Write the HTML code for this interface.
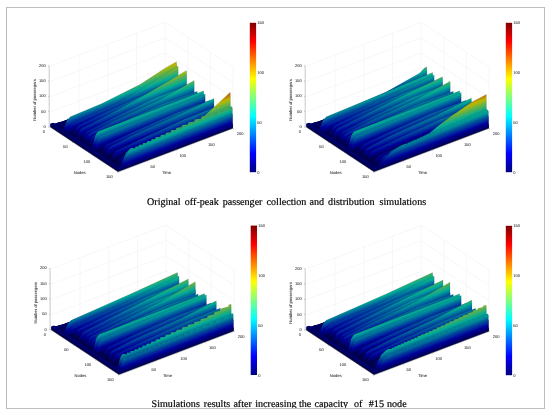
<!DOCTYPE html>
<html><head><meta charset="utf-8"><title>Figure</title>
<style>
html,body{margin:0;padding:0;background:#fff;}
body{width:550px;height:415px;overflow:hidden;position:relative;}
svg{position:absolute;left:0;top:0;display:block;}
.tk{font-family:"Liberation Sans",Arial,sans-serif;font-size:4px;fill:#303030;text-rendering:geometricPrecision;stroke:#303030;stroke-width:0.06px;}
.cap{font-family:"Liberation Serif","Times New Roman",serif;fill:#000;text-rendering:geometricPrecision;stroke:#000;stroke-width:0.18px;}
</style></head><body>
<svg width="550" height="415" viewBox="0 0 550 415">
<defs>
<linearGradient id="jet" gradientUnits="userSpaceOnUse" x1="0" y1="0" x2="-14.62" y2="-38.52"><stop offset="0%" stop-color="#00004c"/><stop offset="6.2%" stop-color="#000073"/><stop offset="12.5%" stop-color="#00009b"/><stop offset="18.8%" stop-color="#00289e"/><stop offset="25%" stop-color="#00519d"/><stop offset="31.2%" stop-color="#007d9b"/><stop offset="37.5%" stop-color="#00aa98"/><stop offset="43.8%" stop-color="#2bae73"/><stop offset="50%" stop-color="#59b14e"/><stop offset="56.2%" stop-color="#88b528"/><stop offset="62.5%" stop-color="#b9b900"/><stop offset="75%" stop-color="#bf6000"/><stop offset="87.5%" stop-color="#c20000"/><stop offset="100%" stop-color="#610000"/></linearGradient>
<linearGradient id="cb" x1="0" y1="0" x2="0" y2="1"><stop offset="0%" stop-color="#800000"/><stop offset="12.5%" stop-color="#ff0000"/><stop offset="37.5%" stop-color="#ffff00"/><stop offset="62.5%" stop-color="#00ffff"/><stop offset="87.5%" stop-color="#0000ff"/><stop offset="100%" stop-color="#000080"/></linearGradient>
<clipPath id="frame"><rect x="0" y="0" width="550" height="409"/></clipPath>
</defs>
<rect x="0" y="0" width="550" height="415" fill="#fff"/>

<g><line x1="50.4" y1="127.2" x2="165.3" y2="83.6" stroke="#eeeeee" stroke-width="0.5"/>
<line x1="165.3" y1="83.6" x2="233" y2="128.3" stroke="#eeeeee" stroke-width="0.5"/>
<line x1="50.4" y1="111.9" x2="165.3" y2="68.3" stroke="#eeeeee" stroke-width="0.5"/>
<line x1="165.3" y1="68.3" x2="233" y2="113" stroke="#eeeeee" stroke-width="0.5"/>
<line x1="50.4" y1="96.6" x2="165.3" y2="53" stroke="#eeeeee" stroke-width="0.5"/>
<line x1="165.3" y1="53" x2="233" y2="97.7" stroke="#eeeeee" stroke-width="0.5"/>
<line x1="50.4" y1="81.3" x2="165.3" y2="37.7" stroke="#eeeeee" stroke-width="0.5"/>
<line x1="165.3" y1="37.7" x2="233" y2="82.4" stroke="#eeeeee" stroke-width="0.5"/>
<line x1="50.4" y1="66" x2="165.3" y2="22.4" stroke="#eeeeee" stroke-width="0.5"/>
<line x1="165.3" y1="22.4" x2="233" y2="67.1" stroke="#eeeeee" stroke-width="0.5"/>
<line x1="79.1" y1="116.3" x2="79.1" y2="55.1" stroke="#eeeeee" stroke-width="0.5"/>
<line x1="107.8" y1="105.4" x2="107.8" y2="44.2" stroke="#eeeeee" stroke-width="0.5"/>
<line x1="136.6" y1="94.5" x2="136.6" y2="33.3" stroke="#eeeeee" stroke-width="0.5"/>
<line x1="165.3" y1="83.6" x2="165.3" y2="22.4" stroke="#eeeeee" stroke-width="0.5"/>
<line x1="187.9" y1="98.5" x2="187.9" y2="37.3" stroke="#eeeeee" stroke-width="0.5"/>
<line x1="210.4" y1="113.4" x2="210.4" y2="52.2" stroke="#eeeeee" stroke-width="0.5"/>
<line x1="233" y1="128.3" x2="233" y2="67.1" stroke="#eeeeee" stroke-width="0.5"/>
<line x1="79.1" y1="116.3" x2="146.8" y2="161" stroke="#eeeeee" stroke-width="0.5"/>
<line x1="107.8" y1="105.4" x2="175.6" y2="150.1" stroke="#eeeeee" stroke-width="0.5"/>
<line x1="136.6" y1="94.5" x2="204.3" y2="139.2" stroke="#eeeeee" stroke-width="0.5"/>
<line x1="165.3" y1="83.6" x2="233" y2="128.3" stroke="#eeeeee" stroke-width="0.5"/>
<line x1="73" y1="142.1" x2="187.9" y2="98.5" stroke="#eeeeee" stroke-width="0.5"/>
<line x1="95.5" y1="157" x2="210.4" y2="113.4" stroke="#eeeeee" stroke-width="0.5"/>
<line x1="118.1" y1="171.9" x2="233" y2="128.3" stroke="#eeeeee" stroke-width="0.5"/></g>
<g fill="url(#jet)" stroke="#000820" stroke-opacity="0.35" stroke-width="0.25" stroke-linejoin="round">
<polygon transform="translate(50.4 127.2)" points="0,0 0,-3.4 2.3,-4.2 2.9,-4.2 4.6,-3.1 11.5,-5.4 114.9,-44.6 114.9,-43.6"/>
<polygon transform="translate(50.6 127.3)" points="0,0 0,-3.4 2.3,-4.2 2.9,-4.2 4,-3.4 4.6,-3.4 6.9,-4.3 11.5,-5.6 114.9,-44.8 114.9,-43.6"/>
<polygon transform="translate(50.9 127.5)" points="0,0 0,-3.4 2.3,-4.2 2.9,-4.2 4,-3.5 6.9,-4.6 11.5,-5.8 114.9,-45 114.9,-43.6"/>
<polygon transform="translate(51.1 127.6)" points="0,0 0,-3.4 2.3,-4.2 4,-3.7 6.9,-4.8 11.5,-5.9 114.9,-45.2 114.9,-43.6"/>
<polygon transform="translate(51.3 127.8)" points="0,0 0,-3.4 2.3,-4.2 2.9,-4.2 3.4,-3.8 4,-3.9 6.9,-5 11.5,-6.1 114.9,-45.3 114.9,-43.6"/>
<polygon transform="translate(51.5 127.9)" points="0,0 0,-3.4 2.3,-4.2 3.4,-3.9 6.9,-5.2 11.5,-6.2 114.9,-45.5 114.9,-43.6"/>
<polygon transform="translate(51.8 128.1)" points="0,0 0,-3.4 2.3,-4.2 3.4,-4.1 6.9,-5.4 11.5,-6.4 114.9,-45.6 114.9,-43.6"/>
<polygon transform="translate(52 128.2)" points="0,0 0,-3.4 2.3,-4.2 3.4,-4.2 6.9,-5.5 11.5,-6.5 114.9,-45.7 114.9,-43.6"/>
<polygon transform="translate(52.2 128.4)" points="0,0 0,-3.4 2.3,-4.2 2.9,-4.2 6.9,-5.7 11.5,-6.6 114.9,-45.8 114.9,-43.6"/>
<polygon transform="translate(52.4 128.5)" points="0,0 0,-3.4 6.9,-5.8 11.5,-6.7 114.9,-45.9 114.9,-43.6"/>
<polygon transform="translate(52.7 128.7)" points="0,0 0,-3.4 6.9,-6 11.5,-6.8 114.9,-46 114.9,-43.6"/>
<polygon transform="translate(52.9 128.8)" points="0,0 0,-3.4 6.9,-5.9 11.5,-6.7 114.9,-46 114.9,-43.6"/>
<polygon transform="translate(53.1 129)" points="0,0 0,-3.4 6.9,-5.8 11.5,-6.6 114.9,-45.9 114.9,-43.6"/>
<polygon transform="translate(53.3 129.1)" points="0,0 0,-3.4 2.3,-4.2 2.9,-4.2 3.4,-4.3 6.9,-5.7 11.5,-6.6 114.9,-45.8 114.9,-43.6"/>
<polygon transform="translate(53.6 129.3)" points="0,0 0,-3.4 2.3,-4.2 3.4,-4.2 6.9,-5.5 11.5,-6.5 52.3,-22 114.9,-46.2 114.9,-43.6"/>
<polygon transform="translate(53.8 129.4)" points="0,0 0,-3.4 2.3,-4.2 3.4,-4.1 6.9,-5.4 11.5,-6.4 14.9,-7.9 114.9,-46.7 114.9,-43.6"/>
<polygon transform="translate(54 129.6)" points="0,0 0,-3.4 2.3,-4.2 3.4,-4 6.9,-5.3 11.5,-6.3 12.6,-7.1 14.9,-8.3 114.9,-47.3 114.9,-43.6"/>
<polygon transform="translate(54.2 129.7)" points="0,0 0,-3.4 2.3,-4.2 2.9,-4.2 3.4,-3.8 6.9,-5.1 10.9,-6.1 12.1,-7.1 14.9,-8.8 114.9,-48 114.9,-43.6"/>
<polygon transform="translate(54.5 129.9)" points="0,0 0,-3.4 2.3,-4.2 2.9,-4.2 3.4,-3.8 4,-3.9 6.9,-5 10.3,-5.8 12.1,-7.6 14.9,-9.3 114.9,-48.7 114.9,-43.6"/>
<polygon transform="translate(54.7 130)" points="0,0 0,-3.4 2.3,-4.2 4,-3.8 6.9,-4.8 9.8,-5.6 10.3,-6 12.1,-8 14.9,-9.8 114.9,-49.5 114.9,-43.6"/>
<polygon transform="translate(54.9 130.2)" points="0,0 0,-3.4 2.3,-4.2 2.9,-4.2 4,-3.6 6.9,-4.7 9.8,-5.5 12.1,-8.5 14.9,-10.4 114.9,-50.3 114.9,-43.6"/>
<polygon transform="translate(55.1 130.3)" points="0,0 0,-3.4 2.3,-4.2 2.9,-4.2 4,-3.4 9.2,-5.1 12.1,-9 14.9,-11 114.9,-51.1 114.9,-43.6"/>
<polygon transform="translate(55.4 130.5)" points="0,0 0,-3.4 2.3,-4.2 2.9,-4.2 4,-3.4 4.6,-3.4 8.6,-4.8 9.2,-5.1 12.1,-9.5 14.9,-11.6 114.9,-52 114.9,-43.6"/>
<polygon transform="translate(55.6 130.6)" points="0,0 0,-3.4 2.3,-4.2 2.9,-4.2 4.6,-3.2 8.6,-4.6 12.1,-10.1 14.9,-12.3 114.9,-53 114.9,-43.6"/>
<polygon transform="translate(55.8 130.8)" points="0,0 0,-3.4 2.3,-4.2 2.9,-4.2 4.6,-3.1 5.2,-3.2 8.6,-4.4 12.1,-10.7 14.9,-13 114.9,-54 114.9,-43.6"/>
<polygon transform="translate(56 130.9)" points="0,0 0,-3.4 2.3,-4.2 2.9,-4.2 5.2,-2.8 8.6,-4 12.1,-8 14.9,-9.8 114.9,-49.5 114.9,-43.6"/>
<polygon transform="translate(56.3 131.1)" points="0,0 0,-3.4 2.3,-4.2 2.9,-4.2 5.2,-2.7 9.8,-4.5 12.1,-6.1 14.9,-7.5 114.9,-46.2 114.9,-43.6"/>
<polygon transform="translate(56.5 131.2)" points="0,0 0,-3.4 2.3,-4.2 2.9,-4.2 5.2,-2.7 114.9,-44.4 114.9,-43.6"/>
<polygon transform="translate(56.7 131.4)" points="0,0 0,-3.4 2.3,-4.2 2.9,-4.2 5.2,-2.7 114.9,-44.4 114.9,-43.6"/>
<polygon transform="translate(56.9 131.5)" points="0,0 0,-3.4 2.3,-4.2 2.9,-4.2 5.2,-2.7 114.9,-44.4 114.9,-43.6"/>
<polygon transform="translate(57.2 131.7)" points="0,0 0,-3.4 2.3,-4.2 2.9,-4.2 5.2,-2.7 114.9,-44.4 114.9,-43.6"/>
<polygon transform="translate(57.4 131.8)" points="0,0 0,-3.4 2.3,-4.2 2.9,-4.2 5.2,-2.7 54.6,-21.5 114.9,-44.9 114.9,-43.6"/>
<polygon transform="translate(57.6 132)" points="0,0 0,-3.4 2.3,-4.2 2.9,-4.2 5.2,-2.7 8.6,-4.2 78.7,-31.1 114.9,-45.4 114.9,-43.6"/>
<polygon transform="translate(57.8 132.1)" points="0,0 0,-3.4 2.3,-4.2 2.9,-4.2 4.6,-3.1 5.2,-3 8.6,-4.5 78.7,-31.6 114.9,-46.1 114.9,-43.6"/>
<polygon transform="translate(58.1 132.3)" points="0,0 0,-3.4 2.3,-4.2 2.9,-4.2 4.6,-3.1 5.2,-3.3 8.6,-4.9 40.2,-17 78.7,-32.1 114.9,-46.9 114.9,-43.6"/>
<polygon transform="translate(58.3 132.4)" points="0,0 0,-3.4 2.3,-4.2 2.9,-4.2 4.6,-3.2 5.7,-4 8.6,-5.3 40.2,-17.5 78.7,-32.7 114.9,-47.7 114.9,-43.6"/>
<polygon transform="translate(58.5 132.6)" points="0,0 0,-3.4 2.3,-4.2 2.9,-4.2 4,-3.4 4.6,-3.6 5.7,-4.4 8.6,-5.8 40.2,-18 78.7,-33.4 104,-44.2 114.9,-48.7 114.9,-43.6"/>
<polygon transform="translate(58.7 132.7)" points="0,0 0,-3.4 2.3,-4.2 2.9,-4.2 4,-3.4 5.7,-4.9 8.6,-6.4 40.2,-18.6 78.7,-34.2 104,-45.2 114.9,-49.8 114.9,-43.6"/>
<polygon transform="translate(59 132.9)" points="0,0 0,-3.4 2.3,-4.2 2.9,-4.2 3.4,-3.8 4,-3.8 5.7,-5.4 8.6,-6.9 40.2,-19.2 78.7,-35 104,-46.3 114.9,-50.9 114.9,-43.6"/>
<polygon transform="translate(59.2 133)" points="0,0 0,-3.4 2.3,-4.2 2.9,-4.2 3.4,-3.8 5.7,-5.9 8.6,-7.6 40.2,-19.9 78.7,-35.9 104,-47.5 114.9,-52.2 114.9,-43.6"/>
<polygon transform="translate(59.4 133.2)" points="0,0 0,-3.4 2.3,-4.2 3.4,-3.9 5.7,-6.5 8.6,-8.3 40.2,-20.7 78.7,-36.8 104,-48.8 114.9,-53.6 114.9,-43.6"/>
<polygon transform="translate(59.7 133.3)" points="0,0 0,-3.4 2.3,-4.2 3.4,-4.3 5.7,-7.1 8.6,-9 40.2,-21.5 78.7,-37.9 104,-50.2 114.9,-55.1 114.9,-43.6"/>
<polygon transform="translate(59.9 133.5)" points="0,0 0,-3.4 2.3,-4.2 2.9,-4.2 5.7,-7.8 8.6,-9.8 40.2,-22.3 78.7,-39 104,-51.7 114.9,-56.7 114.9,-43.6"/>
<polygon transform="translate(60.1 133.6)" points="0,0 0,-3.4 2.3,-4.2 2.9,-4.3 5.2,-7.9 5.7,-8.6 8.6,-10.6 40.2,-23.2 78.7,-40.2 104,-53.3 114.9,-58.3 114.9,-43.6"/>
<polygon transform="translate(60.3 133.8)" points="0,0 0,-3.4 2.3,-4.2 2.9,-4.6 5.2,-8.7 5.7,-9.3 8.6,-11.5 40.2,-24.2 78.7,-41.4 104,-54.9 114.9,-60.1 114.9,-43.6"/>
<polygon transform="translate(60.6 133.9)" points="0,0 0,-3.4 2.3,-4.2 5.2,-9.4 5.7,-10.2 8.6,-12.5 40.2,-25.2 78.7,-42.7 104,-56.7 114.9,-62 114.9,-43.6"/>
<polygon transform="translate(60.8 134.1)" points="0,0 0,-3.4 2.3,-4.2 5.2,-10.2 5.7,-11 8.6,-13.5 40.2,-26.3 78.7,-44.1 104,-58.6 114.9,-64 114.9,-43.6"/>
<polygon transform="translate(61 134.2)" points="0,0 0,-3.4 1.7,-4 2.3,-4.6 5.2,-11.1 5.7,-11.9 8.6,-14.5 40.2,-27.4 78.7,-45.6 104,-60.5 114.9,-66.1 114.9,-43.6"/>
<polygon transform="translate(61.2 134.4)" points="0,0 0,-3.4 1.7,-4 2.3,-4.9 5.2,-12 5.7,-12.9 8.6,-15.6 40.2,-28.6 78.7,-47.1 104,-62.6 114.9,-68.3 114.9,-43.6"/>
<polygon transform="translate(61.5 134.5)" points="0,0 0,-3.4 1.7,-4 5.2,-12.9 5.7,-13.9 8.6,-16.8 40.2,-29.9 78.7,-48.7 104,-64.8 114.9,-70.6 114.9,-43.6"/>
<polygon transform="translate(61.7 134.7)" points="0,0 0,-3.4 1.7,-4 5.2,-13.9 5.7,-14.9 8.6,-18 40.2,-31.2 78.7,-50.4 104,-67 114.9,-73 114.9,-43.6"/>
<polygon transform="translate(61.9 134.8)" points="0,0 0,-3.4 2.3,-4.2 2.9,-4.2 5.7,-7.8 8.6,-9.8 40.2,-22.3 78.7,-39 104,-51.7 114.9,-56.7 114.9,-43.6"/>
<polygon transform="translate(62.1 134.9)" points="0,0 0,-3.4 2.3,-4.2 2.9,-4.2 4.6,-3.1 5.2,-3.3 7.5,-4.8 10.3,-6.2 57.5,-24.9 114.9,-50.1 114.9,-43.6"/>
<polygon transform="translate(62.4 135.1)" points="0,0 0,-3.4 2.3,-4.2 2.9,-4.2 4.6,-3.2 6.9,-5.3 10.3,-7.2 57.5,-26.2 114.9,-53 114.9,-43.6"/>
<polygon transform="translate(62.6 135.2)" points="0,0 0,-3.4 2.3,-4.2 2.9,-4.2 4,-3.4 4.6,-3.7 6.9,-6.3 10.3,-8.4 57.5,-27.8 114.9,-56.3 114.9,-43.6"/>
<polygon transform="translate(62.8 135.4)" points="0,0 0,-3.4 2.3,-4.2 2.9,-4.2 4,-3.5 6.9,-7.4 10.3,-9.8 57.5,-29.6 114.9,-60.2 114.9,-43.6"/>
<polygon transform="translate(63 135.5)" points="0,0 0,-3.4 2.3,-4.2 2.9,-4.2 3.4,-3.8 4,-4 6.9,-8.7 7.5,-9.3 10.3,-11.4 57.5,-31.7 114.9,-64.7 114.9,-43.6"/>
<polygon transform="translate(63.3 135.7)" points="0,0 0,-3.4 2.3,-4.2 2.9,-4.2 3.4,-3.8 4,-4.6 6.9,-10.1 7.5,-10.8 10.3,-13.1 57.5,-34 86.2,-51.7 114.9,-69.6 114.9,-43.6"/>
<polygon transform="translate(63.5 135.8)" points="0,0 0,-3.4 2.3,-4.2 2.9,-4.2 4,-3.4 4.6,-3.5 6.9,-5.9 10.3,-8 57.5,-27.2 114.9,-55.2 114.9,-43.6"/>
<polygon transform="translate(63.7 136)" points="0,0 0,-3.4 2.3,-4.2 2.9,-4.2 5.2,-2.7 10.3,-4.9 57.5,-23.2 114.9,-46.5 114.9,-43.6"/>
<polygon transform="translate(63.9 136.1)" points="0,0 0,-3.4 2.3,-4.2 2.9,-4.2 5.2,-2.7 114.9,-44.4 114.9,-43.6"/>
<polygon transform="translate(64.2 136.3)" points="0,0 0,-3.4 2.3,-4.2 2.9,-4.2 5.2,-2.7 114.9,-44.4 114.9,-43.6"/>
<polygon transform="translate(64.4 136.4)" points="0,0 0,-3.4 2.3,-4.2 2.9,-4.2 5.2,-2.7 114.9,-44.5 114.9,-43.6"/>
<polygon transform="translate(64.6 136.6)" points="0,0 0,-3.4 2.3,-4.2 2.9,-4.2 5.2,-2.7 80.4,-31.9 114.9,-45 114.9,-43.6"/>
<polygon transform="translate(64.8 136.7)" points="0,0 0,-3.4 2.3,-4.2 2.9,-4.2 5.2,-2.7 8,-3.8 11.5,-5.5 40.2,-16.9 80.4,-32.5 114.9,-45.7 114.9,-43.6"/>
<polygon transform="translate(65.1 136.9)" points="0,0 0,-3.4 2.3,-4.2 2.9,-4.2 5.2,-2.7 7.5,-3.6 9.2,-4.8 11.5,-5.9 40.2,-17.4 80.4,-33.3 114.9,-46.4 114.9,-43.6"/>
<polygon transform="translate(65.3 137)" points="0,0 0,-3.4 2.3,-4.2 2.9,-4.2 5.2,-2.7 6.9,-3.4 9.2,-5.2 11.5,-6.4 80.4,-34.1 114.9,-47.3 114.9,-43.6"/>
<polygon transform="translate(65.5 137.2)" points="0,0 0,-3.4 2.3,-4.2 2.9,-4.2 5.2,-2.7 6.3,-3.2 6.9,-3.4 9.2,-5.7 11.5,-7 40.2,-18.8 80.4,-35.1 114.9,-48.2 114.9,-43.6"/>
<polygon transform="translate(65.7 137.3)" points="0,0 0,-3.4 2.3,-4.2 2.9,-4.2 5.2,-2.7 6.3,-3.2 9.2,-6.2 11.5,-7.6 40.2,-19.7 80.4,-36.1 114.9,-49.3 114.9,-43.6"/>
<polygon transform="translate(66 137.5)" points="0,0 0,-3.4 2.3,-4.2 2.9,-4.2 5.2,-2.7 6.3,-3.2 9.2,-6.8 11.5,-8.3 40.2,-20.6 80.4,-37.3 114.9,-50.5 114.9,-43.6"/>
<polygon transform="translate(66.2 137.6)" points="0,0 0,-3.4 2.3,-4.2 2.9,-4.2 5.2,-2.7 5.7,-2.9 6.3,-3.2 9.2,-7.4 11.5,-9 40.2,-21.6 80.4,-38.6 114.9,-51.9 114.9,-43.6"/>
<polygon transform="translate(66.4 137.8)" points="0,0 0,-3.4 2.3,-4.2 2.9,-4.2 5.2,-2.7 5.7,-2.9 6.3,-3.4 9.2,-8.1 11.5,-9.8 40.2,-22.7 80.4,-40 114.9,-53.3 114.9,-43.6"/>
<polygon transform="translate(66.6 137.9)" points="0,0 0,-3.4 2.3,-4.2 2.9,-4.2 5.2,-2.7 5.7,-2.9 6.3,-3.5 9.2,-8.9 11.5,-10.7 40.2,-23.9 80.4,-41.5 114.9,-54.8 114.9,-43.6"/>
<polygon transform="translate(66.9 138.1)" points="0,0 0,-3.4 2.3,-4.2 2.9,-4.2 5.2,-2.7 5.7,-2.9 6.3,-3.7 9.2,-9.7 11.5,-11.6 40.2,-25.2 80.4,-43.2 114.9,-56.5 114.9,-43.6"/>
<polygon transform="translate(67.1 138.2)" points="0,0 0,-3.4 2.3,-4.2 2.9,-4.2 5.2,-2.7 5.7,-2.9 6.3,-3.8 9.2,-10.5 11.5,-12.6 40.2,-26.6 80.4,-44.9 114.9,-58.3 114.9,-43.6"/>
<polygon transform="translate(67.3 138.4)" points="0,0 0,-3.4 2.3,-4.2 2.9,-4.2 5.2,-2.7 6.3,-3.2 9.2,-6.6 11.5,-8 40.2,-20.3 80.4,-36.9 114.9,-50.1 114.9,-43.6"/>
<polygon transform="translate(67.6 138.5)" points="0,0 0,-3.4 2.3,-4.2 2.9,-4.2 5.2,-2.7 80.4,-32.1 114.9,-45.2 114.9,-43.6"/>
<polygon transform="translate(67.8 138.7)" points="0,0 0,-3.4 2.3,-4.2 2.9,-4.2 5.2,-2.7 114.9,-44.4 114.9,-43.6"/>
<polygon transform="translate(68 138.8)" points="0,0 0,-3.4 2.3,-4.2 2.9,-4.2 5.2,-2.7 76.4,-29.8 114.9,-44.7 114.9,-43.6"/>
<polygon transform="translate(68.2 139)" points="0,0 0,-3.4 2.3,-4.2 2.9,-4.2 5.2,-2.7 34.5,-13.8 114.9,-45.3 114.9,-43.6"/>
<polygon transform="translate(68.5 139.1)" points="0,0 0,-3.4 2.3,-4.2 2.9,-4.2 5.2,-2.7 67.2,-27 114.9,-46.1 114.9,-43.6"/>
<polygon transform="translate(68.7 139.3)" points="0,0 0,-3.4 2.3,-4.2 2.9,-4.2 5.2,-2.7 7.5,-3.6 10.9,-5.3 67.2,-27.6 114.9,-46.9 114.9,-43.6"/>
<polygon transform="translate(68.9 139.4)" points="0,0 0,-3.4 2.3,-4.2 2.9,-4.2 5.2,-2.7 6.9,-3.4 8.6,-4.5 10.9,-5.6 67.2,-28.2 114.9,-48 114.9,-43.6"/>
<polygon transform="translate(69.1 139.6)" points="0,0 0,-3.4 2.3,-4.2 2.9,-4.2 5.2,-2.7 6.3,-3.2 8.6,-4.9 10.9,-6 67.2,-29 114.9,-49.1 114.9,-43.6"/>
<polygon transform="translate(69.4 139.7)" points="0,0 0,-3.4 2.3,-4.2 2.9,-4.2 5.2,-2.7 6.3,-3.2 8.6,-5.2 10.9,-6.4 67.2,-29.8 114.9,-50.4 114.9,-43.6"/>
<polygon transform="translate(69.6 139.9)" points="0,0 0,-3.4 2.3,-4.2 2.9,-4.2 5.2,-2.7 5.7,-2.9 6.3,-3.3 8.6,-5.6 10.9,-6.9 67.2,-30.7 114.9,-51.8 114.9,-43.6"/>
<polygon transform="translate(69.8 140)" points="0,0 0,-3.4 2.3,-4.2 2.9,-4.2 5.2,-2.7 5.7,-2.9 8.6,-6.1 10.9,-7.4 67.2,-31.7 114.9,-53.4 114.9,-43.6"/>
<polygon transform="translate(70 140.2)" points="0,0 0,-3.4 2.3,-4.2 2.9,-4.2 5.2,-2.7 5.7,-2.9 8.6,-6.6 10.9,-8 67.2,-32.7 114.9,-55.1 114.9,-43.6"/>
<polygon transform="translate(70.3 140.3)" points="0,0 0,-3.4 2.3,-4.2 2.9,-4.2 5.2,-2.7 5.7,-3 8.6,-7.1 10.9,-8.6 34.5,-19.1 67.2,-33.9 114.9,-56.9 114.9,-43.6"/>
<polygon transform="translate(70.5 140.5)" points="0,0 0,-3.4 2.3,-4.2 2.9,-4.2 5.2,-2.7 5.7,-3.1 8.6,-7.7 10.9,-9.3 34.5,-20 67.2,-35.1 114.9,-58.9 114.9,-43.6"/>
<polygon transform="translate(70.7 140.6)" points="0,0 0,-3.4 2.3,-4.2 2.9,-4.2 5.2,-2.7 5.7,-3.2 8.6,-8.3 10.9,-10 34.5,-20.9 67.2,-36.5 114.9,-61 114.9,-43.6"/>
<polygon transform="translate(70.9 140.8)" points="0,0 0,-3.4 2.3,-4.2 2.9,-4.2 5.2,-2.7 5.7,-3.3 8.6,-8.9 10.9,-10.8 34.5,-21.9 67.2,-37.9 114.9,-63.3 114.9,-43.6"/>
<polygon transform="translate(71.2 140.9)" points="0,0 0,-3.4 2.3,-4.2 2.9,-4.2 5.2,-2.7 5.7,-3.5 8.6,-9.6 10.9,-11.6 34.5,-23 67.2,-39.4 114.9,-65.7 114.9,-43.6"/>
<polygon transform="translate(71.4 141.1)" points="0,0 0,-3.4 2.3,-4.2 2.9,-4.2 5.2,-2.7 5.7,-3.6 8.6,-10.3 10.9,-12.4 34.5,-24.1 67.2,-41 114.9,-68.2 114.9,-43.6"/>
<polygon transform="translate(71.6 141.2)" points="0,0 0,-3.4 2.3,-4.2 2.9,-4.2 5.2,-2.7 5.7,-3.8 8.6,-11.1 10.9,-13.3 34.5,-25.3 67.2,-42.6 114.9,-70.8 114.9,-43.6"/>
<polygon transform="translate(71.8 141.4)" points="0,0 0,-3.4 2.3,-4.2 2.9,-4.2 5.2,-2.7 5.7,-2.9 8.6,-6.7 10.9,-8.2 67.2,-33.1 114.9,-55.7 114.9,-43.6"/>
<polygon transform="translate(72.1 141.5)" points="0,0 0,-3.4 2.3,-4.2 2.9,-4.2 5.2,-2.7 10.9,-5.2 67.2,-27.4 114.9,-46.6 114.9,-43.6"/>
<polygon transform="translate(72.3 141.7)" points="0,0 0,-3.4 2.3,-4.2 2.9,-4.2 5.2,-2.7 114.9,-44.4 114.9,-43.6"/>
<polygon transform="translate(72.5 141.8)" points="0,0 0,-3.4 2.3,-4.2 2.9,-4.2 5.2,-2.7 114.9,-44.4 114.9,-43.6"/>
<polygon transform="translate(72.7 142)" points="0,0 0,-3.4 2.3,-4.2 2.9,-4.2 5.2,-2.7 114.9,-44.4 114.9,-43.6"/>
<polygon transform="translate(73 142.1)" points="0,0 0,-3.4 2.3,-4.2 2.9,-4.2 5.2,-2.7 114.9,-44.6 114.9,-43.6"/>
<polygon transform="translate(73.2 142.2)" points="0,0 0,-3.4 2.3,-4.2 2.9,-4.2 5.2,-2.7 80.4,-32.1 114.9,-45.2 114.9,-43.6"/>
<polygon transform="translate(73.4 142.4)" points="0,0 0,-3.4 2.3,-4.2 2.9,-4.2 5.2,-2.7 8,-3.8 11.5,-5.5 80.4,-32.8 114.9,-45.8 114.9,-43.6"/>
<polygon transform="translate(73.6 142.5)" points="0,0 0,-3.4 2.3,-4.2 2.9,-4.2 5.2,-2.7 7.5,-3.6 9.2,-4.8 11.5,-5.9 40.2,-17.5 80.4,-33.6 114.9,-46.6 114.9,-43.6"/>
<polygon transform="translate(73.9 142.7)" points="0,0 0,-3.4 2.3,-4.2 2.9,-4.2 5.2,-2.7 6.9,-3.4 9.2,-5.2 11.5,-6.4 40.2,-18.2 80.4,-34.5 114.9,-47.6 114.9,-43.6"/>
<polygon transform="translate(74.1 142.8)" points="0,0 0,-3.4 2.3,-4.2 2.9,-4.2 5.2,-2.7 6.3,-3.2 6.9,-3.4 9.2,-5.7 11.5,-7 40.2,-19 80.4,-35.6 114.9,-48.6 114.9,-43.6"/>
<polygon transform="translate(74.3 143)" points="0,0 0,-3.4 2.3,-4.2 2.9,-4.2 5.2,-2.7 6.3,-3.2 9.2,-6.2 11.5,-7.6 40.2,-19.9 80.4,-36.7 114.9,-49.8 114.9,-43.6"/>
<polygon transform="translate(74.5 143.1)" points="0,0 0,-3.4 2.3,-4.2 2.9,-4.2 5.2,-2.7 6.3,-3.2 9.2,-6.8 11.5,-8.3 40.2,-20.9 80.4,-38 114.9,-51.1 114.9,-43.6"/>
<polygon transform="translate(74.8 143.3)" points="0,0 0,-3.4 2.3,-4.2 2.9,-4.2 5.2,-2.7 5.7,-2.9 6.3,-3.2 9.2,-7.4 11.5,-9 40.2,-22 80.4,-39.5 114.9,-52.6 114.9,-43.6"/>
<polygon transform="translate(75 143.4)" points="0,0 0,-3.4 2.3,-4.2 2.9,-4.2 5.2,-2.7 5.7,-2.9 6.3,-3.4 9.2,-8.1 11.5,-9.8 40.2,-23.1 80.4,-41 114.9,-54.1 114.9,-43.6"/>
<polygon transform="translate(75.2 143.6)" points="0,0 0,-3.4 2.3,-4.2 2.9,-4.2 5.2,-2.7 5.7,-2.9 6.3,-3.5 9.2,-8.9 11.5,-10.7 40.2,-24.4 80.4,-42.7 114.9,-55.8 114.9,-43.6"/>
<polygon transform="translate(75.4 143.7)" points="0,0 0,-3.4 2.3,-4.2 2.9,-4.2 5.2,-2.7 5.7,-2.9 6.3,-3.7 9.2,-9.7 11.5,-11.6 40.2,-25.7 80.4,-44.5 114.9,-57.6 114.9,-43.6"/>
<polygon transform="translate(75.7 143.9)" points="0,0 0,-3.4 2.3,-4.2 2.9,-4.2 5.2,-2.7 5.7,-2.9 6.3,-3.8 9.2,-10.5 11.5,-12.6 40.2,-27.2 80.4,-46.4 114.9,-59.5 114.9,-43.6"/>
<polygon transform="translate(75.9 144)" points="0,0 0,-3.4 2.3,-4.2 2.9,-4.2 5.2,-2.7 6.3,-3.2 9.2,-6.6 11.5,-8 40.2,-20.6 80.4,-37.6 114.9,-50.7 114.9,-43.6"/>
<polygon transform="translate(76.1 144.2)" points="0,0 0,-3.4 2.3,-4.2 2.9,-4.2 5.2,-2.7 80.4,-32.3 114.9,-45.4 114.9,-43.6"/>
<polygon transform="translate(76.4 144.3)" points="0,0 0,-3.4 2.3,-4.2 2.9,-4.2 5.2,-2.7 114.9,-44.4 114.9,-43.6"/>
<polygon transform="translate(76.6 144.5)" points="0,0 0,-3.4 2.3,-4.2 2.9,-4.2 5.2,-2.7 80.4,-31.5 114.9,-45 114.9,-43.6"/>
<polygon transform="translate(76.8 144.6)" points="0,0 0,-3.4 2.3,-4.2 2.9,-4.2 5.2,-2.7 80.4,-32.1 114.9,-45.8 114.9,-43.6"/>
<polygon transform="translate(77 144.8)" points="0,0 0,-3.4 2.3,-4.2 2.9,-4.2 5.2,-2.7 7.5,-3.6 8.6,-4.4 10.9,-5.4 80.4,-32.8 114.9,-46.7 114.9,-43.6"/>
<polygon transform="translate(77.3 144.9)" points="0,0 0,-3.4 2.3,-4.2 2.9,-4.2 5.2,-2.7 6.3,-3.2 6.9,-3.4 8.6,-4.8 10.9,-5.9 34.5,-15.4 80.4,-33.6 114.9,-47.9 114.9,-43.6"/>
<polygon transform="translate(77.5 145.1)" points="0,0 0,-3.4 2.3,-4.2 2.9,-4.2 5.2,-2.7 6.3,-3.2 8.6,-5.2 10.9,-6.4 34.5,-16.1 80.4,-34.5 114.9,-49.2 114.9,-43.6"/>
<polygon transform="translate(77.7 145.2)" points="0,0 0,-3.4 2.3,-4.2 2.9,-4.2 5.2,-2.7 5.7,-2.9 6.3,-3.3 8.6,-5.7 10.9,-7 34.5,-17 80.4,-35.6 114.9,-50.7 114.9,-43.6"/>
<polygon transform="translate(77.9 145.4)" points="0,0 0,-3.4 2.3,-4.2 2.9,-4.2 5.2,-2.7 5.7,-2.9 8.6,-6.3 10.9,-7.7 34.5,-17.9 80.4,-36.7 114.9,-52.3 114.9,-43.6"/>
<polygon transform="translate(78.2 145.5)" points="0,0 0,-3.4 2.3,-4.2 2.9,-4.2 5.2,-2.7 5.7,-2.9 8.6,-7 10.9,-8.5 34.5,-18.9 80.4,-38 114.9,-54.2 114.9,-43.6"/>
<polygon transform="translate(78.4 145.7)" points="0,0 0,-3.4 2.3,-4.2 2.9,-4.2 5.2,-2.7 5.7,-3.1 8.6,-7.7 10.9,-9.3 34.5,-20 80.4,-39.5 114.9,-56.2 114.9,-43.6"/>
<polygon transform="translate(78.6 145.8)" points="0,0 0,-3.4 2.3,-4.2 2.9,-4.2 5.2,-2.7 5.7,-3.2 8.6,-8.4 10.9,-10.2 34.5,-21.2 80.4,-41 114.9,-58.3 114.9,-43.6"/>
<polygon transform="translate(78.8 146)" points="0,0 0,-3.4 2.3,-4.2 2.9,-4.2 5.2,-2.7 5.7,-3.4 8.6,-9.2 10.9,-11.2 34.5,-22.5 80.4,-42.7 114.9,-60.7 114.9,-43.6"/>
<polygon transform="translate(79.1 146.1)" points="0,0 0,-3.4 2.3,-4.2 2.9,-4.2 5.2,-2.7 5.7,-3.6 8.6,-10.1 10.9,-12.2 34.5,-23.8 80.4,-44.5 114.9,-63.2 114.9,-43.6"/>
<polygon transform="translate(79.3 146.3)" points="0,0 0,-3.4 2.3,-4.2 2.9,-4.2 5.2,-2.7 5.7,-3.8 8.6,-11.1 10.9,-13.3 34.5,-25.3 80.4,-46.4 114.9,-65.9 114.9,-43.6"/>
<polygon transform="translate(79.5 146.4)" points="0,0 0,-3.4 2.3,-4.2 2.9,-4.2 5.2,-2.7 5.7,-2.9 8.6,-6.7 10.9,-8.2 34.5,-18.5 80.4,-37.6 114.9,-53.5 114.9,-43.6"/>
<polygon transform="translate(79.7 146.6)" points="0,0 0,-3.4 2.3,-4.2 2.9,-4.2 5.2,-2.7 10.9,-5.2 34.5,-14.4 80.4,-32.3 114.9,-46.1 114.9,-43.6"/>
<polygon transform="translate(80 146.7)" points="0,0 0,-3.4 2.3,-4.2 2.9,-4.2 5.2,-2.7 114.9,-44.4 114.9,-43.6"/>
<polygon transform="translate(80.2 146.9)" points="0,0 0,-3.4 2.3,-4.2 2.9,-4.2 5.2,-2.7 80.4,-31.7 114.9,-44.7 114.9,-43.6"/>
<polygon transform="translate(80.4 147)" points="0,0 0,-3.4 2.3,-4.2 2.9,-4.2 5.2,-2.7 8.6,-4 11.5,-5.4 80.4,-32.3 114.9,-45.3 114.9,-43.6"/>
<polygon transform="translate(80.6 147.2)" points="0,0 0,-3.4 2.3,-4.2 2.9,-4.2 5.2,-2.7 7.5,-3.6 9.2,-4.8 11.5,-5.9 40.2,-17.3 80.4,-33.1 114.9,-46.1 114.9,-43.6"/>
<polygon transform="translate(80.9 147.3)" points="0,0 0,-3.4 2.3,-4.2 2.9,-4.2 5.2,-2.7 6.9,-3.4 9.2,-5.2 11.5,-6.4 40.2,-18.1 80.4,-34 114.9,-47 114.9,-43.6"/>
<polygon transform="translate(81.1 147.5)" points="0,0 0,-3.4 2.3,-4.2 2.9,-4.2 5.2,-2.7 6.3,-3.2 6.9,-3.5 9.2,-5.8 11.5,-7.1 40.2,-19 80.4,-35.1 114.9,-48 114.9,-43.6"/>
<polygon transform="translate(81.3 147.6)" points="0,0 0,-3.4 2.3,-4.2 2.9,-4.2 5.2,-2.7 6.3,-3.2 9.2,-6.4 11.5,-7.8 40.2,-19.9 80.4,-36.3 114.9,-49.2 114.9,-43.6"/>
<polygon transform="translate(81.5 147.8)" points="0,0 0,-3.4 2.3,-4.2 2.9,-4.2 5.2,-2.7 6.3,-3.2 9.2,-7.1 11.5,-8.6 40.2,-21 80.4,-37.7 114.9,-50.5 114.9,-43.6"/>
<polygon transform="translate(81.8 147.9)" points="0,0 0,-3.4 2.3,-4.2 2.9,-4.2 5.2,-2.7 5.7,-2.9 6.3,-3.3 9.2,-7.8 11.5,-9.5 40.2,-22.2 80.4,-39.2 114.9,-51.9 114.9,-43.6"/>
<polygon transform="translate(82 148.1)" points="0,0 0,-3.4 2.3,-4.2 2.9,-4.2 5.2,-2.7 5.7,-2.9 6.3,-3.5 9.2,-8.6 11.5,-10.4 40.2,-23.6 80.4,-40.9 114.9,-53.5 114.9,-43.6"/>
<polygon transform="translate(82.2 148.2)" points="0,0 0,-3.4 2.3,-4.2 2.9,-4.2 5.2,-2.7 5.7,-2.9 6.3,-3.6 9.2,-9.5 11.5,-11.5 40.2,-25 80.4,-42.7 114.9,-55.2 114.9,-43.6"/>
<polygon transform="translate(82.4 148.4)" points="0,0 0,-3.4 2.3,-4.2 2.9,-4.2 5.2,-2.7 5.7,-2.9 6.3,-3.8 9.2,-10.5 11.5,-12.6 40.2,-26.6 80.4,-44.6 114.9,-57.1 114.9,-43.6"/>
<polygon transform="translate(82.7 148.5)" points="0,0 0,-3.4 2.3,-4.2 2.9,-4.2 5.2,-2.7 6.3,-3.2 9.2,-6.6 11.5,-8 40.2,-20.3 80.4,-36.8 114.9,-49.6 114.9,-43.6"/>
<polygon transform="translate(82.9 148.7)" points="0,0 0,-3.4 2.3,-4.2 2.9,-4.2 5.2,-2.7 80.4,-32.1 114.9,-45.1 114.9,-43.6"/>
<polygon transform="translate(83.1 148.8)" points="0,0 0,-3.4 2.3,-4.2 2.9,-4.2 5.2,-2.7 40.2,-16.5 114.9,-44.9 114.9,-43.6"/>
<polygon transform="translate(83.3 149)" points="0,0 0,-3.4 2.3,-4.2 2.9,-4.2 5.2,-2.7 8,-3.8 11.5,-5.6 40.2,-17 114.9,-45.5 114.9,-43.6"/>
<polygon transform="translate(83.6 149.1)" points="0,0 0,-3.4 2.3,-4.2 2.9,-4.2 5.2,-2.7 7.5,-3.6 9.2,-4.9 11.5,-6 40.2,-17.6 80.4,-33.2 114.9,-46.2 114.9,-43.6"/>
<polygon transform="translate(83.8 149.3)" points="0,0 0,-3.4 2.3,-4.2 2.9,-4.2 5.2,-2.7 6.9,-3.4 9.2,-5.3 11.5,-6.5 40.2,-18.3 80.4,-34 114.9,-47 114.9,-43.6"/>
<polygon transform="translate(84 149.4)" points="0,0 0,-3.4 2.3,-4.2 2.9,-4.2 5.2,-2.7 6.3,-3.2 6.9,-3.5 9.2,-5.8 11.5,-7.1 40.2,-19.1 80.4,-34.9 114.9,-47.9 114.9,-43.6"/>
<polygon transform="translate(84.2 149.6)" points="0,0 0,-3.4 2.3,-4.2 2.9,-4.2 5.2,-2.7 6.3,-3.2 9.2,-6.3 11.5,-7.7 40.2,-20 80.4,-35.9 114.9,-48.9 114.9,-43.6"/>
<polygon transform="translate(84.5 149.7)" points="0,0 0,-3.4 2.3,-4.2 2.9,-4.2 5.2,-2.7 6.3,-3.2 9.2,-6.9 11.5,-8.4 40.2,-21 80.4,-37 114.9,-50 114.9,-43.6"/>
<polygon transform="translate(84.7 149.8)" points="0,0 0,-3.4 2.3,-4.2 2.9,-4.2 5.2,-2.7 5.7,-2.9 6.3,-3.2 9.2,-7.6 11.5,-9.2 40.2,-22.1 80.4,-38.3 114.9,-51.2 114.9,-43.6"/>
<polygon transform="translate(84.9 150)" points="0,0 0,-3.4 2.3,-4.2 2.9,-4.2 5.2,-2.7 5.7,-2.9 6.3,-3.4 9.2,-8.3 11.5,-10 40.2,-23.3 80.4,-39.6 114.9,-52.5 114.9,-43.6"/>
<polygon transform="translate(85.2 150.1)" points="0,0 0,-3.4 2.3,-4.2 2.9,-4.2 5.2,-2.7 5.7,-2.9 6.3,-3.5 9.2,-9.1 11.5,-10.9 40.2,-24.6 80.4,-41.1 114.9,-53.9 114.9,-43.6"/>
<polygon transform="translate(85.4 150.3)" points="0,0 0,-3.4 2.3,-4.2 2.9,-4.2 5.2,-2.7 5.7,-2.9 6.3,-3.7 9.2,-9.9 11.5,-11.9 40.2,-26 80.4,-42.6 114.9,-55.4 114.9,-43.6"/>
<polygon transform="translate(85.6 150.4)" points="0,0 0,-3.4 2.3,-4.2 2.9,-4.2 5.2,-2.7 5.7,-2.9 6.3,-3.9 9.2,-10.8 11.5,-12.9 40.2,-27.5 80.4,-44.3 114.9,-57.1 114.9,-43.6"/>
<polygon transform="translate(85.8 150.6)" points="0,0 0,-3.4 2.3,-4.2 2.9,-4.2 5.2,-2.7 6.3,-3.2 9.2,-6.7 11.5,-8.2 40.2,-20.7 80.4,-36.6 114.9,-49.6 114.9,-43.6"/>
<polygon transform="translate(86.1 150.7)" points="0,0 0,-3.4 2.3,-4.2 2.9,-4.2 5.2,-2.7 40.2,-16.6 114.9,-45.1 114.9,-43.6"/>
<polygon transform="translate(86.3 150.9)" points="0,0 0,-3.4 2.3,-4.2 2.9,-4.2 5.2,-2.7 114.9,-44.4 114.9,-43.6"/>
<polygon transform="translate(86.5 151)" points="0,0 0,-3.4 2.3,-4.2 2.9,-4.2 5.2,-2.7 114.9,-44.4 114.9,-43.6"/>
<polygon transform="translate(86.7 151.2)" points="0,0 0,-3.4 2.3,-4.2 2.9,-4.2 5.2,-2.7 9.2,-4.6 114.9,-44.7 114.9,-43.6"/>
<polygon transform="translate(87 151.3)" points="0,0 0,-3.4 2.3,-4.2 2.9,-4.2 4.6,-3.1 5.2,-3 6.9,-4.3 9.2,-5.4 114.9,-45.6 114.9,-43.6"/>
<polygon transform="translate(87.2 151.5)" points="0,0 0,-3.4 2.3,-4.2 2.9,-4.2 4.6,-3.1 6.9,-5.2 9.2,-6.5 114.9,-46.7 114.9,-43.6"/>
<polygon transform="translate(87.4 151.6)" points="0,0 0,-3.4 2.3,-4.2 2.9,-4.2 4,-3.4 4.6,-3.5 6.9,-6.4 9.2,-7.8 114.9,-48.1 114.9,-43.6"/>
<polygon transform="translate(87.6 151.8)" points="0,0 0,-3.4 2.3,-4.2 2.9,-4.2 4,-3.4 6.9,-7.7 9.2,-9.4 114.9,-49.7 114.9,-43.6"/>
<polygon transform="translate(87.9 151.9)" points="0,0 0,-3.4 2.3,-4.2 4,-3.7 6.9,-9.3 9.2,-11.2 114.9,-51.6 114.9,-43.6"/>
<polygon transform="translate(88.1 152.1)" points="0,0 0,-3.4 2.3,-4.2 2.9,-4.2 3.4,-3.8 4,-4.3 6.9,-11.1 9.2,-13.3 114.9,-53.8 114.9,-43.6"/>
<polygon transform="translate(88.3 152.2)" points="0,0 0,-3.4 2.3,-4.2 2.9,-4.2 3.4,-3.8 4,-4.9 6.3,-11.8 6.9,-13.1 9.2,-15.6 114.9,-56.1 114.9,-43.6"/>
<polygon transform="translate(88.5 152.4)" points="0,0 0,-3.4 2.3,-4.2 2.9,-4.2 3.4,-3.8 6.3,-13.8 6.9,-15.3 9.2,-18.1 114.9,-58.8 114.9,-43.6"/>
<polygon transform="translate(88.8 152.5)" points="0,0 0,-3.4 2.3,-4.2 3.4,-3.9 6.3,-16 6.9,-17.7 9.2,-20.9 114.9,-61.7 114.9,-43.6"/>
<polygon transform="translate(89 152.7)" points="0,0 0,-3.4 2.3,-4.2 4,-3.7 6.9,-9.3 9.2,-11.2 114.9,-51.6 114.9,-43.6"/>
<polygon transform="translate(89.2 152.8)" points="0,0 0,-3.4 2.3,-4.2 2.9,-4.2 4.6,-3.1 5.2,-3 6.9,-4.3 9.2,-5.4 114.9,-45.8 114.9,-43.6"/>
<polygon transform="translate(89.4 153)" points="0,0 0,-3.4 2.3,-4.2 2.9,-4.2 4.6,-3.1 5.2,-3.4 7.5,-5.8 9.8,-7.1 114.9,-47.6 114.9,-43.6"/>
<polygon transform="translate(89.7 153.1)" points="0,0 0,-3.4 2.3,-4.2 2.9,-4.2 4.6,-3.3 7.5,-7.5 9.8,-9.1 114.9,-49.8 114.9,-43.6"/>
<polygon transform="translate(89.9 153.3)" points="0,0 0,-3.4 2.3,-4.2 2.9,-4.2 4,-3.4 4.6,-3.9 7.5,-9.5 9.8,-11.5 114.9,-52.6 114.9,-43.6"/>
<polygon transform="translate(90.1 153.4)" points="0,0 0,-3.4 2.3,-4.2 2.9,-4.2 4,-3.4 7.5,-11.9 9.8,-14.2 114.9,-55.8 114.9,-43.6"/>
<polygon transform="translate(90.3 153.6)" points="0,0 0,-3.4 2.3,-4.2 2.9,-4.2 4,-3.6 6.9,-13.3 7.5,-14.7 9.8,-17.5 114.9,-59.5 114.9,-43.6"/>
<polygon transform="translate(90.6 153.7)" points="0,0 0,-3.4 2.3,-4.2 2.9,-4.2 4,-3.4 4.6,-3.5 7.5,-8.1 9.8,-9.8 114.9,-50.7 114.9,-43.6"/>
<polygon transform="translate(90.8 153.9)" points="0,0 0,-3.4 2.3,-4.2 2.9,-4.2 5.2,-2.7 7.5,-4.2 9.8,-5.2 114.9,-45.4 114.9,-43.6"/>
<polygon transform="translate(91 154)" points="0,0 0,-3.4 2.3,-4.2 2.9,-4.2 5.2,-2.7 114.9,-44.4 114.9,-43.6"/>
<polygon transform="translate(91.2 154.2)" points="0,0 0,-3.4 2.3,-4.2 2.9,-4.2 5.2,-2.7 114.9,-44.4 114.9,-43.6"/>
<polygon transform="translate(91.5 154.3)" points="0,0 0,-3.4 2.3,-4.2 2.9,-4.2 5.2,-2.7 114.9,-44.4 114.9,-43.6"/>
<polygon transform="translate(91.7 154.5)" points="0,0 0,-3.4 2.3,-4.2 2.9,-4.2 5.2,-2.7 114.9,-44.4 114.9,-43.6"/>
<polygon transform="translate(91.9 154.6)" points="0,0 0,-3.4 2.3,-4.2 2.9,-4.2 5.2,-2.7 114.9,-44.4 114.9,-43.6"/>
<polygon transform="translate(92.1 154.8)" points="0,0 0,-3.4 2.3,-4.2 2.9,-4.2 5.2,-2.7 114.9,-44.6 114.9,-43.6"/>
<polygon transform="translate(92.4 154.9)" points="0,0 0,-3.4 2.3,-4.2 2.9,-4.2 5.2,-2.7 80.4,-31.9 114.9,-45 114.9,-43.6"/>
<polygon transform="translate(92.6 155.1)" points="0,0 0,-3.4 2.3,-4.2 2.9,-4.2 5.2,-2.7 8.6,-4 12.1,-5.7 40.2,-16.8 80.4,-32.5 114.9,-45.5 114.9,-43.6"/>
<polygon transform="translate(92.8 155.2)" points="0,0 0,-3.4 2.3,-4.2 2.9,-4.2 5.2,-2.7 8,-3.8 9.8,-5 12.1,-6.1 40.2,-17.3 80.4,-33.1 114.9,-46.1 114.9,-43.6"/>
<polygon transform="translate(93.1 155.4)" points="0,0 0,-3.4 2.3,-4.2 2.9,-4.2 5.2,-2.7 7.5,-3.6 9.8,-5.3 12.1,-6.5 40.2,-17.9 80.4,-33.7 114.9,-46.8 114.9,-43.6"/>
<polygon transform="translate(93.3 155.5)" points="0,0 0,-3.4 2.3,-4.2 2.9,-4.2 5.2,-2.7 7.5,-3.6 9.8,-5.7 12.1,-6.9 40.2,-18.5 80.4,-34.5 114.9,-47.6 114.9,-43.6"/>
<polygon transform="translate(93.5 155.7)" points="0,0 0,-3.4 2.3,-4.2 2.9,-4.2 5.2,-2.7 6.9,-3.4 7.5,-3.7 9.8,-6.1 12.1,-7.4 40.2,-19.1 80.4,-35.3 114.9,-48.4 114.9,-43.6"/>
<polygon transform="translate(93.7 155.8)" points="0,0 0,-3.4 2.3,-4.2 2.9,-4.2 5.2,-2.7 6.9,-3.4 9.8,-6.6 12.1,-8 40.2,-19.9 80.4,-36.2 114.9,-49.3 114.9,-43.6"/>
<polygon transform="translate(94 156)" points="0,0 0,-3.4 2.3,-4.2 2.9,-4.2 5.2,-2.7 6.9,-3.4 9.8,-7.1 12.1,-8.6 40.2,-20.7 80.4,-37.2 114.9,-50.3 114.9,-43.6"/>
<polygon transform="translate(94.2 156.1)" points="0,0 0,-3.4 2.3,-4.2 2.9,-4.2 5.2,-2.7 6.3,-3.2 6.9,-3.4 9.8,-7.6 12.1,-9.2 40.2,-21.6 80.4,-38.3 114.9,-51.4 114.9,-43.6"/>
<polygon transform="translate(94.4 156.3)" points="0,0 0,-3.4 2.3,-4.2 2.9,-4.2 5.2,-2.7 6.3,-3.2 6.9,-3.6 9.8,-8.2 12.1,-9.9 40.2,-22.5 80.4,-39.4 114.9,-52.5 114.9,-43.6"/>
<polygon transform="translate(94.6 156.4)" points="0,0 0,-3.4 2.3,-4.2 2.9,-4.2 5.2,-2.7 6.3,-3.2 6.9,-3.7 9.8,-8.8 12.1,-10.6 40.2,-23.5 80.4,-40.7 114.9,-53.8 114.9,-43.6"/>
<polygon transform="translate(94.9 156.6)" points="0,0 0,-3.4 2.3,-4.2 2.9,-4.2 5.2,-2.7 6.3,-3.2 6.9,-3.8 9.8,-9.5 12.1,-11.4 40.2,-24.5 80.4,-42 114.9,-55.1 114.9,-43.6"/>
<polygon transform="translate(95.1 156.7)" points="0,0 0,-3.4 2.3,-4.2 2.9,-4.2 5.2,-2.7 6.3,-3.2 6.9,-4 9.8,-10.2 12.1,-12.2 40.2,-25.7 80.4,-43.4 114.9,-56.5 114.9,-43.6"/>
<polygon transform="translate(95.3 156.9)" points="0,0 0,-3.4 2.3,-4.2 2.9,-4.2 5.2,-2.7 6.9,-3.4 9.8,-6.6 12.1,-8 40.2,-19.9 80.4,-36.2 114.9,-49.3 114.9,-43.6"/>
<polygon transform="translate(95.5 157)" points="0,0 0,-3.4 2.3,-4.2 2.9,-4.2 5.2,-2.7 80.4,-31.9 114.9,-45 114.9,-43.6"/>
<polygon transform="translate(95.8 157.1)" points="0,0 0,-3.4 2.3,-4.2 2.9,-4.2 5.2,-2.7 114.9,-44.4 114.9,-43.6"/>
<polygon transform="translate(96 157.3)" points="0,0 0,-3.4 2.3,-4.2 2.9,-4.2 5.2,-2.7 114.9,-44.5 114.9,-43.6"/>
<polygon transform="translate(96.2 157.4)" points="0,0 0,-3.4 2.3,-4.2 2.9,-4.2 5.2,-2.7 114.9,-44.9 114.9,-43.6"/>
<polygon transform="translate(96.4 157.6)" points="0,0 0,-3.4 2.3,-4.2 2.9,-4.2 5.2,-2.7 34.5,-14.4 114.9,-45.5 114.9,-43.6"/>
<polygon transform="translate(96.7 157.7)" points="0,0 0,-3.4 2.3,-4.2 2.9,-4.2 5.2,-2.7 8,-3.8 9.2,-4.6 11.5,-5.7 34.5,-14.8 114.9,-46.2 114.9,-43.6"/>
<polygon transform="translate(96.9 157.9)" points="0,0 0,-3.4 2.3,-4.2 2.9,-4.2 5.2,-2.7 7.5,-3.6 9.2,-4.9 11.5,-6.1 34.5,-15.4 114.9,-47 114.9,-43.6"/>
<polygon transform="translate(97.1 158)" points="0,0 0,-3.4 2.3,-4.2 2.9,-4.2 5.2,-2.7 6.9,-3.4 9.2,-5.3 11.5,-6.5 31,-14.6 114.9,-48 114.9,-43.6"/>
<polygon transform="translate(97.3 158.2)" points="0,0 0,-3.4 2.3,-4.2 2.9,-4.2 5.2,-2.7 6.3,-3.2 6.9,-3.4 9.2,-5.7 11.5,-7 34.5,-16.7 114.9,-49 114.9,-43.6"/>
<polygon transform="translate(97.6 158.3)" points="0,0 0,-3.4 2.3,-4.2 2.9,-4.2 5.2,-2.7 6.3,-3.2 9.2,-6.2 11.5,-7.6 34.5,-17.4 114.9,-50.1 114.9,-43.6"/>
<polygon transform="translate(97.8 158.5)" points="0,0 0,-3.4 2.3,-4.2 2.9,-4.2 5.2,-2.7 6.3,-3.2 9.2,-6.7 11.5,-8.2 34.5,-18.2 114.9,-51.4 114.9,-43.6"/>
<polygon transform="translate(98 158.6)" points="0,0 0,-3.4 2.3,-4.2 2.9,-4.2 5.2,-2.7 6.3,-3.2 9.2,-7.3 11.5,-8.8 34.5,-19.1 80.4,-38.2 114.9,-52.7 114.9,-43.6"/>
<polygon transform="translate(98.2 158.8)" points="0,0 0,-3.4 2.3,-4.2 2.9,-4.2 5.2,-2.7 5.7,-2.9 6.3,-3.3 9.2,-7.9 11.5,-9.5 34.5,-20.1 80.4,-39.4 114.9,-54.2 114.9,-43.6"/>
<polygon transform="translate(98.5 158.9)" points="0,0 0,-3.4 2.3,-4.2 2.9,-4.2 5.2,-2.7 5.7,-2.9 6.3,-3.4 9.2,-8.5 11.5,-10.3 34.5,-21.2 80.4,-40.7 114.9,-55.7 114.9,-43.6"/>
<polygon transform="translate(98.7 159.1)" points="0,0 0,-3.4 2.3,-4.2 2.9,-4.2 5.2,-2.7 5.7,-2.9 6.3,-3.6 9.2,-9.2 11.5,-11.1 34.5,-22.3 80.4,-42.1 114.9,-57.4 114.9,-43.6"/>
<polygon transform="translate(98.9 159.2)" points="0,0 0,-3.4 2.3,-4.2 2.9,-4.2 5.2,-2.7 5.7,-2.9 6.3,-3.7 9.2,-10 11.5,-12 34.5,-23.5 80.4,-43.6 114.9,-59.2 114.9,-43.6"/>
<polygon transform="translate(99.1 159.4)" points="0,0 0,-3.4 2.3,-4.2 2.9,-4.2 5.2,-2.7 5.7,-2.9 6.3,-3.9 9.2,-10.8 11.5,-12.9 34.5,-24.7 80.4,-45.2 114.9,-61 114.9,-43.6"/>
<polygon transform="translate(99.4 159.5)" points="0,0 0,-3.4 2.3,-4.2 2.9,-4.2 5.2,-2.7 6.3,-3.2 9.2,-6.7 11.5,-8.2 34.5,-18.2 114.9,-51.4 114.9,-43.6"/>
<polygon transform="translate(99.6 159.7)" points="0,0 0,-3.4 2.3,-4.2 2.9,-4.2 5.2,-2.7 34.5,-14.4 114.9,-45.5 114.9,-43.6"/>
<polygon transform="translate(99.8 159.8)" points="0,0 0,-3.4 2.3,-4.2 2.9,-4.2 5.2,-2.7 114.9,-44.4 114.9,-43.6"/>
<polygon transform="translate(100 160)" points="0,0 0,-3.4 2.3,-4.2 2.9,-4.2 5.2,-2.7 114.9,-44.4 114.9,-43.6"/>
<polygon transform="translate(100.3 160.1)" points="0,0 0,-3.4 2.3,-4.2 2.9,-4.2 5.2,-2.7 114.9,-44.4 114.9,-43.6"/>
<polygon transform="translate(100.5 160.3)" points="0,0 0,-3.4 2.3,-4.2 2.9,-4.2 5.2,-2.7 114.9,-44.4 114.9,-43.6"/>
<polygon transform="translate(100.7 160.4)" points="0,0 0,-3.4 2.3,-4.2 2.9,-4.2 5.2,-2.7 114.9,-44.4 114.9,-43.6"/>
<polygon transform="translate(100.9 160.6)" points="0,0 0,-3.4 2.3,-4.2 2.9,-4.2 5.2,-2.7 114.9,-44.4 114.9,-43.6"/>
<polygon transform="translate(101.2 160.7)" points="0,0 0,-3.4 2.3,-4.2 2.9,-4.2 5.2,-2.7 114.9,-44.5 114.9,-43.6"/>
<polygon transform="translate(101.4 160.9)" points="0,0 0,-3.4 2.3,-4.2 2.9,-4.2 5.2,-2.7 114.9,-44.9 114.9,-43.6"/>
<polygon transform="translate(101.6 161)" points="0,0 0,-3.4 2.3,-4.2 2.9,-4.2 5.2,-2.7 80.4,-32.2 114.9,-45.3 114.9,-43.6"/>
<polygon transform="translate(101.9 161.2)" points="0,0 0,-3.4 2.3,-4.2 2.9,-4.2 5.2,-2.7 8.6,-4 12.1,-5.8 40.2,-16.9 80.4,-32.7 114.9,-45.9 114.9,-43.6"/>
<polygon transform="translate(102.1 161.3)" points="0,0 0,-3.4 2.3,-4.2 2.9,-4.2 5.2,-2.7 8,-3.8 9.8,-5 12.1,-6.1 40.2,-17.4 80.4,-33.2 114.9,-46.5 114.9,-43.6"/>
<polygon transform="translate(102.3 161.5)" points="0,0 0,-3.4 2.3,-4.2 2.9,-4.2 5.2,-2.7 7.5,-3.6 9.8,-5.3 12.1,-6.5 80.4,-33.9 114.9,-47.1 114.9,-43.6"/>
<polygon transform="translate(102.5 161.6)" points="0,0 0,-3.4 2.3,-4.2 2.9,-4.2 5.2,-2.7 7.5,-3.6 9.8,-5.7 12.1,-6.9 80.4,-34.6 114.9,-47.9 114.9,-43.6"/>
<polygon transform="translate(102.8 161.8)" points="0,0 0,-3.4 2.3,-4.2 2.9,-4.2 5.2,-2.7 6.9,-3.4 7.5,-3.7 9.8,-6 12.1,-7.3 80.4,-35.4 114.9,-48.7 114.9,-43.6"/>
<polygon transform="translate(103 161.9)" points="0,0 0,-3.4 2.3,-4.2 2.9,-4.2 5.2,-2.7 6.9,-3.4 9.8,-6.5 12.1,-7.8 40.2,-19.7 80.4,-36.2 114.9,-49.5 114.9,-43.6"/>
<polygon transform="translate(103.2 162.1)" points="0,0 0,-3.4 2.3,-4.2 2.9,-4.2 5.2,-2.7 6.9,-3.4 9.8,-6.9 12.1,-8.3 40.2,-20.4 80.4,-37.1 114.9,-50.5 114.9,-43.6"/>
<polygon transform="translate(103.4 162.2)" points="0,0 0,-3.4 2.3,-4.2 2.9,-4.2 5.2,-2.7 6.9,-3.4 9.8,-7.4 12.1,-8.9 40.2,-21.1 80.4,-38.1 114.9,-51.5 114.9,-43.6"/>
<polygon transform="translate(103.7 162.4)" points="0,0 0,-3.4 2.3,-4.2 2.9,-4.2 5.2,-2.7 6.3,-3.2 6.9,-3.5 9.8,-7.9 12.1,-9.5 40.2,-21.9 80.4,-39.1 114.9,-52.6 114.9,-43.6"/>
<polygon transform="translate(103.9 162.5)" points="0,0 0,-3.4 2.3,-4.2 2.9,-4.2 5.2,-2.7 6.3,-3.2 6.9,-3.6 9.8,-8.4 12.1,-10.1 40.2,-22.8 80.4,-40.2 114.9,-53.8 114.9,-43.6"/>
<polygon transform="translate(104.1 162.7)" points="0,0 0,-3.4 2.3,-4.2 2.9,-4.2 5.2,-2.7 6.3,-3.2 6.9,-3.7 9.8,-9 12.1,-10.8 40.2,-23.7 80.4,-41.4 114.9,-55 114.9,-43.6"/>
<polygon transform="translate(104.3 162.8)" points="0,0 0,-3.4 2.3,-4.2 2.9,-4.2 5.2,-2.7 6.3,-3.2 6.9,-3.8 9.8,-9.6 12.1,-11.5 40.2,-24.6 80.4,-42.7 114.9,-56.3 114.9,-43.6"/>
<polygon transform="translate(104.6 163)" points="0,0 0,-3.4 2.3,-4.2 2.9,-4.2 5.2,-2.7 6.3,-3.2 6.9,-4 9.8,-10.2 12.1,-12.2 40.2,-25.7 80.4,-44 114.9,-57.7 114.9,-43.6"/>
<polygon transform="translate(104.8 163.1)" points="0,0 0,-3.4 2.3,-4.2 2.9,-4.2 5.2,-2.7 6.9,-3.4 9.8,-6.6 12.1,-8 40.2,-19.9 80.4,-36.5 114.9,-49.9 114.9,-43.6"/>
<polygon transform="translate(105 163.3)" points="0,0 0,-3.4 2.3,-4.2 2.9,-4.2 5.2,-2.7 80.4,-32 114.9,-45.2 114.9,-43.6"/>
<polygon transform="translate(105.2 163.4)" points="0,0 0,-3.4 2.3,-4.2 2.9,-4.2 5.2,-2.7 114.9,-44.4 114.9,-43.6"/>
<polygon transform="translate(105.5 163.6)" points="0,0 0,-3.4 2.3,-4.2 2.9,-4.2 5.2,-2.7 114.9,-44.4 114.9,-43.6"/>
<polygon transform="translate(105.7 163.7)" points="0,0 0,-3.4 2.3,-4.2 2.9,-4.2 5.2,-2.7 114.9,-44.4 114.9,-43.6"/>
<polygon transform="translate(105.9 163.9)" points="0,0 0,-3.4 2.3,-4.2 2.9,-4.2 5.2,-2.7 114.9,-44.4 114.9,-43.6"/>
<polygon transform="translate(106.1 164)" points="0,0 0,-3.4 2.3,-4.2 2.9,-4.2 5.2,-2.7 114.9,-44.4 114.9,-43.6"/>
<polygon transform="translate(106.4 164.2)" points="0,0 0,-3.4 2.3,-4.2 2.9,-4.2 5.2,-2.7 114.9,-44.4 114.9,-43.6"/>
<polygon transform="translate(106.6 164.3)" points="0,0 0,-3.4 2.3,-4.2 2.9,-4.2 5.2,-2.7 114.9,-44.4 114.9,-43.6"/>
<polygon transform="translate(106.8 164.5)" points="0,0 0,-3.4 2.3,-4.2 2.9,-4.2 5.2,-2.7 114.9,-44.4 114.9,-43.6"/>
<polygon transform="translate(107 164.6)" points="0,0 0,-3.4 2.3,-4.2 2.9,-4.2 5.2,-2.7 114.9,-44.4 114.9,-43.6"/>
<polygon transform="translate(107.3 164.7)" points="0,0 0,-3.4 2.3,-4.2 2.9,-4.2 5.2,-2.7 114.9,-44.4 114.9,-43.6"/>
<polygon transform="translate(107.5 164.9)" points="0,0 0,-3.4 2.3,-4.2 2.9,-4.2 5.2,-2.7 114.9,-44.4 114.9,-43.6"/>
<polygon transform="translate(107.7 165)" points="0,0 0,-3.4 2.3,-4.2 2.9,-4.2 5.2,-2.7 114.9,-44.4 114.9,-43.6"/>
<polygon transform="translate(107.9 165.2)" points="0,0 0,-3.4 2.3,-4.2 2.9,-4.2 5.2,-2.7 114.9,-44.8 114.9,-43.6"/>
<polygon transform="translate(108.2 165.3)" points="0,0 0,-3.4 2.3,-4.2 2.9,-4.2 5.2,-2.7 114.9,-45.3 114.9,-43.6"/>
<polygon transform="translate(108.4 165.5)" points="0,0 0,-3.4 2.3,-4.2 2.9,-4.2 5.2,-2.7 8.6,-4 12.1,-5.7 40.2,-16.8 114.9,-45.9 114.9,-43.6"/>
<polygon transform="translate(108.6 165.6)" points="0,0 0,-3.4 2.3,-4.2 2.9,-4.2 5.2,-2.7 8,-3.8 9.8,-5 12.1,-6.1 114.9,-46.7 114.9,-43.6"/>
<polygon transform="translate(108.8 165.8)" points="0,0 0,-3.4 2.3,-4.2 2.9,-4.2 5.2,-2.7 7.5,-3.6 9.8,-5.4 12.1,-6.5 40.2,-17.9 114.9,-47.5 114.9,-43.6"/>
<polygon transform="translate(109.1 165.9)" points="0,0 0,-3.4 2.3,-4.2 2.9,-4.2 5.2,-2.7 7.5,-3.6 9.8,-5.7 12.1,-7 40.2,-18.5 114.9,-48.4 114.9,-43.6"/>
<polygon transform="translate(109.3 166.1)" points="0,0 0,-3.4 2.3,-4.2 2.9,-4.2 5.2,-2.7 6.9,-3.4 7.5,-3.8 9.8,-6.2 12.1,-7.5 40.2,-19.2 114.9,-49.4 114.9,-43.6"/>
<polygon transform="translate(109.5 166.2)" points="0,0 0,-3.4 2.3,-4.2 2.9,-4.2 5.2,-2.7 6.9,-3.4 9.8,-6.6 12.1,-8 40.2,-19.9 114.9,-50.5 114.9,-43.6"/>
<polygon transform="translate(109.8 166.4)" points="0,0 0,-3.4 2.3,-4.2 2.9,-4.2 5.2,-2.7 6.9,-3.4 9.8,-7.1 12.1,-8.6 40.2,-20.7 114.9,-51.7 114.9,-43.6"/>
<polygon transform="translate(110 166.5)" points="0,0 0,-3.4 2.3,-4.2 2.9,-4.2 5.2,-2.7 6.3,-3.2 6.9,-3.5 9.8,-7.7 12.1,-9.3 40.2,-21.6 114.9,-53 114.9,-43.6"/>
<polygon transform="translate(110.2 166.7)" points="0,0 0,-3.4 2.3,-4.2 2.9,-4.2 5.2,-2.7 6.3,-3.2 6.9,-3.6 9.8,-8.3 12.1,-10 40.2,-22.5 114.9,-54.4 114.9,-43.6"/>
<polygon transform="translate(110.4 166.8)" points="0,0 0,-3.4 2.3,-4.2 2.9,-4.2 5.2,-2.7 6.3,-3.2 6.9,-3.7 9.8,-8.9 12.1,-10.7 40.2,-23.5 114.9,-55.8 114.9,-43.6"/>
<polygon transform="translate(110.7 167)" points="0,0 0,-3.4 2.3,-4.2 2.9,-4.2 5.2,-2.7 6.9,-3.4 7.5,-3.7 9.8,-6 12.1,-7.3 40.2,-18.9 114.9,-49 114.9,-43.6"/>
<polygon transform="translate(110.9 167.1)" points="0,0 0,-3.4 2.3,-4.2 2.9,-4.2 5.2,-2.7 114.9,-45 114.9,-43.6"/>
<polygon transform="translate(111.1 167.3)" points="0,0 0,-3.4 2.3,-4.2 2.9,-4.2 5.2,-2.7 114.9,-44.4 114.9,-43.6"/>
<polygon transform="translate(111.3 167.4)" points="0,0 0,-3.4 2.3,-4.2 2.9,-4.2 5.2,-2.7 114.9,-44.4 114.9,-43.6"/>
<polygon transform="translate(111.6 167.6)" points="0,0 0,-3.4 2.3,-4.2 2.9,-4.2 5.2,-2.7 114.9,-44.4 114.9,-43.6"/>
<polygon transform="translate(111.8 167.7)" points="0,0 0,-3.4 2.3,-4.2 2.9,-4.2 5.2,-2.7 114.9,-44.4 114.9,-43.6"/>
<polygon transform="translate(112 167.9)" points="0,0 0,-3.4 2.3,-4.2 2.9,-4.2 5.2,-2.7 114.9,-44.4 114.9,-43.6"/>
<polygon transform="translate(112.2 168)" points="0,0 0,-3.4 2.3,-4.2 2.9,-4.2 5.2,-2.7 114.9,-44.4 114.9,-43.6"/>
<polygon transform="translate(112.5 168.2)" points="0,0 0,-3.4 2.3,-4.2 2.9,-4.2 5.2,-2.7 91.3,-35.4 114.9,-44.8 114.9,-43.6"/>
<polygon transform="translate(112.7 168.3)" points="0,0 0,-3.4 2.3,-4.2 2.9,-4.2 5.2,-2.7 36.2,-14.5 86.2,-33.9 114.9,-45.7 114.9,-43.6"/>
<polygon transform="translate(112.9 168.5)" points="0,0 0,-3.4 2.3,-4.2 2.9,-4.2 5.2,-2.7 86.2,-34.6 114.9,-46.9 114.9,-43.6"/>
<polygon transform="translate(113.1 168.6)" points="0,0 0,-3.4 2.3,-4.2 2.9,-4.2 5.2,-2.7 8.6,-4 13.8,-6.5 86.2,-35.4 114.9,-48.4 114.9,-43.6"/>
<polygon transform="translate(113.4 168.8)" points="0,0 0,-3.4 2.3,-4.2 2.9,-4.2 5.2,-2.7 8,-3.8 10.3,-5.4 13.8,-7 86.2,-36.3 114.9,-50.2 114.9,-43.6"/>
<polygon transform="translate(113.6 168.9)" points="0,0 0,-3.4 2.3,-4.2 2.9,-4.2 5.2,-2.7 7.5,-3.6 10.3,-5.8 13.8,-7.5 86.2,-37.4 114.9,-52.2 114.9,-43.6"/>
<polygon transform="translate(113.8 169.1)" points="0,0 0,-3.4 2.3,-4.2 2.9,-4.2 5.2,-2.7 6.9,-3.4 10.3,-6.3 13.8,-8.1 86.2,-38.7 114.9,-54.4 114.9,-43.6"/>
<polygon transform="translate(114 169.2)" points="0,0 0,-3.4 2.3,-4.2 2.9,-4.2 5.2,-2.7 6.3,-3.2 6.9,-3.4 10.3,-6.8 13.8,-8.8 86.2,-40.1 114.9,-57 114.9,-43.6"/>
<polygon transform="translate(114.3 169.4)" points="0,0 0,-3.4 2.3,-4.2 2.9,-4.2 5.2,-2.7 6.3,-3.2 10.3,-7.4 13.8,-9.6 86.2,-41.7 114.9,-59.8 114.9,-43.6"/>
<polygon transform="translate(114.5 169.5)" points="0,0 0,-3.4 2.3,-4.2 2.9,-4.2 5.2,-2.7 6.3,-3.2 10.3,-8.1 13.8,-10.4 86.2,-43.4 114.9,-62.9 114.9,-43.6"/>
<polygon transform="translate(114.7 169.7)" points="0,0 0,-3.4 2.3,-4.2 2.9,-4.2 5.2,-2.7 6.3,-3.2 10.3,-8.8 13.8,-11.3 86.2,-45.2 114.9,-66.2 114.9,-43.6"/>
<polygon transform="translate(114.9 169.8)" points="0,0 0,-3.4 2.3,-4.2 2.9,-4.2 5.2,-2.7 5.7,-2.9 6.3,-3.3 10.3,-9.6 10.9,-10.2 13.8,-12.3 86.2,-47.2 114.9,-69.8 114.9,-43.6"/>
<polygon transform="translate(115.2 170)" points="0,0 0,-3.4 2.3,-4.2 2.9,-4.2 4.6,-3.1 5.2,-3 6.3,-3.8 6.9,-4.5 10.3,-10.5 10.9,-11.1 13.8,-13.3 86.2,-49.4 114.9,-73.7 114.9,-43.6"/>
<polygon transform="translate(115.4 170.1)" points="0,0 0,-3.4 2.3,-4.2 2.9,-4.2 4,-3.4 4.6,-3.6 8,-7.3 10.3,-11.4 10.9,-12.1 13.8,-14.4 86.2,-51.7 114.9,-77.9 114.9,-43.6"/>
<polygon transform="translate(115.6 170.3)" points="0,0 0,-3.4 2.3,-4.2 2.9,-4.2 4,-3.4 8.6,-9.7 13.2,-12.8 14.4,-13.3 17.8,-13.9 18.4,-14.8 21.3,-15.4 21.8,-16.3 25.3,-17 25.9,-17.9 29.3,-18.7 29.9,-19.6 33.9,-20.5 34.5,-21.5 37.9,-22.3 38.5,-23.2 43.1,-24.3 43.7,-25.3 48.3,-26.4 48.8,-27.4 53.4,-28.6 54,-29.5 58.6,-30.8 59.2,-31.7 62.6,-32.7 64.3,-33.4 64.9,-34.1 67.2,-34.7 86.2,-43.4 114.9,-62.9 114.9,-43.6"/>
<polygon transform="translate(115.8 170.4)" points="0,0 0,-3.4 2.3,-4.2 2.9,-4.2 3.4,-3.8 4,-3.9 8.6,-11.2 9.2,-11.8 13.2,-14.6 14.4,-15.1 17.8,-15.6 18.4,-16.7 21.3,-17.1 21.8,-18.2 25.3,-18.8 25.9,-19.8 29.3,-20.5 29.9,-21.5 33.9,-22.3 34.5,-23.4 37.9,-24.1 38.5,-25.2 43.1,-26.2 43.7,-27.3 48.3,-28.3 48.8,-29.4 53.4,-30.5 54,-31.6 58.6,-32.7 59.2,-33.9 64.3,-35.2 64.9,-36.3 70.7,-37.8 71.2,-38.9 77,-40.4 77.6,-41.6 83.9,-43.3 84.5,-44.4 91.3,-46.1 91.9,-47.2 98.8,-49 99.4,-50.1 106.3,-51.9 106.9,-53 114.9,-55.1 114.9,-43.6"/>
<polygon transform="translate(116.1 170.6)" points="0,0 0,-3.4 2.3,-4.2 2.9,-4.2 3.4,-3.8 4,-4.3 8.6,-12.5 9.2,-13.2 13.2,-16.2 14.4,-16.7 17.8,-17.1 18.4,-18.3 21.3,-18.6 21.8,-19.8 25.3,-20.3 25.9,-21.5 29.3,-22 29.9,-23.3 33.9,-23.9 34.5,-25.1 37.9,-25.8 38.5,-27 43.1,-27.9 43.7,-29.1 48.3,-30 48.8,-31.3 53.4,-32.2 54,-33.5 58.6,-34.5 59.2,-35.8 64.3,-37 64.9,-38.2 70.7,-39.6 71.2,-40.9 77,-42.3 77.6,-43.6 83.9,-45.2 84.5,-46.4 91.3,-48 91.9,-49.2 98.8,-50.9 99.4,-52.1 106.3,-53.8 106.9,-55.1 114.9,-57.1 114.9,-43.6"/>
<polygon transform="translate(116.3 170.7)" points="0,0 0,-3.4 2.3,-4.2 2.9,-4.2 3.4,-3.8 4,-4.6 8.6,-13.7 9.2,-14.4 13.2,-17.7 14.4,-18.2 17.8,-18.4 18.4,-19.8 21.3,-20 21.8,-21.3 25.3,-21.7 25.9,-23 29.3,-23.5 29.9,-24.8 33.9,-25.4 34.5,-26.7 37.9,-27.2 38.5,-28.6 43.1,-29.4 43.7,-30.7 48.3,-31.5 48.8,-32.9 53.4,-33.8 54,-35.2 58.6,-36.1 59.2,-37.5 64.3,-38.6 64.9,-40 70.7,-41.3 71.2,-42.7 77,-44 77.6,-45.4 83.9,-46.9 84.5,-48.3 91.3,-49.7 91.9,-51.1 98.8,-52.6 99.4,-54 106.3,-55.6 106.9,-57 114.9,-58.8 114.9,-43.6"/>
<polygon transform="translate(116.5 170.9)" points="0,0 0,-3.4 2.3,-4.2 2.9,-4.2 3.4,-3.8 8.6,-14.8 9.2,-15.6 13.2,-19.1 14.4,-19.6 17.8,-19.7 18.4,-21.1 21.3,-21.3 21.8,-22.7 25.3,-23 25.9,-24.5 29.3,-24.8 29.9,-26.3 33.9,-26.7 34.5,-28.2 37.9,-28.6 38.5,-30.1 43.1,-30.8 43.7,-32.2 48.3,-33 48.8,-34.5 53.4,-35.2 54,-36.8 58.6,-37.6 59.2,-39.1 64.3,-40.1 64.9,-41.6 70.7,-42.8 71.2,-44.4 77,-45.6 77.6,-47.1 83.9,-48.5 84.5,-50 91.3,-51.4 91.9,-52.9 98.8,-54.2 99.4,-55.8 106.3,-57.2 106.9,-58.7 114.9,-60.5 114.9,-43.6"/>
<polygon transform="translate(116.7 171)" points="0,0 0,-3.4 2.3,-4.2 3.4,-3.9 8.6,-15.9 9.2,-16.7 13.2,-20.3 14.4,-20.8 17.8,-20.9 18.4,-22.4 21.3,-22.5 21.8,-24.1 25.3,-24.2 25.9,-25.8 29.3,-26 29.9,-27.6 33.9,-28 34.5,-29.6 37.9,-29.9 38.5,-31.5 43.1,-32.1 43.7,-33.7 48.3,-34.3 48.8,-35.9 53.4,-36.6 54,-38.2 58.6,-39 59.2,-40.6 64.3,-41.5 64.9,-43.2 70.7,-44.3 71.2,-45.9 77,-47.1 77.6,-48.8 83.9,-50.1 84.5,-51.7 91.3,-52.9 91.9,-54.5 98.8,-55.8 99.4,-57.4 106.3,-58.7 106.9,-60.4 114.9,-62 114.9,-43.6"/>
<polygon transform="translate(117 171.2)" points="0,0 0,-3.4 2.3,-4.2 3.4,-4.1 8.6,-16.9 9.2,-17.7 13.2,-21.6 14.4,-22.1 17.8,-22 18.4,-23.6 21.3,-23.6 21.8,-25.3 25.3,-25.4 25.9,-27.1 29.3,-27.2 29.9,-28.9 33.9,-29.2 34.5,-30.9 37.9,-31.1 38.5,-32.8 43.1,-33.3 43.7,-35 48.3,-35.6 48.8,-37.3 53.4,-37.9 54,-39.6 58.6,-40.3 59.2,-42.1 64.3,-42.9 64.9,-44.7 70.7,-45.7 71.2,-47.4 77,-48.5 77.6,-50.3 83.9,-51.5 84.5,-53.2 91.3,-54.3 91.9,-56.1 98.8,-57.2 99.4,-59 106.3,-60.2 106.9,-61.9 114.9,-63.5 114.9,-43.6"/>
<polygon transform="translate(117.2 171.3)" points="0,0 0,-3.4 2.3,-4.2 3.4,-4.3 8.6,-17.8 9.2,-18.7 13.2,-22.7 14.4,-23.2 17.8,-23.1 18.4,-24.8 21.3,-24.7 21.8,-26.5 25.3,-26.5 25.9,-28.3 29.3,-28.3 29.9,-30.1 33.9,-30.3 34.5,-32.1 37.9,-32.3 38.5,-34.1 43.1,-34.5 43.7,-36.3 48.3,-36.8 48.8,-38.6 53.4,-39.1 54,-41 58.6,-41.6 59.2,-43.4 64.3,-44.2 64.9,-46.1 70.7,-47 71.2,-48.9 77,-49.9 77.6,-51.7 83.9,-52.9 84.5,-54.7 91.3,-55.7 91.9,-57.5 98.8,-58.6 99.4,-60.4 106.3,-61.6 106.9,-63.4 114.9,-64.8 114.9,-43.6"/>
<polygon transform="translate(117.4 171.5)" points="0,0 0,-3.4 2.3,-4.2 3.4,-4.1 8.6,-16.9 9.2,-17.8 13.2,-21.6 14.4,-22.1 17.8,-22.1 18.4,-23.7 21.3,-23.7 21.8,-25.4 25.3,-25.5 25.9,-27.1 29.3,-27.3 29.9,-29 33.9,-29.2 34.5,-30.9 37.9,-31.2 38.5,-32.9 43.1,-33.4 43.7,-35.1 48.3,-35.6 48.8,-37.4 53.4,-38 54,-39.7 58.6,-40.4 59.2,-42.1 64.3,-43 64.9,-44.7 70.7,-45.8 71.2,-47.5 77,-48.6 77.6,-50.4 83.9,-51.6 84.5,-53.3 91.3,-54.4 91.9,-56.1 98.8,-57.3 99.4,-59.1 106.3,-60.3 106.9,-62 114.9,-63.5 114.9,-43.6"/>
<polygon transform="translate(117.6 171.6)" points="0,0 0,-3.4 2.3,-4.2 2.9,-4.2 3.4,-3.8 4,-4.4 8.6,-12.8 9.2,-13.4 13.2,-16.6 14.4,-17 17.8,-17.4 18.4,-18.6 21.3,-18.9 21.8,-20.2 25.3,-20.6 25.9,-21.9 29.3,-22.4 29.9,-23.6 33.9,-24.2 34.5,-25.5 37.9,-26.1 38.5,-27.3 43.1,-28.2 43.7,-29.4 48.3,-30.4 48.8,-31.6 53.4,-32.6 54,-33.9 58.6,-34.9 59.2,-36.1 64.3,-37.3 64.9,-38.6 70.7,-40 71.2,-41.3 77,-42.7 77.6,-44 83.9,-45.6 84.5,-46.8 91.3,-48.4 91.9,-49.7 98.8,-51.3 99.4,-52.5 106.3,-54.2 106.9,-55.5 114.9,-57.5 114.9,-43.6"/>
<polygon transform="translate(117.9 171.8)" points="0,0 0,-3.4 2.3,-4.2 2.9,-4.2 4.6,-3.1 8.6,-6.5 13.2,-9 17.8,-10.4 18.4,-10.9 21.3,-11.8 21.8,-12.3 25.3,-13.4 25.9,-13.9 29.3,-15 29.9,-15.5 33.9,-16.7 34.5,-17.3 37.9,-18.4 38.5,-19 43.1,-20.4 43.7,-21 48.3,-22.4 48.8,-23 53.4,-24.5 54,-25.1 58.6,-26.5 59.2,-27.1 64.3,-28.8 64.9,-29.4 70.7,-31.3 71.2,-31.9 77,-33.8 77.6,-34.4 83.9,-36.5 84.5,-37.1 91.3,-39.3 91.9,-39.9 98.8,-42.2 99.4,-42.8 106.3,-45.1 106.9,-45.6 114.9,-48.3 114.9,-43.6"/>
<polygon transform="translate(118.1 171.9)" points="0,0 0,0 114.9,-43.6 114.9,-43.6"/>
</g>
<line x1="49.2" y1="127.2" x2="49.2" y2="66" stroke="#777" stroke-width="0.4"/>
<line x1="50.4" y1="127.2" x2="118.1" y2="171.9" stroke="#777" stroke-width="0.4"/>
<line x1="118.1" y1="171.9" x2="233" y2="128.3" stroke="#777" stroke-width="0.4"/>
<line x1="49.2" y1="126.6" x2="48.1" y2="127.1" stroke="#777" stroke-width="0.4"/>
<line x1="49.2" y1="111.3" x2="48.1" y2="111.8" stroke="#777" stroke-width="0.4"/>
<line x1="49.2" y1="96" x2="48.1" y2="96.5" stroke="#777" stroke-width="0.4"/>
<line x1="49.2" y1="80.7" x2="48.1" y2="81.2" stroke="#777" stroke-width="0.4"/>
<line x1="49.2" y1="65.4" x2="48.1" y2="65.9" stroke="#777" stroke-width="0.4"/>
<line x1="50.4" y1="127.2" x2="49.4" y2="128.1" stroke="#777" stroke-width="0.4"/>
<line x1="73" y1="142.1" x2="72" y2="143" stroke="#777" stroke-width="0.4"/>
<line x1="95.5" y1="157" x2="94.5" y2="157.9" stroke="#777" stroke-width="0.4"/>
<line x1="118.1" y1="171.9" x2="117.1" y2="172.8" stroke="#777" stroke-width="0.4"/>
<line x1="146.8" y1="161" x2="147.8" y2="161.8" stroke="#777" stroke-width="0.4"/>
<line x1="175.6" y1="150.1" x2="176.6" y2="150.9" stroke="#777" stroke-width="0.4"/>
<line x1="204.3" y1="139.2" x2="205.3" y2="140" stroke="#777" stroke-width="0.4"/>
<line x1="233" y1="128.3" x2="234" y2="129.1" stroke="#777" stroke-width="0.4"/>
<rect x="249.8" y="22.8" width="6.3" height="149.4" fill="url(#cb)"/>
<g class="tk"><text x="45.8" y="127.8" text-anchor="end">0</text>
<text x="45.8" y="112.5" text-anchor="end">50</text>
<text x="45.8" y="97.2" text-anchor="end">100</text>
<text x="45.8" y="81.9" text-anchor="end">150</text>
<text x="45.8" y="66.6" text-anchor="end">200</text>
<text x="45.1" y="133.1" text-anchor="end">0</text>
<text x="67.7" y="148" text-anchor="end">50</text>
<text x="90.2" y="162.9" text-anchor="end">100</text>
<text x="112.8" y="177.8" text-anchor="end">150</text>
<text x="150.6" y="167.8" text-anchor="start">50</text>
<text x="179.4" y="156.8" text-anchor="start">100</text>
<text x="208.1" y="145.9" text-anchor="start">150</text>
<text x="236.8" y="135.1" text-anchor="start">200</text>
<text x="79.6" y="174.1" text-anchor="middle" font-size="4.1">Nodes</text>
<text x="166.6" y="174.1" text-anchor="middle" font-size="4.1">Time</text>
<text transform="translate(35.9 100) rotate(-90)" text-anchor="middle" font-size="4.1">Number of passengers</text>
<text x="257.3" y="173.7">0</text>
<text x="257.3" y="123.9">50</text>
<text x="257.3" y="74.1">100</text>
<text x="257.3" y="24.3">150</text></g>
<g><line x1="306.4" y1="127.2" x2="421.3" y2="83.6" stroke="#eeeeee" stroke-width="0.5"/>
<line x1="421.3" y1="83.6" x2="489" y2="128.3" stroke="#eeeeee" stroke-width="0.5"/>
<line x1="306.4" y1="111.9" x2="421.3" y2="68.3" stroke="#eeeeee" stroke-width="0.5"/>
<line x1="421.3" y1="68.3" x2="489" y2="113" stroke="#eeeeee" stroke-width="0.5"/>
<line x1="306.4" y1="96.6" x2="421.3" y2="53" stroke="#eeeeee" stroke-width="0.5"/>
<line x1="421.3" y1="53" x2="489" y2="97.7" stroke="#eeeeee" stroke-width="0.5"/>
<line x1="306.4" y1="81.3" x2="421.3" y2="37.7" stroke="#eeeeee" stroke-width="0.5"/>
<line x1="421.3" y1="37.7" x2="489" y2="82.4" stroke="#eeeeee" stroke-width="0.5"/>
<line x1="306.4" y1="66" x2="421.3" y2="22.4" stroke="#eeeeee" stroke-width="0.5"/>
<line x1="421.3" y1="22.4" x2="489" y2="67.1" stroke="#eeeeee" stroke-width="0.5"/>
<line x1="335.1" y1="116.3" x2="335.1" y2="55.1" stroke="#eeeeee" stroke-width="0.5"/>
<line x1="363.9" y1="105.4" x2="363.9" y2="44.2" stroke="#eeeeee" stroke-width="0.5"/>
<line x1="392.6" y1="94.5" x2="392.6" y2="33.3" stroke="#eeeeee" stroke-width="0.5"/>
<line x1="421.3" y1="83.6" x2="421.3" y2="22.4" stroke="#eeeeee" stroke-width="0.5"/>
<line x1="443.9" y1="98.5" x2="443.9" y2="37.3" stroke="#eeeeee" stroke-width="0.5"/>
<line x1="466.4" y1="113.4" x2="466.4" y2="52.2" stroke="#eeeeee" stroke-width="0.5"/>
<line x1="489" y1="128.3" x2="489" y2="67.1" stroke="#eeeeee" stroke-width="0.5"/>
<line x1="335.1" y1="116.3" x2="402.8" y2="161" stroke="#eeeeee" stroke-width="0.5"/>
<line x1="363.9" y1="105.4" x2="431.6" y2="150.1" stroke="#eeeeee" stroke-width="0.5"/>
<line x1="392.6" y1="94.5" x2="460.3" y2="139.2" stroke="#eeeeee" stroke-width="0.5"/>
<line x1="421.3" y1="83.6" x2="489" y2="128.3" stroke="#eeeeee" stroke-width="0.5"/>
<line x1="329" y1="142.1" x2="443.9" y2="98.5" stroke="#eeeeee" stroke-width="0.5"/>
<line x1="351.5" y1="157" x2="466.4" y2="113.4" stroke="#eeeeee" stroke-width="0.5"/>
<line x1="374.1" y1="171.9" x2="489" y2="128.3" stroke="#eeeeee" stroke-width="0.5"/></g>
<g fill="url(#jet)" stroke="#000820" stroke-opacity="0.35" stroke-width="0.25" stroke-linejoin="round">
<polygon transform="translate(306.4 127.2)" points="0,0 0,-3.4 2.3,-4.2 2.9,-4.2 4.6,-3.1 11.5,-5.4 114.9,-44.6 114.9,-43.6"/>
<polygon transform="translate(306.6 127.3)" points="0,0 0,-3.4 2.3,-4.2 2.9,-4.2 4,-3.4 4.6,-3.4 6.9,-4.3 11.5,-5.6 114.9,-44.8 114.9,-43.6"/>
<polygon transform="translate(306.9 127.5)" points="0,0 0,-3.4 2.3,-4.2 2.9,-4.2 4,-3.5 6.9,-4.6 11.5,-5.8 114.9,-45 114.9,-43.6"/>
<polygon transform="translate(307.1 127.6)" points="0,0 0,-3.4 2.3,-4.2 4,-3.7 6.9,-4.8 11.5,-5.9 114.9,-45.2 114.9,-43.6"/>
<polygon transform="translate(307.3 127.8)" points="0,0 0,-3.4 2.3,-4.2 2.9,-4.2 3.4,-3.8 4,-3.9 6.9,-5 11.5,-6.1 114.9,-45.3 114.9,-43.6"/>
<polygon transform="translate(307.5 127.9)" points="0,0 0,-3.4 2.3,-4.2 3.4,-3.9 6.9,-5.2 11.5,-6.2 114.9,-45.5 114.9,-43.6"/>
<polygon transform="translate(307.8 128.1)" points="0,0 0,-3.4 2.3,-4.2 3.4,-4.1 6.9,-5.4 11.5,-6.4 114.9,-45.6 114.9,-43.6"/>
<polygon transform="translate(308 128.2)" points="0,0 0,-3.4 2.3,-4.2 3.4,-4.2 6.9,-5.5 11.5,-6.5 114.9,-45.7 114.9,-43.6"/>
<polygon transform="translate(308.2 128.4)" points="0,0 0,-3.4 2.3,-4.2 2.9,-4.2 6.9,-5.7 11.5,-6.6 114.9,-45.8 114.9,-43.6"/>
<polygon transform="translate(308.4 128.5)" points="0,0 0,-3.4 6.9,-5.8 11.5,-6.7 114.9,-45.9 114.9,-43.6"/>
<polygon transform="translate(308.7 128.7)" points="0,0 0,-3.4 6.9,-6 11.5,-6.8 114.9,-46 114.9,-43.6"/>
<polygon transform="translate(308.9 128.8)" points="0,0 0,-3.4 6.9,-5.9 11.5,-6.7 111.5,-44.7 114.9,-46.1 114.9,-43.6"/>
<polygon transform="translate(309.1 129)" points="0,0 0,-3.4 6.9,-5.8 11.5,-6.6 94.2,-38 108,-43.7 112.6,-46 114.9,-46.9 114.9,-43.6"/>
<polygon transform="translate(309.3 129.1)" points="0,0 0,-3.4 2.3,-4.2 2.9,-4.2 3.4,-4.3 6.9,-5.7 11.5,-6.6 75.3,-30.8 108,-44.4 112.6,-46.8 114.9,-47.8 114.9,-43.6"/>
<polygon transform="translate(309.6 129.3)" points="0,0 0,-3.4 2.3,-4.2 3.4,-4.2 6.9,-5.5 11.5,-6.5 35,-15.4 74.7,-31 108,-45.2 112.6,-47.8 114.9,-48.7 114.9,-43.6"/>
<polygon transform="translate(309.8 129.4)" points="0,0 0,-3.4 2.3,-4.2 3.4,-4.1 6.9,-5.4 11.5,-6.4 74.7,-31.6 108,-46.1 112.6,-48.8 114.9,-49.8 114.9,-43.6"/>
<polygon transform="translate(310 129.6)" points="0,0 0,-3.4 2.3,-4.2 3.4,-4 6.9,-5.3 11.5,-6.3 12.6,-7.1 14.9,-8.3 74.7,-32.2 108,-47 112.6,-50 114.9,-51 114.9,-43.6"/>
<polygon transform="translate(310.2 129.7)" points="0,0 0,-3.4 2.3,-4.2 2.9,-4.2 3.4,-3.8 6.9,-5.1 10.9,-6.1 12.1,-7.1 14.9,-8.8 74.7,-32.9 108,-48.1 112.6,-51.3 114.9,-52.3 114.9,-43.6"/>
<polygon transform="translate(310.5 129.9)" points="0,0 0,-3.4 2.3,-4.2 2.9,-4.2 3.4,-3.8 4,-3.9 6.9,-5 10.3,-5.8 12.1,-7.6 14.9,-9.3 74.7,-33.6 108,-49.2 112.6,-52.6 114.9,-53.6 114.9,-43.6"/>
<polygon transform="translate(310.7 130)" points="0,0 0,-3.4 2.3,-4.2 4,-3.8 6.9,-4.8 9.8,-5.6 10.3,-6 12.1,-8 14.9,-9.8 74.7,-34.4 108,-50.5 112.6,-54.1 114.9,-55.1 114.9,-43.6"/>
<polygon transform="translate(310.9 130.2)" points="0,0 0,-3.4 2.3,-4.2 2.9,-4.2 4,-3.6 6.9,-4.7 9.8,-5.5 12.1,-8.5 14.9,-10.4 74.7,-35.2 108,-51.8 112.6,-55.7 114.9,-56.7 114.9,-43.6"/>
<polygon transform="translate(311.1 130.3)" points="0,0 0,-3.4 2.3,-4.2 2.9,-4.2 4,-3.4 9.2,-5.1 12.1,-9 14.9,-11 74.7,-36.1 108,-53.1 112.6,-57.3 114.9,-58.4 114.9,-43.6"/>
<polygon transform="translate(311.4 130.5)" points="0,0 0,-3.4 2.3,-4.2 2.9,-4.2 4,-3.4 4.6,-3.4 8.6,-4.8 9.2,-5.1 12.1,-9.5 14.9,-11.6 74.7,-37 108,-54.6 112.6,-59.1 114.9,-60.2 114.9,-43.6"/>
<polygon transform="translate(311.6 130.6)" points="0,0 0,-3.4 2.3,-4.2 2.9,-4.2 4.6,-3.2 8.6,-4.6 12.1,-10.1 14.9,-12.3 74.7,-38 108,-56.2 112.6,-61 114.9,-62.1 114.9,-43.6"/>
<polygon transform="translate(311.8 130.8)" points="0,0 0,-3.4 2.3,-4.2 2.9,-4.2 4.6,-3.1 5.2,-3.2 8.6,-4.4 12.1,-10.7 14.9,-13 74.7,-39 108,-57.8 112.6,-62.9 114.9,-64.1 114.9,-43.6"/>
<polygon transform="translate(312 130.9)" points="0,0 0,-3.4 2.3,-4.2 2.9,-4.2 5.2,-2.8 8.6,-4 12.1,-8 14.9,-9.8 74.7,-34.4 108,-50.5 112.6,-54.1 114.9,-55.1 114.9,-43.6"/>
<polygon transform="translate(312.3 131.1)" points="0,0 0,-3.4 2.3,-4.2 2.9,-4.2 5.2,-2.7 9.8,-4.5 12.1,-6.1 14.9,-7.5 74.7,-31 108,-45.2 112.6,-47.8 114.9,-48.7 114.9,-43.6"/>
<polygon transform="translate(312.5 131.2)" points="0,0 0,-3.4 2.3,-4.2 2.9,-4.2 5.2,-2.7 82.7,-32.2 114.9,-44.9 114.9,-43.6"/>
<polygon transform="translate(312.7 131.4)" points="0,0 0,-3.4 2.3,-4.2 2.9,-4.2 5.2,-2.7 114.9,-44.4 114.9,-43.6"/>
<polygon transform="translate(312.9 131.5)" points="0,0 0,-3.4 2.3,-4.2 2.9,-4.2 5.2,-2.7 114.9,-44.4 114.9,-43.6"/>
<polygon transform="translate(313.2 131.7)" points="0,0 0,-3.4 2.3,-4.2 2.9,-4.2 5.2,-2.7 114.9,-44.4 114.9,-43.6"/>
<polygon transform="translate(313.4 131.8)" points="0,0 0,-3.4 2.3,-4.2 2.9,-4.2 5.2,-2.7 114.9,-44.4 114.9,-43.6"/>
<polygon transform="translate(313.6 132)" points="0,0 0,-3.4 2.3,-4.2 2.9,-4.2 5.2,-2.7 8.6,-4.2 114.9,-44.8 114.9,-43.6"/>
<polygon transform="translate(313.8 132.1)" points="0,0 0,-3.4 2.3,-4.2 2.9,-4.2 4.6,-3.1 5.2,-3 8.6,-4.5 114.9,-45.2 114.9,-43.6"/>
<polygon transform="translate(314.1 132.3)" points="0,0 0,-3.4 2.3,-4.2 2.9,-4.2 4.6,-3.1 5.2,-3.3 8.6,-4.9 114.9,-45.7 114.9,-43.6"/>
<polygon transform="translate(314.3 132.4)" points="0,0 0,-3.4 2.3,-4.2 2.9,-4.2 4.6,-3.2 5.7,-4 8.6,-5.3 114.9,-46.2 114.9,-43.6"/>
<polygon transform="translate(314.5 132.6)" points="0,0 0,-3.4 2.3,-4.2 2.9,-4.2 4,-3.4 4.6,-3.6 5.7,-4.4 8.6,-5.8 114.9,-46.8 114.9,-43.6"/>
<polygon transform="translate(314.7 132.7)" points="0,0 0,-3.4 2.3,-4.2 2.9,-4.2 4,-3.4 5.7,-4.9 8.6,-6.4 114.9,-47.5 114.9,-43.6"/>
<polygon transform="translate(315 132.9)" points="0,0 0,-3.4 2.3,-4.2 2.9,-4.2 3.4,-3.8 4,-3.8 5.7,-5.4 8.6,-6.9 114.9,-48.3 114.9,-43.6"/>
<polygon transform="translate(315.2 133)" points="0,0 0,-3.4 2.3,-4.2 2.9,-4.2 3.4,-3.8 5.7,-5.9 8.6,-7.6 114.9,-49.1 114.9,-43.6"/>
<polygon transform="translate(315.4 133.2)" points="0,0 0,-3.4 2.3,-4.2 3.4,-3.9 5.7,-6.5 8.6,-8.3 68.9,-31.8 114.9,-50 114.9,-43.6"/>
<polygon transform="translate(315.7 133.3)" points="0,0 0,-3.4 2.3,-4.2 3.4,-4.3 5.7,-7.1 8.6,-9 68.9,-32.6 114.9,-50.9 114.9,-43.6"/>
<polygon transform="translate(315.9 133.5)" points="0,0 0,-3.4 2.3,-4.2 2.9,-4.2 5.7,-7.8 8.6,-9.8 68.9,-33.5 114.9,-51.9 114.9,-43.6"/>
<polygon transform="translate(316.1 133.6)" points="0,0 0,-3.4 2.3,-4.2 2.9,-4.3 5.2,-7.9 5.7,-8.6 8.6,-10.6 68.9,-34.5 114.9,-53 114.9,-43.6"/>
<polygon transform="translate(316.3 133.8)" points="0,0 0,-3.4 2.3,-4.2 2.9,-4.6 5.2,-8.7 5.7,-9.3 8.6,-11.5 68.9,-35.5 114.9,-54.1 114.9,-43.6"/>
<polygon transform="translate(316.6 133.9)" points="0,0 0,-3.4 2.3,-4.2 5.2,-9.4 5.7,-10.2 8.6,-12.5 68.9,-36.5 114.9,-55.3 114.9,-43.6"/>
<polygon transform="translate(316.8 134.1)" points="0,0 0,-3.4 2.3,-4.2 5.2,-10.2 5.7,-11 8.6,-13.5 68.9,-37.6 114.9,-56.6 114.9,-43.6"/>
<polygon transform="translate(317 134.2)" points="0,0 0,-3.4 1.7,-4 2.3,-4.6 5.2,-11.1 5.7,-11.9 8.6,-14.5 68.9,-38.8 114.9,-57.9 114.9,-43.6"/>
<polygon transform="translate(317.2 134.4)" points="0,0 0,-3.4 1.7,-4 2.3,-4.9 5.2,-12 5.7,-12.9 8.6,-15.6 68.9,-40 114.9,-59.3 114.9,-43.6"/>
<polygon transform="translate(317.5 134.5)" points="0,0 0,-3.4 1.7,-4 5.2,-12.9 5.7,-13.9 8.6,-16.8 68.9,-41.3 114.9,-60.7 114.9,-43.6"/>
<polygon transform="translate(317.7 134.7)" points="0,0 0,-3.4 1.7,-4 5.2,-13.9 5.7,-14.9 8.6,-18 68.9,-42.7 114.9,-62.3 114.9,-43.6"/>
<polygon transform="translate(317.9 134.8)" points="0,0 0,-3.4 2.3,-4.2 2.9,-4.2 5.7,-7.8 8.6,-9.8 68.9,-33.5 114.9,-51.9 114.9,-43.6"/>
<polygon transform="translate(318.1 134.9)" points="0,0 0,-3.4 2.3,-4.2 2.9,-4.2 4.6,-3.1 5.2,-3.3 7.5,-4.8 10.3,-6.2 57.5,-24.9 114.9,-47.9 114.9,-43.6"/>
<polygon transform="translate(318.4 135.1)" points="0,0 0,-3.4 2.3,-4.2 2.9,-4.2 4.6,-3.2 6.9,-5.3 10.3,-7.2 57.5,-26.2 114.9,-49.8 114.9,-43.6"/>
<polygon transform="translate(318.6 135.2)" points="0,0 0,-3.4 2.3,-4.2 2.9,-4.2 4,-3.4 4.6,-3.7 6.9,-6.3 10.3,-8.4 57.5,-27.8 114.9,-52 114.9,-43.6"/>
<polygon transform="translate(318.8 135.4)" points="0,0 0,-3.4 2.3,-4.2 2.9,-4.2 4,-3.5 6.9,-7.4 10.3,-9.8 57.5,-29.6 114.9,-54.6 114.9,-43.6"/>
<polygon transform="translate(319 135.5)" points="0,0 0,-3.4 2.3,-4.2 2.9,-4.2 3.4,-3.8 4,-4 6.9,-8.7 7.5,-9.3 10.3,-11.4 57.5,-31.7 114.9,-57.5 114.9,-43.6"/>
<polygon transform="translate(319.3 135.7)" points="0,0 0,-3.4 2.3,-4.2 2.9,-4.2 3.4,-3.8 4,-4.6 6.9,-10.1 7.5,-10.8 10.3,-13.1 57.5,-34 114.9,-60.7 114.9,-43.6"/>
<polygon transform="translate(319.5 135.8)" points="0,0 0,-3.4 2.3,-4.2 2.9,-4.2 4,-3.4 4.6,-3.5 6.9,-5.9 10.3,-8 57.5,-27.2 114.9,-51.2 114.9,-43.6"/>
<polygon transform="translate(319.7 136)" points="0,0 0,-3.4 2.3,-4.2 2.9,-4.2 5.2,-2.7 10.3,-4.9 114.9,-45.5 114.9,-43.6"/>
<polygon transform="translate(319.9 136.1)" points="0,0 0,-3.4 2.3,-4.2 2.9,-4.2 5.2,-2.7 114.9,-44.4 114.9,-43.6"/>
<polygon transform="translate(320.2 136.3)" points="0,0 0,-3.4 2.3,-4.2 2.9,-4.2 5.2,-2.7 114.9,-44.4 114.9,-43.6"/>
<polygon transform="translate(320.4 136.4)" points="0,0 0,-3.4 2.3,-4.2 2.9,-4.2 5.2,-2.7 114.9,-44.5 114.9,-43.6"/>
<polygon transform="translate(320.6 136.6)" points="0,0 0,-3.4 2.3,-4.2 2.9,-4.2 5.2,-2.7 80.4,-31.9 114.9,-45 114.9,-43.6"/>
<polygon transform="translate(320.8 136.7)" points="0,0 0,-3.4 2.3,-4.2 2.9,-4.2 5.2,-2.7 8,-3.8 11.5,-5.5 40.2,-16.9 80.4,-32.5 114.9,-45.7 114.9,-43.6"/>
<polygon transform="translate(321.1 136.9)" points="0,0 0,-3.4 2.3,-4.2 2.9,-4.2 5.2,-2.7 7.5,-3.6 9.2,-4.8 11.5,-5.9 40.2,-17.4 80.4,-33.3 114.9,-46.4 114.9,-43.6"/>
<polygon transform="translate(321.3 137)" points="0,0 0,-3.4 2.3,-4.2 2.9,-4.2 5.2,-2.7 6.9,-3.4 9.2,-5.2 11.5,-6.4 80.4,-34.1 114.9,-47.3 114.9,-43.6"/>
<polygon transform="translate(321.5 137.2)" points="0,0 0,-3.4 2.3,-4.2 2.9,-4.2 5.2,-2.7 6.3,-3.2 6.9,-3.4 9.2,-5.7 11.5,-7 40.2,-18.8 80.4,-35.1 114.9,-48.2 114.9,-43.6"/>
<polygon transform="translate(321.7 137.3)" points="0,0 0,-3.4 2.3,-4.2 2.9,-4.2 5.2,-2.7 6.3,-3.2 9.2,-6.2 11.5,-7.6 40.2,-19.7 80.4,-36.1 114.9,-49.3 114.9,-43.6"/>
<polygon transform="translate(322 137.5)" points="0,0 0,-3.4 2.3,-4.2 2.9,-4.2 5.2,-2.7 6.3,-3.2 9.2,-6.8 11.5,-8.3 40.2,-20.6 80.4,-37.3 114.9,-50.5 114.9,-43.6"/>
<polygon transform="translate(322.2 137.6)" points="0,0 0,-3.4 2.3,-4.2 2.9,-4.2 5.2,-2.7 5.7,-2.9 6.3,-3.2 9.2,-7.4 11.5,-9 40.2,-21.6 80.4,-38.6 114.9,-51.9 114.9,-43.6"/>
<polygon transform="translate(322.4 137.8)" points="0,0 0,-3.4 2.3,-4.2 2.9,-4.2 5.2,-2.7 5.7,-2.9 6.3,-3.4 9.2,-8.1 11.5,-9.8 40.2,-22.7 80.4,-40 114.9,-53.3 114.9,-43.6"/>
<polygon transform="translate(322.6 137.9)" points="0,0 0,-3.4 2.3,-4.2 2.9,-4.2 5.2,-2.7 5.7,-2.9 6.3,-3.5 9.2,-8.9 11.5,-10.7 40.2,-23.9 80.4,-41.5 114.9,-54.8 114.9,-43.6"/>
<polygon transform="translate(322.9 138.1)" points="0,0 0,-3.4 2.3,-4.2 2.9,-4.2 5.2,-2.7 5.7,-2.9 6.3,-3.7 9.2,-9.7 11.5,-11.6 40.2,-25.2 80.4,-43.2 114.9,-56.5 114.9,-43.6"/>
<polygon transform="translate(323.1 138.2)" points="0,0 0,-3.4 2.3,-4.2 2.9,-4.2 5.2,-2.7 5.7,-2.9 6.3,-3.8 9.2,-10.5 11.5,-12.6 40.2,-26.6 80.4,-44.9 114.9,-58.3 114.9,-43.6"/>
<polygon transform="translate(323.3 138.4)" points="0,0 0,-3.4 2.3,-4.2 2.9,-4.2 5.2,-2.7 6.3,-3.2 9.2,-6.6 11.5,-8 40.2,-20.3 80.4,-36.9 114.9,-50.1 114.9,-43.6"/>
<polygon transform="translate(323.6 138.5)" points="0,0 0,-3.4 2.3,-4.2 2.9,-4.2 5.2,-2.7 80.4,-32.1 114.9,-45.2 114.9,-43.6"/>
<polygon transform="translate(323.8 138.7)" points="0,0 0,-3.4 2.3,-4.2 2.9,-4.2 5.2,-2.7 114.9,-44.4 114.9,-43.6"/>
<polygon transform="translate(324 138.8)" points="0,0 0,-3.4 2.3,-4.2 2.9,-4.2 5.2,-2.7 114.9,-44.4 114.9,-43.6"/>
<polygon transform="translate(324.2 139)" points="0,0 0,-3.4 2.3,-4.2 2.9,-4.2 5.2,-2.7 34.5,-13.8 114.9,-44.9 114.9,-43.6"/>
<polygon transform="translate(324.5 139.1)" points="0,0 0,-3.4 2.3,-4.2 2.9,-4.2 5.2,-2.7 114.9,-45.5 114.9,-43.6"/>
<polygon transform="translate(324.7 139.3)" points="0,0 0,-3.4 2.3,-4.2 2.9,-4.2 5.2,-2.7 7.5,-3.6 10.9,-5.3 114.9,-46.1 114.9,-43.6"/>
<polygon transform="translate(324.9 139.4)" points="0,0 0,-3.4 2.3,-4.2 2.9,-4.2 5.2,-2.7 6.9,-3.4 8.6,-4.5 10.9,-5.6 114.9,-46.9 114.9,-43.6"/>
<polygon transform="translate(325.1 139.6)" points="0,0 0,-3.4 2.3,-4.2 2.9,-4.2 5.2,-2.7 6.3,-3.2 8.6,-4.9 10.9,-6 114.9,-47.8 114.9,-43.6"/>
<polygon transform="translate(325.4 139.7)" points="0,0 0,-3.4 2.3,-4.2 2.9,-4.2 5.2,-2.7 6.3,-3.2 8.6,-5.2 10.9,-6.4 114.9,-48.8 114.9,-43.6"/>
<polygon transform="translate(325.6 139.9)" points="0,0 0,-3.4 2.3,-4.2 2.9,-4.2 5.2,-2.7 5.7,-2.9 6.3,-3.3 8.6,-5.6 10.9,-6.9 80.4,-35.8 114.9,-49.9 114.9,-43.6"/>
<polygon transform="translate(325.8 140)" points="0,0 0,-3.4 2.3,-4.2 2.9,-4.2 5.2,-2.7 5.7,-2.9 8.6,-6.1 10.9,-7.4 80.4,-36.8 114.9,-51.1 114.9,-43.6"/>
<polygon transform="translate(326 140.2)" points="0,0 0,-3.4 2.3,-4.2 2.9,-4.2 5.2,-2.7 5.7,-2.9 8.6,-6.6 10.9,-8 80.4,-37.9 114.9,-52.4 114.9,-43.6"/>
<polygon transform="translate(326.3 140.3)" points="0,0 0,-3.4 2.3,-4.2 2.9,-4.2 5.2,-2.7 5.7,-3 8.6,-7.1 10.9,-8.6 80.4,-39.1 114.9,-53.8 114.9,-43.6"/>
<polygon transform="translate(326.5 140.5)" points="0,0 0,-3.4 2.3,-4.2 2.9,-4.2 5.2,-2.7 5.7,-3.1 8.6,-7.7 10.9,-9.3 34.5,-20 80.4,-40.3 114.9,-55.3 114.9,-43.6"/>
<polygon transform="translate(326.7 140.6)" points="0,0 0,-3.4 2.3,-4.2 2.9,-4.2 5.2,-2.7 5.7,-3.2 8.6,-8.3 10.9,-10 34.5,-20.9 80.4,-41.7 114.9,-56.9 114.9,-43.6"/>
<polygon transform="translate(326.9 140.8)" points="0,0 0,-3.4 2.3,-4.2 2.9,-4.2 5.2,-2.7 5.7,-3.3 8.6,-8.9 10.9,-10.8 34.5,-21.9 80.4,-43.1 114.9,-58.6 114.9,-43.6"/>
<polygon transform="translate(327.2 140.9)" points="0,0 0,-3.4 2.3,-4.2 2.9,-4.2 5.2,-2.7 5.7,-3.5 8.6,-9.6 10.9,-11.6 34.5,-23 80.4,-44.6 114.9,-60.5 114.9,-43.6"/>
<polygon transform="translate(327.4 141.1)" points="0,0 0,-3.4 2.3,-4.2 2.9,-4.2 5.2,-2.7 5.7,-3.6 8.6,-10.3 10.9,-12.4 34.5,-24.1 80.4,-46.3 114.9,-62.4 114.9,-43.6"/>
<polygon transform="translate(327.6 141.2)" points="0,0 0,-3.4 2.3,-4.2 2.9,-4.2 5.2,-2.7 5.7,-3.8 8.6,-11.1 10.9,-13.3 34.5,-25.3 80.4,-48 114.9,-64.4 114.9,-43.6"/>
<polygon transform="translate(327.8 141.4)" points="0,0 0,-3.4 2.3,-4.2 2.9,-4.2 5.2,-2.7 5.7,-2.9 8.6,-6.7 10.9,-8.2 80.4,-38.3 114.9,-52.8 114.9,-43.6"/>
<polygon transform="translate(328.1 141.5)" points="0,0 0,-3.4 2.3,-4.2 2.9,-4.2 5.2,-2.7 10.9,-5.2 34.5,-14.4 114.9,-45.9 114.9,-43.6"/>
<polygon transform="translate(328.3 141.7)" points="0,0 0,-3.4 2.3,-4.2 2.9,-4.2 5.2,-2.7 114.9,-44.4 114.9,-43.6"/>
<polygon transform="translate(328.5 141.8)" points="0,0 0,-3.4 2.3,-4.2 2.9,-4.2 5.2,-2.7 114.9,-44.4 114.9,-43.6"/>
<polygon transform="translate(328.7 142)" points="0,0 0,-3.4 2.3,-4.2 2.9,-4.2 5.2,-2.7 114.9,-44.4 114.9,-43.6"/>
<polygon transform="translate(329 142.1)" points="0,0 0,-3.4 2.3,-4.2 2.9,-4.2 5.2,-2.7 114.9,-44.6 114.9,-43.6"/>
<polygon transform="translate(329.2 142.2)" points="0,0 0,-3.4 2.3,-4.2 2.9,-4.2 5.2,-2.7 80.4,-32.1 114.9,-45.2 114.9,-43.6"/>
<polygon transform="translate(329.4 142.4)" points="0,0 0,-3.4 2.3,-4.2 2.9,-4.2 5.2,-2.7 8,-3.8 11.5,-5.5 80.4,-32.8 114.9,-45.8 114.9,-43.6"/>
<polygon transform="translate(329.6 142.5)" points="0,0 0,-3.4 2.3,-4.2 2.9,-4.2 5.2,-2.7 7.5,-3.6 9.2,-4.8 11.5,-5.9 40.2,-17.5 80.4,-33.6 114.9,-46.6 114.9,-43.6"/>
<polygon transform="translate(329.9 142.7)" points="0,0 0,-3.4 2.3,-4.2 2.9,-4.2 5.2,-2.7 6.9,-3.4 9.2,-5.2 11.5,-6.4 40.2,-18.2 80.4,-34.5 114.9,-47.6 114.9,-43.6"/>
<polygon transform="translate(330.1 142.8)" points="0,0 0,-3.4 2.3,-4.2 2.9,-4.2 5.2,-2.7 6.3,-3.2 6.9,-3.4 9.2,-5.7 11.5,-7 40.2,-19 80.4,-35.6 114.9,-48.6 114.9,-43.6"/>
<polygon transform="translate(330.3 143)" points="0,0 0,-3.4 2.3,-4.2 2.9,-4.2 5.2,-2.7 6.3,-3.2 9.2,-6.2 11.5,-7.6 40.2,-19.9 80.4,-36.7 114.9,-49.8 114.9,-43.6"/>
<polygon transform="translate(330.5 143.1)" points="0,0 0,-3.4 2.3,-4.2 2.9,-4.2 5.2,-2.7 6.3,-3.2 9.2,-6.8 11.5,-8.3 40.2,-20.9 80.4,-38 114.9,-51.1 114.9,-43.6"/>
<polygon transform="translate(330.8 143.3)" points="0,0 0,-3.4 2.3,-4.2 2.9,-4.2 5.2,-2.7 5.7,-2.9 6.3,-3.2 9.2,-7.4 11.5,-9 40.2,-22 80.4,-39.5 114.9,-52.6 114.9,-43.6"/>
<polygon transform="translate(331 143.4)" points="0,0 0,-3.4 2.3,-4.2 2.9,-4.2 5.2,-2.7 5.7,-2.9 6.3,-3.4 9.2,-8.1 11.5,-9.8 40.2,-23.1 80.4,-41 114.9,-54.1 114.9,-43.6"/>
<polygon transform="translate(331.2 143.6)" points="0,0 0,-3.4 2.3,-4.2 2.9,-4.2 5.2,-2.7 5.7,-2.9 6.3,-3.5 9.2,-8.9 11.5,-10.7 40.2,-24.4 80.4,-42.7 114.9,-55.8 114.9,-43.6"/>
<polygon transform="translate(331.4 143.7)" points="0,0 0,-3.4 2.3,-4.2 2.9,-4.2 5.2,-2.7 5.7,-2.9 6.3,-3.7 9.2,-9.7 11.5,-11.6 40.2,-25.7 80.4,-44.5 114.9,-57.6 114.9,-43.6"/>
<polygon transform="translate(331.7 143.9)" points="0,0 0,-3.4 2.3,-4.2 2.9,-4.2 5.2,-2.7 5.7,-2.9 6.3,-3.8 9.2,-10.5 11.5,-12.6 40.2,-27.2 80.4,-46.4 114.9,-59.5 114.9,-43.6"/>
<polygon transform="translate(331.9 144)" points="0,0 0,-3.4 2.3,-4.2 2.9,-4.2 5.2,-2.7 6.3,-3.2 9.2,-6.6 11.5,-8 40.2,-20.6 80.4,-37.6 114.9,-50.7 114.9,-43.6"/>
<polygon transform="translate(332.1 144.2)" points="0,0 0,-3.4 2.3,-4.2 2.9,-4.2 5.2,-2.7 80.4,-32.3 114.9,-45.4 114.9,-43.6"/>
<polygon transform="translate(332.4 144.3)" points="0,0 0,-3.4 2.3,-4.2 2.9,-4.2 5.2,-2.7 114.9,-44.4 114.9,-43.6"/>
<polygon transform="translate(332.6 144.5)" points="0,0 0,-3.4 2.3,-4.2 2.9,-4.2 5.2,-2.7 80.4,-31.5 114.9,-44.9 114.9,-43.6"/>
<polygon transform="translate(332.8 144.6)" points="0,0 0,-3.4 2.3,-4.2 2.9,-4.2 5.2,-2.7 114.9,-45.7 114.9,-43.6"/>
<polygon transform="translate(333 144.8)" points="0,0 0,-3.4 2.3,-4.2 2.9,-4.2 5.2,-2.7 7.5,-3.6 8.6,-4.4 10.9,-5.4 80.4,-32.8 114.9,-46.6 114.9,-43.6"/>
<polygon transform="translate(333.3 144.9)" points="0,0 0,-3.4 2.3,-4.2 2.9,-4.2 5.2,-2.7 6.3,-3.2 6.9,-3.4 8.6,-4.8 10.9,-5.9 34.5,-15.4 80.4,-33.6 114.9,-47.7 114.9,-43.6"/>
<polygon transform="translate(333.5 145.1)" points="0,0 0,-3.4 2.3,-4.2 2.9,-4.2 5.2,-2.7 6.3,-3.2 8.6,-5.2 10.9,-6.4 34.5,-16.1 80.4,-34.5 114.9,-49 114.9,-43.6"/>
<polygon transform="translate(333.7 145.2)" points="0,0 0,-3.4 2.3,-4.2 2.9,-4.2 5.2,-2.7 5.7,-2.9 6.3,-3.3 8.6,-5.7 10.9,-7 34.5,-17 80.4,-35.6 114.9,-50.4 114.9,-43.6"/>
<polygon transform="translate(333.9 145.4)" points="0,0 0,-3.4 2.3,-4.2 2.9,-4.2 5.2,-2.7 5.7,-2.9 8.6,-6.3 10.9,-7.7 34.5,-17.9 80.4,-36.7 114.9,-52 114.9,-43.6"/>
<polygon transform="translate(334.2 145.5)" points="0,0 0,-3.4 2.3,-4.2 2.9,-4.2 5.2,-2.7 5.7,-2.9 8.6,-7 10.9,-8.5 34.5,-18.9 80.4,-38 114.9,-53.7 114.9,-43.6"/>
<polygon transform="translate(334.4 145.7)" points="0,0 0,-3.4 2.3,-4.2 2.9,-4.2 5.2,-2.7 5.7,-3.1 8.6,-7.7 10.9,-9.3 34.5,-20 80.4,-39.5 114.9,-55.6 114.9,-43.6"/>
<polygon transform="translate(334.6 145.8)" points="0,0 0,-3.4 2.3,-4.2 2.9,-4.2 5.2,-2.7 5.7,-3.2 8.6,-8.4 10.9,-10.2 34.5,-21.2 80.4,-41 114.9,-57.7 114.9,-43.6"/>
<polygon transform="translate(334.8 146)" points="0,0 0,-3.4 2.3,-4.2 2.9,-4.2 5.2,-2.7 5.7,-3.4 8.6,-9.2 10.9,-11.2 34.5,-22.5 80.4,-42.7 114.9,-60 114.9,-43.6"/>
<polygon transform="translate(335.1 146.1)" points="0,0 0,-3.4 2.3,-4.2 2.9,-4.2 5.2,-2.7 5.7,-3.6 8.6,-10.1 10.9,-12.2 34.5,-23.8 80.4,-44.5 114.9,-62.4 114.9,-43.6"/>
<polygon transform="translate(335.3 146.3)" points="0,0 0,-3.4 2.3,-4.2 2.9,-4.2 5.2,-2.7 5.7,-3.8 8.6,-11.1 10.9,-13.3 34.5,-25.3 80.4,-46.4 114.9,-65 114.9,-43.6"/>
<polygon transform="translate(335.5 146.4)" points="0,0 0,-3.4 2.3,-4.2 2.9,-4.2 5.2,-2.7 5.7,-2.9 8.6,-6.7 10.9,-8.2 34.5,-18.5 80.4,-37.6 114.9,-53.1 114.9,-43.6"/>
<polygon transform="translate(335.7 146.6)" points="0,0 0,-3.4 2.3,-4.2 2.9,-4.2 5.2,-2.7 10.9,-5.2 80.4,-32.3 114.9,-46 114.9,-43.6"/>
<polygon transform="translate(336 146.7)" points="0,0 0,-3.4 2.3,-4.2 2.9,-4.2 5.2,-2.7 114.9,-44.4 114.9,-43.6"/>
<polygon transform="translate(336.2 146.9)" points="0,0 0,-3.4 2.3,-4.2 2.9,-4.2 5.2,-2.7 80.4,-31.7 114.9,-44.7 114.9,-43.6"/>
<polygon transform="translate(336.4 147)" points="0,0 0,-3.4 2.3,-4.2 2.9,-4.2 5.2,-2.7 8.6,-4 11.5,-5.4 80.4,-32.3 114.9,-45.3 114.9,-43.6"/>
<polygon transform="translate(336.6 147.2)" points="0,0 0,-3.4 2.3,-4.2 2.9,-4.2 5.2,-2.7 7.5,-3.6 9.2,-4.8 11.5,-5.9 40.2,-17.3 80.4,-33.1 114.9,-46.1 114.9,-43.6"/>
<polygon transform="translate(336.9 147.3)" points="0,0 0,-3.4 2.3,-4.2 2.9,-4.2 5.2,-2.7 6.9,-3.4 9.2,-5.2 11.5,-6.4 40.2,-18.1 80.4,-34 114.9,-47 114.9,-43.6"/>
<polygon transform="translate(337.1 147.5)" points="0,0 0,-3.4 2.3,-4.2 2.9,-4.2 5.2,-2.7 6.3,-3.2 6.9,-3.5 9.2,-5.8 11.5,-7.1 40.2,-19 80.4,-35.1 114.9,-48 114.9,-43.6"/>
<polygon transform="translate(337.3 147.6)" points="0,0 0,-3.4 2.3,-4.2 2.9,-4.2 5.2,-2.7 6.3,-3.2 9.2,-6.4 11.5,-7.8 40.2,-19.9 80.4,-36.3 114.9,-49.2 114.9,-43.6"/>
<polygon transform="translate(337.5 147.8)" points="0,0 0,-3.4 2.3,-4.2 2.9,-4.2 5.2,-2.7 6.3,-3.2 9.2,-7.1 11.5,-8.6 40.2,-21 80.4,-37.7 114.9,-50.5 114.9,-43.6"/>
<polygon transform="translate(337.8 147.9)" points="0,0 0,-3.4 2.3,-4.2 2.9,-4.2 5.2,-2.7 5.7,-2.9 6.3,-3.3 9.2,-7.8 11.5,-9.5 40.2,-22.2 80.4,-39.2 114.9,-51.9 114.9,-43.6"/>
<polygon transform="translate(338 148.1)" points="0,0 0,-3.4 2.3,-4.2 2.9,-4.2 5.2,-2.7 5.7,-2.9 6.3,-3.5 9.2,-8.6 11.5,-10.4 40.2,-23.6 80.4,-40.9 114.9,-53.5 114.9,-43.6"/>
<polygon transform="translate(338.2 148.2)" points="0,0 0,-3.4 2.3,-4.2 2.9,-4.2 5.2,-2.7 5.7,-2.9 6.3,-3.6 9.2,-9.5 11.5,-11.5 40.2,-25 80.4,-42.7 114.9,-55.2 114.9,-43.6"/>
<polygon transform="translate(338.4 148.4)" points="0,0 0,-3.4 2.3,-4.2 2.9,-4.2 5.2,-2.7 5.7,-2.9 6.3,-3.8 9.2,-10.5 11.5,-12.6 40.2,-26.6 80.4,-44.6 114.9,-57.1 114.9,-43.6"/>
<polygon transform="translate(338.7 148.5)" points="0,0 0,-3.4 2.3,-4.2 2.9,-4.2 5.2,-2.7 6.3,-3.2 9.2,-6.6 11.5,-8 40.2,-20.3 80.4,-36.8 114.9,-49.6 114.9,-43.6"/>
<polygon transform="translate(338.9 148.7)" points="0,0 0,-3.4 2.3,-4.2 2.9,-4.2 5.2,-2.7 80.4,-32.1 114.9,-45.1 114.9,-43.6"/>
<polygon transform="translate(339.1 148.8)" points="0,0 0,-3.4 2.3,-4.2 2.9,-4.2 5.2,-2.7 40.2,-16.5 114.9,-44.9 114.9,-43.6"/>
<polygon transform="translate(339.3 149)" points="0,0 0,-3.4 2.3,-4.2 2.9,-4.2 5.2,-2.7 8,-3.8 11.5,-5.6 40.2,-17 114.9,-45.5 114.9,-43.6"/>
<polygon transform="translate(339.6 149.1)" points="0,0 0,-3.4 2.3,-4.2 2.9,-4.2 5.2,-2.7 7.5,-3.6 9.2,-4.9 11.5,-6 40.2,-17.6 80.4,-33.2 114.9,-46.2 114.9,-43.6"/>
<polygon transform="translate(339.8 149.3)" points="0,0 0,-3.4 2.3,-4.2 2.9,-4.2 5.2,-2.7 6.9,-3.4 9.2,-5.3 11.5,-6.5 40.2,-18.3 80.4,-34 114.9,-47 114.9,-43.6"/>
<polygon transform="translate(340 149.4)" points="0,0 0,-3.4 2.3,-4.2 2.9,-4.2 5.2,-2.7 6.3,-3.2 6.9,-3.5 9.2,-5.8 11.5,-7.1 40.2,-19.1 80.4,-34.9 114.9,-47.9 114.9,-43.6"/>
<polygon transform="translate(340.2 149.6)" points="0,0 0,-3.4 2.3,-4.2 2.9,-4.2 5.2,-2.7 6.3,-3.2 9.2,-6.3 11.5,-7.7 40.2,-20 80.4,-35.9 114.9,-48.9 114.9,-43.6"/>
<polygon transform="translate(340.5 149.7)" points="0,0 0,-3.4 2.3,-4.2 2.9,-4.2 5.2,-2.7 6.3,-3.2 9.2,-6.9 11.5,-8.4 40.2,-21 80.4,-37 114.9,-50 114.9,-43.6"/>
<polygon transform="translate(340.7 149.8)" points="0,0 0,-3.4 2.3,-4.2 2.9,-4.2 5.2,-2.7 5.7,-2.9 6.3,-3.2 9.2,-7.6 11.5,-9.2 40.2,-22.1 80.4,-38.3 114.9,-51.2 114.9,-43.6"/>
<polygon transform="translate(340.9 150)" points="0,0 0,-3.4 2.3,-4.2 2.9,-4.2 5.2,-2.7 5.7,-2.9 6.3,-3.4 9.2,-8.3 11.5,-10 40.2,-23.3 80.4,-39.6 114.9,-52.5 114.9,-43.6"/>
<polygon transform="translate(341.2 150.1)" points="0,0 0,-3.4 2.3,-4.2 2.9,-4.2 5.2,-2.7 5.7,-2.9 6.3,-3.5 9.2,-9.1 11.5,-10.9 40.2,-24.6 80.4,-41.1 114.9,-53.9 114.9,-43.6"/>
<polygon transform="translate(341.4 150.3)" points="0,0 0,-3.4 2.3,-4.2 2.9,-4.2 5.2,-2.7 5.7,-2.9 6.3,-3.7 9.2,-9.9 11.5,-11.9 40.2,-26 80.4,-42.6 114.9,-55.4 114.9,-43.6"/>
<polygon transform="translate(341.6 150.4)" points="0,0 0,-3.4 2.3,-4.2 2.9,-4.2 5.2,-2.7 5.7,-2.9 6.3,-3.9 9.2,-10.8 11.5,-12.9 40.2,-27.5 80.4,-44.3 114.9,-57.1 114.9,-43.6"/>
<polygon transform="translate(341.8 150.6)" points="0,0 0,-3.4 2.3,-4.2 2.9,-4.2 5.2,-2.7 6.3,-3.2 9.2,-6.7 11.5,-8.2 40.2,-20.7 80.4,-36.6 114.9,-49.6 114.9,-43.6"/>
<polygon transform="translate(342.1 150.7)" points="0,0 0,-3.4 2.3,-4.2 2.9,-4.2 5.2,-2.7 40.2,-16.6 114.9,-45.1 114.9,-43.6"/>
<polygon transform="translate(342.3 150.9)" points="0,0 0,-3.4 2.3,-4.2 2.9,-4.2 5.2,-2.7 114.9,-44.4 114.9,-43.6"/>
<polygon transform="translate(342.5 151)" points="0,0 0,-3.4 2.3,-4.2 2.9,-4.2 5.2,-2.7 114.9,-44.4 114.9,-43.6"/>
<polygon transform="translate(342.7 151.2)" points="0,0 0,-3.4 2.3,-4.2 2.9,-4.2 5.2,-2.7 9.2,-4.6 114.9,-44.7 114.9,-43.6"/>
<polygon transform="translate(343 151.3)" points="0,0 0,-3.4 2.3,-4.2 2.9,-4.2 4.6,-3.1 5.2,-3 6.9,-4.3 9.2,-5.4 114.9,-45.6 114.9,-43.6"/>
<polygon transform="translate(343.2 151.5)" points="0,0 0,-3.4 2.3,-4.2 2.9,-4.2 4.6,-3.1 6.9,-5.2 9.2,-6.5 114.9,-46.7 114.9,-43.6"/>
<polygon transform="translate(343.4 151.6)" points="0,0 0,-3.4 2.3,-4.2 2.9,-4.2 4,-3.4 4.6,-3.5 6.9,-6.4 9.2,-7.8 114.9,-48.1 114.9,-43.6"/>
<polygon transform="translate(343.6 151.8)" points="0,0 0,-3.4 2.3,-4.2 2.9,-4.2 4,-3.4 6.9,-7.7 9.2,-9.4 114.9,-49.7 114.9,-43.6"/>
<polygon transform="translate(343.9 151.9)" points="0,0 0,-3.4 2.3,-4.2 4,-3.7 6.9,-9.3 9.2,-11.2 114.9,-51.6 114.9,-43.6"/>
<polygon transform="translate(344.1 152.1)" points="0,0 0,-3.4 2.3,-4.2 2.9,-4.2 3.4,-3.8 4,-4.3 6.9,-11.1 9.2,-13.3 114.9,-53.8 114.9,-43.6"/>
<polygon transform="translate(344.3 152.2)" points="0,0 0,-3.4 2.3,-4.2 2.9,-4.2 3.4,-3.8 4,-4.9 6.3,-11.8 6.9,-13.1 9.2,-15.6 114.9,-56.1 114.9,-43.6"/>
<polygon transform="translate(344.5 152.4)" points="0,0 0,-3.4 2.3,-4.2 2.9,-4.2 3.4,-3.8 6.3,-13.8 6.9,-15.3 9.2,-18.1 114.9,-58.8 114.9,-43.6"/>
<polygon transform="translate(344.8 152.5)" points="0,0 0,-3.4 2.3,-4.2 3.4,-3.9 6.3,-16 6.9,-17.7 9.2,-20.9 114.9,-61.7 114.9,-43.6"/>
<polygon transform="translate(345 152.7)" points="0,0 0,-3.4 2.3,-4.2 4,-3.7 6.9,-9.3 9.2,-11.2 114.9,-51.6 114.9,-43.6"/>
<polygon transform="translate(345.2 152.8)" points="0,0 0,-3.4 2.3,-4.2 2.9,-4.2 4.6,-3.1 5.2,-3 6.9,-4.3 9.2,-5.4 114.9,-46.1 114.9,-43.6"/>
<polygon transform="translate(345.4 153)" points="0,0 0,-3.4 2.3,-4.2 2.9,-4.2 4.6,-3.1 5.2,-3.4 7.5,-5.8 9.8,-7.1 114.9,-48 114.9,-43.6"/>
<polygon transform="translate(345.7 153.1)" points="0,0 0,-3.4 2.3,-4.2 2.9,-4.2 4.6,-3.3 7.5,-7.5 9.8,-9.1 114.9,-50.4 114.9,-43.6"/>
<polygon transform="translate(345.9 153.3)" points="0,0 0,-3.4 2.3,-4.2 2.9,-4.2 4,-3.4 4.6,-3.9 7.5,-9.5 9.8,-11.5 114.9,-53.4 114.9,-43.6"/>
<polygon transform="translate(346.1 153.4)" points="0,0 0,-3.4 2.3,-4.2 2.9,-4.2 4,-3.4 7.5,-11.9 9.8,-14.2 114.9,-57 114.9,-43.6"/>
<polygon transform="translate(346.3 153.6)" points="0,0 0,-3.4 2.3,-4.2 2.9,-4.2 4,-3.6 6.9,-13.3 7.5,-14.7 9.8,-17.5 114.9,-61 114.9,-43.6"/>
<polygon transform="translate(346.6 153.7)" points="0,0 0,-3.4 2.3,-4.2 2.9,-4.2 4,-3.4 4.6,-3.5 7.5,-8.1 9.8,-9.8 114.9,-51.4 114.9,-43.6"/>
<polygon transform="translate(346.8 153.9)" points="0,0 0,-3.4 2.3,-4.2 2.9,-4.2 5.2,-2.7 7.5,-4.2 9.8,-5.2 114.9,-45.5 114.9,-43.6"/>
<polygon transform="translate(347 154)" points="0,0 0,-3.4 2.3,-4.2 2.9,-4.2 5.2,-2.7 114.9,-44.4 114.9,-43.6"/>
<polygon transform="translate(347.2 154.2)" points="0,0 0,-3.4 2.3,-4.2 2.9,-4.2 5.2,-2.7 114.9,-44.4 114.9,-43.6"/>
<polygon transform="translate(347.5 154.3)" points="0,0 0,-3.4 2.3,-4.2 2.9,-4.2 5.2,-2.7 114.9,-44.4 114.9,-43.6"/>
<polygon transform="translate(347.7 154.5)" points="0,0 0,-3.4 2.3,-4.2 2.9,-4.2 5.2,-2.7 114.9,-44.4 114.9,-43.6"/>
<polygon transform="translate(347.9 154.6)" points="0,0 0,-3.4 2.3,-4.2 2.9,-4.2 5.2,-2.7 114.9,-44.4 114.9,-43.6"/>
<polygon transform="translate(348.1 154.8)" points="0,0 0,-3.4 2.3,-4.2 2.9,-4.2 5.2,-2.7 114.9,-44.6 114.9,-43.6"/>
<polygon transform="translate(348.4 154.9)" points="0,0 0,-3.4 2.3,-4.2 2.9,-4.2 5.2,-2.7 80.4,-31.9 114.9,-45 114.9,-43.6"/>
<polygon transform="translate(348.6 155.1)" points="0,0 0,-3.4 2.3,-4.2 2.9,-4.2 5.2,-2.7 8.6,-4 12.1,-5.7 40.2,-16.8 80.4,-32.5 114.9,-45.5 114.9,-43.6"/>
<polygon transform="translate(348.8 155.2)" points="0,0 0,-3.4 2.3,-4.2 2.9,-4.2 5.2,-2.7 8,-3.8 9.8,-5 12.1,-6.1 40.2,-17.3 80.4,-33.1 114.9,-46.1 114.9,-43.6"/>
<polygon transform="translate(349.1 155.4)" points="0,0 0,-3.4 2.3,-4.2 2.9,-4.2 5.2,-2.7 7.5,-3.6 9.8,-5.3 12.1,-6.5 40.2,-17.9 80.4,-33.7 114.9,-46.8 114.9,-43.6"/>
<polygon transform="translate(349.3 155.5)" points="0,0 0,-3.4 2.3,-4.2 2.9,-4.2 5.2,-2.7 7.5,-3.6 9.8,-5.7 12.1,-6.9 40.2,-18.5 80.4,-34.5 114.9,-47.6 114.9,-43.6"/>
<polygon transform="translate(349.5 155.7)" points="0,0 0,-3.4 2.3,-4.2 2.9,-4.2 5.2,-2.7 6.9,-3.4 7.5,-3.7 9.8,-6.1 12.1,-7.4 40.2,-19.1 80.4,-35.3 114.9,-48.4 114.9,-43.6"/>
<polygon transform="translate(349.7 155.8)" points="0,0 0,-3.4 2.3,-4.2 2.9,-4.2 5.2,-2.7 6.9,-3.4 9.8,-6.6 12.1,-8 40.2,-19.9 80.4,-36.2 114.9,-49.3 114.9,-43.6"/>
<polygon transform="translate(350 156)" points="0,0 0,-3.4 2.3,-4.2 2.9,-4.2 5.2,-2.7 6.9,-3.4 9.8,-7.1 12.1,-8.6 40.2,-20.7 80.4,-37.2 114.9,-50.3 114.9,-43.6"/>
<polygon transform="translate(350.2 156.1)" points="0,0 0,-3.4 2.3,-4.2 2.9,-4.2 5.2,-2.7 6.3,-3.2 6.9,-3.4 9.8,-7.6 12.1,-9.2 40.2,-21.6 80.4,-38.3 114.9,-51.4 114.9,-43.6"/>
<polygon transform="translate(350.4 156.3)" points="0,0 0,-3.4 2.3,-4.2 2.9,-4.2 5.2,-2.7 6.3,-3.2 6.9,-3.6 9.8,-8.2 12.1,-9.9 40.2,-22.5 80.4,-39.4 114.9,-52.5 114.9,-43.6"/>
<polygon transform="translate(350.6 156.4)" points="0,0 0,-3.4 2.3,-4.2 2.9,-4.2 5.2,-2.7 6.3,-3.2 6.9,-3.7 9.8,-8.8 12.1,-10.6 40.2,-23.5 80.4,-40.7 114.9,-53.8 114.9,-43.6"/>
<polygon transform="translate(350.9 156.6)" points="0,0 0,-3.4 2.3,-4.2 2.9,-4.2 5.2,-2.7 6.3,-3.2 6.9,-3.8 9.8,-9.5 12.1,-11.4 40.2,-24.5 80.4,-42 114.9,-55.1 114.9,-43.6"/>
<polygon transform="translate(351.1 156.7)" points="0,0 0,-3.4 2.3,-4.2 2.9,-4.2 5.2,-2.7 6.3,-3.2 6.9,-4 9.8,-10.2 12.1,-12.2 40.2,-25.7 80.4,-43.4 114.9,-56.5 114.9,-43.6"/>
<polygon transform="translate(351.3 156.9)" points="0,0 0,-3.4 2.3,-4.2 2.9,-4.2 5.2,-2.7 6.9,-3.4 9.8,-6.6 12.1,-8 40.2,-19.9 80.4,-36.2 114.9,-49.3 114.9,-43.6"/>
<polygon transform="translate(351.5 157)" points="0,0 0,-3.4 2.3,-4.2 2.9,-4.2 5.2,-2.7 80.4,-31.9 114.9,-45 114.9,-43.6"/>
<polygon transform="translate(351.8 157.1)" points="0,0 0,-3.4 2.3,-4.2 2.9,-4.2 5.2,-2.7 114.9,-44.4 114.9,-43.6"/>
<polygon transform="translate(352 157.3)" points="0,0 0,-3.4 2.3,-4.2 2.9,-4.2 5.2,-2.7 114.9,-44.4 114.9,-43.6"/>
<polygon transform="translate(352.2 157.4)" points="0,0 0,-3.4 2.3,-4.2 2.9,-4.2 5.2,-2.7 114.9,-44.4 114.9,-43.6"/>
<polygon transform="translate(352.4 157.6)" points="0,0 0,-3.4 2.3,-4.2 2.9,-4.2 5.2,-2.7 114.9,-44.4 114.9,-43.6"/>
<polygon transform="translate(352.7 157.7)" points="0,0 0,-3.4 2.3,-4.2 2.9,-4.2 5.2,-2.7 114.9,-44.4 114.9,-43.6"/>
<polygon transform="translate(352.9 157.9)" points="0,0 0,-3.4 2.3,-4.2 2.9,-4.2 5.2,-2.7 114.9,-44.4 114.9,-43.6"/>
<polygon transform="translate(353.1 158)" points="0,0 0,-3.4 2.3,-4.2 2.9,-4.2 5.2,-2.7 114.9,-44.4 114.9,-43.6"/>
<polygon transform="translate(353.3 158.2)" points="0,0 0,-3.4 2.3,-4.2 2.9,-4.2 5.2,-2.7 114.9,-44.5 114.9,-43.6"/>
<polygon transform="translate(353.6 158.3)" points="0,0 0,-3.4 2.3,-4.2 2.9,-4.2 5.2,-2.7 114.9,-45 114.9,-43.6"/>
<polygon transform="translate(353.8 158.5)" points="0,0 0,-3.4 2.3,-4.2 2.9,-4.2 5.2,-2.7 34.5,-14.4 114.9,-45.7 114.9,-43.6"/>
<polygon transform="translate(354 158.6)" points="0,0 0,-3.4 2.3,-4.2 2.9,-4.2 5.2,-2.7 8,-3.8 9.2,-4.6 11.5,-5.7 34.5,-14.8 80.4,-32.7 114.9,-46.4 114.9,-43.6"/>
<polygon transform="translate(354.2 158.8)" points="0,0 0,-3.4 2.3,-4.2 2.9,-4.2 5.2,-2.7 7.5,-3.6 9.2,-4.9 11.5,-6.1 34.5,-15.4 80.4,-33.4 114.9,-47.3 114.9,-43.6"/>
<polygon transform="translate(354.5 158.9)" points="0,0 0,-3.4 2.3,-4.2 2.9,-4.2 5.2,-2.7 6.9,-3.4 9.2,-5.3 11.5,-6.5 34.5,-16 80.4,-34.2 114.9,-48.3 114.9,-43.6"/>
<polygon transform="translate(354.7 159.1)" points="0,0 0,-3.4 2.3,-4.2 2.9,-4.2 5.2,-2.7 6.3,-3.2 6.9,-3.4 9.2,-5.7 11.5,-7 34.5,-16.7 80.4,-35.1 114.9,-49.4 114.9,-43.6"/>
<polygon transform="translate(354.9 159.2)" points="0,0 0,-3.4 2.3,-4.2 2.9,-4.2 5.2,-2.7 6.3,-3.2 9.2,-6.2 11.5,-7.6 34.5,-17.4 80.4,-36 114.9,-50.6 114.9,-43.6"/>
<polygon transform="translate(355.1 159.4)" points="0,0 0,-3.4 2.3,-4.2 2.9,-4.2 5.2,-2.7 6.3,-3.2 9.2,-6.7 11.5,-8.2 34.5,-18.2 80.4,-37 114.9,-51.9 114.9,-43.6"/>
<polygon transform="translate(355.4 159.5)" points="0,0 0,-3.4 2.3,-4.2 2.9,-4.2 5.2,-2.7 6.3,-3.2 9.2,-7.3 11.5,-8.8 34.5,-19.1 80.4,-38.2 114.9,-53.3 114.9,-43.6"/>
<polygon transform="translate(355.6 159.7)" points="0,0 0,-3.4 2.3,-4.2 2.9,-4.2 5.2,-2.7 5.7,-2.9 6.3,-3.3 9.2,-7.9 11.5,-9.5 34.5,-20.1 80.4,-39.4 114.9,-54.9 114.9,-43.6"/>
<polygon transform="translate(355.8 159.8)" points="0,0 0,-3.4 2.3,-4.2 2.9,-4.2 5.2,-2.7 5.7,-2.9 6.3,-3.4 9.2,-8.5 11.5,-10.3 34.5,-21.2 80.4,-40.7 114.9,-56.6 114.9,-43.6"/>
<polygon transform="translate(356 160)" points="0,0 0,-3.4 2.3,-4.2 2.9,-4.2 5.2,-2.7 5.7,-2.9 6.3,-3.6 9.2,-9.2 11.5,-11.1 34.5,-22.3 80.4,-42.1 114.9,-58.3 114.9,-43.6"/>
<polygon transform="translate(356.3 160.1)" points="0,0 0,-3.4 2.3,-4.2 2.9,-4.2 5.2,-2.7 5.7,-2.9 6.3,-3.7 9.2,-10 11.5,-12 34.5,-23.5 80.4,-43.6 114.9,-60.2 114.9,-43.6"/>
<polygon transform="translate(356.5 160.3)" points="0,0 0,-3.4 2.3,-4.2 2.9,-4.2 5.2,-2.7 5.7,-2.9 6.3,-3.9 9.2,-10.8 11.5,-12.9 25.3,-20 34.5,-24.7 80.4,-45.2 114.9,-62.3 114.9,-43.6"/>
<polygon transform="translate(356.7 160.4)" points="0,0 0,-3.4 2.3,-4.2 2.9,-4.2 5.2,-2.7 6.3,-3.2 9.2,-6.7 11.5,-8.2 34.5,-18.2 80.4,-37 114.9,-51.9 114.9,-43.6"/>
<polygon transform="translate(356.9 160.6)" points="0,0 0,-3.4 2.3,-4.2 2.9,-4.2 5.2,-2.7 34.5,-14.4 114.9,-45.7 114.9,-43.6"/>
<polygon transform="translate(357.2 160.7)" points="0,0 0,-3.4 2.3,-4.2 2.9,-4.2 5.2,-2.7 114.9,-44.5 114.9,-43.6"/>
<polygon transform="translate(357.4 160.9)" points="0,0 0,-3.4 2.3,-4.2 2.9,-4.2 5.2,-2.7 114.9,-44.9 114.9,-43.6"/>
<polygon transform="translate(357.6 161)" points="0,0 0,-3.4 2.3,-4.2 2.9,-4.2 5.2,-2.7 80.4,-32.2 114.9,-45.3 114.9,-43.6"/>
<polygon transform="translate(357.9 161.2)" points="0,0 0,-3.4 2.3,-4.2 2.9,-4.2 5.2,-2.7 8.6,-4 12.1,-5.8 40.2,-16.9 80.4,-32.7 114.9,-45.9 114.9,-43.6"/>
<polygon transform="translate(358.1 161.3)" points="0,0 0,-3.4 2.3,-4.2 2.9,-4.2 5.2,-2.7 8,-3.8 9.8,-5 12.1,-6.1 40.2,-17.4 80.4,-33.2 114.9,-46.5 114.9,-43.6"/>
<polygon transform="translate(358.3 161.5)" points="0,0 0,-3.4 2.3,-4.2 2.9,-4.2 5.2,-2.7 7.5,-3.6 9.8,-5.3 12.1,-6.5 80.4,-33.9 114.9,-47.1 114.9,-43.6"/>
<polygon transform="translate(358.5 161.6)" points="0,0 0,-3.4 2.3,-4.2 2.9,-4.2 5.2,-2.7 7.5,-3.6 9.8,-5.7 12.1,-6.9 80.4,-34.6 114.9,-47.9 114.9,-43.6"/>
<polygon transform="translate(358.8 161.8)" points="0,0 0,-3.4 2.3,-4.2 2.9,-4.2 5.2,-2.7 6.9,-3.4 7.5,-3.7 9.8,-6 12.1,-7.3 80.4,-35.4 114.9,-48.7 114.9,-43.6"/>
<polygon transform="translate(359 161.9)" points="0,0 0,-3.4 2.3,-4.2 2.9,-4.2 5.2,-2.7 6.9,-3.4 9.8,-6.5 12.1,-7.8 40.2,-19.7 80.4,-36.2 114.9,-49.5 114.9,-43.6"/>
<polygon transform="translate(359.2 162.1)" points="0,0 0,-3.4 2.3,-4.2 2.9,-4.2 5.2,-2.7 6.9,-3.4 9.8,-6.9 12.1,-8.3 40.2,-20.4 80.4,-37.1 114.9,-50.5 114.9,-43.6"/>
<polygon transform="translate(359.4 162.2)" points="0,0 0,-3.4 2.3,-4.2 2.9,-4.2 5.2,-2.7 6.9,-3.4 9.8,-7.4 12.1,-8.9 40.2,-21.1 80.4,-38.1 114.9,-51.5 114.9,-43.6"/>
<polygon transform="translate(359.7 162.4)" points="0,0 0,-3.4 2.3,-4.2 2.9,-4.2 5.2,-2.7 6.3,-3.2 6.9,-3.5 9.8,-7.9 12.1,-9.5 40.2,-21.9 80.4,-39.1 114.9,-52.6 114.9,-43.6"/>
<polygon transform="translate(359.9 162.5)" points="0,0 0,-3.4 2.3,-4.2 2.9,-4.2 5.2,-2.7 6.3,-3.2 6.9,-3.6 9.8,-8.4 12.1,-10.1 40.2,-22.8 80.4,-40.2 114.9,-53.8 114.9,-43.6"/>
<polygon transform="translate(360.1 162.7)" points="0,0 0,-3.4 2.3,-4.2 2.9,-4.2 5.2,-2.7 6.3,-3.2 6.9,-3.7 9.8,-9 12.1,-10.8 40.2,-23.7 80.4,-41.4 114.9,-55 114.9,-43.6"/>
<polygon transform="translate(360.3 162.8)" points="0,0 0,-3.4 2.3,-4.2 2.9,-4.2 5.2,-2.7 6.3,-3.2 6.9,-3.8 9.8,-9.6 12.1,-11.5 40.2,-24.6 80.4,-42.7 114.9,-56.3 114.9,-43.6"/>
<polygon transform="translate(360.6 163)" points="0,0 0,-3.4 2.3,-4.2 2.9,-4.2 5.2,-2.7 6.3,-3.2 6.9,-4 9.8,-10.2 12.1,-12.2 40.2,-25.7 80.4,-44 114.9,-57.7 114.9,-43.6"/>
<polygon transform="translate(360.8 163.1)" points="0,0 0,-3.4 2.3,-4.2 2.9,-4.2 5.2,-2.7 6.9,-3.4 9.8,-6.6 12.1,-8 40.2,-19.9 80.4,-36.5 114.9,-49.9 114.9,-43.6"/>
<polygon transform="translate(361 163.3)" points="0,0 0,-3.4 2.3,-4.2 2.9,-4.2 5.2,-2.7 80.4,-32 114.9,-45.2 114.9,-43.6"/>
<polygon transform="translate(361.2 163.4)" points="0,0 0,-3.4 2.3,-4.2 2.9,-4.2 5.2,-2.7 114.9,-44.4 114.9,-43.6"/>
<polygon transform="translate(361.5 163.6)" points="0,0 0,-3.4 2.3,-4.2 2.9,-4.2 5.2,-2.7 114.9,-44.4 114.9,-43.6"/>
<polygon transform="translate(361.7 163.7)" points="0,0 0,-3.4 2.3,-4.2 2.9,-4.2 5.2,-2.7 114.9,-44.4 114.9,-43.6"/>
<polygon transform="translate(361.9 163.9)" points="0,0 0,-3.4 2.3,-4.2 2.9,-4.2 5.2,-2.7 114.9,-44.4 114.9,-43.6"/>
<polygon transform="translate(362.1 164)" points="0,0 0,-3.4 2.3,-4.2 2.9,-4.2 5.2,-2.7 114.9,-44.4 114.9,-43.6"/>
<polygon transform="translate(362.4 164.2)" points="0,0 0,-3.4 2.3,-4.2 2.9,-4.2 5.2,-2.7 114.9,-44.4 114.9,-43.6"/>
<polygon transform="translate(362.6 164.3)" points="0,0 0,-3.4 2.3,-4.2 2.9,-4.2 5.2,-2.7 114.9,-44.4 114.9,-43.6"/>
<polygon transform="translate(362.8 164.5)" points="0,0 0,-3.4 2.3,-4.2 2.9,-4.2 5.2,-2.7 114.9,-44.4 114.9,-43.6"/>
<polygon transform="translate(363 164.6)" points="0,0 0,-3.4 2.3,-4.2 2.9,-4.2 5.2,-2.7 114.9,-44.4 114.9,-43.6"/>
<polygon transform="translate(363.3 164.7)" points="0,0 0,-3.4 2.3,-4.2 2.9,-4.2 5.2,-2.7 114.9,-44.4 114.9,-43.6"/>
<polygon transform="translate(363.5 164.9)" points="0,0 0,-3.4 2.3,-4.2 2.9,-4.2 5.2,-2.7 114.9,-44.4 114.9,-43.6"/>
<polygon transform="translate(363.7 165)" points="0,0 0,-3.4 2.3,-4.2 2.9,-4.2 5.2,-2.7 114.9,-44.4 114.9,-43.6"/>
<polygon transform="translate(363.9 165.2)" points="0,0 0,-3.4 2.3,-4.2 2.9,-4.2 5.2,-2.7 114.9,-44.8 114.9,-43.6"/>
<polygon transform="translate(364.2 165.3)" points="0,0 0,-3.4 2.3,-4.2 2.9,-4.2 5.2,-2.7 114.9,-45.3 114.9,-43.6"/>
<polygon transform="translate(364.4 165.5)" points="0,0 0,-3.4 2.3,-4.2 2.9,-4.2 5.2,-2.7 8.6,-4 12.1,-5.7 40.2,-16.8 114.9,-45.9 114.9,-43.6"/>
<polygon transform="translate(364.6 165.6)" points="0,0 0,-3.4 2.3,-4.2 2.9,-4.2 5.2,-2.7 8,-3.8 9.8,-5 12.1,-6.1 114.9,-46.7 114.9,-43.6"/>
<polygon transform="translate(364.8 165.8)" points="0,0 0,-3.4 2.3,-4.2 2.9,-4.2 5.2,-2.7 7.5,-3.6 9.8,-5.4 12.1,-6.5 40.2,-17.9 114.9,-47.5 114.9,-43.6"/>
<polygon transform="translate(365.1 165.9)" points="0,0 0,-3.4 2.3,-4.2 2.9,-4.2 5.2,-2.7 7.5,-3.6 9.8,-5.7 12.1,-7 40.2,-18.5 114.9,-48.4 114.9,-43.6"/>
<polygon transform="translate(365.3 166.1)" points="0,0 0,-3.4 2.3,-4.2 2.9,-4.2 5.2,-2.7 6.9,-3.4 7.5,-3.8 9.8,-6.2 12.1,-7.5 40.2,-19.2 114.9,-49.4 114.9,-43.6"/>
<polygon transform="translate(365.5 166.2)" points="0,0 0,-3.4 2.3,-4.2 2.9,-4.2 5.2,-2.7 6.9,-3.4 9.8,-6.6 12.1,-8 40.2,-19.9 114.9,-50.5 114.9,-43.6"/>
<polygon transform="translate(365.8 166.4)" points="0,0 0,-3.4 2.3,-4.2 2.9,-4.2 5.2,-2.7 6.9,-3.4 9.8,-7.1 12.1,-8.6 40.2,-20.7 114.9,-51.7 114.9,-43.6"/>
<polygon transform="translate(366 166.5)" points="0,0 0,-3.4 2.3,-4.2 2.9,-4.2 5.2,-2.7 6.3,-3.2 6.9,-3.5 9.8,-7.7 12.1,-9.3 40.2,-21.6 114.9,-53 114.9,-43.6"/>
<polygon transform="translate(366.2 166.7)" points="0,0 0,-3.4 2.3,-4.2 2.9,-4.2 5.2,-2.7 6.3,-3.2 6.9,-3.6 9.8,-8.3 12.1,-10 40.2,-22.5 114.9,-54.4 114.9,-43.6"/>
<polygon transform="translate(366.4 166.8)" points="0,0 0,-3.4 2.3,-4.2 2.9,-4.2 5.2,-2.7 6.3,-3.2 6.9,-3.7 9.8,-8.9 12.1,-10.7 40.2,-23.5 114.9,-55.8 114.9,-43.6"/>
<polygon transform="translate(366.7 167)" points="0,0 0,-3.4 2.3,-4.2 2.9,-4.2 5.2,-2.7 6.9,-3.4 7.5,-3.7 9.8,-6 12.1,-7.3 40.2,-18.9 114.9,-49 114.9,-43.6"/>
<polygon transform="translate(366.9 167.1)" points="0,0 0,-3.4 2.3,-4.2 2.9,-4.2 5.2,-2.7 114.9,-45 114.9,-43.6"/>
<polygon transform="translate(367.1 167.3)" points="0,0 0,-3.4 2.3,-4.2 2.9,-4.2 5.2,-2.7 114.9,-44.4 114.9,-43.6"/>
<polygon transform="translate(367.3 167.4)" points="0,0 0,-3.4 2.3,-4.2 2.9,-4.2 5.2,-2.7 114.9,-44.4 114.9,-43.6"/>
<polygon transform="translate(367.6 167.6)" points="0,0 0,-3.4 2.3,-4.2 2.9,-4.2 5.2,-2.7 114.9,-44.4 114.9,-43.6"/>
<polygon transform="translate(367.8 167.7)" points="0,0 0,-3.4 2.3,-4.2 2.9,-4.2 5.2,-2.7 114.9,-44.4 114.9,-43.6"/>
<polygon transform="translate(368 167.9)" points="0,0 0,-3.4 2.3,-4.2 2.9,-4.2 5.2,-2.7 114.9,-44.4 114.9,-43.6"/>
<polygon transform="translate(368.2 168)" points="0,0 0,-3.4 2.3,-4.2 2.9,-4.2 5.2,-2.7 114.9,-44.4 114.9,-43.6"/>
<polygon transform="translate(368.5 168.2)" points="0,0 0,-3.4 2.3,-4.2 2.9,-4.2 5.2,-2.7 74.7,-29.1 114.9,-44.7 114.9,-43.6"/>
<polygon transform="translate(368.7 168.3)" points="0,0 0,-3.4 2.3,-4.2 2.9,-4.2 5.2,-2.7 57.5,-22.7 100.5,-40 114.9,-45.6 114.9,-43.6"/>
<polygon transform="translate(368.9 168.5)" points="0,0 0,-3.4 2.3,-4.2 2.9,-4.2 5.2,-2.7 57.5,-23.2 100.5,-41.1 114.9,-46.7 114.9,-43.6"/>
<polygon transform="translate(369.1 168.6)" points="0,0 0,-3.4 2.3,-4.2 2.9,-4.2 5.2,-2.7 8.6,-4 13.8,-6.5 57.5,-23.9 80.4,-33.9 100.5,-42.4 114.9,-48.1 114.9,-43.6"/>
<polygon transform="translate(369.4 168.8)" points="0,0 0,-3.4 2.3,-4.2 2.9,-4.2 5.2,-2.7 8,-3.8 10.3,-5.4 13.8,-7 57.5,-24.6 80.4,-35.1 100.5,-43.9 114.9,-49.7 114.9,-43.6"/>
<polygon transform="translate(369.6 168.9)" points="0,0 0,-3.4 2.3,-4.2 2.9,-4.2 5.2,-2.7 7.5,-3.6 10.3,-5.8 13.8,-7.5 57.5,-25.5 80.4,-36.5 100.5,-45.6 114.9,-51.6 114.9,-43.6"/>
<polygon transform="translate(369.8 169.1)" points="0,0 0,-3.4 2.3,-4.2 2.9,-4.2 5.2,-2.7 6.9,-3.4 10.3,-6.3 13.8,-8.1 57.5,-26.4 80.4,-38.1 100.5,-47.6 114.9,-53.8 114.9,-43.6"/>
<polygon transform="translate(370 169.2)" points="0,0 0,-3.4 2.3,-4.2 2.9,-4.2 5.2,-2.7 6.3,-3.2 6.9,-3.4 10.3,-6.8 13.8,-8.8 57.5,-27.5 80.4,-39.8 100.5,-49.9 114.9,-56.2 114.9,-43.6"/>
<polygon transform="translate(370.3 169.4)" points="0,0 0,-3.4 2.3,-4.2 2.9,-4.2 5.2,-2.7 6.3,-3.2 10.3,-7.4 13.8,-9.6 57.5,-28.7 66.6,-34.1 80.4,-41.8 100.5,-52.3 114.9,-58.8 114.9,-43.6"/>
<polygon transform="translate(370.5 169.5)" points="0,0 0,-3.4 2.3,-4.2 2.9,-4.2 5.2,-2.7 6.3,-3.2 10.3,-8.1 13.8,-10.4 57.5,-30.1 66.6,-35.8 80.4,-43.9 100.5,-55 114.9,-61.7 114.9,-43.6"/>
<polygon transform="translate(370.7 169.7)" points="0,0 0,-3.4 2.3,-4.2 2.9,-4.2 5.2,-2.7 6.3,-3.2 10.3,-8.8 13.8,-11.3 57.5,-31.5 66.6,-37.6 80.4,-46.3 100.5,-57.9 114.9,-64.8 114.9,-43.6"/>
<polygon transform="translate(370.9 169.8)" points="0,0 0,-3.4 2.3,-4.2 2.9,-4.2 5.2,-2.7 5.7,-2.9 6.3,-3.3 10.3,-9.6 10.9,-10.2 13.8,-12.3 57.5,-33 66.6,-39.6 80.4,-48.8 100.5,-61.1 114.9,-68.2 114.9,-43.6"/>
<polygon transform="translate(371.2 170)" points="0,0 0,-3.4 2.3,-4.2 2.9,-4.2 5.2,-2.7 5.7,-2.9 6.3,-3.5 10.3,-10.5 10.9,-11.1 13.8,-13.3 57.5,-34.7 66.6,-41.7 80.4,-51.5 100.5,-64.5 114.9,-71.8 114.9,-43.6"/>
<polygon transform="translate(371.4 170.1)" points="0,0 0,-3.4 2.3,-4.2 2.9,-4.2 5.2,-2.8 6.3,-3.6 10.3,-11.4 10.9,-12.1 13.8,-14.4 57.5,-36.5 66.6,-44 80.4,-54.4 100.5,-68.1 114.9,-75.7 114.9,-43.6"/>
<polygon transform="translate(371.6 170.3)" points="0,0 0,-3.4 2.3,-4.2 2.9,-4.2 4.6,-3.1 5.2,-3.2 8,-5.3 10.9,-8.6 13.8,-10.4 16.7,-11.7 17.8,-12.5 28.2,-17.4 31.6,-18.8 33.9,-19.5 57.5,-30.1 66.6,-35.8 80.4,-43.9 100.5,-55 114.9,-61.7 114.9,-43.6"/>
<polygon transform="translate(371.8 170.4)" points="0,0 0,-3.4 2.3,-4.2 2.9,-4.2 4.6,-3.1 17.8,-13.8 28.2,-19 31.6,-20.4 34.5,-21.1 35,-21.7 37.3,-22.2 37.9,-22.8 40.2,-23.4 40.8,-24 43.7,-24.7 44.2,-25.3 46.5,-25.9 47.1,-26.5 50,-27.3 50.6,-27.9 53.4,-28.6 54,-29.3 56.9,-30 57.5,-30.7 60.3,-31.4 60.9,-32 63.8,-32.8 64.3,-33.5 67.8,-34.4 68.4,-35 71.2,-35.8 71.8,-36.5 75.3,-37.4 75.8,-38.1 79.3,-39 79.9,-39.7 83.3,-40.6 83.9,-41.3 87.9,-42.4 88.5,-43.1 91.9,-44.1 92.5,-44.7 96.5,-45.9 97.1,-46.5 101.1,-47.7 101.7,-48.4 105.7,-49.6 106.3,-50.2 110.9,-51.6 111.5,-52.3 114.9,-53.3 114.9,-43.6"/>
<polygon transform="translate(372.1 170.6)" points="0,0 0,-3.4 2.3,-4.2 2.9,-4.2 4.6,-3.2 17.8,-15 28.2,-20.4 31.6,-21.8 34.5,-22.4 35,-23.1 37.3,-23.6 37.9,-24.3 40.2,-24.8 40.8,-25.4 43.7,-26.1 44.2,-26.8 46.5,-27.3 47.1,-28 50,-28.7 50.6,-29.4 53.4,-30 54,-30.7 56.9,-31.4 57.5,-32.1 60.3,-32.8 60.9,-33.5 63.8,-34.3 64.3,-35 67.8,-35.8 68.4,-36.5 71.2,-37.3 71.8,-38 75.3,-38.9 75.8,-39.6 79.3,-40.5 79.9,-41.2 83.3,-42.1 83.9,-42.9 87.9,-44 88.5,-44.7 91.9,-45.6 92.5,-46.3 96.5,-47.4 97.1,-48.2 101.1,-49.3 101.7,-50 105.7,-51.2 106.3,-51.9 110.9,-53.2 111.5,-53.9 114.9,-54.9 114.9,-43.6"/>
<polygon transform="translate(372.3 170.7)" points="0,0 0,-3.4 2.3,-4.2 2.9,-4.2 4,-3.4 4.6,-3.4 17.8,-16.1 28.2,-21.7 31.6,-23.1 34.5,-23.6 35,-24.4 37.3,-24.8 37.9,-25.5 40.2,-26 40.8,-26.7 43.7,-27.3 44.2,-28.1 46.5,-28.6 47.1,-29.3 50,-29.9 50.6,-30.7 53.4,-31.3 54,-32.1 56.9,-32.7 57.5,-33.5 60.3,-34.1 60.9,-34.9 63.8,-35.6 64.3,-36.3 67.8,-37.2 68.4,-37.9 71.2,-38.6 71.8,-39.4 75.3,-40.2 75.8,-41 79.3,-41.9 79.9,-42.7 83.3,-43.5 83.9,-44.3 87.9,-45.3 88.5,-46.1 91.9,-47 92.5,-47.8 96.5,-48.9 97.1,-49.7 101.1,-50.7 101.7,-51.5 105.7,-52.6 106.3,-53.4 110.9,-54.7 111.5,-55.5 114.9,-56.4 114.9,-43.6"/>
<polygon transform="translate(372.5 170.9)" points="0,0 0,-3.4 2.3,-4.2 2.9,-4.2 4,-3.4 4.6,-3.5 17.8,-17.1 28.2,-22.9 31.6,-24.3 34.5,-24.7 35,-25.5 37.3,-25.9 37.9,-26.7 40.2,-27.1 40.8,-28 43.7,-28.5 44.2,-29.3 46.5,-29.7 47.1,-30.5 50,-31.1 50.6,-31.9 53.4,-32.5 54,-33.3 56.9,-33.9 57.5,-34.7 60.3,-35.3 60.9,-36.2 63.8,-36.8 64.3,-37.6 67.8,-38.4 68.4,-39.2 71.2,-39.9 71.8,-40.7 75.3,-41.5 75.8,-42.3 79.3,-43.1 79.9,-44 83.3,-44.8 83.9,-45.6 87.9,-46.6 88.5,-47.5 91.9,-48.3 92.5,-49.2 96.5,-50.2 97.1,-51 101.1,-52.1 101.7,-52.9 105.7,-53.9 106.3,-54.8 110.9,-56 111.5,-56.9 114.9,-57.8 114.9,-43.6"/>
<polygon transform="translate(372.7 171)" points="0,0 0,-3.4 2.3,-4.2 2.9,-4.2 4,-3.4 4.6,-3.7 17.8,-18 28.2,-24 31.6,-25.4 34.5,-25.8 35,-26.7 37.3,-27 37.9,-27.9 40.2,-28.2 40.8,-29.1 43.7,-29.6 44.2,-30.4 46.5,-30.8 47.1,-31.7 50,-32.2 50.6,-33.1 53.4,-33.6 54,-34.5 56.9,-35 57.5,-35.9 60.3,-36.5 60.9,-37.4 63.8,-37.9 64.3,-38.8 67.8,-39.5 68.4,-40.4 71.2,-41 71.8,-41.9 75.3,-42.7 75.8,-43.6 79.3,-44.3 79.9,-45.2 83.3,-46 83.9,-46.9 87.9,-47.8 88.5,-48.7 91.9,-49.5 92.5,-50.4 96.5,-51.4 97.1,-52.3 101.1,-53.3 101.7,-54.2 105.7,-55.2 106.3,-56.1 110.9,-57.3 111.5,-58.2 114.9,-59.1 114.9,-43.6"/>
<polygon transform="translate(373 171.2)" points="0,0 0,-3.4 2.3,-4.2 2.9,-4.2 4,-3.4 4.6,-3.8 17.8,-18.9 28.2,-25 31.6,-26.4 34.5,-26.8 35,-27.7 37.3,-28 37.9,-28.9 40.2,-29.3 40.8,-30.2 43.7,-30.6 44.2,-31.5 46.5,-31.9 47.1,-32.8 50,-33.3 50.6,-34.2 53.4,-34.7 54,-35.6 56.9,-36.1 57.5,-37 60.3,-37.6 60.9,-38.5 63.8,-39 64.3,-40 67.8,-40.6 68.4,-41.6 71.2,-42.1 71.8,-43.1 75.3,-43.8 75.8,-44.7 79.3,-45.5 79.9,-46.4 83.3,-47.1 83.9,-48.1 87.9,-49 88.5,-49.9 91.9,-50.7 92.5,-51.7 96.5,-52.6 97.1,-53.5 101.1,-54.5 101.7,-55.4 105.7,-56.4 106.3,-57.4 110.9,-58.5 111.5,-59.4 114.9,-60.3 114.9,-43.6"/>
<polygon transform="translate(373.2 171.3)" points="0,0 0,-3.4 2.3,-4.2 2.9,-4.2 4,-3.4 17.8,-19.8 28.2,-26 31.6,-27.4 34.5,-27.8 35,-28.7 37.3,-29 37.9,-29.9 40.2,-30.2 40.8,-31.2 43.7,-31.6 44.2,-32.5 46.5,-32.9 47.1,-33.8 50,-34.3 50.6,-35.2 53.4,-35.7 54,-36.7 56.9,-37.1 57.5,-38.1 60.3,-38.6 60.9,-39.6 63.8,-40.1 64.3,-41.1 67.8,-41.7 68.4,-42.7 71.2,-43.2 71.8,-44.2 75.3,-44.9 75.8,-45.8 79.3,-46.5 79.9,-47.5 83.3,-48.2 83.9,-49.2 87.9,-50.1 88.5,-51.1 91.9,-51.8 92.5,-52.8 96.5,-53.7 97.1,-54.7 101.1,-55.6 101.7,-56.6 105.7,-57.5 106.3,-58.6 110.9,-59.6 111.5,-60.6 114.9,-61.5 114.9,-43.6"/>
<polygon transform="translate(373.4 171.5)" points="0,0 0,-3.4 2.3,-4.2 2.9,-4.2 4,-3.4 4.6,-3.9 17.8,-19 28.2,-25.1 31.6,-26.5 34.5,-26.9 35,-27.8 37.3,-28.1 37.9,-29 40.2,-29.3 40.8,-30.2 43.7,-30.7 44.2,-31.6 46.5,-31.9 47.1,-32.9 50,-33.3 50.6,-34.2 53.4,-34.7 54,-35.7 56.9,-36.2 57.5,-37.1 60.3,-37.6 60.9,-38.6 63.8,-39.1 64.3,-40 67.8,-40.7 68.4,-41.6 71.2,-42.2 71.8,-43.2 75.3,-43.9 75.8,-44.8 79.3,-45.5 79.9,-46.5 83.3,-47.2 83.9,-48.2 87.9,-49 88.5,-50 91.9,-50.8 92.5,-51.7 96.5,-52.6 97.1,-53.6 101.1,-54.5 101.7,-55.5 105.7,-56.5 106.3,-57.4 110.9,-58.5 111.5,-59.5 114.9,-60.4 114.9,-43.6"/>
<polygon transform="translate(373.6 171.6)" points="0,0 0,-3.4 2.3,-4.2 2.9,-4.2 4.6,-3.2 17.8,-15.3 28.2,-20.7 31.6,-22.1 34.5,-22.7 35,-23.4 37.3,-23.8 37.9,-24.5 40.2,-25 40.8,-25.7 43.7,-26.4 44.2,-27.1 46.5,-27.6 47.1,-28.3 50,-28.9 50.6,-29.7 53.4,-30.3 54,-31 56.9,-31.7 57.5,-32.4 60.3,-33.1 60.9,-33.8 63.8,-34.6 64.3,-35.3 67.8,-36.1 68.4,-36.9 71.2,-37.6 71.8,-38.3 75.3,-39.2 75.8,-39.9 79.3,-40.8 79.9,-41.5 83.3,-42.5 83.9,-43.2 87.9,-44.3 88.5,-45 91.9,-45.9 92.5,-46.7 96.5,-47.8 97.1,-48.5 101.1,-49.6 101.7,-50.4 105.7,-51.5 106.3,-52.2 110.9,-53.5 111.5,-54.3 114.9,-55.3 114.9,-43.6"/>
<polygon transform="translate(373.9 171.8)" points="0,0 0,-3.4 2.3,-4.2 2.9,-4.2 5.2,-2.7 5.7,-2.9 17.8,-9.7 28.2,-14.1 34.5,-16.3 35,-16.7 40.2,-18.6 40.8,-19 43.7,-19.9 44.2,-20.3 46.5,-21 47.1,-21.4 50,-22.4 50.6,-22.8 53.4,-23.7 54,-24.1 63.8,-27.7 64.3,-28.1 67.8,-29.3 68.4,-29.7 71.2,-30.6 71.8,-31 75.3,-32.2 75.8,-32.6 83.3,-35.3 83.9,-35.7 87.9,-37.1 88.5,-37.5 91.9,-38.7 92.5,-39 96.5,-40.4 97.1,-40.8 101.1,-42.2 101.7,-42.6 114.9,-47.6 114.9,-43.6"/>
<polygon transform="translate(374.1 171.9)" points="0,0 0,0 114.9,-43.6 114.9,-43.6"/>
</g>
<line x1="305.2" y1="127.2" x2="305.2" y2="66" stroke="#777" stroke-width="0.4"/>
<line x1="306.4" y1="127.2" x2="374.1" y2="171.9" stroke="#777" stroke-width="0.4"/>
<line x1="374.1" y1="171.9" x2="489" y2="128.3" stroke="#777" stroke-width="0.4"/>
<line x1="305.2" y1="126.6" x2="304.1" y2="127.1" stroke="#777" stroke-width="0.4"/>
<line x1="305.2" y1="111.3" x2="304.1" y2="111.8" stroke="#777" stroke-width="0.4"/>
<line x1="305.2" y1="96" x2="304.1" y2="96.5" stroke="#777" stroke-width="0.4"/>
<line x1="305.2" y1="80.7" x2="304.1" y2="81.2" stroke="#777" stroke-width="0.4"/>
<line x1="305.2" y1="65.4" x2="304.1" y2="65.9" stroke="#777" stroke-width="0.4"/>
<line x1="306.4" y1="127.2" x2="305.4" y2="128.1" stroke="#777" stroke-width="0.4"/>
<line x1="329" y1="142.1" x2="328" y2="143" stroke="#777" stroke-width="0.4"/>
<line x1="351.5" y1="157" x2="350.5" y2="157.9" stroke="#777" stroke-width="0.4"/>
<line x1="374.1" y1="171.9" x2="373.1" y2="172.8" stroke="#777" stroke-width="0.4"/>
<line x1="402.8" y1="161" x2="403.8" y2="161.8" stroke="#777" stroke-width="0.4"/>
<line x1="431.6" y1="150.1" x2="432.6" y2="150.9" stroke="#777" stroke-width="0.4"/>
<line x1="460.3" y1="139.2" x2="461.3" y2="140" stroke="#777" stroke-width="0.4"/>
<line x1="489" y1="128.3" x2="490" y2="129.1" stroke="#777" stroke-width="0.4"/>
<rect x="505.8" y="22.8" width="6.3" height="149.4" fill="url(#cb)"/>
<g class="tk"><text x="301.8" y="127.8" text-anchor="end">0</text>
<text x="301.8" y="112.5" text-anchor="end">50</text>
<text x="301.8" y="97.2" text-anchor="end">100</text>
<text x="301.8" y="81.9" text-anchor="end">150</text>
<text x="301.8" y="66.6" text-anchor="end">200</text>
<text x="301.1" y="133.1" text-anchor="end">0</text>
<text x="323.7" y="148" text-anchor="end">50</text>
<text x="346.2" y="162.9" text-anchor="end">100</text>
<text x="368.8" y="177.8" text-anchor="end">150</text>
<text x="406.6" y="167.8" text-anchor="start">50</text>
<text x="435.4" y="156.8" text-anchor="start">100</text>
<text x="464.1" y="145.9" text-anchor="start">150</text>
<text x="492.8" y="135.1" text-anchor="start">200</text>
<text x="335.6" y="174.1" text-anchor="middle" font-size="4.1">Nodes</text>
<text x="422.6" y="174.1" text-anchor="middle" font-size="4.1">Time</text>
<text transform="translate(291.9 100) rotate(-90)" text-anchor="middle" font-size="4.1">Number of passengers</text>
<text x="513.3" y="173.7">0</text>
<text x="513.3" y="123.9">50</text>
<text x="513.3" y="74.1">100</text>
<text x="513.3" y="24.3">150</text></g>
<g><line x1="51.3" y1="330" x2="166.2" y2="286.4" stroke="#eeeeee" stroke-width="0.5"/>
<line x1="166.2" y1="286.4" x2="233.9" y2="331.1" stroke="#eeeeee" stroke-width="0.5"/>
<line x1="51.3" y1="314.7" x2="166.2" y2="271.1" stroke="#eeeeee" stroke-width="0.5"/>
<line x1="166.2" y1="271.1" x2="233.9" y2="315.8" stroke="#eeeeee" stroke-width="0.5"/>
<line x1="51.3" y1="299.4" x2="166.2" y2="255.8" stroke="#eeeeee" stroke-width="0.5"/>
<line x1="166.2" y1="255.8" x2="233.9" y2="300.5" stroke="#eeeeee" stroke-width="0.5"/>
<line x1="51.3" y1="284.1" x2="166.2" y2="240.5" stroke="#eeeeee" stroke-width="0.5"/>
<line x1="166.2" y1="240.5" x2="233.9" y2="285.2" stroke="#eeeeee" stroke-width="0.5"/>
<line x1="51.3" y1="268.8" x2="166.2" y2="225.2" stroke="#eeeeee" stroke-width="0.5"/>
<line x1="166.2" y1="225.2" x2="233.9" y2="269.9" stroke="#eeeeee" stroke-width="0.5"/>
<line x1="80" y1="319.1" x2="80" y2="257.9" stroke="#eeeeee" stroke-width="0.5"/>
<line x1="108.8" y1="308.2" x2="108.8" y2="247" stroke="#eeeeee" stroke-width="0.5"/>
<line x1="137.5" y1="297.3" x2="137.5" y2="236.1" stroke="#eeeeee" stroke-width="0.5"/>
<line x1="166.2" y1="286.4" x2="166.2" y2="225.2" stroke="#eeeeee" stroke-width="0.5"/>
<line x1="188.8" y1="301.3" x2="188.8" y2="240.1" stroke="#eeeeee" stroke-width="0.5"/>
<line x1="211.3" y1="316.2" x2="211.3" y2="255" stroke="#eeeeee" stroke-width="0.5"/>
<line x1="233.9" y1="331.1" x2="233.9" y2="269.9" stroke="#eeeeee" stroke-width="0.5"/>
<line x1="80" y1="319.1" x2="147.7" y2="363.8" stroke="#eeeeee" stroke-width="0.5"/>
<line x1="108.8" y1="308.2" x2="176.5" y2="352.9" stroke="#eeeeee" stroke-width="0.5"/>
<line x1="137.5" y1="297.3" x2="205.2" y2="342" stroke="#eeeeee" stroke-width="0.5"/>
<line x1="166.2" y1="286.4" x2="233.9" y2="331.1" stroke="#eeeeee" stroke-width="0.5"/>
<line x1="73.9" y1="344.9" x2="188.8" y2="301.3" stroke="#eeeeee" stroke-width="0.5"/>
<line x1="96.4" y1="359.8" x2="211.3" y2="316.2" stroke="#eeeeee" stroke-width="0.5"/>
<line x1="119" y1="374.7" x2="233.9" y2="331.1" stroke="#eeeeee" stroke-width="0.5"/></g>
<g fill="url(#jet)" stroke="#000820" stroke-opacity="0.35" stroke-width="0.25" stroke-linejoin="round">
<polygon transform="translate(51.3 330)" points="0,0 0,-3.4 2.3,-4.2 2.9,-4.2 4.6,-3.1 11.5,-5.4 114.9,-44.6 114.9,-43.6"/>
<polygon transform="translate(51.5 330.1)" points="0,0 0,-3.4 2.3,-4.2 2.9,-4.2 4,-3.4 4.6,-3.4 6.9,-4.3 11.5,-5.6 114.9,-44.8 114.9,-43.6"/>
<polygon transform="translate(51.8 330.3)" points="0,0 0,-3.4 2.3,-4.2 2.9,-4.2 4,-3.5 6.9,-4.6 11.5,-5.8 114.9,-45 114.9,-43.6"/>
<polygon transform="translate(52 330.4)" points="0,0 0,-3.4 2.3,-4.2 4,-3.7 6.9,-4.8 11.5,-5.9 114.9,-45.2 114.9,-43.6"/>
<polygon transform="translate(52.2 330.6)" points="0,0 0,-3.4 2.3,-4.2 2.9,-4.2 3.4,-3.8 4,-3.9 6.9,-5 11.5,-6.1 114.9,-45.3 114.9,-43.6"/>
<polygon transform="translate(52.4 330.7)" points="0,0 0,-3.4 2.3,-4.2 3.4,-3.9 6.9,-5.2 11.5,-6.2 114.9,-45.5 114.9,-43.6"/>
<polygon transform="translate(52.7 330.9)" points="0,0 0,-3.4 2.3,-4.2 3.4,-4.1 6.9,-5.4 11.5,-6.4 114.9,-45.6 114.9,-43.6"/>
<polygon transform="translate(52.9 331)" points="0,0 0,-3.4 2.3,-4.2 3.4,-4.2 6.9,-5.5 11.5,-6.5 114.9,-45.7 114.9,-43.6"/>
<polygon transform="translate(53.1 331.2)" points="0,0 0,-3.4 2.3,-4.2 2.9,-4.2 6.9,-5.7 11.5,-6.6 114.9,-45.8 114.9,-43.6"/>
<polygon transform="translate(53.3 331.3)" points="0,0 0,-3.4 6.9,-5.8 11.5,-6.7 114.9,-45.9 114.9,-43.6"/>
<polygon transform="translate(53.6 331.5)" points="0,0 0,-3.4 6.9,-6 11.5,-6.8 114.9,-46 114.9,-43.6"/>
<polygon transform="translate(53.8 331.6)" points="0,0 0,-3.4 6.9,-5.9 11.5,-6.7 114.9,-46 114.9,-43.6"/>
<polygon transform="translate(54 331.8)" points="0,0 0,-3.4 6.9,-5.8 11.5,-6.6 114.9,-45.9 114.9,-43.6"/>
<polygon transform="translate(54.2 331.9)" points="0,0 0,-3.4 2.3,-4.2 2.9,-4.2 3.4,-4.3 6.9,-5.7 11.5,-6.6 114.9,-45.8 114.9,-43.6"/>
<polygon transform="translate(54.5 332.1)" points="0,0 0,-3.4 2.3,-4.2 3.4,-4.2 6.9,-5.5 11.5,-6.5 52.3,-22 114.9,-46.2 114.9,-43.6"/>
<polygon transform="translate(54.7 332.2)" points="0,0 0,-3.4 2.3,-4.2 3.4,-4.1 6.9,-5.4 11.5,-6.4 14.9,-7.9 114.9,-46.7 114.9,-43.6"/>
<polygon transform="translate(54.9 332.4)" points="0,0 0,-3.4 2.3,-4.2 3.4,-4 6.9,-5.3 11.5,-6.3 12.6,-7.1 14.9,-8.3 114.9,-47.3 114.9,-43.6"/>
<polygon transform="translate(55.1 332.5)" points="0,0 0,-3.4 2.3,-4.2 2.9,-4.2 3.4,-3.8 6.9,-5.1 10.9,-6.1 12.1,-7.1 14.9,-8.8 114.9,-48 114.9,-43.6"/>
<polygon transform="translate(55.4 332.7)" points="0,0 0,-3.4 2.3,-4.2 2.9,-4.2 3.4,-3.8 4,-3.9 6.9,-5 10.3,-5.8 12.1,-7.6 14.9,-9.3 114.9,-48.7 114.9,-43.6"/>
<polygon transform="translate(55.6 332.8)" points="0,0 0,-3.4 2.3,-4.2 4,-3.8 6.9,-4.8 9.8,-5.6 10.3,-6 12.1,-8 14.9,-9.8 114.9,-49.5 114.9,-43.6"/>
<polygon transform="translate(55.8 333)" points="0,0 0,-3.4 2.3,-4.2 2.9,-4.2 4,-3.6 6.9,-4.7 9.8,-5.5 12.1,-8.5 14.9,-10.4 114.9,-50.3 114.9,-43.6"/>
<polygon transform="translate(56 333.1)" points="0,0 0,-3.4 2.3,-4.2 2.9,-4.2 4,-3.4 9.2,-5.1 12.1,-9 14.9,-11 114.9,-51.1 114.9,-43.6"/>
<polygon transform="translate(56.3 333.3)" points="0,0 0,-3.4 2.3,-4.2 2.9,-4.2 4,-3.4 4.6,-3.4 8.6,-4.8 9.2,-5.1 12.1,-9.5 14.9,-11.6 114.9,-52 114.9,-43.6"/>
<polygon transform="translate(56.5 333.4)" points="0,0 0,-3.4 2.3,-4.2 2.9,-4.2 4.6,-3.2 8.6,-4.6 12.1,-10.1 14.9,-12.3 114.9,-53 114.9,-43.6"/>
<polygon transform="translate(56.7 333.6)" points="0,0 0,-3.4 2.3,-4.2 2.9,-4.2 4.6,-3.1 5.2,-3.2 8.6,-4.4 12.1,-10.7 14.9,-13 114.9,-54 114.9,-43.6"/>
<polygon transform="translate(56.9 333.7)" points="0,0 0,-3.4 2.3,-4.2 2.9,-4.2 5.2,-2.8 8.6,-4 12.1,-8 14.9,-9.8 114.9,-49.5 114.9,-43.6"/>
<polygon transform="translate(57.2 333.9)" points="0,0 0,-3.4 2.3,-4.2 2.9,-4.2 5.2,-2.7 9.8,-4.5 12.1,-6.1 14.9,-7.5 114.9,-46.2 114.9,-43.6"/>
<polygon transform="translate(57.4 334)" points="0,0 0,-3.4 2.3,-4.2 2.9,-4.2 5.2,-2.7 114.9,-44.4 114.9,-43.6"/>
<polygon transform="translate(57.6 334.2)" points="0,0 0,-3.4 2.3,-4.2 2.9,-4.2 5.2,-2.7 114.9,-44.4 114.9,-43.6"/>
<polygon transform="translate(57.8 334.3)" points="0,0 0,-3.4 2.3,-4.2 2.9,-4.2 5.2,-2.7 114.9,-44.4 114.9,-43.6"/>
<polygon transform="translate(58.1 334.5)" points="0,0 0,-3.4 2.3,-4.2 2.9,-4.2 5.2,-2.7 114.9,-44.4 114.9,-43.6"/>
<polygon transform="translate(58.3 334.6)" points="0,0 0,-3.4 2.3,-4.2 2.9,-4.2 5.2,-2.7 114.9,-44.5 114.9,-43.6"/>
<polygon transform="translate(58.5 334.8)" points="0,0 0,-3.4 2.3,-4.2 2.9,-4.2 5.2,-2.7 114.9,-44.9 114.9,-43.6"/>
<polygon transform="translate(58.7 334.9)" points="0,0 0,-3.4 2.3,-4.2 2.9,-4.2 4.6,-3.1 5.2,-2.9 8.6,-4.5 114.9,-45.4 114.9,-43.6"/>
<polygon transform="translate(59 335.1)" points="0,0 0,-3.4 2.3,-4.2 2.9,-4.2 4.6,-3.1 5.2,-3.2 8.6,-4.8 114.9,-46 114.9,-43.6"/>
<polygon transform="translate(59.2 335.2)" points="0,0 0,-3.4 2.3,-4.2 2.9,-4.2 4.6,-3.2 5.7,-3.9 8.6,-5.2 114.9,-46.6 114.9,-43.6"/>
<polygon transform="translate(59.4 335.4)" points="0,0 0,-3.4 2.3,-4.2 2.9,-4.2 4,-3.4 4.6,-3.5 5.7,-4.3 8.6,-5.7 114.9,-47.3 114.9,-43.6"/>
<polygon transform="translate(59.6 335.5)" points="0,0 0,-3.4 2.3,-4.2 2.9,-4.2 4,-3.4 5.7,-4.7 8.6,-6.2 114.9,-48.1 114.9,-43.6"/>
<polygon transform="translate(59.9 335.7)" points="0,0 0,-3.4 2.3,-4.2 4,-3.7 5.7,-5.2 8.6,-6.8 114.9,-49 114.9,-43.6"/>
<polygon transform="translate(60.1 335.8)" points="0,0 0,-3.4 2.3,-4.2 2.9,-4.2 3.4,-3.8 4,-4.1 5.7,-5.8 8.6,-7.4 68.4,-31.1 114.9,-49.9 114.9,-43.6"/>
<polygon transform="translate(60.3 336)" points="0,0 0,-3.4 2.3,-4.2 2.9,-4.2 3.4,-3.8 5.7,-6.3 8.6,-8.1 68.4,-32 114.9,-50.9 114.9,-43.6"/>
<polygon transform="translate(60.6 336.1)" points="0,0 0,-3.4 2.3,-4.2 3.4,-4.2 5.7,-6.9 8.6,-8.8 68.4,-32.9 114.9,-52 114.9,-43.6"/>
<polygon transform="translate(60.8 336.3)" points="0,0 0,-3.4 2.3,-4.2 2.9,-4.2 3.4,-4.6 5.7,-7.6 8.6,-9.5 68.4,-33.8 114.9,-53.1 114.9,-43.6"/>
<polygon transform="translate(61 336.4)" points="0,0 0,-3.4 2.3,-4.2 2.9,-4.2 5.2,-7.7 5.7,-8.3 8.6,-10.3 68.4,-34.8 114.9,-54.3 114.9,-43.6"/>
<polygon transform="translate(61.2 336.6)" points="0,0 0,-3.4 2.9,-4.5 5.2,-8.4 5.7,-9 8.6,-11.2 68.4,-35.9 114.9,-55.6 114.9,-43.6"/>
<polygon transform="translate(61.5 336.7)" points="0,0 0,-3.4 2.3,-4.2 2.9,-4.9 5.2,-9.1 5.7,-9.8 8.6,-12.1 68.4,-37.1 114.9,-57 114.9,-43.6"/>
<polygon transform="translate(61.7 336.9)" points="0,0 0,-3.4 2.3,-4.2 5.2,-9.9 5.7,-10.6 8.6,-13 68.4,-38.3 114.9,-58.5 114.9,-43.6"/>
<polygon transform="translate(61.9 337)" points="0,0 0,-3.4 2.3,-4.4 5.2,-10.7 5.7,-11.5 8.6,-14 68.4,-39.5 114.9,-60 114.9,-43.6"/>
<polygon transform="translate(62.1 337.2)" points="0,0 0,-3.4 1.7,-4 2.3,-4.7 5.2,-11.6 5.7,-12.4 8.6,-15.1 68.4,-40.9 114.9,-61.6 114.9,-43.6"/>
<polygon transform="translate(62.4 337.3)" points="0,0 0,-3.4 1.7,-4 2.3,-5.1 5.2,-12.5 5.7,-13.4 8.6,-16.2 68.4,-42.2 114.9,-63.3 114.9,-43.6"/>
<polygon transform="translate(62.6 337.5)" points="0,0 0,-3.4 1.7,-4 5.2,-13.4 5.7,-14.4 8.6,-17.3 68.4,-43.7 114.9,-65 114.9,-43.6"/>
<polygon transform="translate(62.8 337.6)" points="0,0 0,-3.4 2.3,-4.2 2.9,-4.2 3.4,-4.6 5.7,-7.6 8.6,-9.5 68.4,-33.8 114.9,-53.1 114.9,-43.6"/>
<polygon transform="translate(63 337.7)" points="0,0 0,-3.4 2.3,-4.2 2.9,-4.2 4.6,-3.1 5.2,-3.2 7.5,-4.8 10.3,-6.2 57.5,-24.9 114.9,-48.3 114.9,-43.6"/>
<polygon transform="translate(63.3 337.9)" points="0,0 0,-3.4 2.3,-4.2 2.9,-4.2 4.6,-3.2 6.9,-5.3 10.3,-7.2 57.5,-26.2 114.9,-50.4 114.9,-43.6"/>
<polygon transform="translate(63.5 338)" points="0,0 0,-3.4 2.3,-4.2 2.9,-4.2 4,-3.4 4.6,-3.7 6.9,-6.3 10.3,-8.4 57.5,-27.8 114.9,-52.9 114.9,-43.6"/>
<polygon transform="translate(63.7 338.2)" points="0,0 0,-3.4 2.3,-4.2 2.9,-4.2 4,-3.5 6.9,-7.4 10.3,-9.8 57.5,-29.6 114.9,-55.7 114.9,-43.6"/>
<polygon transform="translate(63.9 338.3)" points="0,0 0,-3.4 2.3,-4.2 2.9,-4.2 3.4,-3.8 4,-4 6.9,-8.7 7.5,-9.3 10.3,-11.4 57.5,-31.7 114.9,-59 114.9,-43.6"/>
<polygon transform="translate(64.2 338.5)" points="0,0 0,-3.4 2.3,-4.2 2.9,-4.2 3.4,-3.8 4,-4.6 6.9,-10.1 7.5,-10.8 10.3,-13.1 57.5,-34 114.9,-62.6 114.9,-43.6"/>
<polygon transform="translate(64.4 338.6)" points="0,0 0,-3.4 2.3,-4.2 2.9,-4.2 4,-3.4 4.6,-3.5 6.9,-5.9 10.3,-8 57.5,-27.2 114.9,-52 114.9,-43.6"/>
<polygon transform="translate(64.6 338.8)" points="0,0 0,-3.4 2.3,-4.2 2.9,-4.2 5.2,-2.7 10.3,-4.9 57.5,-23.2 114.9,-45.7 114.9,-43.6"/>
<polygon transform="translate(64.8 338.9)" points="0,0 0,-3.4 2.3,-4.2 2.9,-4.2 5.2,-2.7 114.9,-44.4 114.9,-43.6"/>
<polygon transform="translate(65.1 339.1)" points="0,0 0,-3.4 2.3,-4.2 2.9,-4.2 5.2,-2.7 114.9,-44.4 114.9,-43.6"/>
<polygon transform="translate(65.3 339.2)" points="0,0 0,-3.4 2.3,-4.2 2.9,-4.2 5.2,-2.7 114.9,-44.5 114.9,-43.6"/>
<polygon transform="translate(65.5 339.4)" points="0,0 0,-3.4 2.3,-4.2 2.9,-4.2 5.2,-2.7 80.4,-31.9 114.9,-45 114.9,-43.6"/>
<polygon transform="translate(65.7 339.5)" points="0,0 0,-3.4 2.3,-4.2 2.9,-4.2 5.2,-2.7 8,-3.8 11.5,-5.5 40.2,-16.9 80.4,-32.5 114.9,-45.7 114.9,-43.6"/>
<polygon transform="translate(66 339.7)" points="0,0 0,-3.4 2.3,-4.2 2.9,-4.2 5.2,-2.7 7.5,-3.6 9.2,-4.8 11.5,-5.9 40.2,-17.4 80.4,-33.3 114.9,-46.4 114.9,-43.6"/>
<polygon transform="translate(66.2 339.8)" points="0,0 0,-3.4 2.3,-4.2 2.9,-4.2 5.2,-2.7 6.9,-3.4 9.2,-5.2 11.5,-6.4 80.4,-34.1 114.9,-47.3 114.9,-43.6"/>
<polygon transform="translate(66.4 340)" points="0,0 0,-3.4 2.3,-4.2 2.9,-4.2 5.2,-2.7 6.3,-3.2 6.9,-3.4 9.2,-5.7 11.5,-7 40.2,-18.8 80.4,-35.1 114.9,-48.2 114.9,-43.6"/>
<polygon transform="translate(66.6 340.1)" points="0,0 0,-3.4 2.3,-4.2 2.9,-4.2 5.2,-2.7 6.3,-3.2 9.2,-6.2 11.5,-7.6 40.2,-19.7 80.4,-36.1 114.9,-49.3 114.9,-43.6"/>
<polygon transform="translate(66.9 340.3)" points="0,0 0,-3.4 2.3,-4.2 2.9,-4.2 5.2,-2.7 6.3,-3.2 9.2,-6.8 11.5,-8.3 40.2,-20.6 80.4,-37.3 114.9,-50.5 114.9,-43.6"/>
<polygon transform="translate(67.1 340.4)" points="0,0 0,-3.4 2.3,-4.2 2.9,-4.2 5.2,-2.7 5.7,-2.9 6.3,-3.2 9.2,-7.4 11.5,-9 40.2,-21.6 80.4,-38.6 114.9,-51.9 114.9,-43.6"/>
<polygon transform="translate(67.3 340.6)" points="0,0 0,-3.4 2.3,-4.2 2.9,-4.2 5.2,-2.7 5.7,-2.9 6.3,-3.4 9.2,-8.1 11.5,-9.8 40.2,-22.7 80.4,-40 114.9,-53.3 114.9,-43.6"/>
<polygon transform="translate(67.5 340.7)" points="0,0 0,-3.4 2.3,-4.2 2.9,-4.2 5.2,-2.7 5.7,-2.9 6.3,-3.5 9.2,-8.9 11.5,-10.7 40.2,-23.9 80.4,-41.5 114.9,-54.8 114.9,-43.6"/>
<polygon transform="translate(67.8 340.9)" points="0,0 0,-3.4 2.3,-4.2 2.9,-4.2 5.2,-2.7 5.7,-2.9 6.3,-3.7 9.2,-9.7 11.5,-11.6 40.2,-25.2 80.4,-43.2 114.9,-56.5 114.9,-43.6"/>
<polygon transform="translate(68 341)" points="0,0 0,-3.4 2.3,-4.2 2.9,-4.2 5.2,-2.7 5.7,-2.9 6.3,-3.8 9.2,-10.5 11.5,-12.6 40.2,-26.6 80.4,-44.9 114.9,-58.3 114.9,-43.6"/>
<polygon transform="translate(68.2 341.2)" points="0,0 0,-3.4 2.3,-4.2 2.9,-4.2 5.2,-2.7 6.3,-3.2 9.2,-6.6 11.5,-8 40.2,-20.3 80.4,-36.9 114.9,-50.1 114.9,-43.6"/>
<polygon transform="translate(68.5 341.3)" points="0,0 0,-3.4 2.3,-4.2 2.9,-4.2 5.2,-2.7 80.4,-32.1 114.9,-45.2 114.9,-43.6"/>
<polygon transform="translate(68.7 341.5)" points="0,0 0,-3.4 2.3,-4.2 2.9,-4.2 5.2,-2.7 114.9,-44.4 114.9,-43.6"/>
<polygon transform="translate(68.9 341.6)" points="0,0 0,-3.4 2.3,-4.2 2.9,-4.2 5.2,-2.7 114.9,-44.4 114.9,-43.6"/>
<polygon transform="translate(69.1 341.8)" points="0,0 0,-3.4 2.3,-4.2 2.9,-4.2 5.2,-2.7 114.9,-44.4 114.9,-43.6"/>
<polygon transform="translate(69.4 341.9)" points="0,0 0,-3.4 2.3,-4.2 2.9,-4.2 5.2,-2.7 114.9,-44.4 114.9,-43.6"/>
<polygon transform="translate(69.6 342.1)" points="0,0 0,-3.4 2.3,-4.2 2.9,-4.2 5.2,-2.7 114.9,-44.4 114.9,-43.6"/>
<polygon transform="translate(69.8 342.2)" points="0,0 0,-3.4 2.3,-4.2 2.9,-4.2 5.2,-2.7 114.9,-44.5 114.9,-43.6"/>
<polygon transform="translate(70 342.4)" points="0,0 0,-3.4 2.3,-4.2 2.9,-4.2 5.2,-2.7 34.5,-13.8 114.9,-45 114.9,-43.6"/>
<polygon transform="translate(70.3 342.5)" points="0,0 0,-3.4 2.3,-4.2 2.9,-4.2 5.2,-2.7 114.9,-45.6 114.9,-43.6"/>
<polygon transform="translate(70.5 342.7)" points="0,0 0,-3.4 2.3,-4.2 2.9,-4.2 5.2,-2.7 7.5,-3.6 10.9,-5.3 114.9,-46.3 114.9,-43.6"/>
<polygon transform="translate(70.7 342.8)" points="0,0 0,-3.4 2.3,-4.2 2.9,-4.2 5.2,-2.7 6.9,-3.4 8.6,-4.5 10.9,-5.6 114.9,-47.1 114.9,-43.6"/>
<polygon transform="translate(70.9 343)" points="0,0 0,-3.4 2.3,-4.2 2.9,-4.2 5.2,-2.7 6.3,-3.2 8.6,-4.9 10.9,-6 114.9,-48.1 114.9,-43.6"/>
<polygon transform="translate(71.2 343.1)" points="0,0 0,-3.4 2.3,-4.2 2.9,-4.2 5.2,-2.7 6.3,-3.2 8.6,-5.2 10.9,-6.4 114.9,-49.1 114.9,-43.6"/>
<polygon transform="translate(71.4 343.3)" points="0,0 0,-3.4 2.3,-4.2 2.9,-4.2 5.2,-2.7 5.7,-2.9 6.3,-3.3 8.6,-5.6 10.9,-6.9 114.9,-50.3 114.9,-43.6"/>
<polygon transform="translate(71.6 343.4)" points="0,0 0,-3.4 2.3,-4.2 2.9,-4.2 5.2,-2.7 5.7,-2.9 8.6,-6.1 10.9,-7.4 114.9,-51.5 114.9,-43.6"/>
<polygon transform="translate(71.8 343.6)" points="0,0 0,-3.4 2.3,-4.2 2.9,-4.2 5.2,-2.7 5.7,-2.9 8.6,-6.6 10.9,-8 114.9,-52.9 114.9,-43.6"/>
<polygon transform="translate(72.1 343.7)" points="0,0 0,-3.4 2.3,-4.2 2.9,-4.2 5.2,-2.7 5.7,-3 8.6,-7.1 10.9,-8.6 114.9,-54.4 114.9,-43.6"/>
<polygon transform="translate(72.3 343.9)" points="0,0 0,-3.4 2.3,-4.2 2.9,-4.2 5.2,-2.7 5.7,-3.1 8.6,-7.7 10.9,-9.3 114.9,-56 114.9,-43.6"/>
<polygon transform="translate(72.5 344)" points="0,0 0,-3.4 2.3,-4.2 2.9,-4.2 5.2,-2.7 5.7,-3.2 8.6,-8.3 10.9,-10 114.9,-57.7 114.9,-43.6"/>
<polygon transform="translate(72.7 344.2)" points="0,0 0,-3.4 2.3,-4.2 2.9,-4.2 5.2,-2.7 5.7,-3.3 8.6,-8.9 10.9,-10.8 114.9,-59.5 114.9,-43.6"/>
<polygon transform="translate(73 344.3)" points="0,0 0,-3.4 2.3,-4.2 2.9,-4.2 5.2,-2.7 5.7,-3.5 8.6,-9.6 10.9,-11.6 114.9,-61.4 114.9,-43.6"/>
<polygon transform="translate(73.2 344.5)" points="0,0 0,-3.4 2.3,-4.2 2.9,-4.2 5.2,-2.7 5.7,-3.6 8.6,-10.3 10.9,-12.4 34.5,-24.1 114.9,-63.5 114.9,-43.6"/>
<polygon transform="translate(73.4 344.6)" points="0,0 0,-3.4 2.3,-4.2 2.9,-4.2 5.2,-2.7 5.7,-3.8 8.6,-11.1 10.9,-13.3 34.5,-25.3 114.9,-65.6 114.9,-43.6"/>
<polygon transform="translate(73.6 344.8)" points="0,0 0,-3.4 2.3,-4.2 2.9,-4.2 5.2,-2.7 5.7,-2.9 8.6,-6.7 10.9,-8.2 114.9,-53.4 114.9,-43.6"/>
<polygon transform="translate(73.9 344.9)" points="0,0 0,-3.4 2.3,-4.2 2.9,-4.2 5.2,-2.7 10.9,-5.2 114.9,-46 114.9,-43.6"/>
<polygon transform="translate(74.1 345)" points="0,0 0,-3.4 2.3,-4.2 2.9,-4.2 5.2,-2.7 80.4,-32.1 114.9,-45.2 114.9,-43.6"/>
<polygon transform="translate(74.3 345.2)" points="0,0 0,-3.4 2.3,-4.2 2.9,-4.2 5.2,-2.7 8,-3.8 11.5,-5.5 80.4,-32.8 114.9,-45.8 114.9,-43.6"/>
<polygon transform="translate(74.5 345.3)" points="0,0 0,-3.4 2.3,-4.2 2.9,-4.2 5.2,-2.7 7.5,-3.6 9.2,-4.8 11.5,-5.9 40.2,-17.5 80.4,-33.6 114.9,-46.6 114.9,-43.6"/>
<polygon transform="translate(74.8 345.5)" points="0,0 0,-3.4 2.3,-4.2 2.9,-4.2 5.2,-2.7 6.9,-3.4 9.2,-5.2 11.5,-6.4 40.2,-18.2 80.4,-34.5 114.9,-47.6 114.9,-43.6"/>
<polygon transform="translate(75 345.6)" points="0,0 0,-3.4 2.3,-4.2 2.9,-4.2 5.2,-2.7 6.3,-3.2 6.9,-3.4 9.2,-5.7 11.5,-7 40.2,-19 80.4,-35.6 114.9,-48.6 114.9,-43.6"/>
<polygon transform="translate(75.2 345.8)" points="0,0 0,-3.4 2.3,-4.2 2.9,-4.2 5.2,-2.7 6.3,-3.2 9.2,-6.2 11.5,-7.6 40.2,-19.9 80.4,-36.7 114.9,-49.8 114.9,-43.6"/>
<polygon transform="translate(75.4 345.9)" points="0,0 0,-3.4 2.3,-4.2 2.9,-4.2 5.2,-2.7 6.3,-3.2 9.2,-6.8 11.5,-8.3 40.2,-20.9 80.4,-38 114.9,-51.1 114.9,-43.6"/>
<polygon transform="translate(75.7 346.1)" points="0,0 0,-3.4 2.3,-4.2 2.9,-4.2 5.2,-2.7 5.7,-2.9 6.3,-3.2 9.2,-7.4 11.5,-9 40.2,-22 80.4,-39.5 114.9,-52.6 114.9,-43.6"/>
<polygon transform="translate(75.9 346.2)" points="0,0 0,-3.4 2.3,-4.2 2.9,-4.2 5.2,-2.7 5.7,-2.9 6.3,-3.4 9.2,-8.1 11.5,-9.8 40.2,-23.1 80.4,-41 114.9,-54.1 114.9,-43.6"/>
<polygon transform="translate(76.1 346.4)" points="0,0 0,-3.4 2.3,-4.2 2.9,-4.2 5.2,-2.7 5.7,-2.9 6.3,-3.5 9.2,-8.9 11.5,-10.7 40.2,-24.4 80.4,-42.7 114.9,-55.8 114.9,-43.6"/>
<polygon transform="translate(76.3 346.5)" points="0,0 0,-3.4 2.3,-4.2 2.9,-4.2 5.2,-2.7 5.7,-2.9 6.3,-3.7 9.2,-9.7 11.5,-11.6 40.2,-25.7 80.4,-44.5 114.9,-57.6 114.9,-43.6"/>
<polygon transform="translate(76.6 346.7)" points="0,0 0,-3.4 2.3,-4.2 2.9,-4.2 5.2,-2.7 5.7,-2.9 6.3,-3.8 9.2,-10.5 11.5,-12.6 40.2,-27.2 80.4,-46.4 114.9,-59.5 114.9,-43.6"/>
<polygon transform="translate(76.8 346.8)" points="0,0 0,-3.4 2.3,-4.2 2.9,-4.2 5.2,-2.7 6.3,-3.2 9.2,-6.6 11.5,-8 40.2,-20.6 80.4,-37.6 114.9,-50.7 114.9,-43.6"/>
<polygon transform="translate(77 347)" points="0,0 0,-3.4 2.3,-4.2 2.9,-4.2 5.2,-2.7 80.4,-32.3 114.9,-45.4 114.9,-43.6"/>
<polygon transform="translate(77.3 347.1)" points="0,0 0,-3.4 2.3,-4.2 2.9,-4.2 5.2,-2.7 114.9,-44.4 114.9,-43.6"/>
<polygon transform="translate(77.5 347.3)" points="0,0 0,-3.4 2.3,-4.2 2.9,-4.2 5.2,-2.7 114.9,-44.4 114.9,-43.6"/>
<polygon transform="translate(77.7 347.4)" points="0,0 0,-3.4 2.3,-4.2 2.9,-4.2 5.2,-2.7 58.6,-23 114.9,-44.9 114.9,-43.6"/>
<polygon transform="translate(77.9 347.6)" points="0,0 0,-3.4 2.3,-4.2 2.9,-4.2 5.2,-2.7 80.4,-32 114.9,-45.7 114.9,-43.6"/>
<polygon transform="translate(78.2 347.7)" points="0,0 0,-3.4 2.3,-4.2 2.9,-4.2 5.2,-2.7 7.5,-3.6 10.9,-5.3 80.4,-32.7 114.9,-46.7 114.9,-43.6"/>
<polygon transform="translate(78.4 347.9)" points="0,0 0,-3.4 2.3,-4.2 2.9,-4.2 5.2,-2.7 6.9,-3.4 8.6,-4.6 10.9,-5.7 80.4,-33.5 114.9,-47.9 114.9,-43.6"/>
<polygon transform="translate(78.6 348)" points="0,0 0,-3.4 2.3,-4.2 2.9,-4.2 5.2,-2.7 6.3,-3.2 8.6,-5 10.9,-6.2 80.4,-34.5 114.9,-49.3 114.9,-43.6"/>
<polygon transform="translate(78.8 348.2)" points="0,0 0,-3.4 2.3,-4.2 2.9,-4.2 5.2,-2.7 5.7,-2.9 6.3,-3.2 8.6,-5.5 10.9,-6.8 80.4,-35.6 114.9,-50.8 114.9,-43.6"/>
<polygon transform="translate(79.1 348.3)" points="0,0 0,-3.4 2.3,-4.2 2.9,-4.2 5.2,-2.7 5.7,-2.9 8.6,-6.1 10.9,-7.4 80.4,-36.9 114.9,-52.6 114.9,-43.6"/>
<polygon transform="translate(79.3 348.5)" points="0,0 0,-3.4 2.3,-4.2 2.9,-4.2 5.2,-2.7 5.7,-2.9 8.6,-6.7 10.9,-8.2 80.4,-38.3 114.9,-54.6 114.9,-43.6"/>
<polygon transform="translate(79.5 348.6)" points="0,0 0,-3.4 2.3,-4.2 2.9,-4.2 5.2,-2.7 5.7,-3 8.6,-7.4 10.9,-9 80.4,-39.8 114.9,-56.8 114.9,-43.6"/>
<polygon transform="translate(79.7 348.8)" points="0,0 0,-3.4 2.3,-4.2 2.9,-4.2 5.2,-2.7 5.7,-3.2 8.6,-8.1 10.9,-9.8 80.4,-41.5 114.9,-59.2 114.9,-43.6"/>
<polygon transform="translate(80 348.9)" points="0,0 0,-3.4 2.3,-4.2 2.9,-4.2 5.2,-2.7 5.7,-3.3 8.6,-8.9 10.9,-10.8 80.4,-43.3 114.9,-61.7 114.9,-43.6"/>
<polygon transform="translate(80.2 349.1)" points="0,0 0,-3.4 2.3,-4.2 2.9,-4.2 5.2,-2.7 5.7,-3.5 8.6,-9.8 10.9,-11.8 80.4,-45.3 114.9,-64.5 114.9,-43.6"/>
<polygon transform="translate(80.4 349.2)" points="0,0 0,-3.4 2.3,-4.2 2.9,-4.2 5.2,-2.7 5.7,-3.7 8.6,-10.7 10.9,-12.9 34.5,-24.7 80.4,-47.4 114.9,-67.5 114.9,-43.6"/>
<polygon transform="translate(80.6 349.4)" points="0,0 0,-3.4 2.3,-4.2 2.9,-4.2 5.2,-2.7 5.7,-3.2 8.6,-8.3 10.9,-10 80.4,-41.9 114.9,-59.7 114.9,-43.6"/>
<polygon transform="translate(80.9 349.5)" points="0,0 0,-3.4 2.3,-4.2 2.9,-4.2 5.2,-2.7 6.3,-3.2 8.6,-5 10.9,-6.1 80.4,-34.4 114.9,-49.1 114.9,-43.6"/>
<polygon transform="translate(81.1 349.7)" points="0,0 0,-3.4 2.3,-4.2 2.9,-4.2 5.2,-2.7 80.4,-31.7 114.9,-44.7 114.9,-43.6"/>
<polygon transform="translate(81.3 349.8)" points="0,0 0,-3.4 2.3,-4.2 2.9,-4.2 5.2,-2.7 8.6,-4 11.5,-5.4 80.4,-32.3 114.9,-45.3 114.9,-43.6"/>
<polygon transform="translate(81.5 350)" points="0,0 0,-3.4 2.3,-4.2 2.9,-4.2 5.2,-2.7 7.5,-3.6 9.2,-4.8 11.5,-5.9 40.2,-17.3 80.4,-33.1 114.9,-46.1 114.9,-43.6"/>
<polygon transform="translate(81.8 350.1)" points="0,0 0,-3.4 2.3,-4.2 2.9,-4.2 5.2,-2.7 6.9,-3.4 9.2,-5.2 11.5,-6.4 40.2,-18.1 80.4,-34 114.9,-47 114.9,-43.6"/>
<polygon transform="translate(82 350.3)" points="0,0 0,-3.4 2.3,-4.2 2.9,-4.2 5.2,-2.7 6.3,-3.2 6.9,-3.5 9.2,-5.8 11.5,-7.1 40.2,-19 80.4,-35.1 114.9,-48 114.9,-43.6"/>
<polygon transform="translate(82.2 350.4)" points="0,0 0,-3.4 2.3,-4.2 2.9,-4.2 5.2,-2.7 6.3,-3.2 9.2,-6.4 11.5,-7.8 40.2,-19.9 80.4,-36.3 114.9,-49.2 114.9,-43.6"/>
<polygon transform="translate(82.4 350.6)" points="0,0 0,-3.4 2.3,-4.2 2.9,-4.2 5.2,-2.7 6.3,-3.2 9.2,-7.1 11.5,-8.6 40.2,-21 80.4,-37.7 114.9,-50.5 114.9,-43.6"/>
<polygon transform="translate(82.7 350.7)" points="0,0 0,-3.4 2.3,-4.2 2.9,-4.2 5.2,-2.7 5.7,-2.9 6.3,-3.3 9.2,-7.8 11.5,-9.5 40.2,-22.2 80.4,-39.2 114.9,-51.9 114.9,-43.6"/>
<polygon transform="translate(82.9 350.9)" points="0,0 0,-3.4 2.3,-4.2 2.9,-4.2 5.2,-2.7 5.7,-2.9 6.3,-3.5 9.2,-8.6 11.5,-10.4 40.2,-23.6 80.4,-40.9 114.9,-53.5 114.9,-43.6"/>
<polygon transform="translate(83.1 351)" points="0,0 0,-3.4 2.3,-4.2 2.9,-4.2 5.2,-2.7 5.7,-2.9 6.3,-3.6 9.2,-9.5 11.5,-11.5 40.2,-25 80.4,-42.7 114.9,-55.2 114.9,-43.6"/>
<polygon transform="translate(83.3 351.2)" points="0,0 0,-3.4 2.3,-4.2 2.9,-4.2 5.2,-2.7 5.7,-2.9 6.3,-3.8 9.2,-10.5 11.5,-12.6 40.2,-26.6 80.4,-44.6 114.9,-57.1 114.9,-43.6"/>
<polygon transform="translate(83.6 351.3)" points="0,0 0,-3.4 2.3,-4.2 2.9,-4.2 5.2,-2.7 6.3,-3.2 9.2,-6.6 11.5,-8 40.2,-20.3 80.4,-36.8 114.9,-49.6 114.9,-43.6"/>
<polygon transform="translate(83.8 351.5)" points="0,0 0,-3.4 2.3,-4.2 2.9,-4.2 5.2,-2.7 80.4,-32.1 114.9,-45.1 114.9,-43.6"/>
<polygon transform="translate(84 351.6)" points="0,0 0,-3.4 2.3,-4.2 2.9,-4.2 5.2,-2.7 40.2,-16.5 114.9,-44.9 114.9,-43.6"/>
<polygon transform="translate(84.2 351.8)" points="0,0 0,-3.4 2.3,-4.2 2.9,-4.2 5.2,-2.7 8,-3.8 11.5,-5.6 40.2,-17 114.9,-45.5 114.9,-43.6"/>
<polygon transform="translate(84.5 351.9)" points="0,0 0,-3.4 2.3,-4.2 2.9,-4.2 5.2,-2.7 7.5,-3.6 9.2,-4.9 11.5,-6 40.2,-17.6 80.4,-33.2 114.9,-46.2 114.9,-43.6"/>
<polygon transform="translate(84.7 352.1)" points="0,0 0,-3.4 2.3,-4.2 2.9,-4.2 5.2,-2.7 6.9,-3.4 9.2,-5.3 11.5,-6.5 40.2,-18.3 80.4,-34 114.9,-47 114.9,-43.6"/>
<polygon transform="translate(84.9 352.2)" points="0,0 0,-3.4 2.3,-4.2 2.9,-4.2 5.2,-2.7 6.3,-3.2 6.9,-3.5 9.2,-5.8 11.5,-7.1 40.2,-19.1 80.4,-34.9 114.9,-47.9 114.9,-43.6"/>
<polygon transform="translate(85.2 352.4)" points="0,0 0,-3.4 2.3,-4.2 2.9,-4.2 5.2,-2.7 6.3,-3.2 9.2,-6.3 11.5,-7.7 40.2,-20 80.4,-35.9 114.9,-48.9 114.9,-43.6"/>
<polygon transform="translate(85.4 352.5)" points="0,0 0,-3.4 2.3,-4.2 2.9,-4.2 5.2,-2.7 6.3,-3.2 9.2,-6.9 11.5,-8.4 40.2,-21 80.4,-37 114.9,-50 114.9,-43.6"/>
<polygon transform="translate(85.6 352.6)" points="0,0 0,-3.4 2.3,-4.2 2.9,-4.2 5.2,-2.7 5.7,-2.9 6.3,-3.2 9.2,-7.6 11.5,-9.2 40.2,-22.1 80.4,-38.3 114.9,-51.2 114.9,-43.6"/>
<polygon transform="translate(85.8 352.8)" points="0,0 0,-3.4 2.3,-4.2 2.9,-4.2 5.2,-2.7 5.7,-2.9 6.3,-3.4 9.2,-8.3 11.5,-10 40.2,-23.3 80.4,-39.6 114.9,-52.5 114.9,-43.6"/>
<polygon transform="translate(86.1 352.9)" points="0,0 0,-3.4 2.3,-4.2 2.9,-4.2 5.2,-2.7 5.7,-2.9 6.3,-3.5 9.2,-9.1 11.5,-10.9 40.2,-24.6 80.4,-41.1 114.9,-53.9 114.9,-43.6"/>
<polygon transform="translate(86.3 353.1)" points="0,0 0,-3.4 2.3,-4.2 2.9,-4.2 5.2,-2.7 5.7,-2.9 6.3,-3.7 9.2,-9.9 11.5,-11.9 40.2,-26 80.4,-42.6 114.9,-55.4 114.9,-43.6"/>
<polygon transform="translate(86.5 353.2)" points="0,0 0,-3.4 2.3,-4.2 2.9,-4.2 5.2,-2.7 5.7,-2.9 6.3,-3.9 9.2,-10.8 11.5,-12.9 40.2,-27.5 80.4,-44.3 114.9,-57.1 114.9,-43.6"/>
<polygon transform="translate(86.7 353.4)" points="0,0 0,-3.4 2.3,-4.2 2.9,-4.2 5.2,-2.7 6.3,-3.2 9.2,-6.7 11.5,-8.2 40.2,-20.7 80.4,-36.6 114.9,-49.6 114.9,-43.6"/>
<polygon transform="translate(87 353.5)" points="0,0 0,-3.4 2.3,-4.2 2.9,-4.2 5.2,-2.7 40.2,-16.6 114.9,-45.1 114.9,-43.6"/>
<polygon transform="translate(87.2 353.7)" points="0,0 0,-3.4 2.3,-4.2 2.9,-4.2 5.2,-2.7 114.9,-44.4 114.9,-43.6"/>
<polygon transform="translate(87.4 353.8)" points="0,0 0,-3.4 2.3,-4.2 2.9,-4.2 5.2,-2.7 114.9,-44.4 114.9,-43.6"/>
<polygon transform="translate(87.6 354)" points="0,0 0,-3.4 2.3,-4.2 2.9,-4.2 5.2,-2.7 9.2,-4.6 114.9,-44.7 114.9,-43.6"/>
<polygon transform="translate(87.9 354.1)" points="0,0 0,-3.4 2.3,-4.2 2.9,-4.2 4.6,-3.1 5.2,-3 6.9,-4.3 9.2,-5.4 114.9,-45.6 114.9,-43.6"/>
<polygon transform="translate(88.1 354.3)" points="0,0 0,-3.4 2.3,-4.2 2.9,-4.2 4.6,-3.1 6.9,-5.2 9.2,-6.5 114.9,-46.7 114.9,-43.6"/>
<polygon transform="translate(88.3 354.4)" points="0,0 0,-3.4 2.3,-4.2 2.9,-4.2 4,-3.4 4.6,-3.5 6.9,-6.4 9.2,-7.8 114.9,-48.1 114.9,-43.6"/>
<polygon transform="translate(88.5 354.6)" points="0,0 0,-3.4 2.3,-4.2 2.9,-4.2 4,-3.4 6.9,-7.7 9.2,-9.4 114.9,-49.7 114.9,-43.6"/>
<polygon transform="translate(88.8 354.7)" points="0,0 0,-3.4 2.3,-4.2 4,-3.7 6.9,-9.3 9.2,-11.2 114.9,-51.6 114.9,-43.6"/>
<polygon transform="translate(89 354.9)" points="0,0 0,-3.4 2.3,-4.2 2.9,-4.2 3.4,-3.8 4,-4.3 6.9,-11.1 9.2,-13.3 114.9,-53.8 114.9,-43.6"/>
<polygon transform="translate(89.2 355)" points="0,0 0,-3.4 2.3,-4.2 2.9,-4.2 3.4,-3.8 4,-4.9 6.3,-11.8 6.9,-13.1 9.2,-15.6 114.9,-56.1 114.9,-43.6"/>
<polygon transform="translate(89.4 355.2)" points="0,0 0,-3.4 2.3,-4.2 2.9,-4.2 3.4,-3.8 6.3,-13.8 6.9,-15.3 9.2,-18.1 114.9,-58.8 114.9,-43.6"/>
<polygon transform="translate(89.7 355.3)" points="0,0 0,-3.4 2.3,-4.2 3.4,-3.9 6.3,-16 6.9,-17.7 9.2,-20.9 114.9,-61.7 114.9,-43.6"/>
<polygon transform="translate(89.9 355.5)" points="0,0 0,-3.4 2.3,-4.2 4,-3.7 6.9,-9.3 9.2,-11.2 114.9,-51.6 114.9,-43.6"/>
<polygon transform="translate(90.1 355.6)" points="0,0 0,-3.4 2.3,-4.2 2.9,-4.2 4.6,-3.1 5.2,-3 6.9,-4.3 9.2,-5.4 114.9,-45.6 114.9,-43.6"/>
<polygon transform="translate(90.3 355.8)" points="0,0 0,-3.4 2.3,-4.2 2.9,-4.2 5.2,-2.8 7.5,-4.5 9.8,-5.6 114.9,-46.1 114.9,-43.6"/>
<polygon transform="translate(90.6 355.9)" points="0,0 0,-3.4 2.3,-4.2 2.9,-4.2 4.6,-3.1 5.2,-3.4 7.5,-5.8 9.8,-7.1 114.9,-48.1 114.9,-43.6"/>
<polygon transform="translate(90.8 356.1)" points="0,0 0,-3.4 2.3,-4.2 2.9,-4.2 4.6,-3.3 7.5,-7.5 9.8,-9.1 114.9,-50.7 114.9,-43.6"/>
<polygon transform="translate(91 356.2)" points="0,0 0,-3.4 2.3,-4.2 2.9,-4.2 4,-3.4 4.6,-3.9 7.5,-9.5 9.8,-11.5 114.9,-53.8 114.9,-43.6"/>
<polygon transform="translate(91.2 356.4)" points="0,0 0,-3.4 2.3,-4.2 2.9,-4.2 4,-3.4 7.5,-11.9 9.8,-14.2 114.9,-57.4 114.9,-43.6"/>
<polygon transform="translate(91.5 356.5)" points="0,0 0,-3.4 2.3,-4.2 2.9,-4.2 4,-3.6 6.9,-13.3 7.5,-14.7 9.8,-17.5 114.9,-61.7 114.9,-43.6"/>
<polygon transform="translate(91.7 356.7)" points="0,0 0,-3.4 2.3,-4.2 2.9,-4.2 4,-3.4 4.6,-3.5 7.5,-8.1 9.8,-9.8 114.9,-51.6 114.9,-43.6"/>
<polygon transform="translate(91.9 356.8)" points="0,0 0,-3.4 2.3,-4.2 2.9,-4.2 5.2,-2.7 7.5,-4.2 9.8,-5.2 114.9,-45.6 114.9,-43.6"/>
<polygon transform="translate(92.1 357)" points="0,0 0,-3.4 2.3,-4.2 2.9,-4.2 5.2,-2.7 114.9,-44.4 114.9,-43.6"/>
<polygon transform="translate(92.4 357.1)" points="0,0 0,-3.4 2.3,-4.2 2.9,-4.2 5.2,-2.7 114.9,-44.4 114.9,-43.6"/>
<polygon transform="translate(92.6 357.3)" points="0,0 0,-3.4 2.3,-4.2 2.9,-4.2 5.2,-2.7 114.9,-44.4 114.9,-43.6"/>
<polygon transform="translate(92.8 357.4)" points="0,0 0,-3.4 2.3,-4.2 2.9,-4.2 5.2,-2.7 114.9,-44.4 114.9,-43.6"/>
<polygon transform="translate(93 357.6)" points="0,0 0,-3.4 2.3,-4.2 2.9,-4.2 5.2,-2.7 114.9,-44.6 114.9,-43.6"/>
<polygon transform="translate(93.3 357.7)" points="0,0 0,-3.4 2.3,-4.2 2.9,-4.2 5.2,-2.7 80.4,-31.9 114.9,-45 114.9,-43.6"/>
<polygon transform="translate(93.5 357.9)" points="0,0 0,-3.4 2.3,-4.2 2.9,-4.2 5.2,-2.7 8.6,-4 12.1,-5.7 40.2,-16.8 80.4,-32.5 114.9,-45.5 114.9,-43.6"/>
<polygon transform="translate(93.7 358)" points="0,0 0,-3.4 2.3,-4.2 2.9,-4.2 5.2,-2.7 8,-3.8 9.8,-5 12.1,-6.1 40.2,-17.3 80.4,-33.1 114.9,-46.1 114.9,-43.6"/>
<polygon transform="translate(94 358.2)" points="0,0 0,-3.4 2.3,-4.2 2.9,-4.2 5.2,-2.7 7.5,-3.6 9.8,-5.3 12.1,-6.5 40.2,-17.9 80.4,-33.7 114.9,-46.8 114.9,-43.6"/>
<polygon transform="translate(94.2 358.3)" points="0,0 0,-3.4 2.3,-4.2 2.9,-4.2 5.2,-2.7 7.5,-3.6 9.8,-5.7 12.1,-6.9 40.2,-18.5 80.4,-34.5 114.9,-47.6 114.9,-43.6"/>
<polygon transform="translate(94.4 358.5)" points="0,0 0,-3.4 2.3,-4.2 2.9,-4.2 5.2,-2.7 6.9,-3.4 7.5,-3.7 9.8,-6.1 12.1,-7.4 40.2,-19.1 80.4,-35.3 114.9,-48.4 114.9,-43.6"/>
<polygon transform="translate(94.6 358.6)" points="0,0 0,-3.4 2.3,-4.2 2.9,-4.2 5.2,-2.7 6.9,-3.4 9.8,-6.6 12.1,-8 40.2,-19.9 80.4,-36.2 114.9,-49.3 114.9,-43.6"/>
<polygon transform="translate(94.9 358.8)" points="0,0 0,-3.4 2.3,-4.2 2.9,-4.2 5.2,-2.7 6.9,-3.4 9.8,-7.1 12.1,-8.6 40.2,-20.7 80.4,-37.2 114.9,-50.3 114.9,-43.6"/>
<polygon transform="translate(95.1 358.9)" points="0,0 0,-3.4 2.3,-4.2 2.9,-4.2 5.2,-2.7 6.3,-3.2 6.9,-3.4 9.8,-7.6 12.1,-9.2 40.2,-21.6 80.4,-38.3 114.9,-51.4 114.9,-43.6"/>
<polygon transform="translate(95.3 359.1)" points="0,0 0,-3.4 2.3,-4.2 2.9,-4.2 5.2,-2.7 6.3,-3.2 6.9,-3.6 9.8,-8.2 12.1,-9.9 40.2,-22.5 80.4,-39.4 114.9,-52.5 114.9,-43.6"/>
<polygon transform="translate(95.5 359.2)" points="0,0 0,-3.4 2.3,-4.2 2.9,-4.2 5.2,-2.7 6.3,-3.2 6.9,-3.7 9.8,-8.8 12.1,-10.6 40.2,-23.5 80.4,-40.7 114.9,-53.8 114.9,-43.6"/>
<polygon transform="translate(95.8 359.4)" points="0,0 0,-3.4 2.3,-4.2 2.9,-4.2 5.2,-2.7 6.3,-3.2 6.9,-3.8 9.8,-9.5 12.1,-11.4 40.2,-24.5 80.4,-42 114.9,-55.1 114.9,-43.6"/>
<polygon transform="translate(96 359.5)" points="0,0 0,-3.4 2.3,-4.2 2.9,-4.2 5.2,-2.7 6.3,-3.2 6.9,-4 9.8,-10.2 12.1,-12.2 40.2,-25.7 80.4,-43.4 114.9,-56.5 114.9,-43.6"/>
<polygon transform="translate(96.2 359.7)" points="0,0 0,-3.4 2.3,-4.2 2.9,-4.2 5.2,-2.7 6.9,-3.4 9.8,-6.6 12.1,-8 40.2,-19.9 80.4,-36.2 114.9,-49.3 114.9,-43.6"/>
<polygon transform="translate(96.4 359.8)" points="0,0 0,-3.4 2.3,-4.2 2.9,-4.2 5.2,-2.7 80.4,-31.9 114.9,-45 114.9,-43.6"/>
<polygon transform="translate(96.7 359.9)" points="0,0 0,-3.4 2.3,-4.2 2.9,-4.2 5.2,-2.7 114.9,-44.4 114.9,-43.6"/>
<polygon transform="translate(96.9 360.1)" points="0,0 0,-3.4 2.3,-4.2 2.9,-4.2 5.2,-2.7 114.9,-44.4 114.9,-43.6"/>
<polygon transform="translate(97.1 360.2)" points="0,0 0,-3.4 2.3,-4.2 2.9,-4.2 5.2,-2.7 114.9,-44.4 114.9,-43.6"/>
<polygon transform="translate(97.3 360.4)" points="0,0 0,-3.4 2.3,-4.2 2.9,-4.2 5.2,-2.7 114.9,-44.4 114.9,-43.6"/>
<polygon transform="translate(97.6 360.5)" points="0,0 0,-3.4 2.3,-4.2 2.9,-4.2 5.2,-2.7 114.9,-44.4 114.9,-43.6"/>
<polygon transform="translate(97.8 360.7)" points="0,0 0,-3.4 2.3,-4.2 2.9,-4.2 5.2,-2.7 114.9,-44.4 114.9,-43.6"/>
<polygon transform="translate(98 360.8)" points="0,0 0,-3.4 2.3,-4.2 2.9,-4.2 5.2,-2.7 114.9,-44.4 114.9,-43.6"/>
<polygon transform="translate(98.2 361)" points="0,0 0,-3.4 2.3,-4.2 2.9,-4.2 5.2,-2.7 114.9,-44.5 114.9,-43.6"/>
<polygon transform="translate(98.5 361.1)" points="0,0 0,-3.4 2.3,-4.2 2.9,-4.2 5.2,-2.7 114.9,-45 114.9,-43.6"/>
<polygon transform="translate(98.7 361.3)" points="0,0 0,-3.4 2.3,-4.2 2.9,-4.2 5.2,-2.7 34.5,-14.4 114.9,-45.7 114.9,-43.6"/>
<polygon transform="translate(98.9 361.4)" points="0,0 0,-3.4 2.3,-4.2 2.9,-4.2 5.2,-2.7 8,-3.8 9.2,-4.6 11.5,-5.7 34.5,-14.8 80.4,-32.7 114.9,-46.4 114.9,-43.6"/>
<polygon transform="translate(99.1 361.6)" points="0,0 0,-3.4 2.3,-4.2 2.9,-4.2 5.2,-2.7 7.5,-3.6 9.2,-4.9 11.5,-6.1 34.5,-15.4 80.4,-33.4 114.9,-47.3 114.9,-43.6"/>
<polygon transform="translate(99.4 361.7)" points="0,0 0,-3.4 2.3,-4.2 2.9,-4.2 5.2,-2.7 6.9,-3.4 9.2,-5.3 11.5,-6.5 34.5,-16 80.4,-34.2 114.9,-48.3 114.9,-43.6"/>
<polygon transform="translate(99.6 361.9)" points="0,0 0,-3.4 2.3,-4.2 2.9,-4.2 5.2,-2.7 6.3,-3.2 6.9,-3.4 9.2,-5.7 11.5,-7 34.5,-16.7 80.4,-35.1 114.9,-49.4 114.9,-43.6"/>
<polygon transform="translate(99.8 362)" points="0,0 0,-3.4 2.3,-4.2 2.9,-4.2 5.2,-2.7 6.3,-3.2 9.2,-6.2 11.5,-7.6 34.5,-17.4 80.4,-36 114.9,-50.6 114.9,-43.6"/>
<polygon transform="translate(100 362.2)" points="0,0 0,-3.4 2.3,-4.2 2.9,-4.2 5.2,-2.7 6.3,-3.2 9.2,-6.7 11.5,-8.2 34.5,-18.2 80.4,-37 114.9,-51.9 114.9,-43.6"/>
<polygon transform="translate(100.3 362.3)" points="0,0 0,-3.4 2.3,-4.2 2.9,-4.2 5.2,-2.7 6.3,-3.2 9.2,-7.3 11.5,-8.8 34.5,-19.1 80.4,-38.2 114.9,-53.3 114.9,-43.6"/>
<polygon transform="translate(100.5 362.5)" points="0,0 0,-3.4 2.3,-4.2 2.9,-4.2 5.2,-2.7 5.7,-2.9 6.3,-3.3 9.2,-7.9 11.5,-9.5 34.5,-20.1 80.4,-39.4 114.9,-54.9 114.9,-43.6"/>
<polygon transform="translate(100.7 362.6)" points="0,0 0,-3.4 2.3,-4.2 2.9,-4.2 5.2,-2.7 5.7,-2.9 6.3,-3.4 9.2,-8.5 11.5,-10.3 34.5,-21.2 80.4,-40.7 114.9,-56.6 114.9,-43.6"/>
<polygon transform="translate(100.9 362.8)" points="0,0 0,-3.4 2.3,-4.2 2.9,-4.2 5.2,-2.7 5.7,-2.9 6.3,-3.6 9.2,-9.2 11.5,-11.1 34.5,-22.3 80.4,-42.1 114.9,-58.3 114.9,-43.6"/>
<polygon transform="translate(101.2 362.9)" points="0,0 0,-3.4 2.3,-4.2 2.9,-4.2 5.2,-2.7 5.7,-2.9 6.3,-3.7 9.2,-10 11.5,-12 34.5,-23.5 80.4,-43.6 114.9,-60.2 114.9,-43.6"/>
<polygon transform="translate(101.4 363.1)" points="0,0 0,-3.4 2.3,-4.2 2.9,-4.2 5.2,-2.7 5.7,-2.9 6.3,-3.9 9.2,-10.8 11.5,-12.9 25.3,-20 34.5,-24.7 80.4,-45.2 114.9,-62.3 114.9,-43.6"/>
<polygon transform="translate(101.6 363.2)" points="0,0 0,-3.4 2.3,-4.2 2.9,-4.2 5.2,-2.7 6.3,-3.2 9.2,-6.7 11.5,-8.2 34.5,-18.2 80.4,-37 114.9,-51.9 114.9,-43.6"/>
<polygon transform="translate(101.8 363.4)" points="0,0 0,-3.4 2.3,-4.2 2.9,-4.2 5.2,-2.7 34.5,-14.4 114.9,-45.7 114.9,-43.6"/>
<polygon transform="translate(102.1 363.5)" points="0,0 0,-3.4 2.3,-4.2 2.9,-4.2 5.2,-2.7 114.9,-44.5 114.9,-43.6"/>
<polygon transform="translate(102.3 363.7)" points="0,0 0,-3.4 2.3,-4.2 2.9,-4.2 5.2,-2.7 114.9,-44.9 114.9,-43.6"/>
<polygon transform="translate(102.5 363.8)" points="0,0 0,-3.4 2.3,-4.2 2.9,-4.2 5.2,-2.7 80.4,-32.2 114.9,-45.3 114.9,-43.6"/>
<polygon transform="translate(102.8 364)" points="0,0 0,-3.4 2.3,-4.2 2.9,-4.2 5.2,-2.7 8.6,-4 12.1,-5.8 40.2,-16.9 80.4,-32.7 114.9,-45.9 114.9,-43.6"/>
<polygon transform="translate(103 364.1)" points="0,0 0,-3.4 2.3,-4.2 2.9,-4.2 5.2,-2.7 8,-3.8 9.8,-5 12.1,-6.1 40.2,-17.4 80.4,-33.2 114.9,-46.5 114.9,-43.6"/>
<polygon transform="translate(103.2 364.3)" points="0,0 0,-3.4 2.3,-4.2 2.9,-4.2 5.2,-2.7 7.5,-3.6 9.8,-5.3 12.1,-6.5 80.4,-33.9 114.9,-47.1 114.9,-43.6"/>
<polygon transform="translate(103.4 364.4)" points="0,0 0,-3.4 2.3,-4.2 2.9,-4.2 5.2,-2.7 7.5,-3.6 9.8,-5.7 12.1,-6.9 80.4,-34.6 114.9,-47.9 114.9,-43.6"/>
<polygon transform="translate(103.7 364.6)" points="0,0 0,-3.4 2.3,-4.2 2.9,-4.2 5.2,-2.7 6.9,-3.4 7.5,-3.7 9.8,-6 12.1,-7.3 80.4,-35.4 114.9,-48.7 114.9,-43.6"/>
<polygon transform="translate(103.9 364.7)" points="0,0 0,-3.4 2.3,-4.2 2.9,-4.2 5.2,-2.7 6.9,-3.4 9.8,-6.5 12.1,-7.8 40.2,-19.7 80.4,-36.2 114.9,-49.5 114.9,-43.6"/>
<polygon transform="translate(104.1 364.9)" points="0,0 0,-3.4 2.3,-4.2 2.9,-4.2 5.2,-2.7 6.9,-3.4 9.8,-6.9 12.1,-8.3 40.2,-20.4 80.4,-37.1 114.9,-50.5 114.9,-43.6"/>
<polygon transform="translate(104.3 365)" points="0,0 0,-3.4 2.3,-4.2 2.9,-4.2 5.2,-2.7 6.9,-3.4 9.8,-7.4 12.1,-8.9 40.2,-21.1 80.4,-38.1 114.9,-51.5 114.9,-43.6"/>
<polygon transform="translate(104.6 365.2)" points="0,0 0,-3.4 2.3,-4.2 2.9,-4.2 5.2,-2.7 6.3,-3.2 6.9,-3.5 9.8,-7.9 12.1,-9.5 40.2,-21.9 80.4,-39.1 114.9,-52.6 114.9,-43.6"/>
<polygon transform="translate(104.8 365.3)" points="0,0 0,-3.4 2.3,-4.2 2.9,-4.2 5.2,-2.7 6.3,-3.2 6.9,-3.6 9.8,-8.4 12.1,-10.1 40.2,-22.8 80.4,-40.2 114.9,-53.8 114.9,-43.6"/>
<polygon transform="translate(105 365.5)" points="0,0 0,-3.4 2.3,-4.2 2.9,-4.2 5.2,-2.7 6.3,-3.2 6.9,-3.7 9.8,-9 12.1,-10.8 40.2,-23.7 80.4,-41.4 114.9,-55 114.9,-43.6"/>
<polygon transform="translate(105.2 365.6)" points="0,0 0,-3.4 2.3,-4.2 2.9,-4.2 5.2,-2.7 6.3,-3.2 6.9,-3.8 9.8,-9.6 12.1,-11.5 40.2,-24.6 80.4,-42.7 114.9,-56.3 114.9,-43.6"/>
<polygon transform="translate(105.5 365.8)" points="0,0 0,-3.4 2.3,-4.2 2.9,-4.2 5.2,-2.7 6.3,-3.2 6.9,-4 9.8,-10.2 12.1,-12.2 40.2,-25.7 80.4,-44 114.9,-57.7 114.9,-43.6"/>
<polygon transform="translate(105.7 365.9)" points="0,0 0,-3.4 2.3,-4.2 2.9,-4.2 5.2,-2.7 6.9,-3.4 9.8,-6.6 12.1,-8 40.2,-19.9 80.4,-36.5 114.9,-49.9 114.9,-43.6"/>
<polygon transform="translate(105.9 366.1)" points="0,0 0,-3.4 2.3,-4.2 2.9,-4.2 5.2,-2.7 80.4,-32 114.9,-45.2 114.9,-43.6"/>
<polygon transform="translate(106.1 366.2)" points="0,0 0,-3.4 2.3,-4.2 2.9,-4.2 5.2,-2.7 114.9,-44.4 114.9,-43.6"/>
<polygon transform="translate(106.4 366.4)" points="0,0 0,-3.4 2.3,-4.2 2.9,-4.2 5.2,-2.7 114.9,-44.4 114.9,-43.6"/>
<polygon transform="translate(106.6 366.5)" points="0,0 0,-3.4 2.3,-4.2 2.9,-4.2 5.2,-2.7 114.9,-44.4 114.9,-43.6"/>
<polygon transform="translate(106.8 366.7)" points="0,0 0,-3.4 2.3,-4.2 2.9,-4.2 5.2,-2.7 114.9,-44.4 114.9,-43.6"/>
<polygon transform="translate(107 366.8)" points="0,0 0,-3.4 2.3,-4.2 2.9,-4.2 5.2,-2.7 114.9,-44.4 114.9,-43.6"/>
<polygon transform="translate(107.3 367)" points="0,0 0,-3.4 2.3,-4.2 2.9,-4.2 5.2,-2.7 114.9,-44.4 114.9,-43.6"/>
<polygon transform="translate(107.5 367.1)" points="0,0 0,-3.4 2.3,-4.2 2.9,-4.2 5.2,-2.7 114.9,-44.4 114.9,-43.6"/>
<polygon transform="translate(107.7 367.2)" points="0,0 0,-3.4 2.3,-4.2 2.9,-4.2 5.2,-2.7 114.9,-44.4 114.9,-43.6"/>
<polygon transform="translate(107.9 367.4)" points="0,0 0,-3.4 2.3,-4.2 2.9,-4.2 5.2,-2.7 114.9,-44.4 114.9,-43.6"/>
<polygon transform="translate(108.2 367.5)" points="0,0 0,-3.4 2.3,-4.2 2.9,-4.2 5.2,-2.7 114.9,-44.4 114.9,-43.6"/>
<polygon transform="translate(108.4 367.7)" points="0,0 0,-3.4 2.3,-4.2 2.9,-4.2 5.2,-2.7 114.9,-44.4 114.9,-43.6"/>
<polygon transform="translate(108.6 367.8)" points="0,0 0,-3.4 2.3,-4.2 2.9,-4.2 5.2,-2.7 114.9,-44.4 114.9,-43.6"/>
<polygon transform="translate(108.8 368)" points="0,0 0,-3.4 2.3,-4.2 2.9,-4.2 5.2,-2.7 59.7,-23.4 60.3,-23.8 75.8,-29.6 76.4,-30 81.6,-31.8 82.2,-32.2 93.6,-36.5 94.2,-36.8 106.9,-41.6 114.9,-44.8 114.9,-43.6"/>
<polygon transform="translate(109.1 368.1)" points="0,0 0,-3.4 2.3,-4.2 2.9,-4.2 5.2,-2.7 23,-9.7 26.4,-10.8 27,-11.2 29.9,-12.2 30.4,-12.6 33.9,-13.7 34.5,-14.2 37.9,-15.3 38.5,-15.7 46,-18.4 46.5,-18.9 50.6,-20.2 51.1,-20.6 55.2,-22 55.7,-22.4 59.7,-23.8 60.3,-24.2 70.1,-27.8 70.7,-28.2 75.8,-30 76.4,-30.4 87.3,-34.4 87.9,-34.9 100,-39.3 100.5,-39.8 113.8,-44.7 114.9,-45.3 114.9,-43.6"/>
<polygon transform="translate(109.3 368.3)" points="0,0 0,-3.4 2.3,-4.2 2.9,-4.2 5.2,-2.7 8.6,-4 12.1,-5.7 23,-10.1 26.4,-11.1 27,-11.6 29.9,-12.5 30.4,-13 33.9,-14.1 34.5,-14.5 37.9,-15.6 38.5,-16.1 41.9,-17.2 42.5,-17.7 46,-18.8 46.5,-19.3 50.6,-20.6 51.1,-21.1 55.2,-22.4 55.7,-22.9 59.7,-24.2 60.3,-24.7 64.9,-26.2 65.5,-26.7 70.1,-28.2 70.7,-28.7 75.8,-30.4 76.4,-30.9 81.6,-32.7 82.2,-33.2 87.3,-34.9 87.9,-35.4 93.6,-37.4 94.2,-37.9 100,-39.8 100.5,-40.3 106.9,-42.5 107.4,-43 113.8,-45.2 114.3,-45.7 114.9,-45.9 114.9,-43.6"/>
<polygon transform="translate(109.5 368.4)" points="0,0 0,-3.4 2.3,-4.2 2.9,-4.2 5.2,-2.7 8,-3.8 9.8,-5 12.1,-6.1 23,-10.5 26.4,-11.5 27,-12 29.9,-12.9 30.4,-13.4 33.9,-14.4 34.5,-15 37.9,-16 38.5,-16.6 41.9,-17.6 42.5,-18.2 46,-19.2 46.5,-19.8 50.6,-21 51.1,-21.6 55.2,-22.8 55.7,-23.4 59.7,-24.7 60.3,-25.2 64.9,-26.7 65.5,-27.2 70.1,-28.7 70.7,-29.3 75.8,-30.9 76.4,-31.5 81.6,-33.2 82.2,-33.8 87.3,-35.5 87.9,-36 93.6,-37.9 94.2,-38.5 100,-40.4 100.5,-41 106.9,-43.1 107.4,-43.7 113.8,-45.8 114.3,-46.4 114.9,-46.6 114.9,-43.6"/>
<polygon transform="translate(109.7 368.6)" points="0,0 0,-3.4 2.3,-4.2 2.9,-4.2 5.2,-2.7 7.5,-3.6 9.8,-5.4 12.1,-6.5 23,-10.9 26.4,-11.8 27,-12.5 29.9,-13.3 30.4,-13.9 33.9,-14.8 34.5,-15.5 37.9,-16.5 38.5,-17.1 41.9,-18.1 42.5,-18.7 46,-19.7 46.5,-20.4 50.6,-21.5 51.1,-22.2 55.2,-23.3 55.7,-24 59.7,-25.2 60.3,-25.8 64.9,-27.2 65.5,-27.9 70.1,-29.3 70.7,-29.9 75.8,-31.5 76.4,-32.2 81.6,-33.8 82.2,-34.5 87.3,-36.1 87.9,-36.8 93.6,-38.6 94.2,-39.2 100,-41.1 100.5,-41.8 106.9,-43.8 107.4,-44.5 113.8,-46.5 114.3,-47.2 114.9,-47.4 114.9,-43.6"/>
<polygon transform="translate(110 368.7)" points="0,0 0,-3.4 2.3,-4.2 2.9,-4.2 5.2,-2.7 7.5,-3.6 9.8,-5.7 12.1,-7 23,-11.4 26.4,-12.3 27,-13 29.9,-13.7 30.4,-14.4 33.9,-15.3 34.5,-16.1 37.9,-17 38.5,-17.7 41.9,-18.6 42.5,-19.3 46,-20.2 46.5,-21 50.6,-22.1 51.1,-22.8 55.2,-23.9 55.7,-24.7 59.7,-25.8 60.3,-26.5 64.9,-27.8 65.5,-28.6 70.1,-29.9 70.7,-30.7 75.8,-32.2 76.4,-32.9 81.6,-34.5 82.2,-35.2 87.3,-36.8 87.9,-37.6 93.6,-39.3 94.2,-40.1 100,-41.8 100.5,-42.6 106.9,-44.6 107.4,-45.3 113.8,-47.3 114.3,-48.1 114.9,-48.3 114.9,-43.6"/>
<polygon transform="translate(110.2 368.9)" points="0,0 0,-3.4 2.3,-4.2 2.9,-4.2 5.2,-2.7 6.9,-3.4 7.5,-3.8 9.8,-6.2 12.1,-7.5 23,-12 26.4,-12.7 27,-13.6 29.9,-14.2 30.4,-15.1 33.9,-15.8 34.5,-16.7 37.9,-17.5 38.5,-18.3 41.9,-19.2 42.5,-20 46,-20.8 46.5,-21.7 50.6,-22.7 51.1,-23.5 55.2,-24.5 55.7,-25.4 59.7,-26.4 60.3,-27.3 64.9,-28.5 65.5,-29.4 70.1,-30.6 70.7,-31.5 75.8,-32.9 76.4,-33.8 81.6,-35.2 82.2,-36.1 87.3,-37.5 87.9,-38.4 93.6,-40.1 94.2,-41 100,-42.6 100.5,-43.5 106.9,-45.4 107.4,-46.3 113.8,-48.2 114.3,-49.1 114.9,-49.3 114.9,-43.6"/>
<polygon transform="translate(110.4 369)" points="0,0 0,-3.4 2.3,-4.2 2.9,-4.2 5.2,-2.7 6.9,-3.4 9.8,-6.6 12.1,-8 23,-12.6 26.4,-13.2 27,-14.2 29.9,-14.7 30.4,-15.7 33.9,-16.4 34.5,-17.4 37.9,-18.1 38.5,-19.1 41.9,-19.8 42.5,-20.8 46,-21.5 46.5,-22.5 50.6,-23.3 51.1,-24.3 55.2,-25.2 55.7,-26.2 59.7,-27.1 60.3,-28.1 64.9,-29.2 65.5,-30.2 70.1,-31.4 70.7,-32.4 75.8,-33.7 76.4,-34.7 81.6,-36 82.2,-37 87.3,-38.4 87.9,-39.4 93.6,-40.9 94.2,-42 100,-43.5 100.5,-44.6 106.9,-46.3 107.4,-47.4 113.8,-49.2 114.3,-50.2 114.9,-50.4 114.9,-43.6"/>
<polygon transform="translate(110.7 369.2)" points="0,0 0,-3.4 2.3,-4.2 2.9,-4.2 5.2,-2.7 6.9,-3.4 9.8,-7.1 12.1,-8.6 23,-13.3 26.4,-13.8 27,-14.9 29.9,-15.3 30.4,-16.4 33.9,-17 34.5,-18.1 37.9,-18.7 38.5,-19.8 41.9,-20.4 42.5,-21.6 46,-22.2 46.5,-23.3 50.6,-24.1 51.1,-25.2 55.2,-26 55.7,-27.1 59.7,-27.9 60.3,-29.1 64.9,-30 65.5,-31.2 70.1,-32.2 70.7,-33.3 75.8,-34.5 76.4,-35.7 81.6,-36.9 82.2,-38 87.3,-39.3 87.9,-40.4 93.6,-41.9 94.2,-43 100,-44.5 100.5,-45.7 106.9,-47.3 107.4,-48.5 113.8,-50.2 114.3,-51.4 114.9,-51.5 114.9,-43.6"/>
<polygon transform="translate(110.9 369.3)" points="0,0 0,-3.4 2.3,-4.2 2.9,-4.2 5.2,-2.7 6.3,-3.2 6.9,-3.5 9.8,-7.7 12.1,-9.3 23,-14 26.4,-14.4 27,-15.6 29.9,-16 30.4,-17.2 33.9,-17.7 34.5,-18.9 37.9,-19.4 38.5,-20.7 41.9,-21.2 42.5,-22.4 46,-22.9 46.5,-24.2 50.6,-24.8 51.1,-26.1 55.2,-26.8 55.7,-28 59.7,-28.8 60.3,-30 64.9,-30.9 65.5,-32.2 70.1,-33.1 70.7,-34.4 75.8,-35.4 76.4,-36.7 81.6,-37.8 82.2,-39.1 87.3,-40.3 87.9,-41.6 93.6,-42.9 94.2,-44.2 100,-45.6 100.5,-46.9 106.9,-48.4 107.4,-49.7 113.8,-51.3 114.3,-52.7 114.9,-52.8 114.9,-43.6"/>
<polygon transform="translate(111.1 369.5)" points="0,0 0,-3.4 2.3,-4.2 2.9,-4.2 5.2,-2.7 6.3,-3.2 6.9,-3.6 9.8,-8.3 12.1,-10 23,-14.8 26.4,-15 27,-16.4 29.9,-16.7 30.4,-18.1 33.9,-18.4 34.5,-19.8 37.9,-20.2 38.5,-21.6 41.9,-22 42.5,-23.4 46,-23.7 46.5,-25.2 50.6,-25.7 51.1,-27.1 55.2,-27.6 55.7,-29.1 59.7,-29.7 60.3,-31.1 64.9,-31.8 65.5,-33.3 70.1,-34 70.7,-35.5 75.8,-36.4 76.4,-37.9 81.6,-38.8 82.2,-40.3 87.3,-41.3 87.9,-42.8 93.6,-44 94.2,-45.5 100,-46.7 100.5,-48.2 106.9,-49.6 107.4,-51.1 113.8,-52.5 114.3,-54 114.9,-54.2 114.9,-43.6"/>
<polygon transform="translate(111.3 369.6)" points="0,0 0,-3.4 2.3,-4.2 2.9,-4.2 5.2,-2.7 6.3,-3.2 6.9,-3.7 9.8,-8.9 12.1,-10.7 23,-15.7 26.4,-15.7 27,-17.3 29.9,-17.4 30.4,-19 33.9,-19.1 34.5,-20.7 37.9,-21 38.5,-22.5 41.9,-22.8 42.5,-24.4 46,-24.6 46.5,-26.2 50.6,-26.6 51.1,-28.1 55.2,-28.6 55.7,-30.2 59.7,-30.6 60.3,-32.2 64.9,-32.8 65.5,-34.4 70.1,-35.1 70.7,-36.7 75.8,-37.5 76.4,-39.1 81.6,-39.9 82.2,-41.6 87.3,-42.5 87.9,-44.1 93.6,-45.2 94.2,-46.8 100,-47.9 100.5,-49.6 106.9,-50.8 107.4,-52.5 113.8,-53.8 114.3,-55.5 114.9,-55.6 114.9,-43.6"/>
<polygon transform="translate(111.6 369.8)" points="0,0 0,-3.4 2.3,-4.2 2.9,-4.2 5.2,-2.7 6.9,-3.4 7.5,-3.7 9.8,-6 12.1,-7.3 23,-11.8 26.4,-12.6 27,-13.4 29.9,-14 30.4,-14.8 33.9,-15.7 34.5,-16.5 37.9,-17.3 38.5,-18.1 41.9,-19 42.5,-19.8 46,-20.6 46.5,-21.5 50.6,-22.5 51.1,-23.3 55.2,-24.3 55.7,-25.1 59.7,-26.2 60.3,-27 64.9,-28.3 65.5,-29.1 70.1,-30.4 70.7,-31.2 75.8,-32.6 76.4,-33.5 81.6,-34.9 82.2,-35.8 87.3,-37.3 87.9,-38.1 93.6,-39.8 94.2,-40.7 100,-42.4 100.5,-43.2 106.9,-45.1 107.4,-46 113.8,-47.9 114.3,-48.8 114.9,-48.9 114.9,-43.6"/>
<polygon transform="translate(111.8 369.9)" points="0,0 0,-3.4 2.3,-4.2 2.9,-4.2 5.2,-2.7 41.9,-16.7 46.5,-18.6 50.6,-20 51.1,-20.4 70.1,-27.5 70.7,-27.9 75.8,-29.7 76.4,-30.1 81.6,-32 82.2,-32.3 93.6,-36.6 94.2,-37 106.9,-41.7 107.4,-42.1 113.8,-44.3 114.9,-44.9 114.9,-43.6"/>
<polygon transform="translate(112 370.1)" points="0,0 0,-3.4 2.3,-4.2 2.9,-4.2 5.2,-2.7 114.9,-44.4 114.9,-43.6"/>
<polygon transform="translate(112.2 370.2)" points="0,0 0,-3.4 2.3,-4.2 2.9,-4.2 5.2,-2.7 114.9,-44.4 114.9,-43.6"/>
<polygon transform="translate(112.5 370.4)" points="0,0 0,-3.4 2.3,-4.2 2.9,-4.2 5.2,-2.7 114.9,-44.4 114.9,-43.6"/>
<polygon transform="translate(112.7 370.5)" points="0,0 0,-3.4 2.3,-4.2 2.9,-4.2 5.2,-2.7 114.9,-44.4 114.9,-43.6"/>
<polygon transform="translate(112.9 370.7)" points="0,0 0,-3.4 2.3,-4.2 2.9,-4.2 5.2,-2.7 114.9,-44.4 114.9,-43.6"/>
<polygon transform="translate(113.1 370.8)" points="0,0 0,-3.4 2.3,-4.2 2.9,-4.2 5.2,-2.7 114.9,-44.4 114.9,-43.6"/>
<polygon transform="translate(113.4 371)" points="0,0 0,-3.4 2.3,-4.2 2.9,-4.2 5.2,-2.7 114.9,-44.5 114.9,-43.6"/>
<polygon transform="translate(113.6 371.1)" points="0,0 0,-3.4 2.3,-4.2 2.9,-4.2 4.6,-3.1 5.2,-2.9 83.9,-33.1 114.9,-45.2 114.9,-43.6"/>
<polygon transform="translate(113.8 371.3)" points="0,0 0,-3.4 2.3,-4.2 2.9,-4.2 4.6,-3.2 5.7,-3.8 10.3,-5.4 14.4,-7.1 17.8,-8.2 18.4,-8.6 21.8,-9.8 22.4,-10.2 29.9,-12.9 30.4,-13.3 39.1,-16.5 39.6,-16.8 43.7,-18.3 44.2,-18.6 48.8,-20.3 49.4,-20.6 54,-22.3 54.6,-22.6 59.7,-24.5 60.3,-24.9 71.2,-28.9 71.8,-29.3 83.9,-33.8 84.5,-34.2 90.8,-36.5 91.3,-36.9 97.7,-39.2 98.2,-39.6 104.6,-41.9 105.1,-42.3 114.9,-46.1 114.9,-43.6"/>
<polygon transform="translate(114 371.4)" points="0,0 0,-3.4 2.3,-4.2 2.9,-4.2 4,-3.5 5.7,-4.5 10.3,-6 10.9,-6.4 13.8,-7.3 14.4,-7.8 17.8,-8.9 18.4,-9.3 21.8,-10.4 22.4,-10.9 25.9,-12 26.4,-12.5 29.9,-13.6 30.4,-14 34.5,-15.4 35,-15.8 43.7,-19 44.2,-19.4 48.8,-21 49.4,-21.5 54,-23 54.6,-23.5 59.7,-25.3 60.3,-25.7 71.2,-29.7 71.8,-30.2 83.9,-34.7 84.5,-35.1 90.8,-37.4 91.3,-37.8 97.7,-40.1 98.2,-40.6 104.6,-42.9 105.1,-43.3 112,-45.8 112.6,-46.3 114.9,-47.1 114.9,-43.6"/>
<polygon transform="translate(114.3 371.6)" points="0,0 0,-3.4 2.3,-4.2 2.9,-4.2 3.4,-3.8 5.7,-5.3 10.3,-6.7 10.9,-7.3 13.8,-8.1 14.4,-8.6 17.8,-9.7 18.4,-10.2 21.8,-11.2 22.4,-11.7 25.9,-12.8 26.4,-13.3 29.9,-14.4 30.4,-14.9 34.5,-16.2 35,-16.7 39.1,-18 39.6,-18.6 43.7,-19.9 44.2,-20.4 48.8,-21.9 49.4,-22.5 54,-24 54.6,-24.5 59.7,-26.2 60.3,-26.7 65.5,-28.5 66.1,-29 71.2,-30.7 71.8,-31.3 77.6,-33.2 78.1,-33.7 83.9,-35.7 84.5,-36.2 90.8,-38.4 91.3,-39 97.7,-41.2 98.2,-41.8 104.6,-44 105.1,-44.6 112,-47 112.6,-47.6 114.9,-48.4 114.9,-43.6"/>
<polygon transform="translate(114.5 371.7)" points="0,0 0,-3.4 2.3,-4.2 3.4,-4.2 4,-5 5.7,-6.2 10.3,-7.6 10.9,-8.2 13.8,-9 14.4,-9.6 17.8,-10.5 18.4,-11.2 21.8,-12.1 22.4,-12.7 25.9,-13.7 26.4,-14.3 29.9,-15.3 30.4,-16 34.5,-17.2 35,-17.8 39.1,-19 39.6,-19.6 43.7,-20.9 44.2,-21.5 48.8,-23 49.4,-23.6 54,-25 54.6,-25.7 59.7,-27.3 60.3,-27.9 65.5,-29.6 66.1,-30.2 71.2,-31.8 71.8,-32.5 77.6,-34.3 78.1,-35 83.9,-36.9 84.5,-37.5 90.8,-39.6 91.3,-40.3 97.7,-42.5 98.2,-43.1 104.6,-45.3 105.1,-46 112,-48.4 112.6,-49.1 114.9,-49.9 114.9,-43.6"/>
<polygon transform="translate(114.7 371.9)" points="0,0 0,-3.4 2.3,-4.2 2.9,-4.2 4,-5.9 5.7,-7.3 6.9,-7.8 10.3,-8.6 10.9,-9.3 13.8,-10 14.4,-10.7 17.8,-11.5 18.4,-12.3 21.8,-13.1 22.4,-13.9 25.9,-14.8 26.4,-15.5 29.9,-16.4 30.4,-17.1 34.5,-18.2 35,-19 39.1,-20.1 39.6,-20.9 43.7,-22 44.2,-22.8 48.8,-24.1 49.4,-24.9 54,-26.2 54.6,-27 59.7,-28.5 60.3,-29.3 65.5,-30.8 66.1,-31.6 71.2,-33.1 71.8,-33.9 77.6,-35.6 78.1,-36.4 83.9,-38.2 84.5,-39 90.8,-41 91.3,-41.8 97.7,-43.9 98.2,-44.7 104.6,-46.8 105.1,-47.6 112,-50 112.6,-50.8 114.9,-51.6 114.9,-43.6"/>
<polygon transform="translate(114.9 372)" points="0,0 0,-3.4 2.9,-4.6 4,-7 5.7,-8.5 6.9,-9 10.3,-9.7 10.9,-10.5 13.8,-11.1 14.4,-11.9 17.8,-12.7 18.4,-13.5 21.8,-14.3 22.4,-15.1 25.9,-15.9 26.4,-16.8 29.9,-17.6 30.4,-18.4 34.5,-19.4 35,-20.3 39.1,-21.4 39.6,-22.2 43.7,-23.3 44.2,-24.2 48.8,-25.4 49.4,-26.3 54,-27.6 54.6,-28.4 59.7,-29.9 60.3,-30.7 65.5,-32.2 66.1,-33.1 71.2,-34.6 71.8,-35.4 77.6,-37.1 78.1,-38 83.9,-39.7 84.5,-40.6 90.8,-42.6 91.3,-43.5 97.7,-45.5 98.2,-46.4 104.6,-48.5 105.1,-49.4 112,-51.7 112.6,-52.6 114.9,-53.4 114.9,-43.6"/>
<polygon transform="translate(115.2 372.2)" points="0,0 0,-3.4 2.3,-4.2 4,-8.1 5.7,-9.8 6.9,-10.3 10.3,-10.9 10.9,-11.8 13.8,-12.3 14.4,-13.3 17.8,-13.9 18.4,-14.9 21.8,-15.5 22.4,-16.5 25.9,-17.2 26.4,-18.2 29.9,-18.9 30.4,-19.9 34.5,-20.8 35,-21.8 39.1,-22.7 39.6,-23.7 43.7,-24.7 44.2,-25.7 48.8,-26.9 49.4,-27.9 54,-29.1 54.6,-30.1 59.7,-31.4 60.3,-32.4 65.5,-33.7 66.1,-34.8 71.2,-36.1 71.8,-37.2 77.6,-38.7 78.1,-39.7 83.9,-41.3 84.5,-42.4 90.8,-44.3 91.3,-45.3 97.7,-47.3 98.2,-48.4 104.6,-50.4 105.1,-51.4 112,-53.7 112.6,-54.7 114.9,-55.5 114.9,-43.6"/>
<polygon transform="translate(115.4 372.3)" points="0,0 0,-3.4 2.3,-4.3 4,-9.4 5.7,-11.3 6.9,-11.8 10.3,-12.2 10.9,-13.3 13.8,-13.7 14.4,-14.8 17.8,-15.3 18.4,-16.4 21.8,-16.9 22.4,-18 25.9,-18.6 26.4,-19.7 29.9,-20.3 30.4,-21.5 34.5,-22.2 35,-23.4 39.1,-24.2 39.6,-25.4 43.7,-26.3 44.2,-27.4 48.8,-28.5 49.4,-29.6 54,-30.7 54.6,-31.9 59.7,-33 60.3,-34.2 65.5,-35.4 66.1,-36.6 71.2,-37.9 71.8,-39 77.6,-40.5 78.1,-41.7 83.9,-43.1 84.5,-44.3 90.8,-46.1 91.3,-47.3 97.7,-49.3 98.2,-50.5 104.6,-52.4 105.1,-53.6 112,-55.8 112.6,-57 114.9,-57.7 114.9,-43.6"/>
<polygon transform="translate(115.6 372.5)" points="0,0 0,-3.4 1.7,-4 2.3,-4.9 4,-10.7 5.7,-12.9 6.9,-13.4 10.3,-13.6 10.9,-14.9 13.8,-15.1 14.4,-16.4 17.8,-16.7 18.4,-18 21.8,-18.4 22.4,-19.7 25.9,-20.1 26.4,-21.4 29.9,-21.9 30.4,-23.2 34.5,-23.8 35,-25.1 39.1,-25.9 39.6,-27.2 43.7,-28 44.2,-29.3 48.8,-30.2 49.4,-31.5 54,-32.5 54.6,-33.8 59.7,-34.8 60.3,-36.2 65.5,-37.3 66.1,-38.6 71.2,-39.7 71.8,-41.1 77.6,-42.4 78.1,-43.7 83.9,-45.1 84.5,-46.5 90.8,-48.2 91.3,-49.5 97.7,-51.4 98.2,-52.8 104.6,-54.6 105.1,-56 112,-58.1 112.6,-59.5 114.9,-60.2 114.9,-43.6"/>
<polygon transform="translate(115.8 372.6)" points="0,0 0,-3.4 1.7,-4 2.3,-5.6 4,-12.2 5.7,-14.6 6.9,-15.1 10.3,-15.2 10.9,-16.6 13.8,-16.7 14.4,-18.1 17.8,-18.3 18.4,-19.8 21.8,-20 22.4,-21.5 25.9,-21.8 26.4,-23.2 29.9,-23.6 30.4,-25 34.5,-25.6 35,-27 39.1,-27.6 39.6,-29.1 43.7,-29.8 44.2,-31.3 48.8,-32.1 49.4,-33.6 54,-34.4 54.6,-35.9 59.7,-36.8 60.3,-38.3 65.5,-39.3 66.1,-40.8 71.2,-41.8 71.8,-43.3 77.6,-44.5 78.1,-46 83.9,-47.2 84.5,-48.8 90.8,-50.4 91.3,-51.9 97.7,-53.7 98.2,-55.2 104.6,-57 105.1,-58.6 112,-60.6 112.6,-62.2 114.9,-62.8 114.9,-43.6"/>
<polygon transform="translate(116.1 372.8)" points="0,0 0,-3.4 1.7,-4 4,-13.8 5.7,-16.4 6.9,-16.9 10.3,-16.8 10.9,-18.4 13.8,-18.4 14.4,-20 17.8,-20.1 18.4,-21.7 21.8,-21.8 22.4,-23.4 25.9,-23.5 26.4,-25.2 29.9,-25.4 30.4,-27 34.5,-27.4 35,-29.1 39.1,-29.5 39.6,-31.2 43.7,-31.7 44.2,-33.4 48.8,-34.1 49.4,-35.8 54,-36.4 54.6,-38.1 59.7,-38.9 60.3,-40.6 65.5,-41.4 66.1,-43.1 71.2,-44 71.8,-45.7 77.6,-46.7 78.1,-48.4 83.9,-49.5 84.5,-51.2 90.8,-52.7 91.3,-54.5 97.7,-56.1 98.2,-57.9 104.6,-59.6 105.1,-61.4 112,-63.3 112.6,-65 114.9,-65.7 114.9,-43.6"/>
<polygon transform="translate(116.3 372.9)" points="0,0 0,-3.4 1.7,-4 4,-15.5 5.7,-18.4 6.9,-18.9 10.3,-18.6 10.9,-20.4 13.8,-20.2 14.4,-22 17.8,-21.9 18.4,-23.7 21.8,-23.6 22.4,-25.5 25.9,-25.4 26.4,-27.3 29.9,-27.3 30.4,-29.2 34.5,-29.4 35,-31.2 39.1,-31.6 39.6,-33.5 43.7,-33.8 44.2,-35.7 48.8,-36.2 49.4,-38.1 54,-38.6 54.6,-40.5 59.7,-41.1 60.3,-43 65.5,-43.7 66.1,-45.6 71.2,-46.3 71.8,-48.2 77.6,-49.1 78.1,-51 83.9,-51.9 84.5,-53.9 90.8,-55.2 91.3,-57.2 97.7,-58.7 98.2,-60.7 104.6,-62.3 105.1,-64.3 112,-66.1 112.6,-68.1 114.9,-68.7 114.9,-43.6"/>
<polygon transform="translate(116.5 373.1)" points="0,0 0,-3.4 2.3,-4.3 4,-9.4 5.7,-11.3 6.9,-11.8 10.3,-12.2 10.9,-13.3 13.8,-13.7 14.4,-14.8 17.8,-15.3 18.4,-16.4 21.8,-16.9 22.4,-18 25.9,-18.6 26.4,-19.7 29.9,-20.3 30.4,-21.5 34.5,-22.2 35,-23.4 39.1,-24.2 39.6,-25.4 43.7,-26.3 44.2,-27.4 48.8,-28.5 49.4,-29.6 54,-30.7 54.6,-31.9 59.7,-33 60.3,-34.2 65.5,-35.4 66.1,-36.6 71.2,-37.9 71.8,-39 77.6,-40.5 78.1,-41.7 83.9,-43.1 84.5,-44.3 90.8,-46.1 91.3,-47.3 97.7,-49.3 98.2,-50.5 104.6,-52.4 105.1,-53.6 112,-55.8 112.6,-57 114.9,-57.7 114.9,-43.6"/>
<polygon transform="translate(116.7 373.2)" points="0,0 0,-3.4 2.3,-4.2 4,-8.1 5.7,-9.9 6.9,-10.3 10.3,-10.8 10.9,-11.8 13.8,-12.2 14.4,-13.2 17.8,-13.7 18.4,-14.8 21.8,-15.3 22.4,-16.4 25.9,-16.9 26.4,-18 29.9,-18.6 30.4,-19.6 34.5,-20.4 35,-21.4 39.1,-22.2 39.6,-23.3 43.7,-24.1 44.2,-25.2 48.8,-26.1 49.4,-27.2 54,-28.2 54.6,-29.2 59.7,-30.4 60.3,-31.5 65.5,-32.7 66.1,-33.8 71.2,-35 71.8,-36.1 77.6,-37.5 78.1,-38.6 83.9,-40 84.5,-41.1 90.8,-42.7 91.3,-43.8 97.7,-45.4 98.2,-46.5 104.6,-48.2 105.1,-49.3 112,-51.2 112.6,-52.3 114.9,-52.9 114.9,-43.6"/>
<polygon transform="translate(117 373.4)" points="0,0 0,-3.4 2.3,-4.3 4,-9.2 5.7,-11.2 6.9,-11.6 10.3,-11.9 10.9,-13.1 13.8,-13.3 14.4,-14.5 17.8,-14.9 18.4,-16.1 21.8,-16.5 22.4,-17.7 25.9,-18.1 26.4,-19.3 29.9,-19.8 30.4,-21 34.5,-21.6 35,-22.8 39.1,-23.4 39.6,-24.7 43.7,-25.3 44.2,-26.6 48.8,-27.4 49.4,-28.6 54,-29.4 54.6,-30.7 59.7,-31.7 60.3,-32.9 65.5,-34 66.1,-35.2 71.2,-36.3 71.8,-37.5 77.6,-38.8 78.1,-40 83.9,-41.3 84.5,-42.6 90.8,-44.1 91.3,-45.3 97.7,-46.8 98.2,-48.1 104.6,-49.6 105.1,-50.9 112,-52.6 112.6,-53.9 114.9,-54.5 114.9,-43.6"/>
<polygon transform="translate(117.2 373.5)" points="0,0 0,-3.4 1.7,-4 2.3,-4.7 4,-10.2 5.7,-12.3 6.9,-12.8 10.3,-12.9 10.9,-14.2 13.8,-14.4 14.4,-15.7 17.8,-15.9 18.4,-17.3 21.8,-17.5 22.4,-18.9 25.9,-19.2 26.4,-20.5 29.9,-20.9 30.4,-22.2 34.5,-22.7 35,-24 39.1,-24.6 39.6,-25.9 43.7,-26.5 44.2,-27.8 48.8,-28.5 49.4,-29.9 54,-30.6 54.6,-32 59.7,-32.9 60.3,-34.2 65.5,-35.2 66.1,-36.5 71.2,-37.5 71.8,-38.9 77.6,-40 78.1,-41.4 83.9,-42.6 84.5,-44 90.8,-45.3 91.3,-46.7 97.7,-48.1 98.2,-49.5 104.6,-50.9 105.1,-52.3 112,-53.9 112.6,-55.3 114.9,-55.9 114.9,-43.6"/>
<polygon transform="translate(117.4 373.7)" points="0,0 0,-3.4 1.7,-4 2.3,-5.1 4,-11.2 5.7,-13.4 6.9,-13.9 10.3,-13.9 10.9,-15.3 13.8,-15.4 14.4,-16.8 17.8,-16.9 18.4,-18.4 21.8,-18.5 22.4,-20 25.9,-20.2 26.4,-21.6 29.9,-21.9 30.4,-23.4 34.5,-23.7 35,-25.2 39.1,-25.6 39.6,-27.1 43.7,-27.5 44.2,-29 48.8,-29.6 49.4,-31.1 54,-31.7 54.6,-33.2 59.7,-34 60.3,-35.4 65.5,-36.3 66.1,-37.8 71.2,-38.6 71.8,-40.1 77.6,-41.2 78.1,-42.7 83.9,-43.7 84.5,-45.2 90.8,-46.5 91.3,-48 97.7,-49.3 98.2,-50.8 104.6,-52.1 105.1,-53.7 112,-55.2 112.6,-56.7 114.9,-57.2 114.9,-43.6"/>
<polygon transform="translate(117.6 373.8)" points="0,0 0,-3.4 1.7,-4 2.3,-5.5 4,-12.1 5.7,-14.4 6.9,-14.9 10.3,-14.8 10.9,-16.3 13.8,-16.3 14.4,-17.8 17.8,-17.9 18.4,-19.4 21.8,-19.5 22.4,-21 25.9,-21.1 26.4,-22.7 29.9,-22.9 30.4,-24.4 34.5,-24.7 35,-26.3 39.1,-26.6 39.6,-28.2 43.7,-28.5 44.2,-30.1 48.8,-30.6 49.4,-32.2 54,-32.7 54.6,-34.3 59.7,-35 60.3,-36.6 65.5,-37.3 66.1,-38.9 71.2,-39.7 71.8,-41.3 77.6,-42.2 78.1,-43.8 83.9,-44.8 84.5,-46.4 90.8,-47.6 91.3,-49.2 97.7,-50.4 98.2,-52 104.6,-53.3 105.1,-54.9 112,-56.3 112.6,-58 114.9,-58.4 114.9,-43.6"/>
<polygon transform="translate(117.9 374)" points="0,0 0,-3.4 1.7,-4 4,-12.9 5.7,-15.4 6.9,-15.9 10.3,-15.7 10.9,-17.3 13.8,-17.2 14.4,-18.8 17.8,-18.7 18.4,-20.4 21.8,-20.4 22.4,-22 25.9,-22 26.4,-23.7 29.9,-23.8 30.4,-25.5 34.5,-25.6 35,-27.3 39.1,-27.5 39.6,-29.2 43.7,-29.5 44.2,-31.2 48.8,-31.6 49.4,-33.3 54,-33.7 54.6,-35.4 59.7,-36 60.3,-37.7 65.5,-38.3 66.1,-40 71.2,-40.7 71.8,-42.4 77.6,-43.2 78.1,-45 83.9,-45.8 84.5,-47.6 90.8,-48.6 91.3,-50.4 97.7,-51.4 98.2,-53.2 104.6,-54.3 105.1,-56.1 112,-57.4 112.6,-59.2 114.9,-59.6 114.9,-43.6"/>
<polygon transform="translate(118.1 374.1)" points="0,0 0,-3.4 1.7,-4 4,-13.7 5.7,-16.3 6.9,-16.8 10.3,-16.5 10.9,-18.2 13.8,-18 14.4,-19.7 17.8,-19.6 18.4,-21.3 21.8,-21.2 22.4,-23 25.9,-22.9 26.4,-24.7 29.9,-24.7 30.4,-26.4 34.5,-26.5 35,-28.3 39.1,-28.4 39.6,-30.2 43.7,-30.4 44.2,-32.2 48.8,-32.5 49.4,-34.3 54,-34.6 54.6,-36.4 59.7,-36.9 60.3,-38.7 65.5,-39.2 66.1,-41.1 71.2,-41.6 71.8,-43.5 77.6,-44.2 78.1,-46 83.9,-46.8 84.5,-48.7 90.8,-49.6 91.3,-51.5 97.7,-52.4 98.2,-54.3 104.6,-55.4 105.1,-57.2 112,-58.4 112.6,-60.3 114.9,-60.7 114.9,-43.6"/>
<polygon transform="translate(118.3 374.3)" points="0,0 0,-3.4 1.7,-4 4,-12.9 5.7,-15.5 6.9,-15.9 10.3,-15.7 10.9,-17.4 13.8,-17.2 14.4,-18.9 17.8,-18.8 18.4,-20.4 21.8,-20.4 22.4,-22.1 25.9,-22.1 26.4,-23.8 29.9,-23.8 30.4,-25.5 34.5,-25.7 35,-27.4 39.1,-27.6 39.6,-29.3 43.7,-29.5 44.2,-31.2 48.8,-31.6 49.4,-33.3 54,-33.7 54.6,-35.5 59.7,-36 60.3,-37.7 65.5,-38.3 66.1,-40.1 71.2,-40.7 71.8,-42.5 77.6,-43.3 78.1,-45 83.9,-45.9 84.5,-47.7 90.8,-48.7 91.3,-50.4 97.7,-51.5 98.2,-53.3 104.6,-54.4 105.1,-56.2 112,-57.5 112.6,-59.2 114.9,-59.7 114.9,-43.6"/>
<polygon transform="translate(118.5 374.4)" points="0,0 0,-3.4 2.3,-4.4 4,-9.5 5.7,-11.4 6.9,-11.9 10.3,-12.1 10.9,-13.3 13.8,-13.6 14.4,-14.8 17.8,-15.1 18.4,-16.3 21.8,-16.7 22.4,-17.9 25.9,-18.4 26.4,-19.6 29.9,-20 30.4,-21.3 34.5,-21.8 35,-23.1 39.1,-23.7 39.6,-24.9 43.7,-25.6 44.2,-26.8 48.8,-27.6 49.4,-28.9 54,-29.7 54.6,-31 59.7,-31.9 60.3,-33.2 65.5,-34.2 66.1,-35.5 71.2,-36.6 71.8,-37.8 77.6,-39.1 78.1,-40.3 83.9,-41.6 84.5,-42.9 90.8,-44.3 91.3,-45.6 97.7,-47.1 98.2,-48.4 104.6,-49.9 105.1,-51.2 112,-52.9 112.6,-54.2 114.9,-54.8 114.9,-43.6"/>
<polygon transform="translate(118.8 374.6)" points="0,0 0,-3.4 2.3,-4.2 2.9,-4.2 3.4,-3.8 5.7,-5.3 10.3,-6.7 10.9,-7.3 13.8,-8.1 14.4,-8.6 17.8,-9.6 18.4,-10.2 21.8,-11.2 22.4,-11.7 25.9,-12.7 26.4,-13.3 29.9,-14.3 30.4,-14.9 34.5,-16.1 35,-16.6 39.1,-17.8 39.6,-18.4 43.7,-19.6 44.2,-20.2 48.8,-21.6 49.4,-22.2 54,-23.6 54.6,-24.2 59.7,-25.8 60.3,-26.4 65.5,-28.1 66.1,-28.6 71.2,-30.3 71.8,-30.9 77.6,-32.7 78.1,-33.3 83.9,-35.2 84.5,-35.7 90.8,-37.8 91.3,-38.4 97.7,-40.5 98.2,-41.1 104.6,-43.2 105.1,-43.8 112,-46.1 112.6,-46.6 114.9,-47.4 114.9,-43.6"/>
<polygon transform="translate(119 374.7)" points="0,0 0,0 114.9,-43.6 114.9,-43.6"/>
</g>
<line x1="50.1" y1="330" x2="50.1" y2="268.8" stroke="#777" stroke-width="0.4"/>
<line x1="51.3" y1="330" x2="119" y2="374.7" stroke="#777" stroke-width="0.4"/>
<line x1="119" y1="374.7" x2="233.9" y2="331.1" stroke="#777" stroke-width="0.4"/>
<line x1="50.1" y1="329.4" x2="49" y2="329.9" stroke="#777" stroke-width="0.4"/>
<line x1="50.1" y1="314.1" x2="49" y2="314.6" stroke="#777" stroke-width="0.4"/>
<line x1="50.1" y1="298.8" x2="49" y2="299.3" stroke="#777" stroke-width="0.4"/>
<line x1="50.1" y1="283.5" x2="49" y2="284" stroke="#777" stroke-width="0.4"/>
<line x1="50.1" y1="268.2" x2="49" y2="268.7" stroke="#777" stroke-width="0.4"/>
<line x1="51.3" y1="330" x2="50.3" y2="330.9" stroke="#777" stroke-width="0.4"/>
<line x1="73.9" y1="344.9" x2="72.9" y2="345.8" stroke="#777" stroke-width="0.4"/>
<line x1="96.4" y1="359.8" x2="95.4" y2="360.7" stroke="#777" stroke-width="0.4"/>
<line x1="119" y1="374.7" x2="118" y2="375.6" stroke="#777" stroke-width="0.4"/>
<line x1="147.7" y1="363.8" x2="148.7" y2="364.6" stroke="#777" stroke-width="0.4"/>
<line x1="176.5" y1="352.9" x2="177.5" y2="353.7" stroke="#777" stroke-width="0.4"/>
<line x1="205.2" y1="342" x2="206.2" y2="342.8" stroke="#777" stroke-width="0.4"/>
<line x1="233.9" y1="331.1" x2="234.9" y2="331.9" stroke="#777" stroke-width="0.4"/>
<rect x="250.7" y="225.6" width="6.3" height="149.4" fill="url(#cb)"/>
<g class="tk"><text x="46.7" y="330.6" text-anchor="end">0</text>
<text x="46.7" y="315.3" text-anchor="end">50</text>
<text x="46.7" y="300" text-anchor="end">100</text>
<text x="46.7" y="284.7" text-anchor="end">150</text>
<text x="46.7" y="269.4" text-anchor="end">200</text>
<text x="46" y="335.9" text-anchor="end">0</text>
<text x="68.6" y="350.8" text-anchor="end">50</text>
<text x="91.1" y="365.7" text-anchor="end">100</text>
<text x="113.7" y="380.6" text-anchor="end">150</text>
<text x="151.5" y="370.6" text-anchor="start">50</text>
<text x="180.3" y="359.6" text-anchor="start">100</text>
<text x="209" y="348.8" text-anchor="start">150</text>
<text x="237.7" y="337.9" text-anchor="start">200</text>
<text x="80.5" y="376.9" text-anchor="middle" font-size="4.1">Nodes</text>
<text x="167.5" y="376.9" text-anchor="middle" font-size="4.1">Time</text>
<text transform="translate(36.8 302.8) rotate(-90)" text-anchor="middle" font-size="4.1">Number of passengers</text>
<text x="258.2" y="376.5">0</text>
<text x="258.2" y="326.7">50</text>
<text x="258.2" y="276.9">100</text>
<text x="258.2" y="227.1">150</text></g>
<g><line x1="306.4" y1="330.2" x2="421.3" y2="286.6" stroke="#eeeeee" stroke-width="0.5"/>
<line x1="421.3" y1="286.6" x2="489" y2="331.3" stroke="#eeeeee" stroke-width="0.5"/>
<line x1="306.4" y1="314.9" x2="421.3" y2="271.3" stroke="#eeeeee" stroke-width="0.5"/>
<line x1="421.3" y1="271.3" x2="489" y2="316" stroke="#eeeeee" stroke-width="0.5"/>
<line x1="306.4" y1="299.6" x2="421.3" y2="256" stroke="#eeeeee" stroke-width="0.5"/>
<line x1="421.3" y1="256" x2="489" y2="300.7" stroke="#eeeeee" stroke-width="0.5"/>
<line x1="306.4" y1="284.3" x2="421.3" y2="240.7" stroke="#eeeeee" stroke-width="0.5"/>
<line x1="421.3" y1="240.7" x2="489" y2="285.4" stroke="#eeeeee" stroke-width="0.5"/>
<line x1="306.4" y1="269" x2="421.3" y2="225.4" stroke="#eeeeee" stroke-width="0.5"/>
<line x1="421.3" y1="225.4" x2="489" y2="270.1" stroke="#eeeeee" stroke-width="0.5"/>
<line x1="335.1" y1="319.3" x2="335.1" y2="258.1" stroke="#eeeeee" stroke-width="0.5"/>
<line x1="363.9" y1="308.4" x2="363.9" y2="247.2" stroke="#eeeeee" stroke-width="0.5"/>
<line x1="392.6" y1="297.5" x2="392.6" y2="236.3" stroke="#eeeeee" stroke-width="0.5"/>
<line x1="421.3" y1="286.6" x2="421.3" y2="225.4" stroke="#eeeeee" stroke-width="0.5"/>
<line x1="443.9" y1="301.5" x2="443.9" y2="240.3" stroke="#eeeeee" stroke-width="0.5"/>
<line x1="466.4" y1="316.4" x2="466.4" y2="255.2" stroke="#eeeeee" stroke-width="0.5"/>
<line x1="489" y1="331.3" x2="489" y2="270.1" stroke="#eeeeee" stroke-width="0.5"/>
<line x1="335.1" y1="319.3" x2="402.8" y2="364" stroke="#eeeeee" stroke-width="0.5"/>
<line x1="363.9" y1="308.4" x2="431.6" y2="353.1" stroke="#eeeeee" stroke-width="0.5"/>
<line x1="392.6" y1="297.5" x2="460.3" y2="342.2" stroke="#eeeeee" stroke-width="0.5"/>
<line x1="421.3" y1="286.6" x2="489" y2="331.3" stroke="#eeeeee" stroke-width="0.5"/>
<line x1="329" y1="345.1" x2="443.9" y2="301.5" stroke="#eeeeee" stroke-width="0.5"/>
<line x1="351.5" y1="360" x2="466.4" y2="316.4" stroke="#eeeeee" stroke-width="0.5"/>
<line x1="374.1" y1="374.9" x2="489" y2="331.3" stroke="#eeeeee" stroke-width="0.5"/></g>
<g fill="url(#jet)" stroke="#000820" stroke-opacity="0.35" stroke-width="0.25" stroke-linejoin="round">
<polygon transform="translate(306.4 330.2)" points="0,0 0,-3.4 2.3,-4.2 2.9,-4.2 4.6,-3.1 11.5,-5.4 114.9,-44.6 114.9,-43.6"/>
<polygon transform="translate(306.6 330.3)" points="0,0 0,-3.4 2.3,-4.2 2.9,-4.2 4,-3.4 4.6,-3.4 6.9,-4.3 11.5,-5.6 114.9,-44.8 114.9,-43.6"/>
<polygon transform="translate(306.9 330.5)" points="0,0 0,-3.4 2.3,-4.2 2.9,-4.2 4,-3.5 6.9,-4.6 11.5,-5.8 114.9,-45 114.9,-43.6"/>
<polygon transform="translate(307.1 330.6)" points="0,0 0,-3.4 2.3,-4.2 4,-3.7 6.9,-4.8 11.5,-5.9 114.9,-45.2 114.9,-43.6"/>
<polygon transform="translate(307.3 330.8)" points="0,0 0,-3.4 2.3,-4.2 2.9,-4.2 3.4,-3.8 4,-3.9 6.9,-5 11.5,-6.1 114.9,-45.3 114.9,-43.6"/>
<polygon transform="translate(307.5 330.9)" points="0,0 0,-3.4 2.3,-4.2 3.4,-3.9 6.9,-5.2 11.5,-6.2 114.9,-45.5 114.9,-43.6"/>
<polygon transform="translate(307.8 331.1)" points="0,0 0,-3.4 2.3,-4.2 3.4,-4.1 6.9,-5.4 11.5,-6.4 114.9,-45.6 114.9,-43.6"/>
<polygon transform="translate(308 331.2)" points="0,0 0,-3.4 2.3,-4.2 3.4,-4.2 6.9,-5.5 11.5,-6.5 114.9,-45.7 114.9,-43.6"/>
<polygon transform="translate(308.2 331.4)" points="0,0 0,-3.4 2.3,-4.2 2.9,-4.2 6.9,-5.7 11.5,-6.6 114.9,-45.8 114.9,-43.6"/>
<polygon transform="translate(308.4 331.5)" points="0,0 0,-3.4 6.9,-5.8 11.5,-6.7 114.9,-45.9 114.9,-43.6"/>
<polygon transform="translate(308.7 331.7)" points="0,0 0,-3.4 6.9,-6 11.5,-6.8 114.9,-46 114.9,-43.6"/>
<polygon transform="translate(308.9 331.8)" points="0,0 0,-3.4 6.9,-5.9 11.5,-6.7 114.9,-46 114.9,-43.6"/>
<polygon transform="translate(309.1 332)" points="0,0 0,-3.4 6.9,-5.8 11.5,-6.6 114.9,-45.9 114.9,-43.6"/>
<polygon transform="translate(309.3 332.1)" points="0,0 0,-3.4 2.3,-4.2 2.9,-4.2 3.4,-4.3 6.9,-5.7 11.5,-6.6 114.9,-45.8 114.9,-43.6"/>
<polygon transform="translate(309.6 332.3)" points="0,0 0,-3.4 2.3,-4.2 3.4,-4.2 6.9,-5.5 11.5,-6.5 52.3,-22 114.9,-46.2 114.9,-43.6"/>
<polygon transform="translate(309.8 332.4)" points="0,0 0,-3.4 2.3,-4.2 3.4,-4.1 6.9,-5.4 11.5,-6.4 14.9,-7.9 114.9,-46.7 114.9,-43.6"/>
<polygon transform="translate(310 332.6)" points="0,0 0,-3.4 2.3,-4.2 3.4,-4 6.9,-5.3 11.5,-6.3 12.6,-7.1 14.9,-8.3 114.9,-47.3 114.9,-43.6"/>
<polygon transform="translate(310.2 332.7)" points="0,0 0,-3.4 2.3,-4.2 2.9,-4.2 3.4,-3.8 6.9,-5.1 10.9,-6.1 12.1,-7.1 14.9,-8.8 114.9,-48 114.9,-43.6"/>
<polygon transform="translate(310.5 332.9)" points="0,0 0,-3.4 2.3,-4.2 2.9,-4.2 3.4,-3.8 4,-3.9 6.9,-5 10.3,-5.8 12.1,-7.6 14.9,-9.3 114.9,-48.7 114.9,-43.6"/>
<polygon transform="translate(310.7 333)" points="0,0 0,-3.4 2.3,-4.2 4,-3.8 6.9,-4.8 9.8,-5.6 10.3,-6 12.1,-8 14.9,-9.8 114.9,-49.5 114.9,-43.6"/>
<polygon transform="translate(310.9 333.2)" points="0,0 0,-3.4 2.3,-4.2 2.9,-4.2 4,-3.6 6.9,-4.7 9.8,-5.5 12.1,-8.5 14.9,-10.4 114.9,-50.3 114.9,-43.6"/>
<polygon transform="translate(311.1 333.3)" points="0,0 0,-3.4 2.3,-4.2 2.9,-4.2 4,-3.4 9.2,-5.1 12.1,-9 14.9,-11 114.9,-51.1 114.9,-43.6"/>
<polygon transform="translate(311.4 333.5)" points="0,0 0,-3.4 2.3,-4.2 2.9,-4.2 4,-3.4 4.6,-3.4 8.6,-4.8 9.2,-5.1 12.1,-9.5 14.9,-11.6 114.9,-52 114.9,-43.6"/>
<polygon transform="translate(311.6 333.6)" points="0,0 0,-3.4 2.3,-4.2 2.9,-4.2 4.6,-3.2 8.6,-4.6 12.1,-10.1 14.9,-12.3 114.9,-53 114.9,-43.6"/>
<polygon transform="translate(311.8 333.8)" points="0,0 0,-3.4 2.3,-4.2 2.9,-4.2 4.6,-3.1 5.2,-3.2 8.6,-4.4 12.1,-10.7 14.9,-13 114.9,-54 114.9,-43.6"/>
<polygon transform="translate(312 333.9)" points="0,0 0,-3.4 2.3,-4.2 2.9,-4.2 5.2,-2.8 8.6,-4 12.1,-8 14.9,-9.8 114.9,-49.5 114.9,-43.6"/>
<polygon transform="translate(312.3 334.1)" points="0,0 0,-3.4 2.3,-4.2 2.9,-4.2 5.2,-2.7 9.8,-4.5 12.1,-6.1 14.9,-7.5 114.9,-46.2 114.9,-43.6"/>
<polygon transform="translate(312.5 334.2)" points="0,0 0,-3.4 2.3,-4.2 2.9,-4.2 5.2,-2.7 114.9,-44.4 114.9,-43.6"/>
<polygon transform="translate(312.7 334.4)" points="0,0 0,-3.4 2.3,-4.2 2.9,-4.2 5.2,-2.7 114.9,-44.4 114.9,-43.6"/>
<polygon transform="translate(312.9 334.5)" points="0,0 0,-3.4 2.3,-4.2 2.9,-4.2 5.2,-2.7 114.9,-44.4 114.9,-43.6"/>
<polygon transform="translate(313.2 334.7)" points="0,0 0,-3.4 2.3,-4.2 2.9,-4.2 5.2,-2.7 114.9,-44.4 114.9,-43.6"/>
<polygon transform="translate(313.4 334.8)" points="0,0 0,-3.4 2.3,-4.2 2.9,-4.2 5.2,-2.7 114.9,-44.5 114.9,-43.6"/>
<polygon transform="translate(313.6 335)" points="0,0 0,-3.4 2.3,-4.2 2.9,-4.2 5.2,-2.7 114.9,-44.9 114.9,-43.6"/>
<polygon transform="translate(313.8 335.1)" points="0,0 0,-3.4 2.3,-4.2 2.9,-4.2 4.6,-3.1 5.2,-2.9 8.6,-4.5 114.9,-45.4 114.9,-43.6"/>
<polygon transform="translate(314.1 335.3)" points="0,0 0,-3.4 2.3,-4.2 2.9,-4.2 4.6,-3.1 5.2,-3.2 8.6,-4.8 114.9,-46 114.9,-43.6"/>
<polygon transform="translate(314.3 335.4)" points="0,0 0,-3.4 2.3,-4.2 2.9,-4.2 4.6,-3.2 5.7,-3.9 8.6,-5.2 114.9,-46.6 114.9,-43.6"/>
<polygon transform="translate(314.5 335.6)" points="0,0 0,-3.4 2.3,-4.2 2.9,-4.2 4,-3.4 4.6,-3.5 5.7,-4.3 8.6,-5.7 114.9,-47.3 114.9,-43.6"/>
<polygon transform="translate(314.7 335.7)" points="0,0 0,-3.4 2.3,-4.2 2.9,-4.2 4,-3.4 5.7,-4.7 8.6,-6.2 114.9,-48.1 114.9,-43.6"/>
<polygon transform="translate(315 335.9)" points="0,0 0,-3.4 2.3,-4.2 4,-3.7 5.7,-5.2 8.6,-6.8 114.9,-49 114.9,-43.6"/>
<polygon transform="translate(315.2 336)" points="0,0 0,-3.4 2.3,-4.2 2.9,-4.2 3.4,-3.8 4,-4.1 5.7,-5.8 8.6,-7.4 68.4,-31.1 114.9,-49.9 114.9,-43.6"/>
<polygon transform="translate(315.4 336.2)" points="0,0 0,-3.4 2.3,-4.2 2.9,-4.2 3.4,-3.8 5.7,-6.3 8.6,-8.1 68.4,-32 114.9,-50.9 114.9,-43.6"/>
<polygon transform="translate(315.7 336.3)" points="0,0 0,-3.4 2.3,-4.2 3.4,-4.2 5.7,-6.9 8.6,-8.8 68.4,-32.9 114.9,-52 114.9,-43.6"/>
<polygon transform="translate(315.9 336.5)" points="0,0 0,-3.4 2.3,-4.2 2.9,-4.2 3.4,-4.6 5.7,-7.6 8.6,-9.5 68.4,-33.8 114.9,-53.1 114.9,-43.6"/>
<polygon transform="translate(316.1 336.6)" points="0,0 0,-3.4 2.3,-4.2 2.9,-4.2 5.2,-7.7 5.7,-8.3 8.6,-10.3 68.4,-34.8 114.9,-54.3 114.9,-43.6"/>
<polygon transform="translate(316.3 336.8)" points="0,0 0,-3.4 2.9,-4.5 5.2,-8.4 5.7,-9 8.6,-11.2 68.4,-35.9 114.9,-55.6 114.9,-43.6"/>
<polygon transform="translate(316.6 336.9)" points="0,0 0,-3.4 2.3,-4.2 2.9,-4.9 5.2,-9.1 5.7,-9.8 8.6,-12.1 68.4,-37.1 114.9,-57 114.9,-43.6"/>
<polygon transform="translate(316.8 337.1)" points="0,0 0,-3.4 2.3,-4.2 5.2,-9.9 5.7,-10.6 8.6,-13 68.4,-38.3 114.9,-58.5 114.9,-43.6"/>
<polygon transform="translate(317 337.2)" points="0,0 0,-3.4 2.3,-4.4 5.2,-10.7 5.7,-11.5 8.6,-14 68.4,-39.5 114.9,-60 114.9,-43.6"/>
<polygon transform="translate(317.2 337.4)" points="0,0 0,-3.4 1.7,-4 2.3,-4.7 5.2,-11.6 5.7,-12.4 8.6,-15.1 68.4,-40.9 114.9,-61.6 114.9,-43.6"/>
<polygon transform="translate(317.5 337.5)" points="0,0 0,-3.4 1.7,-4 2.3,-5.1 5.2,-12.5 5.7,-13.4 8.6,-16.2 68.4,-42.2 114.9,-63.3 114.9,-43.6"/>
<polygon transform="translate(317.7 337.6)" points="0,0 0,-3.4 1.7,-4 5.2,-13.4 5.7,-14.4 8.6,-17.3 68.4,-43.7 114.9,-65 114.9,-43.6"/>
<polygon transform="translate(317.9 337.8)" points="0,0 0,-3.4 2.3,-4.2 2.9,-4.2 3.4,-4.6 5.7,-7.6 8.6,-9.5 68.4,-33.8 114.9,-53.1 114.9,-43.6"/>
<polygon transform="translate(318.1 337.9)" points="0,0 0,-3.4 2.3,-4.2 2.9,-4.2 4.6,-3.1 5.2,-3.2 7.5,-4.8 10.3,-6.2 57.5,-24.9 114.9,-48.3 114.9,-43.6"/>
<polygon transform="translate(318.4 338.1)" points="0,0 0,-3.4 2.3,-4.2 2.9,-4.2 4.6,-3.2 6.9,-5.3 10.3,-7.2 57.5,-26.2 114.9,-50.4 114.9,-43.6"/>
<polygon transform="translate(318.6 338.2)" points="0,0 0,-3.4 2.3,-4.2 2.9,-4.2 4,-3.4 4.6,-3.7 6.9,-6.3 10.3,-8.4 57.5,-27.8 114.9,-52.9 114.9,-43.6"/>
<polygon transform="translate(318.8 338.4)" points="0,0 0,-3.4 2.3,-4.2 2.9,-4.2 4,-3.5 6.9,-7.4 10.3,-9.8 57.5,-29.6 114.9,-55.7 114.9,-43.6"/>
<polygon transform="translate(319 338.5)" points="0,0 0,-3.4 2.3,-4.2 2.9,-4.2 3.4,-3.8 4,-4 6.9,-8.7 7.5,-9.3 10.3,-11.4 57.5,-31.7 114.9,-59 114.9,-43.6"/>
<polygon transform="translate(319.3 338.7)" points="0,0 0,-3.4 2.3,-4.2 2.9,-4.2 3.4,-3.8 4,-4.6 6.9,-10.1 7.5,-10.8 10.3,-13.1 57.5,-34 114.9,-62.6 114.9,-43.6"/>
<polygon transform="translate(319.5 338.8)" points="0,0 0,-3.4 2.3,-4.2 2.9,-4.2 4,-3.4 4.6,-3.5 6.9,-5.9 10.3,-8 57.5,-27.2 114.9,-52 114.9,-43.6"/>
<polygon transform="translate(319.7 339)" points="0,0 0,-3.4 2.3,-4.2 2.9,-4.2 5.2,-2.7 10.3,-4.9 57.5,-23.2 114.9,-45.7 114.9,-43.6"/>
<polygon transform="translate(319.9 339.1)" points="0,0 0,-3.4 2.3,-4.2 2.9,-4.2 5.2,-2.7 114.9,-44.4 114.9,-43.6"/>
<polygon transform="translate(320.2 339.3)" points="0,0 0,-3.4 2.3,-4.2 2.9,-4.2 5.2,-2.7 114.9,-44.4 114.9,-43.6"/>
<polygon transform="translate(320.4 339.4)" points="0,0 0,-3.4 2.3,-4.2 2.9,-4.2 5.2,-2.7 114.9,-44.5 114.9,-43.6"/>
<polygon transform="translate(320.6 339.6)" points="0,0 0,-3.4 2.3,-4.2 2.9,-4.2 5.2,-2.7 80.4,-31.9 114.9,-45 114.9,-43.6"/>
<polygon transform="translate(320.8 339.7)" points="0,0 0,-3.4 2.3,-4.2 2.9,-4.2 5.2,-2.7 8,-3.8 11.5,-5.5 40.2,-16.9 80.4,-32.5 114.9,-45.7 114.9,-43.6"/>
<polygon transform="translate(321.1 339.9)" points="0,0 0,-3.4 2.3,-4.2 2.9,-4.2 5.2,-2.7 7.5,-3.6 9.2,-4.8 11.5,-5.9 40.2,-17.4 80.4,-33.3 114.9,-46.4 114.9,-43.6"/>
<polygon transform="translate(321.3 340)" points="0,0 0,-3.4 2.3,-4.2 2.9,-4.2 5.2,-2.7 6.9,-3.4 9.2,-5.2 11.5,-6.4 80.4,-34.1 114.9,-47.3 114.9,-43.6"/>
<polygon transform="translate(321.5 340.2)" points="0,0 0,-3.4 2.3,-4.2 2.9,-4.2 5.2,-2.7 6.3,-3.2 6.9,-3.4 9.2,-5.7 11.5,-7 40.2,-18.8 80.4,-35.1 114.9,-48.2 114.9,-43.6"/>
<polygon transform="translate(321.7 340.3)" points="0,0 0,-3.4 2.3,-4.2 2.9,-4.2 5.2,-2.7 6.3,-3.2 9.2,-6.2 11.5,-7.6 40.2,-19.7 80.4,-36.1 114.9,-49.3 114.9,-43.6"/>
<polygon transform="translate(322 340.5)" points="0,0 0,-3.4 2.3,-4.2 2.9,-4.2 5.2,-2.7 6.3,-3.2 9.2,-6.8 11.5,-8.3 40.2,-20.6 80.4,-37.3 114.9,-50.5 114.9,-43.6"/>
<polygon transform="translate(322.2 340.6)" points="0,0 0,-3.4 2.3,-4.2 2.9,-4.2 5.2,-2.7 5.7,-2.9 6.3,-3.2 9.2,-7.4 11.5,-9 40.2,-21.6 80.4,-38.6 114.9,-51.9 114.9,-43.6"/>
<polygon transform="translate(322.4 340.8)" points="0,0 0,-3.4 2.3,-4.2 2.9,-4.2 5.2,-2.7 5.7,-2.9 6.3,-3.4 9.2,-8.1 11.5,-9.8 40.2,-22.7 80.4,-40 114.9,-53.3 114.9,-43.6"/>
<polygon transform="translate(322.6 340.9)" points="0,0 0,-3.4 2.3,-4.2 2.9,-4.2 5.2,-2.7 5.7,-2.9 6.3,-3.5 9.2,-8.9 11.5,-10.7 40.2,-23.9 80.4,-41.5 114.9,-54.8 114.9,-43.6"/>
<polygon transform="translate(322.9 341.1)" points="0,0 0,-3.4 2.3,-4.2 2.9,-4.2 5.2,-2.7 5.7,-2.9 6.3,-3.7 9.2,-9.7 11.5,-11.6 40.2,-25.2 80.4,-43.2 114.9,-56.5 114.9,-43.6"/>
<polygon transform="translate(323.1 341.2)" points="0,0 0,-3.4 2.3,-4.2 2.9,-4.2 5.2,-2.7 5.7,-2.9 6.3,-3.8 9.2,-10.5 11.5,-12.6 40.2,-26.6 80.4,-44.9 114.9,-58.3 114.9,-43.6"/>
<polygon transform="translate(323.3 341.4)" points="0,0 0,-3.4 2.3,-4.2 2.9,-4.2 5.2,-2.7 6.3,-3.2 9.2,-6.6 11.5,-8 40.2,-20.3 80.4,-36.9 114.9,-50.1 114.9,-43.6"/>
<polygon transform="translate(323.6 341.5)" points="0,0 0,-3.4 2.3,-4.2 2.9,-4.2 5.2,-2.7 80.4,-32.1 114.9,-45.2 114.9,-43.6"/>
<polygon transform="translate(323.8 341.7)" points="0,0 0,-3.4 2.3,-4.2 2.9,-4.2 5.2,-2.7 114.9,-44.4 114.9,-43.6"/>
<polygon transform="translate(324 341.8)" points="0,0 0,-3.4 2.3,-4.2 2.9,-4.2 5.2,-2.7 114.9,-44.4 114.9,-43.6"/>
<polygon transform="translate(324.2 342)" points="0,0 0,-3.4 2.3,-4.2 2.9,-4.2 5.2,-2.7 114.9,-44.4 114.9,-43.6"/>
<polygon transform="translate(324.5 342.1)" points="0,0 0,-3.4 2.3,-4.2 2.9,-4.2 5.2,-2.7 114.9,-44.4 114.9,-43.6"/>
<polygon transform="translate(324.7 342.3)" points="0,0 0,-3.4 2.3,-4.2 2.9,-4.2 5.2,-2.7 34.5,-13.8 114.9,-44.9 114.9,-43.6"/>
<polygon transform="translate(324.9 342.4)" points="0,0 0,-3.4 2.3,-4.2 2.9,-4.2 5.2,-2.7 114.9,-45.5 114.9,-43.6"/>
<polygon transform="translate(325.1 342.6)" points="0,0 0,-3.4 2.3,-4.2 2.9,-4.2 5.2,-2.7 7.5,-3.6 10.9,-5.3 114.9,-46.1 114.9,-43.6"/>
<polygon transform="translate(325.4 342.7)" points="0,0 0,-3.4 2.3,-4.2 2.9,-4.2 5.2,-2.7 6.9,-3.4 8.6,-4.5 10.9,-5.6 114.9,-46.9 114.9,-43.6"/>
<polygon transform="translate(325.6 342.9)" points="0,0 0,-3.4 2.3,-4.2 2.9,-4.2 5.2,-2.7 6.3,-3.2 8.6,-4.9 10.9,-6 114.9,-47.8 114.9,-43.6"/>
<polygon transform="translate(325.8 343)" points="0,0 0,-3.4 2.3,-4.2 2.9,-4.2 5.2,-2.7 6.3,-3.2 8.6,-5.2 10.9,-6.4 114.9,-48.8 114.9,-43.6"/>
<polygon transform="translate(326 343.2)" points="0,0 0,-3.4 2.3,-4.2 2.9,-4.2 5.2,-2.7 5.7,-2.9 6.3,-3.3 8.6,-5.6 10.9,-6.9 114.9,-49.9 114.9,-43.6"/>
<polygon transform="translate(326.3 343.3)" points="0,0 0,-3.4 2.3,-4.2 2.9,-4.2 5.2,-2.7 5.7,-2.9 8.6,-6.1 10.9,-7.4 34.5,-17.5 114.9,-51.1 114.9,-43.6"/>
<polygon transform="translate(326.5 343.5)" points="0,0 0,-3.4 2.3,-4.2 2.9,-4.2 5.2,-2.7 5.7,-2.9 8.6,-6.6 10.9,-8 34.5,-18.3 114.9,-52.4 114.9,-43.6"/>
<polygon transform="translate(326.7 343.6)" points="0,0 0,-3.4 2.3,-4.2 2.9,-4.2 5.2,-2.7 5.7,-3 8.6,-7.1 10.9,-8.6 34.5,-19.1 114.9,-53.8 114.9,-43.6"/>
<polygon transform="translate(326.9 343.8)" points="0,0 0,-3.4 2.3,-4.2 2.9,-4.2 5.2,-2.7 5.7,-3.1 8.6,-7.7 10.9,-9.3 34.5,-20 114.9,-55.3 114.9,-43.6"/>
<polygon transform="translate(327.2 343.9)" points="0,0 0,-3.4 2.3,-4.2 2.9,-4.2 5.2,-2.7 5.7,-3.2 8.6,-8.3 10.9,-10 34.5,-20.9 114.9,-56.9 114.9,-43.6"/>
<polygon transform="translate(327.4 344.1)" points="0,0 0,-3.4 2.3,-4.2 2.9,-4.2 5.2,-2.7 5.7,-3.3 8.6,-8.9 10.9,-10.8 34.5,-21.9 114.9,-58.6 114.9,-43.6"/>
<polygon transform="translate(327.6 344.2)" points="0,0 0,-3.4 2.3,-4.2 2.9,-4.2 5.2,-2.7 5.7,-3.5 8.6,-9.6 10.9,-11.6 34.5,-23 114.9,-60.5 114.9,-43.6"/>
<polygon transform="translate(327.8 344.4)" points="0,0 0,-3.4 2.3,-4.2 2.9,-4.2 5.2,-2.7 5.7,-3.6 8.6,-10.3 10.9,-12.4 34.5,-24.1 114.9,-62.4 114.9,-43.6"/>
<polygon transform="translate(328.1 344.5)" points="0,0 0,-3.4 2.3,-4.2 2.9,-4.2 5.2,-2.7 5.7,-3.8 8.6,-11.1 10.9,-13.3 34.5,-25.3 114.9,-64.4 114.9,-43.6"/>
<polygon transform="translate(328.3 344.7)" points="0,0 0,-3.4 2.3,-4.2 2.9,-4.2 5.2,-2.7 5.7,-2.9 8.6,-6.7 10.9,-8.2 34.5,-18.5 114.9,-52.8 114.9,-43.6"/>
<polygon transform="translate(328.5 344.8)" points="0,0 0,-3.4 2.3,-4.2 2.9,-4.2 5.2,-2.7 10.9,-5.2 34.5,-14.4 114.9,-45.9 114.9,-43.6"/>
<polygon transform="translate(328.7 345)" points="0,0 0,-3.4 2.3,-4.2 2.9,-4.2 5.2,-2.7 114.9,-44.4 114.9,-43.6"/>
<polygon transform="translate(329 345.1)" points="0,0 0,-3.4 2.3,-4.2 2.9,-4.2 5.2,-2.7 114.9,-44.6 114.9,-43.6"/>
<polygon transform="translate(329.2 345.2)" points="0,0 0,-3.4 2.3,-4.2 2.9,-4.2 5.2,-2.7 80.4,-32.1 114.9,-45.2 114.9,-43.6"/>
<polygon transform="translate(329.4 345.4)" points="0,0 0,-3.4 2.3,-4.2 2.9,-4.2 5.2,-2.7 8,-3.8 11.5,-5.5 80.4,-32.8 114.9,-45.8 114.9,-43.6"/>
<polygon transform="translate(329.6 345.5)" points="0,0 0,-3.4 2.3,-4.2 2.9,-4.2 5.2,-2.7 7.5,-3.6 9.2,-4.8 11.5,-5.9 40.2,-17.5 80.4,-33.6 114.9,-46.6 114.9,-43.6"/>
<polygon transform="translate(329.9 345.7)" points="0,0 0,-3.4 2.3,-4.2 2.9,-4.2 5.2,-2.7 6.9,-3.4 9.2,-5.2 11.5,-6.4 40.2,-18.2 80.4,-34.5 114.9,-47.6 114.9,-43.6"/>
<polygon transform="translate(330.1 345.8)" points="0,0 0,-3.4 2.3,-4.2 2.9,-4.2 5.2,-2.7 6.3,-3.2 6.9,-3.4 9.2,-5.7 11.5,-7 40.2,-19 80.4,-35.6 114.9,-48.6 114.9,-43.6"/>
<polygon transform="translate(330.3 346)" points="0,0 0,-3.4 2.3,-4.2 2.9,-4.2 5.2,-2.7 6.3,-3.2 9.2,-6.2 11.5,-7.6 40.2,-19.9 80.4,-36.7 114.9,-49.8 114.9,-43.6"/>
<polygon transform="translate(330.5 346.1)" points="0,0 0,-3.4 2.3,-4.2 2.9,-4.2 5.2,-2.7 6.3,-3.2 9.2,-6.8 11.5,-8.3 40.2,-20.9 80.4,-38 114.9,-51.1 114.9,-43.6"/>
<polygon transform="translate(330.8 346.3)" points="0,0 0,-3.4 2.3,-4.2 2.9,-4.2 5.2,-2.7 5.7,-2.9 6.3,-3.2 9.2,-7.4 11.5,-9 40.2,-22 80.4,-39.5 114.9,-52.6 114.9,-43.6"/>
<polygon transform="translate(331 346.4)" points="0,0 0,-3.4 2.3,-4.2 2.9,-4.2 5.2,-2.7 5.7,-2.9 6.3,-3.4 9.2,-8.1 11.5,-9.8 40.2,-23.1 80.4,-41 114.9,-54.1 114.9,-43.6"/>
<polygon transform="translate(331.2 346.6)" points="0,0 0,-3.4 2.3,-4.2 2.9,-4.2 5.2,-2.7 5.7,-2.9 6.3,-3.5 9.2,-8.9 11.5,-10.7 40.2,-24.4 80.4,-42.7 114.9,-55.8 114.9,-43.6"/>
<polygon transform="translate(331.4 346.7)" points="0,0 0,-3.4 2.3,-4.2 2.9,-4.2 5.2,-2.7 5.7,-2.9 6.3,-3.7 9.2,-9.7 11.5,-11.6 40.2,-25.7 80.4,-44.5 114.9,-57.6 114.9,-43.6"/>
<polygon transform="translate(331.7 346.9)" points="0,0 0,-3.4 2.3,-4.2 2.9,-4.2 5.2,-2.7 5.7,-2.9 6.3,-3.8 9.2,-10.5 11.5,-12.6 40.2,-27.2 80.4,-46.4 114.9,-59.5 114.9,-43.6"/>
<polygon transform="translate(331.9 347)" points="0,0 0,-3.4 2.3,-4.2 2.9,-4.2 5.2,-2.7 6.3,-3.2 9.2,-6.6 11.5,-8 40.2,-20.6 80.4,-37.6 114.9,-50.7 114.9,-43.6"/>
<polygon transform="translate(332.1 347.2)" points="0,0 0,-3.4 2.3,-4.2 2.9,-4.2 5.2,-2.7 80.4,-32.3 114.9,-45.4 114.9,-43.6"/>
<polygon transform="translate(332.4 347.3)" points="0,0 0,-3.4 2.3,-4.2 2.9,-4.2 5.2,-2.7 47.1,-18.6 114.9,-44.9 114.9,-43.6"/>
<polygon transform="translate(332.6 347.5)" points="0,0 0,-3.4 2.3,-4.2 2.9,-4.2 5.2,-2.7 80.4,-32.1 114.9,-45.7 114.9,-43.6"/>
<polygon transform="translate(332.8 347.6)" points="0,0 0,-3.4 2.3,-4.2 2.9,-4.2 5.2,-2.7 7.5,-3.6 10.9,-5.3 80.4,-32.8 114.9,-46.7 114.9,-43.6"/>
<polygon transform="translate(333 347.8)" points="0,0 0,-3.4 2.3,-4.2 2.9,-4.2 5.2,-2.7 6.9,-3.4 8.6,-4.7 10.9,-5.8 80.4,-33.6 114.9,-47.9 114.9,-43.6"/>
<polygon transform="translate(333.3 347.9)" points="0,0 0,-3.4 2.3,-4.2 2.9,-4.2 5.2,-2.7 6.3,-3.2 8.6,-5.1 10.9,-6.3 80.4,-34.6 114.9,-49.3 114.9,-43.6"/>
<polygon transform="translate(333.5 348.1)" points="0,0 0,-3.4 2.3,-4.2 2.9,-4.2 5.2,-2.7 5.7,-2.9 6.3,-3.3 8.6,-5.6 10.9,-6.9 80.4,-35.7 114.9,-50.8 114.9,-43.6"/>
<polygon transform="translate(333.7 348.2)" points="0,0 0,-3.4 2.3,-4.2 2.9,-4.2 5.2,-2.7 5.7,-2.9 8.6,-6.2 10.9,-7.6 34.5,-17.7 80.4,-36.9 114.9,-52.6 114.9,-43.6"/>
<polygon transform="translate(333.9 348.4)" points="0,0 0,-3.4 2.3,-4.2 2.9,-4.2 5.2,-2.7 5.7,-2.9 8.6,-6.8 10.9,-8.3 34.5,-18.7 80.4,-38.3 114.9,-54.5 114.9,-43.6"/>
<polygon transform="translate(334.2 348.5)" points="0,0 0,-3.4 2.3,-4.2 2.9,-4.2 5.2,-2.7 5.7,-3 8.6,-7.5 10.9,-9.1 34.5,-19.7 80.4,-39.8 114.9,-56.6 114.9,-43.6"/>
<polygon transform="translate(334.4 348.7)" points="0,0 0,-3.4 2.3,-4.2 2.9,-4.2 5.2,-2.7 5.7,-3.2 8.6,-8.3 10.9,-10 34.5,-20.9 80.4,-41.5 114.9,-58.9 114.9,-43.6"/>
<polygon transform="translate(334.6 348.8)" points="0,0 0,-3.4 2.3,-4.2 2.9,-4.2 5.2,-2.7 5.7,-3.4 8.6,-9.1 10.9,-11 34.5,-22.2 80.4,-43.3 114.9,-61.4 114.9,-43.6"/>
<polygon transform="translate(334.8 349)" points="0,0 0,-3.4 2.3,-4.2 2.9,-4.2 5.2,-2.7 5.7,-3.5 8.6,-9.9 10.9,-12 34.5,-23.6 80.4,-45.2 114.9,-64 114.9,-43.6"/>
<polygon transform="translate(335.1 349.1)" points="0,0 0,-3.4 2.3,-4.2 2.9,-4.2 5.2,-2.7 5.7,-3.7 8.6,-10.9 10.9,-13.1 34.5,-25 80.4,-47.2 114.9,-66.9 114.9,-43.6"/>
<polygon transform="translate(335.3 349.3)" points="0,0 0,-3.4 2.3,-4.2 2.9,-4.2 5.2,-2.7 5.7,-3 8.6,-7.5 10.9,-9.1 34.5,-19.7 80.4,-39.7 114.9,-56.4 114.9,-43.6"/>
<polygon transform="translate(335.5 349.4)" points="0,0 0,-3.4 2.3,-4.2 2.9,-4.2 5.2,-2.7 6.9,-3.4 8.6,-4.5 10.9,-5.6 80.4,-33.3 114.9,-47.4 114.9,-43.6"/>
<polygon transform="translate(335.7 349.6)" points="0,0 0,-3.4 2.3,-4.2 2.9,-4.2 5.2,-2.7 114.9,-44.4 114.9,-43.6"/>
<polygon transform="translate(336 349.7)" points="0,0 0,-3.4 2.3,-4.2 2.9,-4.2 5.2,-2.7 114.9,-44.4 114.9,-43.6"/>
<polygon transform="translate(336.2 349.9)" points="0,0 0,-3.4 2.3,-4.2 2.9,-4.2 5.2,-2.7 80.4,-31.7 114.9,-44.7 114.9,-43.6"/>
<polygon transform="translate(336.4 350)" points="0,0 0,-3.4 2.3,-4.2 2.9,-4.2 5.2,-2.7 8.6,-4 11.5,-5.4 80.4,-32.3 114.9,-45.3 114.9,-43.6"/>
<polygon transform="translate(336.6 350.2)" points="0,0 0,-3.4 2.3,-4.2 2.9,-4.2 5.2,-2.7 7.5,-3.6 9.2,-4.8 11.5,-5.9 40.2,-17.3 80.4,-33.1 114.9,-46.1 114.9,-43.6"/>
<polygon transform="translate(336.9 350.3)" points="0,0 0,-3.4 2.3,-4.2 2.9,-4.2 5.2,-2.7 6.9,-3.4 9.2,-5.2 11.5,-6.4 40.2,-18.1 80.4,-34 114.9,-47 114.9,-43.6"/>
<polygon transform="translate(337.1 350.5)" points="0,0 0,-3.4 2.3,-4.2 2.9,-4.2 5.2,-2.7 6.3,-3.2 6.9,-3.5 9.2,-5.8 11.5,-7.1 40.2,-19 80.4,-35.1 114.9,-48 114.9,-43.6"/>
<polygon transform="translate(337.3 350.6)" points="0,0 0,-3.4 2.3,-4.2 2.9,-4.2 5.2,-2.7 6.3,-3.2 9.2,-6.4 11.5,-7.8 40.2,-19.9 80.4,-36.3 114.9,-49.2 114.9,-43.6"/>
<polygon transform="translate(337.5 350.8)" points="0,0 0,-3.4 2.3,-4.2 2.9,-4.2 5.2,-2.7 6.3,-3.2 9.2,-7.1 11.5,-8.6 40.2,-21 80.4,-37.7 114.9,-50.5 114.9,-43.6"/>
<polygon transform="translate(337.8 350.9)" points="0,0 0,-3.4 2.3,-4.2 2.9,-4.2 5.2,-2.7 5.7,-2.9 6.3,-3.3 9.2,-7.8 11.5,-9.5 40.2,-22.2 80.4,-39.2 114.9,-51.9 114.9,-43.6"/>
<polygon transform="translate(338 351.1)" points="0,0 0,-3.4 2.3,-4.2 2.9,-4.2 5.2,-2.7 5.7,-2.9 6.3,-3.5 9.2,-8.6 11.5,-10.4 40.2,-23.6 80.4,-40.9 114.9,-53.5 114.9,-43.6"/>
<polygon transform="translate(338.2 351.2)" points="0,0 0,-3.4 2.3,-4.2 2.9,-4.2 5.2,-2.7 5.7,-2.9 6.3,-3.6 9.2,-9.5 11.5,-11.5 40.2,-25 80.4,-42.7 114.9,-55.2 114.9,-43.6"/>
<polygon transform="translate(338.4 351.4)" points="0,0 0,-3.4 2.3,-4.2 2.9,-4.2 5.2,-2.7 5.7,-2.9 6.3,-3.8 9.2,-10.5 11.5,-12.6 40.2,-26.6 80.4,-44.6 114.9,-57.1 114.9,-43.6"/>
<polygon transform="translate(338.7 351.5)" points="0,0 0,-3.4 2.3,-4.2 2.9,-4.2 5.2,-2.7 6.3,-3.2 9.2,-6.6 11.5,-8 40.2,-20.3 80.4,-36.8 114.9,-49.6 114.9,-43.6"/>
<polygon transform="translate(338.9 351.7)" points="0,0 0,-3.4 2.3,-4.2 2.9,-4.2 5.2,-2.7 80.4,-32.1 114.9,-45.1 114.9,-43.6"/>
<polygon transform="translate(339.1 351.8)" points="0,0 0,-3.4 2.3,-4.2 2.9,-4.2 5.2,-2.7 40.2,-16.5 114.9,-44.9 114.9,-43.6"/>
<polygon transform="translate(339.3 352)" points="0,0 0,-3.4 2.3,-4.2 2.9,-4.2 5.2,-2.7 8,-3.8 11.5,-5.6 40.2,-17 114.9,-45.5 114.9,-43.6"/>
<polygon transform="translate(339.6 352.1)" points="0,0 0,-3.4 2.3,-4.2 2.9,-4.2 5.2,-2.7 7.5,-3.6 9.2,-4.9 11.5,-6 40.2,-17.6 80.4,-33.2 114.9,-46.2 114.9,-43.6"/>
<polygon transform="translate(339.8 352.3)" points="0,0 0,-3.4 2.3,-4.2 2.9,-4.2 5.2,-2.7 6.9,-3.4 9.2,-5.3 11.5,-6.5 40.2,-18.3 80.4,-34 114.9,-47 114.9,-43.6"/>
<polygon transform="translate(340 352.4)" points="0,0 0,-3.4 2.3,-4.2 2.9,-4.2 5.2,-2.7 6.3,-3.2 6.9,-3.5 9.2,-5.8 11.5,-7.1 40.2,-19.1 80.4,-34.9 114.9,-47.9 114.9,-43.6"/>
<polygon transform="translate(340.2 352.6)" points="0,0 0,-3.4 2.3,-4.2 2.9,-4.2 5.2,-2.7 6.3,-3.2 9.2,-6.3 11.5,-7.7 40.2,-20 80.4,-35.9 114.9,-48.9 114.9,-43.6"/>
<polygon transform="translate(340.5 352.7)" points="0,0 0,-3.4 2.3,-4.2 2.9,-4.2 5.2,-2.7 6.3,-3.2 9.2,-6.9 11.5,-8.4 40.2,-21 80.4,-37 114.9,-50 114.9,-43.6"/>
<polygon transform="translate(340.7 352.8)" points="0,0 0,-3.4 2.3,-4.2 2.9,-4.2 5.2,-2.7 5.7,-2.9 6.3,-3.2 9.2,-7.6 11.5,-9.2 40.2,-22.1 80.4,-38.3 114.9,-51.2 114.9,-43.6"/>
<polygon transform="translate(340.9 353)" points="0,0 0,-3.4 2.3,-4.2 2.9,-4.2 5.2,-2.7 5.7,-2.9 6.3,-3.4 9.2,-8.3 11.5,-10 40.2,-23.3 80.4,-39.6 114.9,-52.5 114.9,-43.6"/>
<polygon transform="translate(341.2 353.1)" points="0,0 0,-3.4 2.3,-4.2 2.9,-4.2 5.2,-2.7 5.7,-2.9 6.3,-3.5 9.2,-9.1 11.5,-10.9 40.2,-24.6 80.4,-41.1 114.9,-53.9 114.9,-43.6"/>
<polygon transform="translate(341.4 353.3)" points="0,0 0,-3.4 2.3,-4.2 2.9,-4.2 5.2,-2.7 5.7,-2.9 6.3,-3.7 9.2,-9.9 11.5,-11.9 40.2,-26 80.4,-42.6 114.9,-55.4 114.9,-43.6"/>
<polygon transform="translate(341.6 353.4)" points="0,0 0,-3.4 2.3,-4.2 2.9,-4.2 5.2,-2.7 5.7,-2.9 6.3,-3.9 9.2,-10.8 11.5,-12.9 40.2,-27.5 80.4,-44.3 114.9,-57.1 114.9,-43.6"/>
<polygon transform="translate(341.8 353.6)" points="0,0 0,-3.4 2.3,-4.2 2.9,-4.2 5.2,-2.7 6.3,-3.2 9.2,-6.7 11.5,-8.2 40.2,-20.7 80.4,-36.6 114.9,-49.6 114.9,-43.6"/>
<polygon transform="translate(342.1 353.7)" points="0,0 0,-3.4 2.3,-4.2 2.9,-4.2 5.2,-2.7 40.2,-16.6 114.9,-45.1 114.9,-43.6"/>
<polygon transform="translate(342.3 353.9)" points="0,0 0,-3.4 2.3,-4.2 2.9,-4.2 5.2,-2.7 114.9,-44.4 114.9,-43.6"/>
<polygon transform="translate(342.5 354)" points="0,0 0,-3.4 2.3,-4.2 2.9,-4.2 5.2,-2.7 114.9,-44.4 114.9,-43.6"/>
<polygon transform="translate(342.7 354.2)" points="0,0 0,-3.4 2.3,-4.2 2.9,-4.2 5.2,-2.7 9.2,-4.6 114.9,-44.7 114.9,-43.6"/>
<polygon transform="translate(343 354.3)" points="0,0 0,-3.4 2.3,-4.2 2.9,-4.2 4.6,-3.1 5.2,-3 6.9,-4.3 9.2,-5.4 114.9,-45.6 114.9,-43.6"/>
<polygon transform="translate(343.2 354.5)" points="0,0 0,-3.4 2.3,-4.2 2.9,-4.2 4.6,-3.1 6.9,-5.2 9.2,-6.5 114.9,-46.7 114.9,-43.6"/>
<polygon transform="translate(343.4 354.6)" points="0,0 0,-3.4 2.3,-4.2 2.9,-4.2 4,-3.4 4.6,-3.5 6.9,-6.4 9.2,-7.8 114.9,-48.1 114.9,-43.6"/>
<polygon transform="translate(343.6 354.8)" points="0,0 0,-3.4 2.3,-4.2 2.9,-4.2 4,-3.4 6.9,-7.7 9.2,-9.4 114.9,-49.7 114.9,-43.6"/>
<polygon transform="translate(343.9 354.9)" points="0,0 0,-3.4 2.3,-4.2 4,-3.7 6.9,-9.3 9.2,-11.2 114.9,-51.6 114.9,-43.6"/>
<polygon transform="translate(344.1 355.1)" points="0,0 0,-3.4 2.3,-4.2 2.9,-4.2 3.4,-3.8 4,-4.3 6.9,-11.1 9.2,-13.3 114.9,-53.8 114.9,-43.6"/>
<polygon transform="translate(344.3 355.2)" points="0,0 0,-3.4 2.3,-4.2 2.9,-4.2 3.4,-3.8 4,-4.9 6.3,-11.8 6.9,-13.1 9.2,-15.6 114.9,-56.1 114.9,-43.6"/>
<polygon transform="translate(344.5 355.4)" points="0,0 0,-3.4 2.3,-4.2 2.9,-4.2 3.4,-3.8 6.3,-13.8 6.9,-15.3 9.2,-18.1 114.9,-58.8 114.9,-43.6"/>
<polygon transform="translate(344.8 355.5)" points="0,0 0,-3.4 2.3,-4.2 3.4,-3.9 6.3,-16 6.9,-17.7 9.2,-20.9 114.9,-61.7 114.9,-43.6"/>
<polygon transform="translate(345 355.7)" points="0,0 0,-3.4 2.3,-4.2 4,-3.7 6.9,-9.3 9.2,-11.2 114.9,-51.6 114.9,-43.6"/>
<polygon transform="translate(345.2 355.8)" points="0,0 0,-3.4 2.3,-4.2 2.9,-4.2 4.6,-3.1 5.2,-3 6.9,-4.3 9.2,-5.4 114.9,-46.1 114.9,-43.6"/>
<polygon transform="translate(345.4 356)" points="0,0 0,-3.4 2.3,-4.2 2.9,-4.2 4.6,-3.1 5.2,-3.4 7.5,-5.8 9.8,-7.1 114.9,-48 114.9,-43.6"/>
<polygon transform="translate(345.7 356.1)" points="0,0 0,-3.4 2.3,-4.2 2.9,-4.2 4.6,-3.3 7.5,-7.5 9.8,-9.1 114.9,-50.4 114.9,-43.6"/>
<polygon transform="translate(345.9 356.3)" points="0,0 0,-3.4 2.3,-4.2 2.9,-4.2 4,-3.4 4.6,-3.9 7.5,-9.5 9.8,-11.5 114.9,-53.4 114.9,-43.6"/>
<polygon transform="translate(346.1 356.4)" points="0,0 0,-3.4 2.3,-4.2 2.9,-4.2 4,-3.4 7.5,-11.9 9.8,-14.2 114.9,-57 114.9,-43.6"/>
<polygon transform="translate(346.3 356.6)" points="0,0 0,-3.4 2.3,-4.2 2.9,-4.2 4,-3.6 6.9,-13.3 7.5,-14.7 9.8,-17.5 114.9,-61 114.9,-43.6"/>
<polygon transform="translate(346.6 356.7)" points="0,0 0,-3.4 2.3,-4.2 2.9,-4.2 4,-3.4 4.6,-3.5 7.5,-8.1 9.8,-9.8 114.9,-51.4 114.9,-43.6"/>
<polygon transform="translate(346.8 356.9)" points="0,0 0,-3.4 2.3,-4.2 2.9,-4.2 5.2,-2.7 7.5,-4.2 9.8,-5.2 114.9,-45.5 114.9,-43.6"/>
<polygon transform="translate(347 357)" points="0,0 0,-3.4 2.3,-4.2 2.9,-4.2 5.2,-2.7 114.9,-44.4 114.9,-43.6"/>
<polygon transform="translate(347.2 357.2)" points="0,0 0,-3.4 2.3,-4.2 2.9,-4.2 5.2,-2.7 114.9,-44.4 114.9,-43.6"/>
<polygon transform="translate(347.5 357.3)" points="0,0 0,-3.4 2.3,-4.2 2.9,-4.2 5.2,-2.7 114.9,-44.4 114.9,-43.6"/>
<polygon transform="translate(347.7 357.5)" points="0,0 0,-3.4 2.3,-4.2 2.9,-4.2 5.2,-2.7 114.9,-44.4 114.9,-43.6"/>
<polygon transform="translate(347.9 357.6)" points="0,0 0,-3.4 2.3,-4.2 2.9,-4.2 5.2,-2.7 114.9,-44.4 114.9,-43.6"/>
<polygon transform="translate(348.1 357.8)" points="0,0 0,-3.4 2.3,-4.2 2.9,-4.2 5.2,-2.7 114.9,-44.6 114.9,-43.6"/>
<polygon transform="translate(348.4 357.9)" points="0,0 0,-3.4 2.3,-4.2 2.9,-4.2 5.2,-2.7 80.4,-31.9 114.9,-45 114.9,-43.6"/>
<polygon transform="translate(348.6 358.1)" points="0,0 0,-3.4 2.3,-4.2 2.9,-4.2 5.2,-2.7 8.6,-4 12.1,-5.7 40.2,-16.8 80.4,-32.5 114.9,-45.5 114.9,-43.6"/>
<polygon transform="translate(348.8 358.2)" points="0,0 0,-3.4 2.3,-4.2 2.9,-4.2 5.2,-2.7 8,-3.8 9.8,-5 12.1,-6.1 40.2,-17.3 80.4,-33.1 114.9,-46.1 114.9,-43.6"/>
<polygon transform="translate(349.1 358.4)" points="0,0 0,-3.4 2.3,-4.2 2.9,-4.2 5.2,-2.7 7.5,-3.6 9.8,-5.3 12.1,-6.5 40.2,-17.9 80.4,-33.7 114.9,-46.8 114.9,-43.6"/>
<polygon transform="translate(349.3 358.5)" points="0,0 0,-3.4 2.3,-4.2 2.9,-4.2 5.2,-2.7 7.5,-3.6 9.8,-5.7 12.1,-6.9 40.2,-18.5 80.4,-34.5 114.9,-47.6 114.9,-43.6"/>
<polygon transform="translate(349.5 358.7)" points="0,0 0,-3.4 2.3,-4.2 2.9,-4.2 5.2,-2.7 6.9,-3.4 7.5,-3.7 9.8,-6.1 12.1,-7.4 40.2,-19.1 80.4,-35.3 114.9,-48.4 114.9,-43.6"/>
<polygon transform="translate(349.7 358.8)" points="0,0 0,-3.4 2.3,-4.2 2.9,-4.2 5.2,-2.7 6.9,-3.4 9.8,-6.6 12.1,-8 40.2,-19.9 80.4,-36.2 114.9,-49.3 114.9,-43.6"/>
<polygon transform="translate(350 359)" points="0,0 0,-3.4 2.3,-4.2 2.9,-4.2 5.2,-2.7 6.9,-3.4 9.8,-7.1 12.1,-8.6 40.2,-20.7 80.4,-37.2 114.9,-50.3 114.9,-43.6"/>
<polygon transform="translate(350.2 359.1)" points="0,0 0,-3.4 2.3,-4.2 2.9,-4.2 5.2,-2.7 6.3,-3.2 6.9,-3.4 9.8,-7.6 12.1,-9.2 40.2,-21.6 80.4,-38.3 114.9,-51.4 114.9,-43.6"/>
<polygon transform="translate(350.4 359.3)" points="0,0 0,-3.4 2.3,-4.2 2.9,-4.2 5.2,-2.7 6.3,-3.2 6.9,-3.6 9.8,-8.2 12.1,-9.9 40.2,-22.5 80.4,-39.4 114.9,-52.5 114.9,-43.6"/>
<polygon transform="translate(350.6 359.4)" points="0,0 0,-3.4 2.3,-4.2 2.9,-4.2 5.2,-2.7 6.3,-3.2 6.9,-3.7 9.8,-8.8 12.1,-10.6 40.2,-23.5 80.4,-40.7 114.9,-53.8 114.9,-43.6"/>
<polygon transform="translate(350.9 359.6)" points="0,0 0,-3.4 2.3,-4.2 2.9,-4.2 5.2,-2.7 6.3,-3.2 6.9,-3.8 9.8,-9.5 12.1,-11.4 40.2,-24.5 80.4,-42 114.9,-55.1 114.9,-43.6"/>
<polygon transform="translate(351.1 359.7)" points="0,0 0,-3.4 2.3,-4.2 2.9,-4.2 5.2,-2.7 6.3,-3.2 6.9,-4 9.8,-10.2 12.1,-12.2 40.2,-25.7 80.4,-43.4 114.9,-56.5 114.9,-43.6"/>
<polygon transform="translate(351.3 359.9)" points="0,0 0,-3.4 2.3,-4.2 2.9,-4.2 5.2,-2.7 6.9,-3.4 9.8,-6.6 12.1,-8 40.2,-19.9 80.4,-36.2 114.9,-49.3 114.9,-43.6"/>
<polygon transform="translate(351.5 360)" points="0,0 0,-3.4 2.3,-4.2 2.9,-4.2 5.2,-2.7 80.4,-31.9 114.9,-45 114.9,-43.6"/>
<polygon transform="translate(351.8 360.1)" points="0,0 0,-3.4 2.3,-4.2 2.9,-4.2 5.2,-2.7 114.9,-44.4 114.9,-43.6"/>
<polygon transform="translate(352 360.3)" points="0,0 0,-3.4 2.3,-4.2 2.9,-4.2 5.2,-2.7 114.9,-44.4 114.9,-43.6"/>
<polygon transform="translate(352.2 360.4)" points="0,0 0,-3.4 2.3,-4.2 2.9,-4.2 5.2,-2.7 114.9,-44.4 114.9,-43.6"/>
<polygon transform="translate(352.4 360.6)" points="0,0 0,-3.4 2.3,-4.2 2.9,-4.2 5.2,-2.7 114.9,-44.4 114.9,-43.6"/>
<polygon transform="translate(352.7 360.7)" points="0,0 0,-3.4 2.3,-4.2 2.9,-4.2 5.2,-2.7 114.9,-44.4 114.9,-43.6"/>
<polygon transform="translate(352.9 360.9)" points="0,0 0,-3.4 2.3,-4.2 2.9,-4.2 5.2,-2.7 114.9,-44.4 114.9,-43.6"/>
<polygon transform="translate(353.1 361)" points="0,0 0,-3.4 2.3,-4.2 2.9,-4.2 5.2,-2.7 114.9,-44.4 114.9,-43.6"/>
<polygon transform="translate(353.3 361.2)" points="0,0 0,-3.4 2.3,-4.2 2.9,-4.2 5.2,-2.7 114.9,-44.4 114.9,-43.6"/>
<polygon transform="translate(353.6 361.3)" points="0,0 0,-3.4 2.3,-4.2 2.9,-4.2 5.2,-2.7 114.9,-44.4 114.9,-43.6"/>
<polygon transform="translate(353.8 361.5)" points="0,0 0,-3.4 2.3,-4.2 2.9,-4.2 5.2,-2.7 81.6,-31.7 114.9,-44.6 114.9,-43.6"/>
<polygon transform="translate(354 361.6)" points="0,0 0,-3.4 2.3,-4.2 2.9,-4.2 5.2,-2.7 114.9,-45.1 114.9,-43.6"/>
<polygon transform="translate(354.2 361.8)" points="0,0 0,-3.4 2.3,-4.2 2.9,-4.2 5.2,-2.7 34.5,-14.4 114.9,-45.8 114.9,-43.6"/>
<polygon transform="translate(354.5 361.9)" points="0,0 0,-3.4 2.3,-4.2 2.9,-4.2 5.2,-2.7 8,-3.8 9.2,-4.6 11.5,-5.7 114.9,-46.6 114.9,-43.6"/>
<polygon transform="translate(354.7 362.1)" points="0,0 0,-3.4 2.3,-4.2 2.9,-4.2 5.2,-2.7 7.5,-3.6 9.2,-4.9 11.5,-6.1 34.5,-15.4 80.4,-33.5 114.9,-47.5 114.9,-43.6"/>
<polygon transform="translate(354.9 362.2)" points="0,0 0,-3.4 2.3,-4.2 2.9,-4.2 5.2,-2.7 6.9,-3.4 9.2,-5.3 11.5,-6.5 34.5,-16 80.4,-34.3 114.9,-48.6 114.9,-43.6"/>
<polygon transform="translate(355.1 362.4)" points="0,0 0,-3.4 2.3,-4.2 2.9,-4.2 5.2,-2.7 6.3,-3.2 6.9,-3.4 9.2,-5.7 11.5,-7 34.5,-16.7 80.4,-35.2 114.9,-49.7 114.9,-43.6"/>
<polygon transform="translate(355.4 362.5)" points="0,0 0,-3.4 2.3,-4.2 2.9,-4.2 5.2,-2.7 6.3,-3.2 9.2,-6.2 11.5,-7.6 34.5,-17.4 80.4,-36.2 114.9,-51 114.9,-43.6"/>
<polygon transform="translate(355.6 362.7)" points="0,0 0,-3.4 2.3,-4.2 2.9,-4.2 5.2,-2.7 6.3,-3.2 9.2,-6.7 11.5,-8.2 34.5,-18.2 80.4,-37.3 114.9,-52.4 114.9,-43.6"/>
<polygon transform="translate(355.8 362.8)" points="0,0 0,-3.4 2.3,-4.2 2.9,-4.2 5.2,-2.7 6.3,-3.2 9.2,-7.3 11.5,-8.8 34.5,-19.1 80.4,-38.5 114.9,-54 114.9,-43.6"/>
<polygon transform="translate(356 363)" points="0,0 0,-3.4 2.3,-4.2 2.9,-4.2 5.2,-2.7 5.7,-2.9 6.3,-3.3 9.2,-7.9 11.5,-9.5 34.5,-20.1 80.4,-39.8 114.9,-55.6 114.9,-43.6"/>
<polygon transform="translate(356.3 363.1)" points="0,0 0,-3.4 2.3,-4.2 2.9,-4.2 5.2,-2.7 5.7,-2.9 6.3,-3.4 9.2,-8.5 11.5,-10.3 34.5,-21.2 80.4,-41.1 114.9,-57.4 114.9,-43.6"/>
<polygon transform="translate(356.5 363.3)" points="0,0 0,-3.4 2.3,-4.2 2.9,-4.2 5.2,-2.7 5.7,-2.9 6.3,-3.6 9.2,-9.2 11.5,-11.1 34.5,-22.3 80.4,-42.6 114.9,-59.3 114.9,-43.6"/>
<polygon transform="translate(356.7 363.4)" points="0,0 0,-3.4 2.3,-4.2 2.9,-4.2 5.2,-2.7 5.7,-2.9 6.3,-3.7 9.2,-10 11.5,-12 34.5,-23.5 80.4,-44.2 114.9,-61.3 114.9,-43.6"/>
<polygon transform="translate(356.9 363.6)" points="0,0 0,-3.4 2.3,-4.2 2.9,-4.2 5.2,-2.7 5.7,-2.9 6.3,-3.9 9.2,-10.8 11.5,-12.9 34.5,-24.7 80.4,-45.8 114.9,-63.5 114.9,-43.6"/>
<polygon transform="translate(357.2 363.7)" points="0,0 0,-3.4 2.3,-4.2 2.9,-4.2 5.2,-2.7 6.3,-3.2 9.2,-6.7 11.5,-8.2 34.5,-18.2 80.4,-37.3 114.9,-52.4 114.9,-43.6"/>
<polygon transform="translate(357.4 363.9)" points="0,0 0,-3.4 2.3,-4.2 2.9,-4.2 5.2,-2.7 34.5,-14.4 114.9,-45.8 114.9,-43.6"/>
<polygon transform="translate(357.6 364)" points="0,0 0,-3.4 2.3,-4.2 2.9,-4.2 5.2,-2.7 80.4,-32.2 114.9,-45.3 114.9,-43.6"/>
<polygon transform="translate(357.9 364.2)" points="0,0 0,-3.4 2.3,-4.2 2.9,-4.2 5.2,-2.7 8.6,-4 12.1,-5.8 40.2,-16.9 80.4,-32.7 114.9,-45.9 114.9,-43.6"/>
<polygon transform="translate(358.1 364.3)" points="0,0 0,-3.4 2.3,-4.2 2.9,-4.2 5.2,-2.7 8,-3.8 9.8,-5 12.1,-6.1 40.2,-17.4 80.4,-33.2 114.9,-46.5 114.9,-43.6"/>
<polygon transform="translate(358.3 364.5)" points="0,0 0,-3.4 2.3,-4.2 2.9,-4.2 5.2,-2.7 7.5,-3.6 9.8,-5.3 12.1,-6.5 80.4,-33.9 114.9,-47.1 114.9,-43.6"/>
<polygon transform="translate(358.5 364.6)" points="0,0 0,-3.4 2.3,-4.2 2.9,-4.2 5.2,-2.7 7.5,-3.6 9.8,-5.7 12.1,-6.9 80.4,-34.6 114.9,-47.9 114.9,-43.6"/>
<polygon transform="translate(358.8 364.8)" points="0,0 0,-3.4 2.3,-4.2 2.9,-4.2 5.2,-2.7 6.9,-3.4 7.5,-3.7 9.8,-6 12.1,-7.3 80.4,-35.4 114.9,-48.7 114.9,-43.6"/>
<polygon transform="translate(359 364.9)" points="0,0 0,-3.4 2.3,-4.2 2.9,-4.2 5.2,-2.7 6.9,-3.4 9.8,-6.5 12.1,-7.8 40.2,-19.7 80.4,-36.2 114.9,-49.5 114.9,-43.6"/>
<polygon transform="translate(359.2 365.1)" points="0,0 0,-3.4 2.3,-4.2 2.9,-4.2 5.2,-2.7 6.9,-3.4 9.8,-6.9 12.1,-8.3 40.2,-20.4 80.4,-37.1 114.9,-50.5 114.9,-43.6"/>
<polygon transform="translate(359.4 365.2)" points="0,0 0,-3.4 2.3,-4.2 2.9,-4.2 5.2,-2.7 6.9,-3.4 9.8,-7.4 12.1,-8.9 40.2,-21.1 80.4,-38.1 114.9,-51.5 114.9,-43.6"/>
<polygon transform="translate(359.7 365.4)" points="0,0 0,-3.4 2.3,-4.2 2.9,-4.2 5.2,-2.7 6.3,-3.2 6.9,-3.5 9.8,-7.9 12.1,-9.5 40.2,-21.9 80.4,-39.1 114.9,-52.6 114.9,-43.6"/>
<polygon transform="translate(359.9 365.5)" points="0,0 0,-3.4 2.3,-4.2 2.9,-4.2 5.2,-2.7 6.3,-3.2 6.9,-3.6 9.8,-8.4 12.1,-10.1 40.2,-22.8 80.4,-40.2 114.9,-53.8 114.9,-43.6"/>
<polygon transform="translate(360.1 365.7)" points="0,0 0,-3.4 2.3,-4.2 2.9,-4.2 5.2,-2.7 6.3,-3.2 6.9,-3.7 9.8,-9 12.1,-10.8 40.2,-23.7 80.4,-41.4 114.9,-55 114.9,-43.6"/>
<polygon transform="translate(360.3 365.8)" points="0,0 0,-3.4 2.3,-4.2 2.9,-4.2 5.2,-2.7 6.3,-3.2 6.9,-3.8 9.8,-9.6 12.1,-11.5 40.2,-24.6 80.4,-42.7 114.9,-56.3 114.9,-43.6"/>
<polygon transform="translate(360.6 366)" points="0,0 0,-3.4 2.3,-4.2 2.9,-4.2 5.2,-2.7 6.3,-3.2 6.9,-4 9.8,-10.2 12.1,-12.2 40.2,-25.7 80.4,-44 114.9,-57.7 114.9,-43.6"/>
<polygon transform="translate(360.8 366.1)" points="0,0 0,-3.4 2.3,-4.2 2.9,-4.2 5.2,-2.7 6.9,-3.4 9.8,-6.6 12.1,-8 40.2,-19.9 80.4,-36.5 114.9,-49.9 114.9,-43.6"/>
<polygon transform="translate(361 366.3)" points="0,0 0,-3.4 2.3,-4.2 2.9,-4.2 5.2,-2.7 80.4,-32 114.9,-45.2 114.9,-43.6"/>
<polygon transform="translate(361.2 366.4)" points="0,0 0,-3.4 2.3,-4.2 2.9,-4.2 5.2,-2.7 114.9,-44.4 114.9,-43.6"/>
<polygon transform="translate(361.5 366.6)" points="0,0 0,-3.4 2.3,-4.2 2.9,-4.2 5.2,-2.7 114.9,-44.4 114.9,-43.6"/>
<polygon transform="translate(361.7 366.7)" points="0,0 0,-3.4 2.3,-4.2 2.9,-4.2 5.2,-2.7 114.9,-44.4 114.9,-43.6"/>
<polygon transform="translate(361.9 366.9)" points="0,0 0,-3.4 2.3,-4.2 2.9,-4.2 5.2,-2.7 114.9,-44.4 114.9,-43.6"/>
<polygon transform="translate(362.1 367)" points="0,0 0,-3.4 2.3,-4.2 2.9,-4.2 5.2,-2.7 114.9,-44.4 114.9,-43.6"/>
<polygon transform="translate(362.4 367.2)" points="0,0 0,-3.4 2.3,-4.2 2.9,-4.2 5.2,-2.7 114.9,-44.4 114.9,-43.6"/>
<polygon transform="translate(362.6 367.3)" points="0,0 0,-3.4 2.3,-4.2 2.9,-4.2 5.2,-2.7 114.9,-44.4 114.9,-43.6"/>
<polygon transform="translate(362.8 367.5)" points="0,0 0,-3.4 2.3,-4.2 2.9,-4.2 5.2,-2.7 114.9,-44.4 114.9,-43.6"/>
<polygon transform="translate(363 367.6)" points="0,0 0,-3.4 2.3,-4.2 2.9,-4.2 5.2,-2.7 114.9,-44.4 114.9,-43.6"/>
<polygon transform="translate(363.3 367.7)" points="0,0 0,-3.4 2.3,-4.2 2.9,-4.2 5.2,-2.7 114.9,-44.4 114.9,-43.6"/>
<polygon transform="translate(363.5 367.9)" points="0,0 0,-3.4 2.3,-4.2 2.9,-4.2 5.2,-2.7 114.9,-44.4 114.9,-43.6"/>
<polygon transform="translate(363.7 368)" points="0,0 0,-3.4 2.3,-4.2 2.9,-4.2 5.2,-2.7 114.9,-44.4 114.9,-43.6"/>
<polygon transform="translate(363.9 368.2)" points="0,0 0,-3.4 2.3,-4.2 2.9,-4.2 5.2,-2.7 52.9,-20.8 114.9,-44.7 114.9,-43.6"/>
<polygon transform="translate(364.2 368.3)" points="0,0 0,-3.4 2.3,-4.2 2.9,-4.2 5.2,-2.7 114.9,-45.2 114.9,-43.6"/>
<polygon transform="translate(364.4 368.5)" points="0,0 0,-3.4 2.3,-4.2 2.9,-4.2 5.2,-2.7 8.6,-4 12.1,-5.7 23,-10.1 25.9,-11 26.4,-11.4 31.6,-13.3 32.2,-13.7 35,-14.6 35.6,-15 38.5,-16 39.1,-16.4 48.8,-20 49.4,-20.4 52.9,-21.6 53.4,-22 56.9,-23.1 57.5,-23.5 64.9,-26.3 65.5,-26.7 69.5,-28.1 70.1,-28.5 74.1,-29.8 74.7,-30.3 83.3,-33.4 83.9,-33.8 88.5,-35.4 89,-35.9 93.6,-37.5 94.2,-37.9 98.8,-39.5 99.4,-39.9 104.6,-41.7 105.1,-42.1 114.9,-45.8 114.9,-43.6"/>
<polygon transform="translate(364.6 368.6)" points="0,0 0,-3.4 2.3,-4.2 2.9,-4.2 5.2,-2.7 8,-3.8 9.8,-5 12.1,-6.1 23,-10.5 25.9,-11.3 26.4,-11.8 31.6,-13.7 32.2,-14.1 35,-15 35.6,-15.5 38.5,-16.4 39.1,-16.8 41.9,-17.7 42.5,-18.2 48.8,-20.5 49.4,-20.9 52.9,-22 53.4,-22.5 56.9,-23.6 57.5,-24.1 64.9,-26.8 65.5,-27.2 69.5,-28.6 70.1,-29 74.1,-30.4 74.7,-30.8 78.7,-32.2 79.3,-32.6 83.3,-34 83.9,-34.5 88.5,-36 89,-36.5 93.6,-38.1 94.2,-38.5 98.8,-40.1 99.4,-40.6 104.6,-42.3 105.1,-42.8 110.3,-44.6 110.9,-45.1 114.9,-46.5 114.9,-43.6"/>
<polygon transform="translate(364.8 368.8)" points="0,0 0,-3.4 2.3,-4.2 2.9,-4.2 5.2,-2.7 7.5,-3.6 9.8,-5.4 12.1,-6.5 23,-10.9 25.9,-11.7 26.4,-12.3 28.7,-12.9 29.3,-13.4 31.6,-14.1 32.2,-14.6 35,-15.5 35.6,-16 38.5,-16.9 39.1,-17.4 41.9,-18.2 42.5,-18.7 45.4,-19.6 46,-20.1 48.8,-21 49.4,-21.5 52.9,-22.6 53.4,-23.1 56.9,-24.2 57.5,-24.7 60.9,-25.8 61.5,-26.3 64.9,-27.4 65.5,-27.9 69.5,-29.2 70.1,-29.7 74.1,-31 74.7,-31.5 78.7,-32.8 79.3,-33.3 83.3,-34.6 83.9,-35.2 88.5,-36.7 89,-37.2 93.6,-38.7 94.2,-39.3 98.8,-40.8 99.4,-41.3 104.6,-43 105.1,-43.6 110.3,-45.3 110.9,-45.8 114.9,-47.2 114.9,-43.6"/>
<polygon transform="translate(365.1 368.9)" points="0,0 0,-3.4 2.3,-4.2 2.9,-4.2 5.2,-2.7 7.5,-3.6 9.8,-5.7 12.1,-7 23,-11.4 25.9,-12.2 26.4,-12.8 28.7,-13.4 29.3,-14 31.6,-14.6 32.2,-15.2 35,-16 35.6,-16.6 38.5,-17.4 39.1,-18 41.9,-18.8 42.5,-19.4 45.4,-20.2 46,-20.7 48.8,-21.6 49.4,-22.2 52.9,-23.2 53.4,-23.7 56.9,-24.8 57.5,-25.3 60.9,-26.4 61.5,-27 64.9,-28 65.5,-28.6 69.5,-29.8 70.1,-30.4 74.1,-31.6 74.7,-32.2 78.7,-33.5 79.3,-34.1 83.3,-35.3 83.9,-35.9 88.5,-37.4 89,-38 93.6,-39.5 94.2,-40.1 98.8,-41.6 99.4,-42.2 104.6,-43.8 105.1,-44.4 110.3,-46.1 110.9,-46.7 114.9,-48.1 114.9,-43.6"/>
<polygon transform="translate(365.3 369.1)" points="0,0 0,-3.4 2.3,-4.2 2.9,-4.2 5.2,-2.7 6.9,-3.4 7.5,-3.8 9.8,-6.2 12.1,-7.5 23,-12 25.9,-12.7 26.4,-13.3 28.7,-13.9 29.3,-14.6 31.6,-15.2 32.2,-15.8 35,-16.5 35.6,-17.2 38.5,-18 39.1,-18.6 41.9,-19.4 42.5,-20 45.4,-20.8 46,-21.4 48.8,-22.2 49.4,-22.9 52.9,-23.8 53.4,-24.5 56.9,-25.4 57.5,-26.1 60.9,-27.1 61.5,-27.7 64.9,-28.7 65.5,-29.4 69.5,-30.5 70.1,-31.2 74.1,-32.4 74.7,-33.1 78.7,-34.3 79.3,-34.9 83.3,-36.1 83.9,-36.8 88.5,-38.2 89,-38.9 93.6,-40.3 94.2,-41 98.8,-42.4 99.4,-43.1 104.6,-44.7 105.1,-45.4 110.3,-47 110.9,-47.7 114.9,-49 114.9,-43.6"/>
<polygon transform="translate(365.5 369.2)" points="0,0 0,-3.4 2.3,-4.2 2.9,-4.2 5.2,-2.7 6.9,-3.4 9.8,-6.6 12.1,-8 23,-12.6 25.9,-13.3 26.4,-14 28.7,-14.5 29.3,-15.2 31.6,-15.8 32.2,-16.5 35,-17.2 35.6,-17.9 38.5,-18.6 39.1,-19.3 41.9,-20 42.5,-20.8 45.4,-21.5 46,-22.2 48.8,-22.9 49.4,-23.7 52.9,-24.5 53.4,-25.3 56.9,-26.2 57.5,-26.9 60.9,-27.8 61.5,-28.6 64.9,-29.5 65.5,-30.2 69.5,-31.3 70.1,-32.1 74.1,-33.2 74.7,-34 78.7,-35.1 79.3,-35.9 83.3,-37 83.9,-37.8 88.5,-39.1 89,-39.9 93.6,-41.2 94.2,-42 98.8,-43.3 99.4,-44.1 104.6,-45.7 105.1,-46.4 110.3,-48 110.9,-48.8 114.9,-50 114.9,-43.6"/>
<polygon transform="translate(365.8 369.4)" points="0,0 0,-3.4 2.3,-4.2 2.9,-4.2 5.2,-2.7 6.9,-3.4 9.8,-7.1 12.1,-8.6 23,-13.3 25.9,-13.8 26.4,-14.7 28.7,-15.1 29.3,-15.9 31.6,-16.4 32.2,-17.2 35,-17.8 35.6,-18.7 38.5,-19.3 39.1,-20.1 41.9,-20.7 42.5,-21.6 45.4,-22.2 46,-23 48.8,-23.7 49.4,-24.5 52.9,-25.3 53.4,-26.1 56.9,-26.9 57.5,-27.8 60.9,-28.6 61.5,-29.5 64.9,-30.3 65.5,-31.2 69.5,-32.2 70.1,-33 74.1,-34.1 74.7,-34.9 78.7,-36 79.3,-36.9 83.3,-37.9 83.9,-38.8 88.5,-40 89,-40.9 93.6,-42.2 94.2,-43.1 98.8,-44.3 99.4,-45.2 104.6,-46.7 105.1,-47.6 110.3,-49.1 110.9,-49.9 114.9,-51.1 114.9,-43.6"/>
<polygon transform="translate(366 369.5)" points="0,0 0,-3.4 2.3,-4.2 2.9,-4.2 5.2,-2.7 6.3,-3.2 6.9,-3.5 9.8,-7.7 12.1,-9.3 23,-14 25.9,-14.5 26.4,-15.4 28.7,-15.8 29.3,-16.7 31.6,-17.1 32.2,-18 35,-18.6 35.6,-19.5 38.5,-20 39.1,-21 41.9,-21.5 42.5,-22.4 45.4,-23 46,-23.9 48.8,-24.5 49.4,-25.4 52.9,-26.1 53.4,-27.1 56.9,-27.8 57.5,-28.8 60.9,-29.5 61.5,-30.5 64.9,-31.2 65.5,-32.2 69.5,-33.1 70.1,-34.1 74.1,-35 74.7,-36 78.7,-37 79.3,-37.9 83.3,-38.9 83.9,-39.9 88.5,-41.1 89,-42 93.6,-43.2 94.2,-44.2 98.8,-45.4 99.4,-46.4 104.6,-47.8 105.1,-48.8 110.3,-50.2 110.9,-51.2 114.9,-52.3 114.9,-43.6"/>
<polygon transform="translate(366.2 369.7)" points="0,0 0,-3.4 2.3,-4.2 2.9,-4.2 5.2,-2.7 6.3,-3.2 6.9,-3.6 9.8,-8.3 12.1,-10 23,-14.8 25.9,-15.2 26.4,-16.2 28.7,-16.5 29.3,-17.5 31.6,-17.9 32.2,-18.9 35,-19.3 35.6,-20.4 38.5,-20.8 39.1,-21.9 41.9,-22.3 42.5,-23.4 45.4,-23.8 46,-24.9 48.8,-25.4 49.4,-26.4 52.9,-27 53.4,-28.1 56.9,-28.7 57.5,-29.8 60.9,-30.5 61.5,-31.5 64.9,-32.2 65.5,-33.3 69.5,-34.1 70.1,-35.2 74.1,-36.1 74.7,-37.1 78.7,-38 79.3,-39.1 83.3,-40 83.9,-41.1 88.5,-42.2 89,-43.3 93.6,-44.4 94.2,-45.5 98.8,-46.6 99.4,-47.7 104.6,-49 105.1,-50.1 110.3,-51.5 110.9,-52.6 114.9,-53.6 114.9,-43.6"/>
<polygon transform="translate(366.4 369.8)" points="0,0 0,-3.4 2.3,-4.2 2.9,-4.2 5.2,-2.7 6.3,-3.2 6.9,-3.7 9.8,-8.9 12.1,-10.7 23,-15.7 25.9,-15.9 26.4,-17.1 28.7,-17.3 29.3,-18.4 31.6,-18.7 32.2,-19.8 35,-20.2 35.6,-21.3 38.5,-21.7 39.1,-22.9 41.9,-23.2 42.5,-24.4 45.4,-24.8 46,-25.9 48.8,-26.3 49.4,-27.5 52.9,-28 53.4,-29.2 56.9,-29.7 57.5,-30.9 60.9,-31.5 61.5,-32.6 64.9,-33.3 65.5,-34.4 69.5,-35.2 70.1,-36.4 74.1,-37.1 74.7,-38.3 78.7,-39.1 79.3,-40.3 83.3,-41.2 83.9,-42.4 88.5,-43.4 89,-44.6 93.6,-45.6 94.2,-46.8 98.8,-47.9 99.4,-49.1 104.6,-50.3 105.1,-51.5 110.3,-52.8 110.9,-54 114.9,-55 114.9,-43.6"/>
<polygon transform="translate(366.7 370)" points="0,0 0,-3.4 2.3,-4.2 2.9,-4.2 5.2,-2.7 6.9,-3.4 7.5,-3.7 9.8,-6 12.1,-7.3 23,-11.8 25.9,-12.5 26.4,-13.1 28.7,-13.7 29.3,-14.4 31.6,-15 32.2,-15.6 35,-16.4 35.6,-17 38.5,-17.8 39.1,-18.4 41.9,-19.2 42.5,-19.8 45.4,-20.6 46,-21.2 48.8,-22 49.4,-22.6 52.9,-23.6 53.4,-24.2 56.9,-25.2 57.5,-25.8 60.9,-26.8 61.5,-27.5 64.9,-28.5 65.5,-29.1 69.5,-30.3 70.1,-30.9 74.1,-32.1 74.7,-32.8 78.7,-34 79.3,-34.6 83.3,-35.9 83.9,-36.5 88.5,-37.9 89,-38.6 93.6,-40 94.2,-40.7 98.8,-42.1 99.4,-42.8 104.6,-44.4 105.1,-45.1 110.3,-46.7 110.9,-47.4 114.9,-48.7 114.9,-43.6"/>
<polygon transform="translate(366.9 370.1)" points="0,0 0,-3.4 2.3,-4.2 2.9,-4.2 5.2,-2.7 35,-14.1 114.9,-44.9 114.9,-43.6"/>
<polygon transform="translate(367.1 370.3)" points="0,0 0,-3.4 2.3,-4.2 2.9,-4.2 5.2,-2.7 114.9,-44.4 114.9,-43.6"/>
<polygon transform="translate(367.3 370.4)" points="0,0 0,-3.4 2.3,-4.2 2.9,-4.2 5.2,-2.7 114.9,-44.4 114.9,-43.6"/>
<polygon transform="translate(367.6 370.6)" points="0,0 0,-3.4 2.3,-4.2 2.9,-4.2 5.2,-2.7 114.9,-44.4 114.9,-43.6"/>
<polygon transform="translate(367.8 370.7)" points="0,0 0,-3.4 2.3,-4.2 2.9,-4.2 5.2,-2.7 114.9,-44.4 114.9,-43.6"/>
<polygon transform="translate(368 370.9)" points="0,0 0,-3.4 2.3,-4.2 2.9,-4.2 5.2,-2.7 114.9,-44.4 114.9,-43.6"/>
<polygon transform="translate(368.2 371)" points="0,0 0,-3.4 2.3,-4.2 2.9,-4.2 5.2,-2.7 114.9,-44.4 114.9,-43.6"/>
<polygon transform="translate(368.5 371.2)" points="0,0 0,-3.4 2.3,-4.2 2.9,-4.2 5.2,-2.7 114.9,-44.5 114.9,-43.6"/>
<polygon transform="translate(368.7 371.3)" points="0,0 0,-3.4 2.3,-4.2 2.9,-4.2 5.2,-2.7 14.9,-6.8 114.9,-45.1 114.9,-43.6"/>
<polygon transform="translate(368.9 371.5)" points="0,0 0,-3.4 2.3,-4.2 2.9,-4.2 5.2,-2.7 9.8,-5.1 14.9,-7.4 53.4,-22.1 114.9,-46 114.9,-43.6"/>
<polygon transform="translate(369.1 371.6)" points="0,0 0,-3.4 2.3,-4.2 2.9,-4.2 5.2,-2.8 9.8,-5.8 14.9,-8.1 20.1,-10 26.4,-12.6 29.3,-13.5 32.7,-15 49.4,-21.4 50,-21.7 53.4,-22.9 57.5,-24.6 60.9,-25.8 61.5,-26.2 64.9,-27.4 69.5,-29.3 73.5,-30.8 78.1,-32.7 82.2,-34.1 82.7,-34.5 86.7,-35.9 87.3,-36.3 91.3,-37.7 91.9,-38.1 96.5,-39.8 97.1,-40.1 114.9,-47 114.9,-43.6"/>
<polygon transform="translate(369.4 371.8)" points="0,0 0,-3.4 2.3,-4.2 2.9,-4.2 4.6,-3.1 5.2,-3.1 9.8,-6.5 14.9,-9 20.1,-10.8 20.7,-11.2 25.9,-13.1 26.4,-13.5 29.3,-14.4 29.9,-14.8 32.2,-15.5 32.7,-16 35.6,-16.9 36.2,-17.3 39.1,-18.2 39.6,-18.7 42.5,-19.6 43.1,-20 49.4,-22.3 50,-22.7 53.4,-23.9 54,-24.3 56.9,-25.2 57.5,-25.7 60.9,-26.8 61.5,-27.2 64.9,-28.4 65.5,-28.8 68.9,-30 69.5,-30.4 73.5,-31.8 74.1,-32.2 77.6,-33.4 78.1,-33.8 82.2,-35.2 82.7,-35.6 86.7,-37 87.3,-37.5 91.3,-38.9 91.9,-39.3 96.5,-40.9 97.1,-41.3 101.1,-42.7 101.7,-43.2 106.3,-44.8 106.9,-45.2 111.5,-46.8 112,-47.2 114.9,-48.3 114.9,-43.6"/>
<polygon transform="translate(369.6 371.9)" points="0,0 0,-3.4 2.3,-4.2 2.9,-4.2 4.6,-3.1 9.8,-7.4 14.9,-10 17.2,-10.9 20.1,-11.8 20.7,-12.2 23,-12.9 23.6,-13.4 25.9,-14.1 26.4,-14.5 29.3,-15.4 29.9,-15.9 32.2,-16.6 32.7,-17 35.6,-17.9 36.2,-18.4 39.1,-19.3 39.6,-19.8 42.5,-20.6 43.1,-21.1 46,-22 46.5,-22.5 49.4,-23.4 50,-23.9 53.4,-25 54,-25.4 56.9,-26.3 57.5,-26.8 60.9,-27.9 61.5,-28.4 64.9,-29.5 65.5,-30 68.9,-31.1 69.5,-31.6 73.5,-33 74.1,-33.5 77.6,-34.6 78.1,-35.1 82.2,-36.4 82.7,-36.9 86.7,-38.3 87.3,-38.8 91.3,-40.1 91.9,-40.6 96.5,-42.2 97.1,-42.7 101.1,-44.1 101.7,-44.6 106.3,-46.1 106.9,-46.6 111.5,-48.2 112,-48.7 114.9,-49.7 114.9,-43.6"/>
<polygon transform="translate(369.8 372.1)" points="0,0 0,-3.4 2.3,-4.2 2.9,-4.2 4.6,-3.3 9.8,-8.3 14.9,-11.2 17.2,-12.1 20.1,-12.9 20.7,-13.4 23,-14 23.6,-14.6 25.9,-15.2 26.4,-15.7 29.3,-16.5 29.9,-17.1 32.2,-17.7 32.7,-18.3 35.6,-19.1 36.2,-19.6 39.1,-20.5 39.6,-21 42.5,-21.8 43.1,-22.4 46,-23.2 46.5,-23.8 49.4,-24.6 50,-25.2 53.4,-26.2 54,-26.8 56.9,-27.6 57.5,-28.2 60.9,-29.2 61.5,-29.8 64.9,-30.8 65.5,-31.4 68.9,-32.5 69.5,-33 73.5,-34.3 74.1,-34.9 77.6,-36 78.1,-36.6 82.2,-37.8 82.7,-38.4 86.7,-39.7 87.3,-40.3 91.3,-41.6 91.9,-42.2 96.5,-43.7 97.1,-44.2 101.1,-45.6 101.7,-46.1 106.3,-47.7 106.9,-48.2 111.5,-49.8 112,-50.3 114.9,-51.3 114.9,-43.6"/>
<polygon transform="translate(370 372.2)" points="0,0 0,-3.4 2.3,-4.2 2.9,-4.2 4,-3.4 4.6,-3.6 9.8,-9.4 14.9,-12.5 17.2,-13.4 20.1,-14.1 20.7,-14.7 23,-15.3 23.6,-15.9 25.9,-16.5 26.4,-17.1 29.3,-17.8 29.9,-18.4 32.2,-19 32.7,-19.6 35.6,-20.4 36.2,-21 39.1,-21.8 39.6,-22.4 42.5,-23.2 43.1,-23.8 46,-24.6 46.5,-25.2 49.4,-26 50,-26.6 53.4,-27.6 54,-28.2 56.9,-29 57.5,-29.7 60.9,-30.6 61.5,-31.3 64.9,-32.3 65.5,-32.9 68.9,-34 69.5,-34.6 73.5,-35.8 74.1,-36.5 77.6,-37.5 78.1,-38.2 82.2,-39.4 82.7,-40.1 86.7,-41.3 87.3,-42 91.3,-43.2 91.9,-43.9 96.5,-45.3 97.1,-46 101.1,-47.2 101.7,-47.9 106.3,-49.4 106.9,-50 111.5,-51.5 112,-52.2 114.9,-53.1 114.9,-43.6"/>
<polygon transform="translate(370.3 372.4)" points="0,0 0,-3.4 2.3,-4.2 2.9,-4.2 4,-3.4 9.8,-10.6 14.9,-13.9 17.2,-14.9 20.1,-15.5 20.7,-16.2 23,-16.7 23.6,-17.4 25.9,-17.9 26.4,-18.6 29.3,-19.2 29.9,-19.9 32.2,-20.5 32.7,-21.2 35.6,-21.8 36.2,-22.6 39.1,-23.2 39.6,-24 42.5,-24.7 43.1,-25.4 46,-26.1 46.5,-26.8 49.4,-27.5 50,-28.2 53.4,-29.1 54,-29.8 56.9,-30.6 57.5,-31.3 60.9,-32.2 61.5,-32.9 64.9,-33.9 65.5,-34.6 68.9,-35.6 69.5,-36.3 73.5,-37.5 74.1,-38.2 77.6,-39.2 78.1,-40 82.2,-41.1 82.7,-41.9 86.7,-43.1 87.3,-43.8 91.3,-45 91.9,-45.8 96.5,-47.1 97.1,-47.9 101.1,-49.1 101.7,-49.9 106.3,-51.3 106.9,-52 111.5,-53.5 112,-54.2 114.9,-55.1 114.9,-43.6"/>
<polygon transform="translate(370.5 372.5)" points="0,0 0,-3.4 2.3,-4.2 2.9,-4.2 4,-3.6 9.8,-11.9 14.9,-15.5 17.2,-16.4 20.1,-16.9 20.7,-17.7 23,-18.2 23.6,-19 25.9,-19.4 26.4,-20.2 29.3,-20.8 29.9,-21.6 32.2,-22 32.7,-22.8 35.6,-23.4 36.2,-24.2 39.1,-24.8 39.6,-25.6 42.5,-26.3 43.1,-27.1 46,-27.7 46.5,-28.5 49.4,-29.2 50,-30 53.4,-30.8 54,-31.6 56.9,-32.3 57.5,-33.1 60.9,-34 61.5,-34.8 64.9,-35.6 65.5,-36.5 68.9,-37.4 69.5,-38.2 73.5,-39.3 74.1,-40.1 77.6,-41.1 78.1,-41.9 82.2,-43 82.7,-43.9 86.7,-45 87.3,-45.8 91.3,-47 91.9,-47.8 96.5,-49.1 97.1,-50 101.1,-51.2 101.7,-52 106.3,-53.4 106.9,-54.2 111.5,-55.6 112,-56.4 114.9,-57.3 114.9,-43.6"/>
<polygon transform="translate(370.7 372.7)" points="0,0 0,-3.4 2.3,-4.2 2.9,-4.2 3.4,-3.8 4,-4 9.8,-13.4 14.9,-17.2 17.2,-18.2 20.1,-18.6 20.7,-19.5 23,-19.8 23.6,-20.7 25.9,-21.1 26.4,-22 29.3,-22.4 29.9,-23.3 32.2,-23.7 32.7,-24.6 35.6,-25.1 36.2,-26.1 39.1,-26.6 39.6,-27.5 42.5,-28 43.1,-28.9 46,-29.5 46.5,-30.4 49.4,-31 50,-31.9 53.4,-32.6 54,-33.6 56.9,-34.2 57.5,-35.1 60.9,-35.8 61.5,-36.8 64.9,-37.6 65.5,-38.5 68.9,-39.3 69.5,-40.3 73.5,-41.3 74.1,-42.2 77.6,-43.1 78.1,-44 82.2,-45.1 82.7,-46 86.7,-47.1 87.3,-48 91.3,-49.1 91.9,-50.1 96.5,-51.3 97.1,-52.3 101.1,-53.4 101.7,-54.3 106.3,-55.6 106.9,-56.6 111.5,-57.9 112,-58.9 114.9,-59.7 114.9,-43.6"/>
<polygon transform="translate(370.9 372.8)" points="0,0 0,-3.4 2.3,-4.2 2.9,-4.2 3.4,-3.8 4,-4.4 9.8,-14.9 14.9,-19 17.2,-20 20.1,-20.3 20.7,-21.3 23,-21.6 23.6,-22.6 25.9,-22.9 26.4,-23.9 29.3,-24.2 29.9,-25.3 32.2,-25.6 32.7,-26.6 35.6,-27 36.2,-28 39.1,-28.5 39.6,-29.5 42.5,-29.9 43.1,-31 46,-31.4 46.5,-32.5 49.4,-33 50,-34 53.4,-34.6 54,-35.6 56.9,-36.2 57.5,-37.2 60.9,-37.9 61.5,-38.9 64.9,-39.6 65.5,-40.7 68.9,-41.4 69.5,-42.5 73.5,-43.4 74.1,-44.5 77.6,-45.3 78.1,-46.4 82.2,-47.3 82.7,-48.4 86.7,-49.3 87.3,-50.4 91.3,-51.4 91.9,-52.5 96.5,-53.7 97.1,-54.7 101.1,-55.8 101.7,-56.9 106.3,-58.1 106.9,-59.2 111.5,-60.4 112,-61.5 114.9,-62.2 114.9,-43.6"/>
<polygon transform="translate(371.2 373)" points="0,0 0,-3.4 2.3,-4.2 2.9,-4.2 3.4,-3.8 9.8,-16.6 14.9,-21 17.2,-22 20.1,-22.2 20.7,-23.3 23,-23.5 23.6,-24.6 25.9,-24.8 26.4,-25.9 29.3,-26.2 29.9,-27.3 32.2,-27.5 32.7,-28.7 35.6,-29 36.2,-30.1 39.1,-30.5 39.6,-31.6 42.5,-32 43.1,-33.1 46,-33.5 46.5,-34.7 49.4,-35.1 50,-36.2 53.4,-36.7 54,-37.9 56.9,-38.3 57.5,-39.5 60.9,-40 61.5,-41.2 64.9,-41.8 65.5,-43 68.9,-43.7 69.5,-44.9 73.5,-45.7 74.1,-46.9 77.6,-47.6 78.1,-48.8 82.2,-49.7 82.7,-50.9 86.7,-51.8 87.3,-53 91.3,-53.9 91.9,-55.1 96.5,-56.2 97.1,-57.4 101.1,-58.4 101.7,-59.6 106.3,-60.7 106.9,-61.9 111.5,-63.1 112,-64.3 114.9,-65 114.9,-43.6"/>
<polygon transform="translate(371.4 373.1)" points="0,0 0,-3.4 2.3,-4.2 3.4,-3.9 9.8,-18.3 14.9,-23.1 17.2,-24.1 20.1,-24.2 20.7,-25.4 23,-25.5 23.6,-26.8 25.9,-26.9 26.4,-28.1 29.3,-28.3 29.9,-29.5 32.2,-29.7 32.7,-30.9 35.6,-31.1 36.2,-32.4 39.1,-32.6 39.6,-33.9 42.5,-34.2 43.1,-35.4 46,-35.7 46.5,-37 49.4,-37.3 50,-38.6 53.4,-39 54,-40.3 56.9,-40.6 57.5,-41.9 60.9,-42.4 61.5,-43.7 64.9,-44.2 65.5,-45.5 68.9,-46.1 69.5,-47.4 73.5,-48.2 74.1,-49.5 77.6,-50.1 78.1,-51.5 82.2,-52.2 82.7,-53.6 86.7,-54.4 87.3,-55.7 91.3,-56.5 91.9,-57.9 96.5,-58.9 97.1,-60.2 101.1,-61.1 101.7,-62.5 106.3,-63.5 106.9,-64.8 111.5,-65.9 112,-67.3 114.9,-67.9 114.9,-43.6"/>
<polygon transform="translate(371.6 373.3)" points="0,0 0,-3.4 2.3,-4.2 2.9,-4.2 4,-3.6 9.8,-11.9 14.9,-15.5 17.2,-16.4 20.1,-16.9 20.7,-17.7 23,-18.2 23.6,-19 25.9,-19.4 26.4,-20.2 29.3,-20.8 29.9,-21.6 32.2,-22 32.7,-22.8 35.6,-23.4 36.2,-24.2 39.1,-24.8 39.6,-25.6 42.5,-26.3 43.1,-27.1 46,-27.7 46.5,-28.5 49.4,-29.2 50,-30 53.4,-30.8 54,-31.6 56.9,-32.3 57.5,-33.1 60.9,-34 61.5,-34.8 64.9,-35.6 65.5,-36.5 68.9,-37.4 69.5,-38.2 73.5,-39.3 74.1,-40.1 77.6,-41.1 78.1,-41.9 82.2,-43 82.7,-43.9 86.7,-45 87.3,-45.8 91.3,-47 91.9,-47.8 96.5,-49.1 97.1,-50 101.1,-51.2 101.7,-52 106.3,-53.4 106.9,-54.2 111.5,-55.6 112,-56.4 114.9,-57.3 114.9,-43.6"/>
<polygon transform="translate(371.8 373.4)" points="0,0 0,-3.4 2.3,-4.2 2.9,-4.2 4,-3.4 4.6,-3.9 9.8,-10.1 14.9,-13.4 17.2,-14.3 20.1,-14.8 20.7,-15.5 23,-16 23.6,-16.7 25.9,-17.1 26.4,-17.9 29.3,-18.4 29.9,-19.2 32.2,-19.7 32.7,-20.4 35.6,-21 36.2,-21.8 39.1,-22.4 39.6,-23.1 42.5,-23.7 43.1,-24.5 46,-25.1 46.5,-25.9 49.4,-26.5 50,-27.3 53.4,-28.1 54,-28.9 56.9,-29.5 57.5,-30.3 60.9,-31.1 61.5,-31.9 64.9,-32.7 65.5,-33.5 68.9,-34.3 69.5,-35.1 73.5,-36.1 74.1,-36.9 77.6,-37.8 78.1,-38.5 82.2,-39.6 82.7,-40.4 86.7,-41.4 87.3,-42.2 91.3,-43.2 91.9,-44 96.5,-45.2 97.1,-46 101.1,-47.1 101.7,-47.9 106.3,-49.2 106.9,-50 111.5,-51.2 112,-52 114.9,-52.8 114.9,-43.6"/>
<polygon transform="translate(372.1 373.6)" points="0,0 0,-3.4 2.3,-4.2 2.9,-4.2 4,-3.5 9.8,-11.2 14.9,-14.6 17.2,-15.6 20.1,-16 20.7,-16.8 23,-17.2 23.6,-18 25.9,-18.4 26.4,-19.2 29.3,-19.7 29.9,-20.5 32.2,-20.9 32.7,-21.8 35.6,-22.3 36.2,-23.1 39.1,-23.6 39.6,-24.5 42.5,-25 43.1,-25.9 46,-26.4 46.5,-27.3 49.4,-27.8 50,-28.7 53.4,-29.4 54,-30.3 56.9,-30.9 57.5,-31.7 60.9,-32.5 61.5,-33.3 64.9,-34.1 65.5,-34.9 68.9,-35.7 69.5,-36.6 73.5,-37.5 74.1,-38.4 77.6,-39.2 78.1,-40 82.2,-41 82.7,-41.9 86.7,-42.8 87.3,-43.7 91.3,-44.7 91.9,-45.6 96.5,-46.7 97.1,-47.6 101.1,-48.6 101.7,-49.5 106.3,-50.6 106.9,-51.5 111.5,-52.7 112,-53.6 114.9,-54.4 114.9,-43.6"/>
<polygon transform="translate(372.3 373.7)" points="0,0 0,-3.4 2.3,-4.2 4,-3.7 9.8,-12.2 14.9,-15.8 17.2,-16.7 20.1,-17.1 20.7,-18 23,-18.3 23.6,-19.2 25.9,-19.5 26.4,-20.4 29.3,-20.8 29.9,-21.7 32.2,-22 32.7,-23 35.6,-23.4 36.2,-24.3 39.1,-24.8 39.6,-25.7 42.5,-26.2 43.1,-27.1 46,-27.6 46.5,-28.5 49.4,-29 50,-30 53.4,-30.6 54,-31.5 56.9,-32.1 57.5,-33 60.9,-33.7 61.5,-34.6 64.9,-35.3 65.5,-36.3 68.9,-36.9 69.5,-37.9 73.5,-38.7 74.1,-39.7 77.6,-40.4 78.1,-41.4 82.2,-42.3 82.7,-43.2 86.7,-44.1 87.3,-45.1 91.3,-46 91.9,-47 96.5,-48 97.1,-49 101.1,-49.9 101.7,-50.9 106.3,-52 106.9,-53 111.5,-54.1 112,-55.1 114.9,-55.8 114.9,-43.6"/>
<polygon transform="translate(372.5 373.9)" points="0,0 0,-3.4 2.3,-4.2 2.9,-4.2 3.4,-3.8 4,-4 9.8,-13.1 14.9,-16.9 17.2,-17.8 20.1,-18.1 20.7,-19.1 23,-19.3 23.6,-20.3 25.9,-20.5 26.4,-21.5 29.3,-21.8 29.9,-22.8 32.2,-23.1 32.7,-24.1 35.6,-24.5 36.2,-25.5 39.1,-25.8 39.6,-26.9 42.5,-27.3 43.1,-28.3 46,-28.7 46.5,-29.7 49.4,-30.1 50,-31.2 53.4,-31.7 54,-32.7 56.9,-33.2 57.5,-34.2 60.9,-34.8 61.5,-35.8 64.9,-36.4 65.5,-37.5 68.9,-38.1 69.5,-39.1 73.5,-39.9 74.1,-40.9 77.6,-41.6 78.1,-42.7 82.2,-43.4 82.7,-44.5 86.7,-45.3 87.3,-46.4 91.3,-47.2 91.9,-48.3 96.5,-49.2 97.1,-50.3 101.1,-51.2 101.7,-52.2 106.3,-53.2 106.9,-54.3 111.5,-55.3 112,-56.4 114.9,-57.1 114.9,-43.6"/>
<polygon transform="translate(372.7 374)" points="0,0 0,-3.4 2.3,-4.2 2.9,-4.2 3.4,-3.8 4,-4.2 9.8,-14 14.9,-17.9 17.2,-18.9 20.1,-19 20.7,-20.1 23,-20.3 23.6,-21.3 25.9,-21.5 26.4,-22.6 29.3,-22.8 29.9,-23.9 32.2,-24.1 32.7,-25.2 35.6,-25.5 36.2,-26.5 39.1,-26.8 39.6,-27.9 42.5,-28.3 43.1,-29.4 46,-29.7 46.5,-30.8 49.4,-31.2 50,-32.3 53.4,-32.7 54,-33.8 56.9,-34.3 57.5,-35.4 60.9,-35.9 61.5,-37 64.9,-37.5 65.5,-38.6 68.9,-39.2 69.5,-40.3 73.5,-41 74.1,-42.1 77.6,-42.7 78.1,-43.8 82.2,-44.6 82.7,-45.7 86.7,-46.4 87.3,-47.6 91.3,-48.3 91.9,-49.5 96.5,-50.4 97.1,-51.5 101.1,-52.3 101.7,-53.5 106.3,-54.4 106.9,-55.6 111.5,-56.5 112,-57.7 114.9,-58.3 114.9,-43.6"/>
<polygon transform="translate(373 374.2)" points="0,0 0,-3.4 2.3,-4.2 2.9,-4.2 3.4,-3.8 4,-4.4 9.8,-14.8 14.9,-18.9 17.2,-19.8 20.1,-19.9 20.7,-21.1 23,-21.2 23.6,-22.3 25.9,-22.4 26.4,-23.6 29.3,-23.7 29.9,-24.9 32.2,-25 32.7,-26.2 35.6,-26.4 36.2,-27.5 39.1,-27.8 39.6,-28.9 42.5,-29.2 43.1,-30.4 46,-30.7 46.5,-31.8 49.4,-32.2 50,-33.3 53.4,-33.7 54,-34.9 56.9,-35.3 57.5,-36.4 60.9,-36.9 61.5,-38.1 64.9,-38.5 65.5,-39.7 68.9,-40.2 69.5,-41.4 73.5,-42 74.1,-43.2 77.6,-43.8 78.1,-45 82.2,-45.6 82.7,-46.8 86.7,-47.5 87.3,-48.7 91.3,-49.4 91.9,-50.6 96.5,-51.5 97.1,-52.7 101.1,-53.4 101.7,-54.6 106.3,-55.5 106.9,-56.7 111.5,-57.7 112,-58.9 114.9,-59.5 114.9,-43.6"/>
<polygon transform="translate(373.2 374.3)" points="0,0 0,-3.4 2.3,-4.2 2.9,-4.2 3.4,-3.8 4,-4.6 9.8,-15.6 14.9,-19.8 17.2,-20.8 20.1,-20.8 20.7,-22 23,-22 23.6,-23.2 25.9,-23.3 26.4,-24.5 29.3,-24.6 29.9,-25.8 32.2,-25.9 32.7,-27.1 35.6,-27.3 36.2,-28.5 39.1,-28.7 39.6,-29.9 42.5,-30.1 43.1,-31.4 46,-31.6 46.5,-32.8 49.4,-33.1 50,-34.3 53.4,-34.7 54,-35.9 56.9,-36.2 57.5,-37.5 60.9,-37.8 61.5,-39.1 64.9,-39.5 65.5,-40.8 68.9,-41.2 69.5,-42.5 73.5,-43 74.1,-44.3 77.6,-44.8 78.1,-46 82.2,-46.6 82.7,-47.9 86.7,-48.5 87.3,-49.8 91.3,-50.4 91.9,-51.7 96.5,-52.5 97.1,-53.8 101.1,-54.5 101.7,-55.8 106.3,-56.6 106.9,-57.9 111.5,-58.7 112,-60 114.9,-60.6 114.9,-43.6"/>
<polygon transform="translate(373.4 374.5)" points="0,0 0,-3.4 2.3,-4.2 2.9,-4.2 3.4,-3.8 4,-4.4 9.8,-14.8 14.9,-19 17.2,-19.9 20.1,-20 20.7,-21.1 23,-21.2 23.6,-22.4 25.9,-22.5 26.4,-23.6 29.3,-23.8 29.9,-24.9 32.2,-25.1 32.7,-26.2 35.6,-26.5 36.2,-27.6 39.1,-27.9 39.6,-29 42.5,-29.3 43.1,-30.4 46,-30.7 46.5,-31.9 49.4,-32.2 50,-33.4 53.4,-33.8 54,-35 56.9,-35.3 57.5,-36.5 60.9,-36.9 61.5,-38.1 64.9,-38.6 65.5,-39.8 68.9,-40.3 69.5,-41.5 73.5,-42.1 74.1,-43.3 77.6,-43.8 78.1,-45 82.2,-45.7 82.7,-46.9 86.7,-47.6 87.3,-48.8 91.3,-49.5 91.9,-50.7 96.5,-51.5 97.1,-52.7 101.1,-53.5 101.7,-54.7 106.3,-55.6 106.9,-56.8 111.5,-57.7 112,-59 114.9,-59.5 114.9,-43.6"/>
<polygon transform="translate(373.6 374.6)" points="0,0 0,-3.4 2.3,-4.2 2.9,-4.2 4,-3.5 9.8,-11.4 14.9,-14.9 17.2,-15.8 20.1,-16.2 20.7,-17.1 23,-17.4 23.6,-18.3 25.9,-18.6 26.4,-19.5 29.3,-19.9 29.9,-20.8 32.2,-21.2 32.7,-22 35.6,-22.5 36.2,-23.4 39.1,-23.9 39.6,-24.8 42.5,-25.3 43.1,-26.1 46,-26.7 46.5,-27.6 49.4,-28.1 50,-29 53.4,-29.7 54,-30.5 56.9,-31.1 57.5,-32 60.9,-32.7 61.5,-33.6 64.9,-34.3 65.5,-35.2 68.9,-36 69.5,-36.9 73.5,-37.8 74.1,-38.7 77.6,-39.4 78.1,-40.3 82.2,-41.3 82.7,-42.2 86.7,-43.1 87.3,-44 91.3,-45 91.9,-45.9 96.5,-47 97.1,-47.9 101.1,-48.9 101.7,-49.8 106.3,-50.9 106.9,-51.9 111.5,-53 112,-53.9 114.9,-54.7 114.9,-43.6"/>
<polygon transform="translate(373.9 374.8)" points="0,0 0,-3.4 2.3,-4.2 2.9,-4.2 4.6,-3.1 5.2,-3.1 9.8,-6.3 14.9,-8.8 20.1,-10.6 20.7,-11 25.9,-12.8 26.4,-13.3 29.3,-14.1 29.9,-14.6 32.2,-15.3 32.7,-15.7 35.6,-16.6 36.2,-17 39.1,-17.9 39.6,-18.4 42.5,-19.3 43.1,-19.7 49.4,-21.9 50,-22.4 53.4,-23.5 54,-23.9 56.9,-24.8 57.5,-25.3 60.9,-26.4 61.5,-26.8 64.9,-27.9 65.5,-28.4 68.9,-29.5 69.5,-30 73.5,-31.3 74.1,-31.7 77.6,-32.8 78.1,-33.3 82.2,-34.6 82.7,-35.1 86.7,-36.4 87.3,-36.8 91.3,-38.2 91.9,-38.6 96.5,-40.2 97.1,-40.6 101.1,-42 101.7,-42.4 106.3,-44 106.9,-44.4 111.5,-46 112,-46.4 114.9,-47.4 114.9,-43.6"/>
<polygon transform="translate(374.1 374.9)" points="0,0 0,0 114.9,-43.6 114.9,-43.6"/>
</g>
<line x1="305.2" y1="330.2" x2="305.2" y2="269" stroke="#777" stroke-width="0.4"/>
<line x1="306.4" y1="330.2" x2="374.1" y2="374.9" stroke="#777" stroke-width="0.4"/>
<line x1="374.1" y1="374.9" x2="489" y2="331.3" stroke="#777" stroke-width="0.4"/>
<line x1="305.2" y1="329.6" x2="304.1" y2="330.1" stroke="#777" stroke-width="0.4"/>
<line x1="305.2" y1="314.3" x2="304.1" y2="314.8" stroke="#777" stroke-width="0.4"/>
<line x1="305.2" y1="299" x2="304.1" y2="299.5" stroke="#777" stroke-width="0.4"/>
<line x1="305.2" y1="283.7" x2="304.1" y2="284.2" stroke="#777" stroke-width="0.4"/>
<line x1="305.2" y1="268.4" x2="304.1" y2="268.9" stroke="#777" stroke-width="0.4"/>
<line x1="306.4" y1="330.2" x2="305.4" y2="331.1" stroke="#777" stroke-width="0.4"/>
<line x1="329" y1="345.1" x2="328" y2="346" stroke="#777" stroke-width="0.4"/>
<line x1="351.5" y1="360" x2="350.5" y2="360.9" stroke="#777" stroke-width="0.4"/>
<line x1="374.1" y1="374.9" x2="373.1" y2="375.8" stroke="#777" stroke-width="0.4"/>
<line x1="402.8" y1="364" x2="403.8" y2="364.8" stroke="#777" stroke-width="0.4"/>
<line x1="431.6" y1="353.1" x2="432.6" y2="353.9" stroke="#777" stroke-width="0.4"/>
<line x1="460.3" y1="342.2" x2="461.3" y2="343" stroke="#777" stroke-width="0.4"/>
<line x1="489" y1="331.3" x2="490" y2="332.1" stroke="#777" stroke-width="0.4"/>
<rect x="505.8" y="225.8" width="6.3" height="149.4" fill="url(#cb)"/>
<g class="tk"><text x="301.8" y="330.8" text-anchor="end">0</text>
<text x="301.8" y="315.5" text-anchor="end">50</text>
<text x="301.8" y="300.2" text-anchor="end">100</text>
<text x="301.8" y="284.9" text-anchor="end">150</text>
<text x="301.8" y="269.6" text-anchor="end">200</text>
<text x="301.1" y="336.1" text-anchor="end">0</text>
<text x="323.7" y="351" text-anchor="end">50</text>
<text x="346.2" y="365.9" text-anchor="end">100</text>
<text x="368.8" y="380.8" text-anchor="end">150</text>
<text x="406.6" y="370.8" text-anchor="start">50</text>
<text x="435.4" y="359.9" text-anchor="start">100</text>
<text x="464.1" y="348.9" text-anchor="start">150</text>
<text x="492.8" y="338.1" text-anchor="start">200</text>
<text x="335.6" y="377.1" text-anchor="middle" font-size="4.1">Nodes</text>
<text x="422.6" y="377.1" text-anchor="middle" font-size="4.1">Time</text>
<text transform="translate(291.9 303) rotate(-90)" text-anchor="middle" font-size="4.1">Number of passengers</text>
<text x="513.3" y="376.7">0</text>
<text x="513.3" y="326.9">50</text>
<text x="513.3" y="277.1">100</text>
<text x="513.3" y="227.3">150</text></g>
<g clip-path="url(#frame)">
<text class="cap" y="204.8" font-size="10.1"><tspan x="147.0">Original</tspan> <tspan x="184.79999999999998">off-peak</tspan> <tspan x="222.7">passenger</tspan> <tspan x="266.59999999999997">collection</tspan> <tspan x="309.5">and</tspan> <tspan x="328.09999999999997">distribution</tspan> <tspan x="379.59999999999997">simulations</tspan></text>
<text class="cap" y="407.4" font-size="10.1"><tspan x="151.6">Simulations</tspan> <tspan x="203.79999999999998">results</tspan> <tspan x="233.39999999999998">after</tspan> <tspan x="255.2">increasing</tspan> <tspan x="298.9">the</tspan> <tspan x="314.5">capacity</tspan> <tspan x="353.9">of</tspan> <tspan x="368.8">#15</tspan> <tspan x="387.0">node</tspan></text>
</g>
<rect x="6.5" y="7.5" width="538" height="401" fill="none" stroke="#bdbdbd" stroke-width="1"/>
</svg>
</body></html>
